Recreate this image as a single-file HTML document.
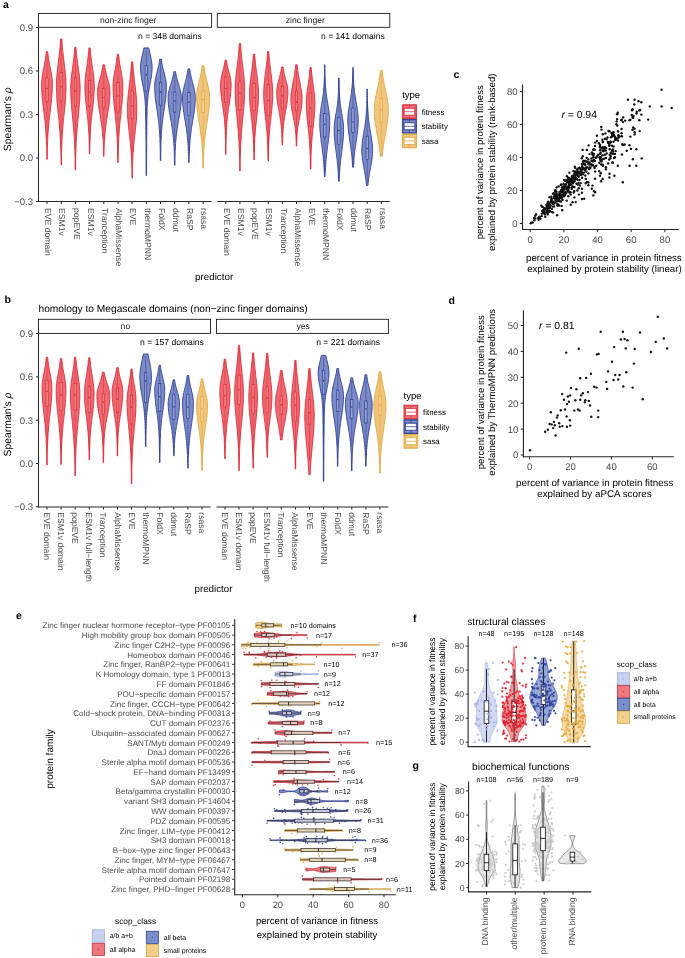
<!DOCTYPE html>
<html><head><meta charset="utf-8"><title>figure</title>
<style>html,body{margin:0;padding:0;background:#fff;}svg{display:block;}text{font-family:'Liberation Sans', Arial, sans-serif;text-rendering:geometricPrecision;}</style>
</head><body>
<svg width="685" height="958" viewBox="0 0 685 958">
<rect x="0" y="0" width="685" height="958" fill="#ffffff"/>
<text x="3" y="7.9" font-size="10.5" fill="#000" font-weight="bold">a</text>
<rect x="38.5" y="13.4" width="173.1" height="13.9" fill="#ffffff" stroke="#1a1a1a" stroke-width="0.9"/>
<text x="128.2" y="22.8" font-size="8.6" fill="#1a1a1a" text-anchor="middle">non-zinc finger</text>
<text x="201.8" y="38.7" font-size="8.6" fill="#000" text-anchor="end">n = 348 domains</text>
<path d="M47.7,51.6 L47.9,53.4 L48.1,55.2 L48.3,57 L48.6,58.8 L48.9,60.6 L49.2,62.4 L49.5,64.2 L49.9,66 L50.2,67.8 L50.6,69.6 L50.9,71.3 L51.3,73.1 L51.6,74.9 L51.8,76.7 L52.1,78.5 L52.2,80.3 L52.4,82.1 L52.4,83.9 L52.4,85.7 L52.4,87.5 L52.3,89.3 L52.2,91.1 L52.1,92.9 L52,94.7 L51.9,96.5 L51.7,98.3 L51.5,100.1 L51.4,101.9 L51.1,103.7 L50.9,105.5 L50.7,107.2 L50.5,109 L50.3,110.8 L50.1,112.6 L49.9,114.4 L49.6,116.2 L49.4,118 L49.2,119.8 L49,121.6 L48.9,123.4 L48.7,125.2 L48.5,127 L48.4,128.8 L48.3,130.6 L48.1,132.4 L48,134.2 L47.9,136 L47.8,137.8 L47.7,139.6 L47.6,141.4 L47.6,143.1 L47.5,144.9 L47.4,146.7 L47.4,148.5 L47.4,150.3 L47.3,152.1 L47.3,153.9 L47.3,155.7 L47.3,157.5 L47.3,159.3 L46.8,159.3 L46.8,157.5 L46.8,155.7 L46.7,153.9 L46.7,152.1 L46.7,150.3 L46.6,148.5 L46.6,146.7 L46.5,144.9 L46.5,143.1 L46.4,141.4 L46.3,139.6 L46.2,137.8 L46.1,136 L46,134.2 L45.9,132.4 L45.8,130.6 L45.6,128.8 L45.5,127 L45.3,125.2 L45.2,123.4 L45,121.6 L44.8,119.8 L44.6,118 L44.4,116.2 L44.2,114.4 L44,112.6 L43.7,110.8 L43.5,109 L43.3,107.2 L43.1,105.5 L42.9,103.7 L42.7,101.9 L42.5,100.1 L42.3,98.3 L42.1,96.5 L42,94.7 L41.9,92.9 L41.8,91.1 L41.7,89.3 L41.6,87.5 L41.6,85.7 L41.6,83.9 L41.7,82.1 L41.8,80.3 L42,78.5 L42.2,76.7 L42.5,74.9 L42.8,73.1 L43.1,71.3 L43.4,69.6 L43.8,67.8 L44.2,66 L44.5,64.2 L44.8,62.4 L45.1,60.6 L45.4,58.8 L45.7,57 L45.9,55.2 L46.1,53.4 L46.3,51.6Z" fill="#ee6a72" stroke="#dc2430" stroke-width="0.85" stroke-linejoin="round"/>
<line x1="47" y1="53.6" x2="47" y2="77.9" stroke="#dc2430" stroke-width="0.5"/>
<line x1="47" y1="101.4" x2="47" y2="136.7" stroke="#dc2430" stroke-width="0.5"/>
<rect x="45.8" y="77.9" width="2.4" height="23.5" fill="#f07f86" stroke="#dc2430" stroke-width="0.6"/>
<circle cx="47" cy="88.6" r="0.75" fill="#dc2430"/>
<line x1="47" y1="201.5" x2="47" y2="204" stroke="#262626" stroke-width="1"/>
<text x="45.2" y="208.1" font-size="8.6" fill="#4d4d4d" transform="rotate(90 45.2 208.1)">EVE domain</text>
<path d="M61.9,39 L62,41.1 L62.1,43.2 L62.3,45.3 L62.4,47.4 L62.6,49.5 L62.8,51.6 L63.1,53.7 L63.3,55.8 L63.5,57.9 L63.8,60 L64,62.1 L64.3,64.2 L64.5,66.3 L64.8,68.4 L65,70.5 L65.3,72.6 L65.4,74.7 L65.6,76.8 L65.8,78.9 L65.9,81 L66,83.1 L66,85.2 L66,87.3 L66,89.4 L65.9,91.5 L65.8,93.6 L65.7,95.7 L65.6,97.8 L65.5,99.9 L65.3,102 L65.1,104 L64.9,106.1 L64.7,108.2 L64.5,110.3 L64.3,112.4 L64.1,114.5 L63.8,116.6 L63.6,118.7 L63.4,120.8 L63.2,122.9 L63,125 L62.9,127.1 L62.7,129.2 L62.5,131.3 L62.4,133.4 L62.3,135.5 L62.1,137.6 L62,139.7 L61.9,141.8 L61.8,143.9 L61.8,146 L61.7,148.1 L61.6,150.2 L61.6,152.3 L61.5,154.4 L61.5,156.5 L61.5,158.6 L61.5,160.7 L61.5,162.8 L61.5,164.9 L61,164.9 L61,162.8 L61,160.7 L61,158.6 L60.9,156.5 L60.9,154.4 L60.8,152.3 L60.8,150.2 L60.7,148.1 L60.6,146 L60.6,143.9 L60.5,141.8 L60.4,139.7 L60.3,137.6 L60.1,135.5 L60,133.4 L59.9,131.3 L59.7,129.2 L59.5,127.1 L59.4,125 L59.2,122.9 L59,120.8 L58.8,118.7 L58.6,116.6 L58.3,114.5 L58.1,112.4 L57.9,110.3 L57.7,108.2 L57.5,106.1 L57.3,104 L57.1,102 L56.9,99.9 L56.8,97.8 L56.7,95.7 L56.6,93.6 L56.5,91.5 L56.4,89.4 L56.4,87.3 L56.4,85.2 L56.4,83.1 L56.5,81 L56.6,78.9 L56.8,76.8 L57,74.7 L57.2,72.6 L57.4,70.5 L57.6,68.4 L57.9,66.3 L58.1,64.2 L58.4,62.1 L58.6,60 L58.9,57.9 L59.1,55.8 L59.3,53.7 L59.6,51.6 L59.8,49.5 L60,47.4 L60.1,45.3 L60.3,43.2 L60.4,41.1 L60.6,39Z" fill="#ee6a72" stroke="#dc2430" stroke-width="0.85" stroke-linejoin="round"/>
<line x1="61.2" y1="41" x2="61.2" y2="72.3" stroke="#dc2430" stroke-width="0.5"/>
<line x1="61.2" y1="101" x2="61.2" y2="144.1" stroke="#dc2430" stroke-width="0.5"/>
<rect x="60" y="72.3" width="2.4" height="28.7" fill="#f07f86" stroke="#dc2430" stroke-width="0.6"/>
<circle cx="61.2" cy="86.7" r="0.75" fill="#dc2430"/>
<line x1="61.2" y1="201.5" x2="61.2" y2="204" stroke="#262626" stroke-width="1"/>
<text x="59.4" y="208.1" font-size="8.6" fill="#4d4d4d" transform="rotate(90 59.4 208.1)">ESM1v</text>
<path d="M76,47.3 L76.2,49.3 L76.3,51.4 L76.5,53.4 L76.7,55.5 L76.9,57.5 L77.2,59.6 L77.4,61.6 L77.7,63.7 L78,65.7 L78.2,67.8 L78.5,69.8 L78.8,71.8 L79.1,73.9 L79.3,75.9 L79.5,78 L79.7,80 L79.9,82.1 L80,84.1 L80.1,86.2 L80.1,88.2 L80.1,90.2 L80,92.3 L80,94.3 L79.9,96.4 L79.8,98.4 L79.7,100.5 L79.5,102.5 L79.4,104.6 L79.2,106.6 L79,108.7 L78.8,110.7 L78.7,112.7 L78.5,114.8 L78.3,116.8 L78.1,118.9 L77.9,120.9 L77.7,123 L77.5,125 L77.3,127.1 L77.1,129.1 L77,131.1 L76.8,133.2 L76.7,135.2 L76.5,137.3 L76.4,139.3 L76.3,141.4 L76.2,143.4 L76.1,145.5 L76,147.5 L76,149.6 L75.9,151.6 L75.8,153.6 L75.8,155.7 L75.7,157.7 L75.7,159.8 L75.7,161.8 L75.6,163.9 L75.6,165.9 L75.6,168 L75.6,170 L75.1,170 L75.1,168 L75.1,165.9 L75.1,163.9 L75.1,161.8 L75.1,159.8 L75,157.7 L75,155.7 L74.9,153.6 L74.9,151.6 L74.8,149.6 L74.7,147.5 L74.7,145.5 L74.6,143.4 L74.5,141.4 L74.4,139.3 L74.2,137.3 L74.1,135.2 L74,133.2 L73.8,131.1 L73.6,129.1 L73.5,127.1 L73.3,125 L73.1,123 L72.9,120.9 L72.7,118.9 L72.5,116.8 L72.3,114.8 L72.1,112.7 L71.9,110.7 L71.7,108.7 L71.6,106.6 L71.4,104.6 L71.2,102.5 L71.1,100.5 L71,98.4 L70.9,96.4 L70.8,94.3 L70.7,92.3 L70.7,90.2 L70.7,88.2 L70.7,86.2 L70.8,84.1 L70.9,82.1 L71.1,80 L71.2,78 L71.5,75.9 L71.7,73.9 L72,71.8 L72.3,69.8 L72.5,67.8 L72.8,65.7 L73.1,63.7 L73.4,61.6 L73.6,59.6 L73.9,57.5 L74.1,55.5 L74.3,53.4 L74.5,51.4 L74.6,49.3 L74.8,47.3Z" fill="#ee6a72" stroke="#dc2430" stroke-width="0.85" stroke-linejoin="round"/>
<line x1="75.4" y1="49.3" x2="75.4" y2="77.9" stroke="#dc2430" stroke-width="0.5"/>
<line x1="75.4" y1="106.1" x2="75.4" y2="148.4" stroke="#dc2430" stroke-width="0.5"/>
<rect x="74.2" y="77.9" width="2.4" height="28.2" fill="#f07f86" stroke="#dc2430" stroke-width="0.6"/>
<circle cx="75.4" cy="91" r="0.75" fill="#dc2430"/>
<line x1="75.4" y1="201.5" x2="75.4" y2="204" stroke="#262626" stroke-width="1"/>
<text x="73.6" y="208.1" font-size="8.6" fill="#4d4d4d" transform="rotate(90 73.6 208.1)">popEVE</text>
<path d="M90.2,47.9 L90.3,49.7 L90.5,51.4 L90.6,53.2 L90.8,55 L91,56.7 L91.2,58.5 L91.5,60.3 L91.7,62 L91.9,63.8 L92.2,65.6 L92.5,67.4 L92.7,69.1 L93,70.9 L93.2,72.7 L93.5,74.4 L93.7,76.2 L93.8,78 L94,79.7 L94.1,81.5 L94.2,83.3 L94.3,85 L94.3,86.8 L94.3,88.6 L94.2,90.3 L94.1,92.1 L94,93.9 L93.9,95.6 L93.8,97.4 L93.6,99.2 L93.5,100.9 L93.3,102.7 L93.1,104.5 L92.9,106.3 L92.7,108 L92.5,109.8 L92.3,111.6 L92.1,113.3 L91.9,115.1 L91.7,116.9 L91.5,118.6 L91.3,120.4 L91.1,122.2 L91,123.9 L90.8,125.7 L90.7,127.5 L90.6,129.2 L90.5,131 L90.4,132.8 L90.3,134.5 L90.2,136.3 L90.1,138.1 L90,139.9 L90,141.6 L89.9,143.4 L89.9,145.2 L89.9,146.9 L89.8,148.7 L89.8,150.5 L89.8,152.2 L89.8,154 L89.3,154 L89.3,152.2 L89.3,150.5 L89.3,148.7 L89.3,146.9 L89.3,145.2 L89.2,143.4 L89.2,141.6 L89.1,139.9 L89,138.1 L89,136.3 L88.9,134.5 L88.8,132.8 L88.7,131 L88.6,129.2 L88.5,127.5 L88.3,125.7 L88.2,123.9 L88,122.2 L87.9,120.4 L87.7,118.6 L87.5,116.9 L87.3,115.1 L87.1,113.3 L86.9,111.6 L86.7,109.8 L86.5,108 L86.3,106.3 L86.1,104.5 L85.9,102.7 L85.7,100.9 L85.5,99.2 L85.4,97.4 L85.2,95.6 L85.1,93.9 L85,92.1 L84.9,90.3 L84.9,88.6 L84.9,86.8 L84.9,85 L84.9,83.3 L85,81.5 L85.2,79.7 L85.3,78 L85.5,76.2 L85.7,74.4 L85.9,72.7 L86.2,70.9 L86.4,69.1 L86.7,67.4 L87,65.6 L87.2,63.8 L87.5,62 L87.7,60.3 L87.9,58.5 L88.1,56.7 L88.3,55 L88.5,53.2 L88.7,51.4 L88.8,49.7 L88.9,47.9Z" fill="#ee6a72" stroke="#dc2430" stroke-width="0.85" stroke-linejoin="round"/>
<line x1="89.6" y1="49.9" x2="89.6" y2="80.4" stroke="#dc2430" stroke-width="0.5"/>
<line x1="89.6" y1="106.1" x2="89.6" y2="144.6" stroke="#dc2430" stroke-width="0.5"/>
<rect x="88.4" y="80.4" width="2.4" height="25.7" fill="#f07f86" stroke="#dc2430" stroke-width="0.6"/>
<circle cx="89.6" cy="92" r="0.75" fill="#dc2430"/>
<line x1="89.6" y1="201.5" x2="89.6" y2="204" stroke="#262626" stroke-width="1"/>
<text x="87.8" y="208.1" font-size="8.6" fill="#4d4d4d" transform="rotate(90 87.8 208.1)">ESM1v</text>
<path d="M104.6,64.8 L104.8,66.3 L105,67.8 L105.3,69.4 L105.6,70.9 L106,72.4 L106.3,74 L106.7,75.5 L107.1,77 L107.6,78.5 L108,80 L108.4,81.6 L108.8,83.1 L109.1,84.6 L109.4,86.2 L109.7,87.7 L109.8,89.2 L109.9,90.7 L110,92.2 L109.9,93.8 L109.9,95.3 L109.8,96.8 L109.7,98.3 L109.6,99.9 L109.4,101.4 L109.3,102.9 L109.1,104.5 L108.9,106 L108.7,107.5 L108.4,109 L108.2,110.6 L107.9,112.1 L107.7,113.6 L107.4,115.1 L107.2,116.7 L107,118.2 L106.7,119.7 L106.5,121.2 L106.3,122.8 L106.1,124.3 L105.9,125.8 L105.7,127.3 L105.5,128.9 L105.3,130.4 L105.2,131.9 L105,133.4 L104.9,135 L104.8,136.5 L104.7,138 L104.6,139.5 L104.5,141.1 L104.4,142.6 L104.3,144.1 L104.3,145.6 L104.2,147.2 L104.2,148.7 L104.1,150.2 L104.1,151.7 L104,153.2 L104,154.8 L104,156.3 L103.5,156.3 L103.5,154.8 L103.5,153.2 L103.5,151.7 L103.4,150.2 L103.4,148.7 L103.3,147.2 L103.3,145.6 L103.2,144.1 L103.1,142.6 L103.1,141.1 L103,139.5 L102.9,138 L102.8,136.5 L102.6,135 L102.5,133.4 L102.4,131.9 L102.2,130.4 L102.1,128.9 L101.9,127.3 L101.7,125.8 L101.5,124.3 L101.3,122.8 L101,121.2 L100.8,119.7 L100.6,118.2 L100.3,116.7 L100.1,115.1 L99.8,113.6 L99.6,112.1 L99.3,110.6 L99.1,109 L98.9,107.5 L98.7,106 L98.4,104.5 L98.3,102.9 L98.1,101.4 L97.9,99.9 L97.8,98.3 L97.7,96.8 L97.6,95.3 L97.6,93.8 L97.6,92.2 L97.6,90.7 L97.7,89.2 L97.9,87.7 L98.1,86.2 L98.4,84.6 L98.8,83.1 L99.1,81.6 L99.6,80 L100,78.5 L100.4,77 L100.8,75.5 L101.2,74 L101.6,72.4 L101.9,70.9 L102.2,69.4 L102.5,67.8 L102.7,66.3 L102.9,64.8Z" fill="#ee6a72" stroke="#dc2430" stroke-width="0.85" stroke-linejoin="round"/>
<line x1="103.8" y1="66.8" x2="103.8" y2="88.2" stroke="#dc2430" stroke-width="0.5"/>
<line x1="103.8" y1="108" x2="103.8" y2="137.7" stroke="#dc2430" stroke-width="0.5"/>
<rect x="102.6" y="88.2" width="2.4" height="19.8" fill="#f07f86" stroke="#dc2430" stroke-width="0.6"/>
<circle cx="103.8" cy="97.6" r="0.75" fill="#dc2430"/>
<line x1="103.8" y1="201.5" x2="103.8" y2="204" stroke="#262626" stroke-width="1"/>
<text x="102" y="208.1" font-size="8.6" fill="#4d4d4d" transform="rotate(90 102 208.1)">Tranception</text>
<path d="M118.6,54.4 L118.8,56.2 L119,58 L119.2,59.8 L119.4,61.6 L119.7,63.4 L120,65.2 L120.3,67 L120.6,68.8 L121,70.6 L121.3,72.4 L121.6,74.2 L121.9,76 L122.2,77.8 L122.4,79.6 L122.6,81.4 L122.8,83.2 L122.8,85 L122.9,86.8 L122.8,88.6 L122.8,90.4 L122.7,92.2 L122.7,94 L122.6,95.8 L122.4,97.6 L122.3,99.4 L122.2,101.2 L122,103 L121.8,104.8 L121.6,106.6 L121.4,108.4 L121.2,110.3 L121.1,112.1 L120.9,113.9 L120.7,115.7 L120.5,117.5 L120.3,119.3 L120.1,121.1 L119.9,122.9 L119.8,124.7 L119.6,126.5 L119.4,128.3 L119.3,130.1 L119.2,131.9 L119.1,133.7 L118.9,135.5 L118.8,137.3 L118.7,139.1 L118.7,140.9 L118.6,142.7 L118.5,144.5 L118.5,146.3 L118.4,148.1 L118.3,149.9 L118.3,151.7 L118.3,153.5 L118.2,155.3 L118.2,157.1 L118.2,158.9 L118.2,160.7 L118.2,162.5 L117.7,162.5 L117.7,160.7 L117.7,158.9 L117.7,157.1 L117.7,155.3 L117.6,153.5 L117.6,151.7 L117.6,149.9 L117.5,148.1 L117.5,146.3 L117.4,144.5 L117.3,142.7 L117.2,140.9 L117.2,139.1 L117.1,137.3 L117,135.5 L116.9,133.7 L116.7,131.9 L116.6,130.1 L116.5,128.3 L116.3,126.5 L116.2,124.7 L116,122.9 L115.8,121.1 L115.6,119.3 L115.4,117.5 L115.3,115.7 L115.1,113.9 L114.9,112.1 L114.7,110.3 L114.5,108.4 L114.3,106.6 L114.1,104.8 L113.9,103 L113.8,101.2 L113.6,99.4 L113.5,97.6 L113.4,95.8 L113.3,94 L113.2,92.2 L113.1,90.4 L113.1,88.6 L113.1,86.8 L113.1,85 L113.2,83.2 L113.3,81.4 L113.5,79.6 L113.7,77.8 L114,76 L114.3,74.2 L114.6,72.4 L114.9,70.6 L115.3,68.8 L115.6,67 L115.9,65.2 L116.2,63.4 L116.5,61.6 L116.7,59.8 L116.9,58 L117.1,56.2 L117.3,54.4Z" fill="#ee6a72" stroke="#dc2430" stroke-width="0.85" stroke-linejoin="round"/>
<line x1="118" y1="56.4" x2="118" y2="82.6" stroke="#dc2430" stroke-width="0.5"/>
<line x1="118" y1="112" x2="118" y2="156.1" stroke="#dc2430" stroke-width="0.5"/>
<rect x="116.8" y="82.6" width="2.4" height="29.4" fill="#f07f86" stroke="#dc2430" stroke-width="0.6"/>
<circle cx="118" cy="96.1" r="0.75" fill="#dc2430"/>
<line x1="118" y1="201.5" x2="118" y2="204" stroke="#262626" stroke-width="1"/>
<text x="116.2" y="208.1" font-size="8.6" fill="#4d4d4d" transform="rotate(90 116.2 208.1)">AlphaMissense</text>
<path d="M132.8,61.9 L132.9,63.8 L133,65.8 L133.2,67.7 L133.3,69.6 L133.5,71.6 L133.7,73.5 L133.9,75.5 L134.1,77.4 L134.3,79.3 L134.5,81.3 L134.7,83.2 L135,85.1 L135.2,87.1 L135.4,89 L135.7,90.9 L135.9,92.9 L136.1,94.8 L136.3,96.8 L136.4,98.7 L136.6,100.6 L136.7,102.6 L136.8,104.5 L136.8,106.4 L136.8,108.4 L136.8,110.3 L136.8,112.3 L136.7,114.2 L136.6,116.1 L136.5,118.1 L136.4,120 L136.2,121.9 L136,123.9 L135.8,125.8 L135.6,127.7 L135.4,129.7 L135.2,131.6 L135,133.6 L134.7,135.5 L134.5,137.4 L134.3,139.4 L134.1,141.3 L133.9,143.2 L133.7,145.2 L133.6,147.1 L133.4,149 L133.3,151 L133.1,152.9 L133,154.9 L132.9,156.8 L132.8,158.7 L132.7,160.7 L132.6,162.6 L132.6,164.5 L132.5,166.5 L132.5,168.4 L132.4,170.4 L132.4,172.3 L132.4,174.2 L132.4,176.2 L132.4,178.1 L131.9,178.1 L131.9,176.2 L131.9,174.2 L131.9,172.3 L131.9,170.4 L131.8,168.4 L131.8,166.5 L131.7,164.5 L131.6,162.6 L131.6,160.7 L131.5,158.7 L131.4,156.8 L131.3,154.9 L131.2,152.9 L131,151 L130.9,149 L130.7,147.1 L130.6,145.2 L130.4,143.2 L130.2,141.3 L130,139.4 L129.8,137.4 L129.5,135.5 L129.3,133.6 L129.1,131.6 L128.9,129.7 L128.7,127.7 L128.5,125.8 L128.3,123.9 L128.1,121.9 L127.9,120 L127.8,118.1 L127.6,116.1 L127.6,114.2 L127.5,112.3 L127.5,110.3 L127.4,108.4 L127.5,106.4 L127.5,104.5 L127.6,102.6 L127.7,100.6 L127.9,98.7 L128,96.8 L128.2,94.8 L128.4,92.9 L128.6,90.9 L128.9,89 L129.1,87.1 L129.3,85.1 L129.6,83.2 L129.8,81.3 L130,79.3 L130.2,77.4 L130.4,75.5 L130.6,73.5 L130.8,71.6 L131,69.6 L131.1,67.7 L131.3,65.8 L131.4,63.8 L131.5,61.9Z" fill="#ee6a72" stroke="#dc2430" stroke-width="0.85" stroke-linejoin="round"/>
<line x1="132.1" y1="63.9" x2="132.1" y2="91" stroke="#dc2430" stroke-width="0.5"/>
<line x1="132.1" y1="118.3" x2="132.1" y2="159.2" stroke="#dc2430" stroke-width="0.5"/>
<rect x="130.9" y="91" width="2.4" height="27.3" fill="#f07f86" stroke="#dc2430" stroke-width="0.6"/>
<circle cx="132.1" cy="105.7" r="0.75" fill="#dc2430"/>
<line x1="132.1" y1="201.5" x2="132.1" y2="204" stroke="#262626" stroke-width="1"/>
<text x="130.3" y="208.1" font-size="8.6" fill="#4d4d4d" transform="rotate(90 130.3 208.1)">EVE</text>
<path d="M148.7,47.9 L149.2,50 L149.7,52.2 L150.2,54.3 L150.7,56.4 L151.1,58.5 L151.5,60.7 L151.8,62.8 L152,64.9 L152.1,67.1 L152.1,69.2 L152,71.3 L151.8,73.4 L151.5,75.6 L151.2,77.7 L150.8,79.8 L150.4,82 L150,84.1 L149.6,86.2 L149.2,88.3 L148.9,90.5 L148.5,92.6 L148.2,94.7 L148,96.9 L147.8,99 L147.6,101.1 L147.4,103.2 L147.3,105.4 L147.2,107.5 L147.1,109.6 L147.1,111.8 L147,113.9 L147,116 L146.9,118.1 L146.9,120.3 L146.9,122.4 L146.9,124.5 L146.8,126.6 L146.8,128.8 L146.8,130.9 L146.8,133 L146.8,135.2 L146.7,137.3 L146.7,139.4 L146.7,141.5 L146.7,143.7 L146.7,145.8 L146.7,147.9 L146.6,150.1 L146.6,152.2 L146.6,154.3 L146.6,156.4 L146.6,158.6 L146.6,160.7 L146.6,162.8 L146.6,165 L146.6,167.1 L146.6,169.2 L146.6,171.3 L146.6,173.5 L146.6,175.6 L146.1,175.6 L146.1,173.5 L146.1,171.3 L146.1,169.2 L146.1,167.1 L146.1,165 L146.1,162.8 L146.1,160.7 L146.1,158.6 L146.1,156.4 L146.1,154.3 L146,152.2 L146,150.1 L146,147.9 L146,145.8 L146,143.7 L146,141.5 L145.9,139.4 L145.9,137.3 L145.9,135.2 L145.9,133 L145.9,130.9 L145.8,128.8 L145.8,126.6 L145.8,124.5 L145.8,122.4 L145.7,120.3 L145.7,118.1 L145.7,116 L145.6,113.9 L145.6,111.8 L145.5,109.6 L145.5,107.5 L145.4,105.4 L145.2,103.2 L145.1,101.1 L144.9,99 L144.7,96.9 L144.4,94.7 L144.1,92.6 L143.8,90.5 L143.4,88.3 L143.1,86.2 L142.6,84.1 L142.2,82 L141.8,79.8 L141.5,77.7 L141.1,75.6 L140.9,73.4 L140.7,71.3 L140.6,69.2 L140.5,67.1 L140.6,64.9 L140.8,62.8 L141.1,60.7 L141.5,58.5 L142,56.4 L142.5,54.3 L143,52.2 L143.5,50 L143.9,47.9Z" fill="#7b8bc8" stroke="#28378c" stroke-width="0.85" stroke-linejoin="round"/>
<line x1="146.3" y1="49.9" x2="146.3" y2="65.7" stroke="#28378c" stroke-width="0.5"/>
<line x1="146.3" y1="91" x2="146.3" y2="128.9" stroke="#28378c" stroke-width="0.5"/>
<rect x="145.1" y="65.7" width="2.4" height="25.3" fill="#93a1d3" stroke="#28378c" stroke-width="0.6"/>
<circle cx="146.3" cy="74.7" r="0.75" fill="#28378c"/>
<line x1="146.3" y1="201.5" x2="146.3" y2="204" stroke="#262626" stroke-width="1"/>
<text x="144.5" y="208.1" font-size="8.6" fill="#4d4d4d" transform="rotate(90 144.5 208.1)">thermoMPNN</text>
<path d="M161.3,59.1 L161.5,60.8 L161.8,62.5 L162.1,64.2 L162.4,65.9 L162.8,67.6 L163.2,69.2 L163.6,70.9 L164.1,72.6 L164.5,74.3 L164.9,76 L165.3,77.7 L165.7,79.4 L166,81.1 L166.2,82.8 L166.4,84.5 L166.4,86.2 L166.4,87.9 L166.4,89.5 L166.3,91.2 L166.2,92.9 L166.1,94.6 L165.9,96.3 L165.7,98 L165.5,99.7 L165.3,101.4 L165.1,103.1 L164.8,104.8 L164.6,106.5 L164.3,108.2 L164.1,109.8 L163.8,111.5 L163.6,113.2 L163.3,114.9 L163.1,116.6 L162.9,118.3 L162.7,120 L162.5,121.7 L162.3,123.4 L162.1,125.1 L161.9,126.8 L161.8,128.5 L161.7,130.2 L161.5,131.8 L161.4,133.5 L161.3,135.2 L161.3,136.9 L161.2,138.6 L161.1,140.3 L161,142 L161,143.7 L160.9,145.4 L160.9,147.1 L160.9,148.8 L160.8,150.4 L160.8,152.1 L160.8,153.8 L160.8,155.5 L160.8,157.2 L160.8,158.9 L160.8,160.6 L160.3,160.6 L160.3,158.9 L160.3,157.2 L160.3,155.5 L160.3,153.8 L160.3,152.1 L160.2,150.4 L160.2,148.8 L160.2,147.1 L160.1,145.4 L160.1,143.7 L160,142 L159.9,140.3 L159.9,138.6 L159.8,136.9 L159.7,135.2 L159.6,133.5 L159.5,131.8 L159.4,130.2 L159.2,128.5 L159.1,126.8 L158.9,125.1 L158.8,123.4 L158.6,121.7 L158.4,120 L158.2,118.3 L157.9,116.6 L157.7,114.9 L157.5,113.2 L157.2,111.5 L157,109.8 L156.7,108.2 L156.5,106.5 L156.2,104.8 L156,103.1 L155.7,101.4 L155.5,99.7 L155.3,98 L155.1,96.3 L155,94.6 L154.9,92.9 L154.7,91.2 L154.7,89.5 L154.6,87.9 L154.6,86.2 L154.7,84.5 L154.8,82.8 L155.1,81.1 L155.3,79.4 L155.7,77.7 L156.1,76 L156.5,74.3 L157,72.6 L157.4,70.9 L157.8,69.2 L158.2,67.6 L158.6,65.9 L159,64.2 L159.3,62.5 L159.5,60.8 L159.7,59.1Z" fill="#7b8bc8" stroke="#28378c" stroke-width="0.85" stroke-linejoin="round"/>
<line x1="160.5" y1="61.1" x2="160.5" y2="82.2" stroke="#28378c" stroke-width="0.5"/>
<line x1="160.5" y1="105.2" x2="160.5" y2="139.7" stroke="#28378c" stroke-width="0.5"/>
<rect x="159.3" y="82.2" width="2.4" height="23" fill="#93a1d3" stroke="#28378c" stroke-width="0.6"/>
<circle cx="160.5" cy="92" r="0.75" fill="#28378c"/>
<line x1="160.5" y1="201.5" x2="160.5" y2="204" stroke="#262626" stroke-width="1"/>
<text x="158.7" y="208.1" font-size="8.6" fill="#4d4d4d" transform="rotate(90 158.7 208.1)">FoldX</text>
<path d="M175.6,71.7 L175.8,73.3 L176.1,74.8 L176.4,76.4 L176.8,77.9 L177.2,79.5 L177.6,81.1 L178.1,82.6 L178.6,84.2 L179,85.7 L179.5,87.3 L180,88.9 L180.4,90.4 L180.7,92 L181,93.5 L181.2,95.1 L181.3,96.7 L181.3,98.2 L181.3,99.8 L181.2,101.3 L181.1,102.9 L181,104.5 L180.8,106 L180.7,107.6 L180.5,109.1 L180.2,110.7 L180,112.3 L179.7,113.8 L179.5,115.4 L179.2,116.9 L178.9,118.5 L178.6,120.1 L178.4,121.6 L178.1,123.2 L177.8,124.7 L177.6,126.3 L177.3,127.9 L177.1,129.4 L176.9,131 L176.7,132.5 L176.5,134.1 L176.3,135.7 L176.1,137.2 L176,138.8 L175.9,140.3 L175.7,141.9 L175.6,143.5 L175.5,145 L175.4,146.6 L175.4,148.1 L175.3,149.7 L175.2,151.3 L175.2,152.8 L175.1,154.4 L175.1,155.9 L175,157.5 L175,159.1 L175,160.6 L175,162.2 L175,163.7 L175,165.3 L174.5,165.3 L174.5,163.7 L174.5,162.2 L174.4,160.6 L174.4,159.1 L174.4,157.5 L174.3,155.9 L174.3,154.4 L174.3,152.8 L174.2,151.3 L174.1,149.7 L174.1,148.1 L174,146.6 L173.9,145 L173.8,143.5 L173.7,141.9 L173.6,140.3 L173.4,138.8 L173.3,137.2 L173.1,135.7 L172.9,134.1 L172.7,132.5 L172.5,131 L172.3,129.4 L172.1,127.9 L171.8,126.3 L171.6,124.7 L171.3,123.2 L171.1,121.6 L170.8,120.1 L170.5,118.5 L170.2,116.9 L170,115.4 L169.7,113.8 L169.4,112.3 L169.2,110.7 L169,109.1 L168.8,107.6 L168.6,106 L168.4,104.5 L168.3,102.9 L168.2,101.3 L168.1,99.8 L168.1,98.2 L168.1,96.7 L168.2,95.1 L168.4,93.5 L168.7,92 L169.1,90.4 L169.5,88.9 L169.9,87.3 L170.4,85.7 L170.9,84.2 L171.3,82.6 L171.8,81.1 L172.2,79.5 L172.6,77.9 L173,76.4 L173.3,74.8 L173.6,73.3 L173.8,71.7Z" fill="#7b8bc8" stroke="#28378c" stroke-width="0.85" stroke-linejoin="round"/>
<line x1="174.7" y1="73.7" x2="174.7" y2="92" stroke="#28378c" stroke-width="0.5"/>
<line x1="174.7" y1="112.1" x2="174.7" y2="142.2" stroke="#28378c" stroke-width="0.5"/>
<rect x="173.5" y="92" width="2.4" height="20.1" fill="#93a1d3" stroke="#28378c" stroke-width="0.6"/>
<circle cx="174.7" cy="101" r="0.75" fill="#28378c"/>
<line x1="174.7" y1="201.5" x2="174.7" y2="204" stroke="#262626" stroke-width="1"/>
<text x="172.9" y="208.1" font-size="8.6" fill="#4d4d4d" transform="rotate(90 172.9 208.1)">ddmut</text>
<path d="M189.8,68.9 L190,70.5 L190.2,72 L190.5,73.6 L190.8,75.1 L191.1,76.7 L191.5,78.3 L191.9,79.8 L192.3,81.4 L192.7,82.9 L193.1,84.5 L193.5,86.1 L193.9,87.6 L194.3,89.2 L194.6,90.7 L194.9,92.3 L195.1,93.9 L195.2,95.4 L195.3,97 L195.3,98.5 L195.3,100.1 L195.2,101.7 L195.1,103.2 L195,104.8 L194.8,106.3 L194.7,107.9 L194.5,109.5 L194.3,111 L194.1,112.6 L193.8,114.1 L193.6,115.7 L193.3,117.3 L193.1,118.8 L192.8,120.4 L192.5,121.9 L192.3,123.5 L192,125.1 L191.8,126.6 L191.5,128.2 L191.3,129.7 L191.1,131.3 L190.9,132.9 L190.7,134.4 L190.5,136 L190.4,137.5 L190.2,139.1 L190.1,140.7 L190,142.2 L189.8,143.8 L189.7,145.3 L189.6,146.9 L189.6,148.5 L189.5,150 L189.4,151.6 L189.4,153.1 L189.3,154.7 L189.3,156.3 L189.2,157.8 L189.2,159.4 L189.1,160.9 L189.1,162.5 L188.6,162.5 L188.6,160.9 L188.6,159.4 L188.6,157.8 L188.5,156.3 L188.5,154.7 L188.4,153.1 L188.4,151.6 L188.3,150 L188.2,148.5 L188.2,146.9 L188.1,145.3 L188,143.8 L187.8,142.2 L187.7,140.7 L187.6,139.1 L187.4,137.5 L187.3,136 L187.1,134.4 L186.9,132.9 L186.7,131.3 L186.5,129.7 L186.3,128.2 L186,126.6 L185.8,125.1 L185.5,123.5 L185.3,121.9 L185,120.4 L184.7,118.8 L184.5,117.3 L184.2,115.7 L184,114.1 L183.7,112.6 L183.5,111 L183.3,109.5 L183.1,107.9 L183,106.3 L182.8,104.8 L182.7,103.2 L182.6,101.7 L182.5,100.1 L182.5,98.5 L182.5,97 L182.6,95.4 L182.7,93.9 L182.9,92.3 L183.2,90.7 L183.5,89.2 L183.9,87.6 L184.3,86.1 L184.7,84.5 L185.1,82.9 L185.5,81.4 L185.9,79.8 L186.3,78.3 L186.7,76.7 L187,75.1 L187.3,73.6 L187.6,72 L187.8,70.5 L188,68.9Z" fill="#7b8bc8" stroke="#28378c" stroke-width="0.85" stroke-linejoin="round"/>
<line x1="188.9" y1="70.9" x2="188.9" y2="92.6" stroke="#28378c" stroke-width="0.5"/>
<line x1="188.9" y1="115.5" x2="188.9" y2="149.9" stroke="#28378c" stroke-width="0.5"/>
<rect x="187.7" y="92.6" width="2.4" height="22.9" fill="#93a1d3" stroke="#28378c" stroke-width="0.6"/>
<circle cx="188.9" cy="102.3" r="0.75" fill="#28378c"/>
<line x1="188.9" y1="201.5" x2="188.9" y2="204" stroke="#262626" stroke-width="1"/>
<text x="187.1" y="208.1" font-size="8.6" fill="#4d4d4d" transform="rotate(90 187.1 208.1)">RaSP</text>
<path d="M204,65.7 L204.2,67.4 L204.4,69.1 L204.7,70.8 L205,72.5 L205.3,74.2 L205.7,75.9 L206.1,77.6 L206.5,79.4 L206.9,81.1 L207.3,82.8 L207.7,84.5 L208.1,86.2 L208.5,87.9 L208.8,89.6 L209.1,91.3 L209.3,93 L209.5,94.7 L209.6,96.4 L209.6,98.1 L209.6,99.8 L209.5,101.5 L209.4,103.2 L209.3,105 L209.2,106.7 L209,108.4 L208.8,110.1 L208.6,111.8 L208.4,113.5 L208.1,115.2 L207.9,116.9 L207.6,118.6 L207.4,120.3 L207.1,122 L206.8,123.7 L206.6,125.4 L206.3,127.1 L206.1,128.8 L205.8,130.6 L205.6,132.3 L205.4,134 L205.1,135.7 L205,137.4 L204.8,139.1 L204.6,140.8 L204.4,142.5 L204.3,144.2 L204.2,145.9 L204.1,147.6 L203.9,149.3 L203.8,151 L203.8,152.7 L203.7,154.4 L203.6,156.2 L203.6,157.9 L203.5,159.6 L203.5,161.3 L203.4,163 L203.4,164.7 L203.3,166.4 L203.3,168.1 L202.8,168.1 L202.8,166.4 L202.8,164.7 L202.8,163 L202.7,161.3 L202.7,159.6 L202.6,157.9 L202.6,156.2 L202.5,154.4 L202.4,152.7 L202.3,151 L202.2,149.3 L202.1,147.6 L202,145.9 L201.9,144.2 L201.7,142.5 L201.6,140.8 L201.4,139.1 L201.2,137.4 L201,135.7 L200.8,134 L200.6,132.3 L200.4,130.6 L200.1,128.8 L199.9,127.1 L199.6,125.4 L199.3,123.7 L199.1,122 L198.8,120.3 L198.6,118.6 L198.3,116.9 L198,115.2 L197.8,113.5 L197.6,111.8 L197.4,110.1 L197.2,108.4 L197,106.7 L196.9,105 L196.8,103.2 L196.7,101.5 L196.6,99.8 L196.6,98.1 L196.6,96.4 L196.7,94.7 L196.9,93 L197.1,91.3 L197.4,89.6 L197.7,87.9 L198.1,86.2 L198.5,84.5 L198.9,82.8 L199.3,81.1 L199.7,79.4 L200.1,77.6 L200.5,75.9 L200.9,74.2 L201.2,72.5 L201.5,70.8 L201.8,69.1 L202,67.4 L202.2,65.7Z" fill="#f1c57c" stroke="#dea43c" stroke-width="0.85" stroke-linejoin="round"/>
<line x1="203.1" y1="67.7" x2="203.1" y2="91" stroke="#dea43c" stroke-width="0.5"/>
<line x1="203.1" y1="112.7" x2="203.1" y2="145.2" stroke="#dea43c" stroke-width="0.5"/>
<rect x="201.9" y="91" width="2.4" height="21.7" fill="#f4d394" stroke="#dea43c" stroke-width="0.6"/>
<circle cx="203.1" cy="99.5" r="0.75" fill="#dea43c"/>
<line x1="203.1" y1="201.5" x2="203.1" y2="204" stroke="#262626" stroke-width="1"/>
<text x="201.3" y="208.1" font-size="8.6" fill="#4d4d4d" transform="rotate(90 201.3 208.1)">rsasa</text>
<line x1="38.5" y1="201.5" x2="211.6" y2="201.5" stroke="#262626" stroke-width="1"/>
<rect x="217.3" y="13.4" width="172.5" height="13.9" fill="#ffffff" stroke="#1a1a1a" stroke-width="0.9"/>
<text x="305.3" y="22.8" font-size="8.6" fill="#1a1a1a" text-anchor="middle">zinc finger</text>
<text x="384.8" y="38.7" font-size="8.6" fill="#000" text-anchor="end">n = 141 domains</text>
<path d="M226.5,60.1 L226.7,61.7 L226.9,63.2 L227.2,64.8 L227.5,66.4 L227.9,68 L228.3,69.5 L228.7,71.1 L229.1,72.7 L229.5,74.2 L229.9,75.8 L230.3,77.4 L230.6,79 L230.8,80.5 L231,82.1 L231.1,83.7 L231.1,85.2 L231.1,86.8 L231,88.4 L230.9,90 L230.8,91.5 L230.6,93.1 L230.5,94.7 L230.3,96.2 L230.1,97.8 L229.9,99.4 L229.7,101 L229.4,102.5 L229.2,104.1 L229,105.7 L228.7,107.2 L228.5,108.8 L228.3,110.4 L228.1,112 L227.9,113.5 L227.7,115.1 L227.5,116.7 L227.3,118.3 L227.2,119.8 L227,121.4 L226.9,123 L226.8,124.5 L226.7,126.1 L226.6,127.7 L226.5,129.3 L226.4,130.8 L226.3,132.4 L226.3,134 L226.2,135.5 L226.2,137.1 L226.1,138.7 L226.1,140.3 L226.1,141.8 L226.1,143.4 L226,145 L226,146.5 L226,148.1 L226,149.7 L226,151.3 L226,152.8 L226,154.4 L225.5,154.4 L225.5,152.8 L225.5,151.3 L225.5,149.7 L225.5,148.1 L225.5,146.5 L225.5,145 L225.5,143.4 L225.5,141.8 L225.5,140.3 L225.4,138.7 L225.4,137.1 L225.3,135.5 L225.3,134 L225.2,132.4 L225.2,130.8 L225.1,129.3 L225,127.7 L224.9,126.1 L224.8,124.5 L224.7,123 L224.5,121.4 L224.4,119.8 L224.3,118.3 L224.1,116.7 L223.9,115.1 L223.7,113.5 L223.5,112 L223.3,110.4 L223.1,108.8 L222.8,107.2 L222.6,105.7 L222.4,104.1 L222.1,102.5 L221.9,101 L221.7,99.4 L221.5,97.8 L221.3,96.2 L221.1,94.7 L220.9,93.1 L220.8,91.5 L220.7,90 L220.6,88.4 L220.5,86.8 L220.5,85.2 L220.5,83.7 L220.6,82.1 L220.8,80.5 L221,79 L221.3,77.4 L221.7,75.8 L222.1,74.2 L222.5,72.7 L222.9,71.1 L223.3,69.5 L223.7,68 L224,66.4 L224.3,64.8 L224.6,63.2 L224.9,61.7 L225.1,60.1Z" fill="#ee6a72" stroke="#dc2430" stroke-width="0.85" stroke-linejoin="round"/>
<line x1="225.8" y1="62.1" x2="225.8" y2="77" stroke="#dc2430" stroke-width="0.5"/>
<line x1="225.8" y1="102.3" x2="225.8" y2="140.2" stroke="#dc2430" stroke-width="0.5"/>
<rect x="224.6" y="77" width="2.4" height="25.3" fill="#f07f86" stroke="#dc2430" stroke-width="0.6"/>
<circle cx="225.8" cy="88.6" r="0.75" fill="#dc2430"/>
<line x1="225.8" y1="201.5" x2="225.8" y2="204" stroke="#262626" stroke-width="1"/>
<text x="224" y="208.1" font-size="8.6" fill="#4d4d4d" transform="rotate(90 224 208.1)">EVE domain</text>
<path d="M240.6,43.5 L240.7,45.6 L240.8,47.8 L241,49.9 L241.2,52 L241.3,54.1 L241.6,56.2 L241.8,58.4 L242,60.5 L242.3,62.6 L242.5,64.8 L242.8,66.9 L243,69 L243.3,71.1 L243.5,73.2 L243.8,75.4 L244,77.5 L244.2,79.6 L244.3,81.8 L244.5,83.9 L244.6,86 L244.6,88.1 L244.6,90.2 L244.6,92.4 L244.6,94.5 L244.5,96.6 L244.4,98.8 L244.3,100.9 L244.2,103 L244,105.1 L243.8,107.2 L243.7,109.4 L243.5,111.5 L243.3,113.6 L243.1,115.8 L242.8,117.9 L242.6,120 L242.4,122.1 L242.2,124.2 L242,126.4 L241.8,128.5 L241.7,130.6 L241.5,132.8 L241.3,134.9 L241.2,137 L241.1,139.1 L240.9,141.2 L240.8,143.4 L240.7,145.5 L240.6,147.6 L240.5,149.8 L240.5,151.9 L240.4,154 L240.3,156.1 L240.3,158.2 L240.2,160.4 L240.2,162.5 L240.2,164.6 L240.2,166.8 L240.2,168.9 L240.2,171 L239.7,171 L239.7,168.9 L239.7,166.8 L239.7,164.6 L239.6,162.5 L239.6,160.4 L239.6,158.2 L239.5,156.1 L239.5,154 L239.4,151.9 L239.3,149.8 L239.2,147.6 L239.1,145.5 L239,143.4 L238.9,141.2 L238.8,139.1 L238.7,137 L238.5,134.9 L238.4,132.8 L238.2,130.6 L238,128.5 L237.8,126.4 L237.6,124.2 L237.4,122.1 L237.2,120 L237,117.9 L236.8,115.8 L236.6,113.6 L236.4,111.5 L236.2,109.4 L236,107.2 L235.8,105.1 L235.7,103 L235.6,100.9 L235.4,98.8 L235.3,96.6 L235.3,94.5 L235.2,92.4 L235.2,90.2 L235.2,88.1 L235.3,86 L235.4,83.9 L235.5,81.8 L235.7,79.6 L235.9,77.5 L236.1,75.4 L236.3,73.2 L236.5,71.1 L236.8,69 L237.1,66.9 L237.3,64.8 L237.6,62.6 L237.8,60.5 L238.1,58.4 L238.3,56.2 L238.5,54.1 L238.7,52 L238.9,49.9 L239,47.8 L239.2,45.6 L239.3,43.5Z" fill="#ee6a72" stroke="#dc2430" stroke-width="0.85" stroke-linejoin="round"/>
<line x1="239.9" y1="45.5" x2="239.9" y2="81.7" stroke="#dc2430" stroke-width="0.5"/>
<line x1="239.9" y1="109.9" x2="239.9" y2="152.2" stroke="#dc2430" stroke-width="0.5"/>
<rect x="238.7" y="81.7" width="2.4" height="28.2" fill="#f07f86" stroke="#dc2430" stroke-width="0.6"/>
<circle cx="239.9" cy="93.3" r="0.75" fill="#dc2430"/>
<line x1="239.9" y1="201.5" x2="239.9" y2="204" stroke="#262626" stroke-width="1"/>
<text x="238.1" y="208.1" font-size="8.6" fill="#4d4d4d" transform="rotate(90 238.1 208.1)">ESM1v</text>
<path d="M254.7,54 L254.8,55.8 L254.9,57.5 L255.1,59.3 L255.2,61 L255.4,62.8 L255.6,64.6 L255.8,66.3 L256,68.1 L256.2,69.8 L256.5,71.6 L256.7,73.4 L257,75.1 L257.2,76.9 L257.4,78.6 L257.6,80.4 L257.8,82.2 L258,83.9 L258.2,85.7 L258.3,87.4 L258.4,89.2 L258.5,91 L258.6,92.7 L258.6,94.5 L258.5,96.2 L258.5,98 L258.4,99.8 L258.3,101.5 L258.2,103.3 L258.1,105 L257.9,106.8 L257.7,108.6 L257.6,110.3 L257.4,112.1 L257.2,113.8 L257,115.6 L256.8,117.4 L256.6,119.1 L256.4,120.9 L256.2,122.6 L256,124.4 L255.8,126.2 L255.6,127.9 L255.5,129.7 L255.3,131.4 L255.2,133.2 L255.1,135 L254.9,136.7 L254.8,138.5 L254.7,140.2 L254.7,142 L254.6,143.8 L254.5,145.5 L254.5,147.3 L254.4,149 L254.4,150.8 L254.3,152.6 L254.3,154.3 L254.3,156.1 L254.3,157.8 L254.3,159.6 L253.8,159.6 L253.8,157.8 L253.8,156.1 L253.8,154.3 L253.8,152.6 L253.8,150.8 L253.7,149 L253.7,147.3 L253.6,145.5 L253.5,143.8 L253.5,142 L253.4,140.2 L253.3,138.5 L253.2,136.7 L253.1,135 L252.9,133.2 L252.8,131.4 L252.7,129.7 L252.5,127.9 L252.3,126.2 L252.2,124.4 L252,122.6 L251.8,120.9 L251.6,119.1 L251.4,117.4 L251.2,115.6 L251,113.8 L250.8,112.1 L250.6,110.3 L250.4,108.6 L250.2,106.8 L250.1,105 L249.9,103.3 L249.8,101.5 L249.7,99.8 L249.6,98 L249.6,96.2 L249.6,94.5 L249.6,92.7 L249.6,91 L249.7,89.2 L249.8,87.4 L249.9,85.7 L250.1,83.9 L250.3,82.2 L250.5,80.4 L250.7,78.6 L250.9,76.9 L251.2,75.1 L251.4,73.4 L251.7,71.6 L251.9,69.8 L252.1,68.1 L252.3,66.3 L252.5,64.6 L252.7,62.8 L252.9,61 L253.1,59.3 L253.2,57.5 L253.3,55.8 L253.5,54Z" fill="#ee6a72" stroke="#dc2430" stroke-width="0.85" stroke-linejoin="round"/>
<line x1="254.1" y1="56" x2="254.1" y2="83.6" stroke="#dc2430" stroke-width="0.5"/>
<line x1="254.1" y1="110.8" x2="254.1" y2="151.6" stroke="#dc2430" stroke-width="0.5"/>
<rect x="252.9" y="83.6" width="2.4" height="27.2" fill="#f07f86" stroke="#dc2430" stroke-width="0.6"/>
<circle cx="254.1" cy="97.6" r="0.75" fill="#dc2430"/>
<line x1="254.1" y1="201.5" x2="254.1" y2="204" stroke="#262626" stroke-width="1"/>
<text x="252.3" y="208.1" font-size="8.6" fill="#4d4d4d" transform="rotate(90 252.3 208.1)">popEVE</text>
<path d="M268.8,51.6 L268.9,53.4 L269,55.2 L269.2,57.1 L269.3,58.9 L269.5,60.7 L269.7,62.5 L269.9,64.4 L270.1,66.2 L270.3,68 L270.6,69.8 L270.8,71.7 L271,73.5 L271.3,75.3 L271.5,77.1 L271.7,79 L271.9,80.8 L272.1,82.6 L272.3,84.4 L272.4,86.2 L272.5,88.1 L272.6,89.9 L272.7,91.7 L272.7,93.5 L272.7,95.4 L272.7,97.2 L272.6,99 L272.5,100.8 L272.4,102.7 L272.3,104.5 L272.1,106.3 L271.9,108.1 L271.8,109.9 L271.6,111.8 L271.4,113.6 L271.2,115.4 L271,117.2 L270.8,119.1 L270.6,120.9 L270.4,122.7 L270.2,124.5 L270,126.4 L269.8,128.2 L269.6,130 L269.5,131.8 L269.3,133.7 L269.2,135.5 L269.1,137.3 L269,139.1 L268.9,140.9 L268.8,142.8 L268.7,144.6 L268.7,146.4 L268.6,148.2 L268.6,150.1 L268.5,151.9 L268.5,153.7 L268.5,155.5 L268.5,157.4 L268.5,159.2 L268.5,161 L268,161 L268,159.2 L268,157.4 L268,155.5 L267.9,153.7 L267.9,151.9 L267.8,150.1 L267.8,148.2 L267.7,146.4 L267.7,144.6 L267.6,142.8 L267.5,140.9 L267.4,139.1 L267.3,137.3 L267.2,135.5 L267.1,133.7 L266.9,131.8 L266.8,130 L266.6,128.2 L266.4,126.4 L266.2,124.5 L266,122.7 L265.9,120.9 L265.6,119.1 L265.4,117.2 L265.2,115.4 L265,113.6 L264.8,111.8 L264.6,109.9 L264.5,108.1 L264.3,106.3 L264.1,104.5 L264,102.7 L263.9,100.8 L263.8,99 L263.7,97.2 L263.7,95.4 L263.7,93.5 L263.7,91.7 L263.8,89.9 L263.9,88.1 L264,86.2 L264.1,84.4 L264.3,82.6 L264.5,80.8 L264.7,79 L264.9,77.1 L265.1,75.3 L265.4,73.5 L265.6,71.7 L265.8,69.8 L266.1,68 L266.3,66.2 L266.5,64.4 L266.7,62.5 L266.9,60.7 L267.1,58.9 L267.2,57.1 L267.4,55.2 L267.5,53.4 L267.6,51.6Z" fill="#ee6a72" stroke="#dc2430" stroke-width="0.85" stroke-linejoin="round"/>
<line x1="268.2" y1="53.6" x2="268.2" y2="84.5" stroke="#dc2430" stroke-width="0.5"/>
<line x1="268.2" y1="115.5" x2="268.2" y2="159" stroke="#dc2430" stroke-width="0.5"/>
<rect x="267" y="84.5" width="2.4" height="31" fill="#f07f86" stroke="#dc2430" stroke-width="0.6"/>
<circle cx="268.2" cy="100.5" r="0.75" fill="#dc2430"/>
<line x1="268.2" y1="201.5" x2="268.2" y2="204" stroke="#262626" stroke-width="1"/>
<text x="266.4" y="208.1" font-size="8.6" fill="#4d4d4d" transform="rotate(90 266.4 208.1)">ESM1v</text>
<path d="M283.1,67 L283.3,68.3 L283.5,69.6 L283.7,70.9 L283.9,72.2 L284.2,73.5 L284.5,74.8 L284.8,76.1 L285.2,77.4 L285.5,78.7 L285.9,80 L286.2,81.3 L286.6,82.6 L286.9,83.9 L287.2,85.2 L287.4,86.5 L287.6,87.8 L287.8,89.1 L287.9,90.4 L287.9,91.7 L287.9,93 L287.9,94.3 L287.8,95.6 L287.7,96.9 L287.6,98.2 L287.5,99.5 L287.3,100.8 L287.2,102.1 L287,103.4 L286.8,104.7 L286.6,106 L286.3,107.3 L286.1,108.6 L285.9,109.9 L285.6,111.2 L285.4,112.5 L285.2,113.8 L285,115.1 L284.7,116.4 L284.5,117.7 L284.3,119 L284.2,120.3 L284,121.6 L283.8,122.9 L283.7,124.2 L283.5,125.5 L283.4,126.8 L283.3,128.1 L283.2,129.4 L283.1,130.7 L283,132 L282.9,133.3 L282.9,134.6 L282.8,135.9 L282.7,137.2 L282.7,138.5 L282.7,139.8 L282.6,141.1 L282.6,142.4 L282.6,143.7 L282.6,145 L282.1,145 L282.1,143.7 L282.1,142.4 L282.1,141.1 L282,139.8 L282,138.5 L281.9,137.2 L281.9,135.9 L281.8,134.6 L281.8,133.3 L281.7,132 L281.6,130.7 L281.5,129.4 L281.4,128.1 L281.3,126.8 L281.1,125.5 L281,124.2 L280.9,122.9 L280.7,121.6 L280.5,120.3 L280.3,119 L280.1,117.7 L279.9,116.4 L279.7,115.1 L279.5,113.8 L279.3,112.5 L279,111.2 L278.8,109.9 L278.6,108.6 L278.3,107.3 L278.1,106 L277.9,104.7 L277.7,103.4 L277.5,102.1 L277.3,100.8 L277.2,99.5 L277,98.2 L276.9,96.9 L276.8,95.6 L276.8,94.3 L276.7,93 L276.7,91.7 L276.8,90.4 L276.9,89.1 L277,87.8 L277.3,86.5 L277.5,85.2 L277.8,83.9 L278.1,82.6 L278.5,81.3 L278.8,80 L279.2,78.7 L279.5,77.4 L279.8,76.1 L280.2,74.8 L280.5,73.5 L280.7,72.2 L281,70.9 L281.2,69.6 L281.4,68.3 L281.6,67Z" fill="#ee6a72" stroke="#dc2430" stroke-width="0.85" stroke-linejoin="round"/>
<line x1="282.3" y1="69" x2="282.3" y2="86.4" stroke="#dc2430" stroke-width="0.5"/>
<line x1="282.3" y1="108.9" x2="282.3" y2="142.7" stroke="#dc2430" stroke-width="0.5"/>
<rect x="281.1" y="86.4" width="2.4" height="22.5" fill="#f07f86" stroke="#dc2430" stroke-width="0.6"/>
<circle cx="282.3" cy="96.1" r="0.75" fill="#dc2430"/>
<line x1="282.3" y1="201.5" x2="282.3" y2="204" stroke="#262626" stroke-width="1"/>
<text x="280.5" y="208.1" font-size="8.6" fill="#4d4d4d" transform="rotate(90 280.5 208.1)">Tranception</text>
<path d="M297.2,64.8 L297.4,66.2 L297.5,67.5 L297.7,68.9 L297.8,70.2 L298,71.6 L298.2,72.9 L298.4,74.3 L298.7,75.6 L298.9,77 L299.1,78.3 L299.4,79.7 L299.7,81.1 L299.9,82.4 L300.2,83.8 L300.5,85.1 L300.7,86.5 L300.9,87.8 L301.2,89.2 L301.4,90.5 L301.6,91.9 L301.7,93.3 L301.9,94.6 L302,96 L302,97.3 L302.1,98.7 L302.1,100 L302,101.4 L302,102.7 L301.9,104.1 L301.7,105.4 L301.5,106.8 L301.3,108.2 L301.1,109.5 L300.9,110.9 L300.6,112.2 L300.3,113.6 L300.1,114.9 L299.8,116.3 L299.5,117.6 L299.3,119 L299,120.4 L298.8,121.7 L298.5,123.1 L298.3,124.4 L298.1,125.8 L297.9,127.1 L297.7,128.5 L297.6,129.8 L297.4,131.2 L297.3,132.6 L297.2,133.9 L297.1,135.3 L297,136.6 L296.9,138 L296.9,139.3 L296.8,140.7 L296.8,142 L296.7,143.4 L296.7,144.7 L296.7,146.1 L296.2,146.1 L296.2,144.7 L296.2,143.4 L296.2,142 L296.1,140.7 L296.1,139.3 L296,138 L295.9,136.6 L295.9,135.3 L295.8,133.9 L295.6,132.6 L295.5,131.2 L295.4,129.8 L295.2,128.5 L295.1,127.1 L294.9,125.8 L294.7,124.4 L294.4,123.1 L294.2,121.7 L294,120.4 L293.7,119 L293.4,117.6 L293.2,116.3 L292.9,114.9 L292.6,113.6 L292.3,112.2 L292.1,110.9 L291.8,109.5 L291.6,108.2 L291.4,106.8 L291.2,105.4 L291.1,104.1 L291,102.7 L290.9,101.4 L290.9,100 L290.9,98.7 L290.9,97.3 L291,96 L291.1,94.6 L291.2,93.3 L291.4,91.9 L291.6,90.5 L291.8,89.2 L292,87.8 L292.3,86.5 L292.5,85.1 L292.8,83.8 L293,82.4 L293.3,81.1 L293.6,79.7 L293.8,78.3 L294.1,77 L294.3,75.6 L294.5,74.3 L294.7,72.9 L294.9,71.6 L295.1,70.2 L295.3,68.9 L295.5,67.5 L295.6,66.2 L295.7,64.8Z" fill="#ee6a72" stroke="#dc2430" stroke-width="0.85" stroke-linejoin="round"/>
<line x1="296.5" y1="66.8" x2="296.5" y2="91" stroke="#dc2430" stroke-width="0.5"/>
<line x1="296.5" y1="110.8" x2="296.5" y2="140.5" stroke="#dc2430" stroke-width="0.5"/>
<rect x="295.3" y="91" width="2.4" height="19.8" fill="#f07f86" stroke="#dc2430" stroke-width="0.6"/>
<circle cx="296.5" cy="102.3" r="0.75" fill="#dc2430"/>
<line x1="296.5" y1="201.5" x2="296.5" y2="204" stroke="#262626" stroke-width="1"/>
<text x="294.7" y="208.1" font-size="8.6" fill="#4d4d4d" transform="rotate(90 294.7 208.1)">AlphaMissense</text>
<path d="M311.2,67.6 L311.3,69.3 L311.5,71 L311.6,72.7 L311.8,74.4 L312,76 L312.2,77.7 L312.4,79.4 L312.6,81.1 L312.8,82.8 L313.1,84.5 L313.3,86.2 L313.6,87.9 L313.8,89.6 L314,91.3 L314.3,92.9 L314.4,94.6 L314.6,96.3 L314.7,98 L314.8,99.7 L314.9,101.4 L314.9,103.1 L314.9,104.8 L314.9,106.5 L314.8,108.2 L314.7,109.8 L314.7,111.5 L314.5,113.2 L314.4,114.9 L314.3,116.6 L314.1,118.3 L313.9,120 L313.7,121.7 L313.6,123.4 L313.4,125.1 L313.2,126.8 L313,128.4 L312.8,130.1 L312.6,131.8 L312.5,133.5 L312.3,135.2 L312.1,136.9 L312,138.6 L311.9,140.3 L311.7,142 L311.6,143.6 L311.5,145.3 L311.4,147 L311.3,148.7 L311.2,150.4 L311.2,152.1 L311.1,153.8 L311,155.5 L311,157.2 L310.9,158.9 L310.9,160.6 L310.9,162.2 L310.9,163.9 L310.9,165.6 L310.9,167.3 L310.9,169 L310.4,169 L310.4,167.3 L310.4,165.6 L310.4,163.9 L310.4,162.2 L310.3,160.6 L310.3,158.9 L310.3,157.2 L310.2,155.5 L310.1,153.8 L310.1,152.1 L310,150.4 L309.9,148.7 L309.8,147 L309.7,145.3 L309.6,143.6 L309.5,142 L309.4,140.3 L309.2,138.6 L309.1,136.9 L308.9,135.2 L308.8,133.5 L308.6,131.8 L308.4,130.1 L308.2,128.4 L308,126.8 L307.9,125.1 L307.7,123.4 L307.5,121.7 L307.3,120 L307.1,118.3 L307,116.6 L306.8,114.9 L306.7,113.2 L306.6,111.5 L306.5,109.8 L306.4,108.2 L306.4,106.5 L306.3,104.8 L306.3,103.1 L306.3,101.4 L306.4,99.7 L306.5,98 L306.6,96.3 L306.8,94.6 L307,92.9 L307.2,91.3 L307.4,89.6 L307.7,87.9 L307.9,86.2 L308.2,84.5 L308.4,82.8 L308.6,81.1 L308.9,79.4 L309.1,77.7 L309.3,76 L309.5,74.4 L309.6,72.7 L309.8,71 L309.9,69.3 L310,67.6Z" fill="#ee6a72" stroke="#dc2430" stroke-width="0.85" stroke-linejoin="round"/>
<line x1="310.6" y1="69.6" x2="310.6" y2="93" stroke="#dc2430" stroke-width="0.5"/>
<line x1="310.6" y1="126.2" x2="310.6" y2="167" stroke="#dc2430" stroke-width="0.5"/>
<rect x="309.4" y="93" width="2.4" height="33.2" fill="#f07f86" stroke="#dc2430" stroke-width="0.6"/>
<circle cx="310.6" cy="108" r="0.75" fill="#dc2430"/>
<line x1="310.6" y1="201.5" x2="310.6" y2="204" stroke="#262626" stroke-width="1"/>
<text x="308.8" y="208.1" font-size="8.6" fill="#4d4d4d" transform="rotate(90 308.8 208.1)">EVE</text>
<path d="M325,64.8 L325,66.7 L325,68.5 L325,70.4 L325,72.3 L325,74.1 L325.1,76 L325.1,77.8 L325.2,79.7 L325.3,81.6 L325.4,83.4 L325.5,85.3 L325.6,87.2 L325.8,89 L326,90.9 L326.2,92.8 L326.4,94.6 L326.6,96.5 L326.9,98.3 L327.2,100.2 L327.5,102.1 L327.8,103.9 L328.1,105.8 L328.4,107.7 L328.7,109.5 L329,111.4 L329.2,113.2 L329.4,115.1 L329.6,117 L329.7,118.8 L329.7,120.7 L329.8,122.6 L329.7,124.4 L329.7,126.3 L329.6,128.2 L329.5,130 L329.3,131.9 L329.2,133.7 L329,135.6 L328.8,137.5 L328.5,139.3 L328.3,141.2 L328.1,143.1 L327.8,144.9 L327.6,146.8 L327.3,148.6 L327.1,150.5 L326.9,152.4 L326.7,154.2 L326.5,156.1 L326.3,158 L326.1,159.8 L325.9,161.7 L325.8,163.6 L325.6,165.4 L325.5,167.3 L325.4,169.1 L325.3,171 L325.2,172.9 L325.1,174.7 L325.1,176.6 L324.4,176.6 L324.4,174.7 L324.3,172.9 L324.2,171 L324.1,169.1 L324,167.3 L323.9,165.4 L323.8,163.6 L323.6,161.7 L323.4,159.8 L323.3,158 L323.1,156.1 L322.9,154.2 L322.6,152.4 L322.4,150.5 L322.2,148.6 L321.9,146.8 L321.7,144.9 L321.4,143.1 L321.2,141.2 L321,139.3 L320.8,137.5 L320.5,135.6 L320.4,133.7 L320.2,131.9 L320,130 L319.9,128.2 L319.8,126.3 L319.8,124.4 L319.8,122.6 L319.8,120.7 L319.8,118.8 L320,117 L320.1,115.1 L320.3,113.2 L320.6,111.4 L320.8,109.5 L321.1,107.7 L321.4,105.8 L321.7,103.9 L322,102.1 L322.3,100.2 L322.6,98.3 L322.9,96.5 L323.1,94.6 L323.4,92.8 L323.6,90.9 L323.7,89 L323.9,87.2 L324,85.3 L324.1,83.4 L324.2,81.6 L324.3,79.7 L324.4,77.8 L324.5,76 L324.5,74.1 L324.5,72.3 L324.5,70.4 L324.5,68.5 L324.5,66.7 L324.5,64.8Z" fill="#7b8bc8" stroke="#28378c" stroke-width="0.85" stroke-linejoin="round"/>
<line x1="324.8" y1="78.3" x2="324.8" y2="113.6" stroke="#28378c" stroke-width="0.5"/>
<line x1="324.8" y1="137.1" x2="324.8" y2="172.3" stroke="#28378c" stroke-width="0.5"/>
<rect x="323.6" y="113.6" width="2.4" height="23.5" fill="#93a1d3" stroke="#28378c" stroke-width="0.6"/>
<circle cx="324.8" cy="124.3" r="0.75" fill="#28378c"/>
<line x1="324.8" y1="201.5" x2="324.8" y2="204" stroke="#262626" stroke-width="1"/>
<text x="323" y="208.1" font-size="8.6" fill="#4d4d4d" transform="rotate(90 323 208.1)">thermoMPNN</text>
<path d="M339.1,77.9 L339.1,79.6 L339.1,81.3 L339.1,83.1 L339.1,84.8 L339.1,86.5 L339.2,88.2 L339.3,90 L339.3,91.7 L339.4,93.4 L339.5,95.1 L339.6,96.9 L339.8,98.6 L339.9,100.3 L340.1,102 L340.3,103.8 L340.5,105.5 L340.8,107.2 L341,108.9 L341.3,110.6 L341.6,112.4 L341.9,114.1 L342.2,115.8 L342.5,117.5 L342.7,119.3 L343,121 L343.2,122.7 L343.4,124.4 L343.5,126.2 L343.6,127.9 L343.6,129.6 L343.6,131.3 L343.5,133 L343.5,134.8 L343.4,136.5 L343.3,138.2 L343.1,139.9 L342.9,141.7 L342.8,143.4 L342.6,145.1 L342.4,146.8 L342.1,148.6 L341.9,150.3 L341.7,152 L341.5,153.7 L341.3,155.4 L341,157.2 L340.8,158.9 L340.6,160.6 L340.4,162.3 L340.3,164.1 L340.1,165.8 L340,167.5 L339.8,169.2 L339.7,171 L339.6,172.7 L339.5,174.4 L339.4,176.1 L339.3,177.9 L339.3,179.6 L339.2,181.3 L338.6,181.3 L338.5,179.6 L338.5,177.9 L338.4,176.1 L338.3,174.4 L338.2,172.7 L338.1,171 L338,169.2 L337.8,167.5 L337.7,165.8 L337.5,164.1 L337.3,162.3 L337.2,160.6 L337,158.9 L336.8,157.2 L336.5,155.4 L336.3,153.7 L336.1,152 L335.9,150.3 L335.7,148.6 L335.4,146.8 L335.2,145.1 L335,143.4 L334.9,141.7 L334.7,139.9 L334.5,138.2 L334.4,136.5 L334.3,134.8 L334.3,133 L334.2,131.3 L334.2,129.6 L334.2,127.9 L334.3,126.2 L334.4,124.4 L334.6,122.7 L334.8,121 L335.1,119.3 L335.3,117.5 L335.6,115.8 L335.9,114.1 L336.2,112.4 L336.5,110.6 L336.8,108.9 L337,107.2 L337.3,105.5 L337.5,103.8 L337.7,102 L337.9,100.3 L338,98.6 L338.2,96.9 L338.3,95.1 L338.4,93.4 L338.5,91.7 L338.5,90 L338.6,88.2 L338.6,86.5 L338.6,84.8 L338.6,83.1 L338.6,81.3 L338.6,79.6 L338.6,77.9Z" fill="#7b8bc8" stroke="#28378c" stroke-width="0.85" stroke-linejoin="round"/>
<line x1="338.9" y1="79.9" x2="338.9" y2="117.4" stroke="#28378c" stroke-width="0.5"/>
<line x1="338.9" y1="144.6" x2="338.9" y2="179.3" stroke="#28378c" stroke-width="0.5"/>
<rect x="337.7" y="117.4" width="2.4" height="27.2" fill="#93a1d3" stroke="#28378c" stroke-width="0.6"/>
<circle cx="338.9" cy="130.5" r="0.75" fill="#28378c"/>
<line x1="338.9" y1="201.5" x2="338.9" y2="204" stroke="#262626" stroke-width="1"/>
<text x="337.1" y="208.1" font-size="8.6" fill="#4d4d4d" transform="rotate(90 337.1 208.1)">FoldX</text>
<path d="M353.3,67.6 L353.3,69.3 L353.3,70.9 L353.3,72.6 L353.3,74.2 L353.4,75.9 L353.4,77.6 L353.5,79.2 L353.6,80.9 L353.7,82.5 L353.8,84.2 L353.9,85.9 L354.1,87.5 L354.3,89.2 L354.4,90.8 L354.6,92.5 L354.9,94.2 L355.1,95.8 L355.4,97.5 L355.6,99.1 L355.9,100.8 L356.2,102.5 L356.5,104.1 L356.8,105.8 L357.1,107.4 L357.3,109.1 L357.6,110.8 L357.8,112.4 L357.9,114.1 L358.1,115.7 L358.2,117.4 L358.2,119.1 L358.2,120.7 L358.2,122.4 L358.2,124 L358.1,125.7 L357.9,127.4 L357.8,129 L357.6,130.7 L357.4,132.3 L357.2,134 L357,135.7 L356.8,137.3 L356.5,139 L356.3,140.6 L356.1,142.3 L355.8,144 L355.6,145.6 L355.3,147.3 L355.1,148.9 L354.9,150.6 L354.7,152.3 L354.5,153.9 L354.3,155.6 L354.2,157.2 L354,158.9 L353.9,160.6 L353.8,162.2 L353.7,163.9 L353.6,165.5 L353.5,167.2 L352.6,167.2 L352.5,165.5 L352.4,163.9 L352.3,162.2 L352.2,160.6 L352.1,158.9 L351.9,157.2 L351.8,155.6 L351.6,153.9 L351.4,152.3 L351.2,150.6 L351,148.9 L350.7,147.3 L350.5,145.6 L350.3,144 L350,142.3 L349.8,140.6 L349.5,139 L349.3,137.3 L349.1,135.7 L348.8,134 L348.6,132.3 L348.4,130.7 L348.3,129 L348.1,127.4 L348,125.7 L347.9,124 L347.9,122.4 L347.8,120.7 L347.8,119.1 L347.9,117.4 L348,115.7 L348.1,114.1 L348.3,112.4 L348.5,110.8 L348.8,109.1 L349,107.4 L349.3,105.8 L349.6,104.1 L349.9,102.5 L350.1,100.8 L350.4,99.1 L350.7,97.5 L351,95.8 L351.2,94.2 L351.4,92.5 L351.6,90.8 L351.8,89.2 L352,87.5 L352.1,85.9 L352.3,84.2 L352.4,82.5 L352.5,80.9 L352.6,79.2 L352.6,77.6 L352.7,75.9 L352.8,74.2 L352.8,72.6 L352.8,70.9 L352.8,69.3 L352.8,67.6Z" fill="#7b8bc8" stroke="#28378c" stroke-width="0.85" stroke-linejoin="round"/>
<line x1="353" y1="71.4" x2="353" y2="108" stroke="#28378c" stroke-width="0.5"/>
<line x1="353" y1="132.4" x2="353" y2="165.2" stroke="#28378c" stroke-width="0.5"/>
<rect x="351.8" y="108" width="2.4" height="24.4" fill="#93a1d3" stroke="#28378c" stroke-width="0.6"/>
<circle cx="353" cy="122.1" r="0.75" fill="#28378c"/>
<line x1="353" y1="201.5" x2="353" y2="204" stroke="#262626" stroke-width="1"/>
<text x="351.2" y="208.1" font-size="8.6" fill="#4d4d4d" transform="rotate(90 351.2 208.1)">ddmut</text>
<path d="M367.4,89.2 L367.4,90.8 L367.4,92.4 L367.4,94 L367.4,95.6 L367.4,97.2 L367.5,98.8 L367.5,100.4 L367.5,102.1 L367.6,103.7 L367.6,105.3 L367.7,106.9 L367.8,108.5 L367.9,110.1 L368,111.7 L368.1,113.3 L368.2,114.9 L368.3,116.5 L368.5,118.1 L368.7,119.7 L368.8,121.3 L369.1,122.9 L369.3,124.5 L369.5,126.2 L369.8,127.8 L370,129.4 L370.3,131 L370.6,132.6 L370.9,134.2 L371.1,135.8 L371.4,137.4 L371.6,139 L371.9,140.6 L372.1,142.2 L372.3,143.8 L372.4,145.4 L372.5,147 L372.6,148.6 L372.6,150.3 L372.6,151.9 L372.5,153.5 L372.4,155.1 L372.2,156.7 L372.1,158.3 L371.8,159.9 L371.6,161.5 L371.3,163.1 L371,164.7 L370.8,166.3 L370.5,167.9 L370.2,169.5 L369.9,171.1 L369.6,172.7 L369.3,174.4 L369.1,176 L368.8,177.6 L368.6,179.2 L368.4,180.8 L368.2,182.4 L368.1,184 L367.9,185.6 L366.4,185.6 L366.3,184 L366.1,182.4 L366,180.8 L365.8,179.2 L365.5,177.6 L365.3,176 L365,174.4 L364.8,172.7 L364.5,171.1 L364.2,169.5 L363.9,167.9 L363.6,166.3 L363.3,164.7 L363,163.1 L362.8,161.5 L362.5,159.9 L362.3,158.3 L362.1,156.7 L362,155.1 L361.9,153.5 L361.8,151.9 L361.8,150.3 L361.8,148.6 L361.9,147 L362,145.4 L362.1,143.8 L362.3,142.2 L362.5,140.6 L362.7,139 L363,137.4 L363.2,135.8 L363.5,134.2 L363.8,132.6 L364,131 L364.3,129.4 L364.6,127.8 L364.8,126.2 L365.1,124.5 L365.3,122.9 L365.5,121.3 L365.7,119.7 L365.9,118.1 L366,116.5 L366.2,114.9 L366.3,113.3 L366.4,111.7 L366.5,110.1 L366.6,108.5 L366.7,106.9 L366.7,105.3 L366.8,103.7 L366.8,102.1 L366.9,100.4 L366.9,98.8 L366.9,97.2 L366.9,95.6 L366.9,94 L366.9,92.4 L366.9,90.8 L366.9,89.2Z" fill="#7b8bc8" stroke="#28378c" stroke-width="0.85" stroke-linejoin="round"/>
<line x1="367.2" y1="101.1" x2="367.2" y2="136.2" stroke="#28378c" stroke-width="0.5"/>
<line x1="367.2" y1="159.6" x2="367.2" y2="183.6" stroke="#28378c" stroke-width="0.5"/>
<rect x="366" y="136.2" width="2.4" height="23.4" fill="#93a1d3" stroke="#28378c" stroke-width="0.6"/>
<circle cx="367.2" cy="148.4" r="0.75" fill="#28378c"/>
<line x1="367.2" y1="201.5" x2="367.2" y2="204" stroke="#262626" stroke-width="1"/>
<text x="365.4" y="208.1" font-size="8.6" fill="#4d4d4d" transform="rotate(90 365.4 208.1)">RaSP</text>
<path d="M382.3,70.4 L382.4,71.8 L382.6,73.3 L382.7,74.7 L382.9,76.1 L383.1,77.6 L383.3,79 L383.6,80.4 L383.8,81.9 L384.1,83.3 L384.4,84.7 L384.6,86.1 L384.9,87.6 L385.2,89 L385.5,90.4 L385.8,91.9 L386.1,93.3 L386.4,94.7 L386.7,96.2 L387,97.6 L387.2,99 L387.5,100.5 L387.7,101.9 L387.9,103.3 L388,104.8 L388.1,106.2 L388.2,107.6 L388.3,109.1 L388.3,110.5 L388.3,111.9 L388.3,113.4 L388.2,114.8 L388.1,116.2 L388,117.6 L387.9,119.1 L387.7,120.5 L387.5,121.9 L387.3,123.4 L387.1,124.8 L386.9,126.2 L386.6,127.7 L386.4,129.1 L386.1,130.5 L385.9,132 L385.6,133.4 L385.3,134.8 L385.1,136.3 L384.8,137.7 L384.5,139.1 L384.3,140.6 L384.1,142 L383.8,143.4 L383.6,144.8 L383.4,146.3 L383.2,147.7 L383,149.1 L382.8,150.6 L382.7,152 L382.5,153.4 L382.4,154.9 L382.3,156.3 L380.4,156.3 L380.2,154.9 L380.1,153.4 L380,152 L379.8,150.6 L379.6,149.1 L379.4,147.7 L379.2,146.3 L379,144.8 L378.8,143.4 L378.6,142 L378.3,140.6 L378.1,139.1 L377.8,137.7 L377.6,136.3 L377.3,134.8 L377,133.4 L376.8,132 L376.5,130.5 L376.3,129.1 L376,127.7 L375.8,126.2 L375.5,124.8 L375.3,123.4 L375.1,121.9 L374.9,120.5 L374.8,119.1 L374.6,117.6 L374.5,116.2 L374.4,114.8 L374.4,113.4 L374.3,111.9 L374.3,110.5 L374.3,109.1 L374.4,107.6 L374.5,106.2 L374.6,104.8 L374.8,103.3 L375,101.9 L375.2,100.5 L375.4,99 L375.7,97.6 L375.9,96.2 L376.2,94.7 L376.5,93.3 L376.8,91.9 L377.1,90.4 L377.4,89 L377.7,87.6 L378,86.1 L378.3,84.7 L378.5,83.3 L378.8,81.9 L379.1,80.4 L379.3,79 L379.5,77.6 L379.7,76.1 L379.9,74.7 L380.1,73.3 L380.2,71.8 L380.4,70.4Z" fill="#f1c57c" stroke="#dea43c" stroke-width="0.85" stroke-linejoin="round"/>
<line x1="381.3" y1="72.4" x2="381.3" y2="98.6" stroke="#dea43c" stroke-width="0.5"/>
<line x1="381.3" y1="122.1" x2="381.3" y2="154.3" stroke="#dea43c" stroke-width="0.5"/>
<rect x="380.1" y="98.6" width="2.4" height="23.5" fill="#f4d394" stroke="#dea43c" stroke-width="0.6"/>
<circle cx="381.3" cy="109.9" r="0.75" fill="#dea43c"/>
<line x1="381.3" y1="201.5" x2="381.3" y2="204" stroke="#262626" stroke-width="1"/>
<text x="379.5" y="208.1" font-size="8.6" fill="#4d4d4d" transform="rotate(90 379.5 208.1)">rsasa</text>
<line x1="217.3" y1="201.5" x2="389.8" y2="201.5" stroke="#262626" stroke-width="1"/>
<line x1="38.5" y1="27.3" x2="38.5" y2="202" stroke="#262626" stroke-width="1"/>
<line x1="35.9" y1="201.5" x2="38.5" y2="201.5" stroke="#262626" stroke-width="1"/>
<text x="33.1" y="204.9" font-size="9.6" fill="#4d4d4d" text-anchor="end">−0.3</text>
<line x1="35.9" y1="158" x2="38.5" y2="158" stroke="#262626" stroke-width="1"/>
<text x="33.1" y="161.4" font-size="9.6" fill="#4d4d4d" text-anchor="end">0.0</text>
<line x1="35.9" y1="114.5" x2="38.5" y2="114.5" stroke="#262626" stroke-width="1"/>
<text x="33.1" y="117.9" font-size="9.6" fill="#4d4d4d" text-anchor="end">0.3</text>
<line x1="35.9" y1="71" x2="38.5" y2="71" stroke="#262626" stroke-width="1"/>
<text x="33.1" y="74.4" font-size="9.6" fill="#4d4d4d" text-anchor="end">0.6</text>
<line x1="35.9" y1="27.5" x2="38.5" y2="27.5" stroke="#262626" stroke-width="1"/>
<text x="33.1" y="30.9" font-size="9.6" fill="#4d4d4d" text-anchor="end">0.9</text>
<text x="214.1" y="279.5" font-size="9.8" fill="#000" text-anchor="middle">predictor</text>
<text x="10.6" y="119.2" font-size="10.4" fill="#000" text-anchor="middle" transform="rotate(-90 10.6 119.2)">Spearman's <tspan font-style='italic'>ρ</tspan></text>
<text x="402.2" y="97.6" font-size="9.5" fill="#000">type</text>
<rect x="402.6" y="104.8" width="13.8" height="13.8" fill="#e6525a" stroke="#dc2430" stroke-width="0.9"/>
<line x1="403.8" y1="106.7" x2="415.2" y2="106.7" stroke="rgba(255,255,255,0.45)" stroke-width="0.7"/>
<line x1="403.8" y1="116.7" x2="415.2" y2="116.7" stroke="rgba(255,255,255,0.45)" stroke-width="0.7"/>
<line x1="409.5" y1="105.2" x2="409.5" y2="108.2" stroke="#dc2430" stroke-width="0.6"/>
<line x1="409.5" y1="115" x2="409.5" y2="118.2" stroke="#dc2430" stroke-width="0.6"/>
<rect x="404.2" y="108.3" width="10.6" height="6.8" fill="#ffffff" stroke="#dc2430" stroke-width="0.6"/>
<line x1="404.2" y1="111.7" x2="414.8" y2="111.7" stroke="#dc2430" stroke-width="0.7"/>
<text x="421.7" y="114.6" font-size="7.9" fill="#000">fitness</text>
<rect x="402.6" y="119.4" width="13.8" height="13.8" fill="#5a6bb5" stroke="#28378c" stroke-width="0.9"/>
<line x1="403.8" y1="121.3" x2="415.2" y2="121.3" stroke="rgba(255,255,255,0.45)" stroke-width="0.7"/>
<line x1="403.8" y1="131.3" x2="415.2" y2="131.3" stroke="rgba(255,255,255,0.45)" stroke-width="0.7"/>
<line x1="409.5" y1="119.8" x2="409.5" y2="122.8" stroke="#28378c" stroke-width="0.6"/>
<line x1="409.5" y1="129.6" x2="409.5" y2="132.8" stroke="#28378c" stroke-width="0.6"/>
<rect x="404.2" y="122.9" width="10.6" height="6.8" fill="#ffffff" stroke="#28378c" stroke-width="0.6"/>
<line x1="404.2" y1="126.3" x2="414.8" y2="126.3" stroke="#28378c" stroke-width="0.7"/>
<text x="421.7" y="129.2" font-size="7.9" fill="#000">stability</text>
<rect x="402.6" y="134" width="13.8" height="13.8" fill="#ecbe68" stroke="#dea43c" stroke-width="0.9"/>
<line x1="403.8" y1="135.9" x2="415.2" y2="135.9" stroke="rgba(255,255,255,0.45)" stroke-width="0.7"/>
<line x1="403.8" y1="145.9" x2="415.2" y2="145.9" stroke="rgba(255,255,255,0.45)" stroke-width="0.7"/>
<line x1="409.5" y1="134.4" x2="409.5" y2="137.4" stroke="#dea43c" stroke-width="0.6"/>
<line x1="409.5" y1="144.2" x2="409.5" y2="147.4" stroke="#dea43c" stroke-width="0.6"/>
<rect x="404.2" y="137.5" width="10.6" height="6.8" fill="#ffffff" stroke="#dea43c" stroke-width="0.6"/>
<line x1="404.2" y1="140.9" x2="414.8" y2="140.9" stroke="#dea43c" stroke-width="0.7"/>
<text x="421.7" y="143.8" font-size="7.9" fill="#000">sasa</text>
<text x="4.5" y="303" font-size="10.5" fill="#000" font-weight="bold">b</text>
<text x="38.5" y="311.5" font-size="10.2" fill="#000">homology to Megascale domains (non−zinc finger domains)</text>
<rect x="38.5" y="319.3" width="172" height="14.1" fill="#ffffff" stroke="#1a1a1a" stroke-width="0.9"/>
<text x="125.4" y="328.8" font-size="8.6" fill="#1a1a1a" text-anchor="middle">no</text>
<text x="203.9" y="345.3" font-size="8.6" fill="#000" text-anchor="end">n = 157 domains</text>
<path d="M47.6,357.2 L47.8,359 L48,360.8 L48.2,362.6 L48.5,364.4 L48.7,366.2 L49,368 L49.4,369.8 L49.7,371.6 L50.1,373.4 L50.4,375.1 L50.7,376.9 L51,378.7 L51.3,380.5 L51.5,382.3 L51.7,384.1 L51.8,385.9 L51.9,387.7 L51.9,389.5 L51.8,391.3 L51.8,393.1 L51.7,394.9 L51.6,396.7 L51.5,398.5 L51.4,400.3 L51.2,402.1 L51.1,403.9 L50.9,405.7 L50.7,407.5 L50.5,409.3 L50.3,411 L50.1,412.8 L49.9,414.6 L49.7,416.4 L49.5,418.2 L49.3,420 L49.1,421.8 L49,423.6 L48.8,425.4 L48.6,427.2 L48.5,429 L48.3,430.8 L48.2,432.6 L48.1,434.4 L48,436.2 L47.9,438 L47.8,439.8 L47.7,441.6 L47.6,443.4 L47.5,445.2 L47.5,446.9 L47.4,448.7 L47.4,450.5 L47.3,452.3 L47.3,454.1 L47.2,455.9 L47.2,457.7 L47.2,459.5 L47.2,461.3 L47.2,463.1 L47.2,464.9 L46.7,464.9 L46.7,463.1 L46.7,461.3 L46.7,459.5 L46.7,457.7 L46.7,455.9 L46.6,454.1 L46.6,452.3 L46.6,450.5 L46.5,448.7 L46.5,446.9 L46.4,445.2 L46.3,443.4 L46.2,441.6 L46.2,439.8 L46.1,438 L46,436.2 L45.8,434.4 L45.7,432.6 L45.6,430.8 L45.4,429 L45.3,427.2 L45.1,425.4 L45,423.6 L44.8,421.8 L44.6,420 L44.4,418.2 L44.2,416.4 L44,414.6 L43.8,412.8 L43.6,411 L43.4,409.3 L43.2,407.5 L43,405.7 L42.9,403.9 L42.7,402.1 L42.6,400.3 L42.4,398.5 L42.3,396.7 L42.2,394.9 L42.1,393.1 L42.1,391.3 L42.1,389.5 L42.1,387.7 L42.1,385.9 L42.2,384.1 L42.4,382.3 L42.6,380.5 L42.9,378.7 L43.2,376.9 L43.5,375.1 L43.9,373.4 L44.2,371.6 L44.5,369.8 L44.9,368 L45.2,366.2 L45.5,364.4 L45.7,362.6 L45.9,360.8 L46.1,359 L46.3,357.2Z" fill="#ee6a72" stroke="#dc2430" stroke-width="0.85" stroke-linejoin="round"/>
<line x1="47" y1="359.2" x2="47" y2="380.4" stroke="#dc2430" stroke-width="0.5"/>
<line x1="47" y1="406.7" x2="47" y2="446.1" stroke="#dc2430" stroke-width="0.5"/>
<rect x="45.8" y="380.4" width="2.4" height="26.3" fill="#f07f86" stroke="#dc2430" stroke-width="0.6"/>
<circle cx="47" cy="391.6" r="0.75" fill="#dc2430"/>
<line x1="47" y1="507" x2="47" y2="509.5" stroke="#262626" stroke-width="1"/>
<text x="44" y="512.3" font-size="8.6" fill="#4d4d4d" transform="rotate(90 44 512.3)">EVE domain</text>
<path d="M61.7,358.6 L61.9,360.4 L62.1,362.1 L62.3,363.9 L62.5,365.7 L62.8,367.4 L63.1,369.2 L63.4,371 L63.7,372.7 L64.1,374.5 L64.4,376.2 L64.7,378 L65,379.8 L65.3,381.5 L65.5,383.3 L65.7,385.1 L65.9,386.8 L65.9,388.6 L66,390.4 L65.9,392.1 L65.9,393.9 L65.8,395.7 L65.8,397.4 L65.7,399.2 L65.5,401 L65.4,402.7 L65.3,404.5 L65.1,406.3 L64.9,408 L64.7,409.8 L64.6,411.6 L64.4,413.3 L64.2,415.1 L64,416.8 L63.8,418.6 L63.6,420.4 L63.4,422.1 L63.2,423.9 L63,425.7 L62.9,427.4 L62.7,429.2 L62.6,431 L62.4,432.7 L62.3,434.5 L62.2,436.3 L62,438 L61.9,439.8 L61.9,441.6 L61.8,443.3 L61.7,445.1 L61.6,446.9 L61.6,448.6 L61.5,450.4 L61.4,452.1 L61.4,453.9 L61.4,455.7 L61.3,457.4 L61.3,459.2 L61.3,461 L61.3,462.7 L61.3,464.5 L60.8,464.5 L60.8,462.7 L60.8,461 L60.8,459.2 L60.8,457.4 L60.8,455.7 L60.7,453.9 L60.7,452.1 L60.6,450.4 L60.6,448.6 L60.5,446.9 L60.4,445.1 L60.3,443.3 L60.3,441.6 L60.2,439.8 L60.1,438 L60,436.3 L59.8,434.5 L59.7,432.7 L59.6,431 L59.4,429.2 L59.2,427.4 L59.1,425.7 L58.9,423.9 L58.7,422.1 L58.5,420.4 L58.3,418.6 L58.1,416.8 L57.9,415.1 L57.8,413.3 L57.6,411.6 L57.4,409.8 L57.2,408 L57,406.3 L56.9,404.5 L56.7,402.7 L56.6,401 L56.4,399.2 L56.3,397.4 L56.3,395.7 L56.2,393.9 L56.2,392.1 L56.2,390.4 L56.2,388.6 L56.3,386.8 L56.4,385.1 L56.6,383.3 L56.8,381.5 L57.1,379.8 L57.4,378 L57.7,376.2 L58.1,374.5 L58.4,372.7 L58.7,371 L59,369.2 L59.3,367.4 L59.6,365.7 L59.8,363.9 L60,362.1 L60.2,360.4 L60.4,358.6Z" fill="#ee6a72" stroke="#dc2430" stroke-width="0.85" stroke-linejoin="round"/>
<line x1="61.1" y1="360.6" x2="61.1" y2="382.6" stroke="#dc2430" stroke-width="0.5"/>
<line x1="61.1" y1="410.8" x2="61.1" y2="453.1" stroke="#dc2430" stroke-width="0.5"/>
<rect x="59.9" y="382.6" width="2.4" height="28.2" fill="#f07f86" stroke="#dc2430" stroke-width="0.6"/>
<circle cx="61.1" cy="394.8" r="0.75" fill="#dc2430"/>
<line x1="61.1" y1="507" x2="61.1" y2="509.5" stroke="#262626" stroke-width="1"/>
<text x="58.1" y="512.3" font-size="8.6" fill="#4d4d4d" transform="rotate(90 58.1 512.3)">ESM1v domain</text>
<path d="M75.8,357.2 L75.9,359.2 L76.1,361.1 L76.3,363.1 L76.5,365.1 L76.8,367.1 L77,369 L77.3,371 L77.6,373 L77.9,375 L78.2,376.9 L78.5,378.9 L78.8,380.9 L79.1,382.9 L79.3,384.8 L79.5,386.8 L79.7,388.8 L79.8,390.7 L79.8,392.7 L79.9,394.7 L79.8,396.7 L79.8,398.6 L79.7,400.6 L79.6,402.6 L79.5,404.6 L79.4,406.5 L79.3,408.5 L79.1,410.5 L79,412.5 L78.8,414.4 L78.6,416.4 L78.4,418.4 L78.2,420.3 L78,422.3 L77.8,424.3 L77.7,426.3 L77.5,428.2 L77.3,430.2 L77.1,432.2 L77,434.2 L76.8,436.1 L76.6,438.1 L76.5,440.1 L76.4,442.1 L76.2,444 L76.1,446 L76,448 L75.9,449.9 L75.9,451.9 L75.8,453.9 L75.7,455.9 L75.6,457.8 L75.6,459.8 L75.5,461.8 L75.5,463.8 L75.5,465.7 L75.4,467.7 L75.4,469.7 L75.4,471.7 L75.4,473.6 L75.4,475.6 L74.9,475.6 L74.9,473.6 L74.9,471.7 L74.9,469.7 L74.9,467.7 L74.9,465.7 L74.8,463.8 L74.8,461.8 L74.7,459.8 L74.7,457.8 L74.6,455.9 L74.5,453.9 L74.5,451.9 L74.4,449.9 L74.3,448 L74.2,446 L74.1,444 L73.9,442.1 L73.8,440.1 L73.7,438.1 L73.5,436.1 L73.4,434.2 L73.2,432.2 L73,430.2 L72.8,428.2 L72.7,426.3 L72.5,424.3 L72.3,422.3 L72.1,420.3 L71.9,418.4 L71.7,416.4 L71.5,414.4 L71.3,412.5 L71.2,410.5 L71,408.5 L70.9,406.5 L70.8,404.6 L70.7,402.6 L70.6,400.6 L70.5,398.6 L70.5,396.7 L70.5,394.7 L70.5,392.7 L70.5,390.7 L70.6,388.8 L70.8,386.8 L71,384.8 L71.2,382.9 L71.5,380.9 L71.8,378.9 L72.1,376.9 L72.4,375 L72.7,373 L73,371 L73.3,369 L73.5,367.1 L73.8,365.1 L74,363.1 L74.2,361.1 L74.4,359.2 L74.5,357.2Z" fill="#ee6a72" stroke="#dc2430" stroke-width="0.85" stroke-linejoin="round"/>
<line x1="75.2" y1="359.2" x2="75.2" y2="383.6" stroke="#dc2430" stroke-width="0.5"/>
<line x1="75.2" y1="409.9" x2="75.2" y2="449.3" stroke="#dc2430" stroke-width="0.5"/>
<rect x="74" y="383.6" width="2.4" height="26.3" fill="#f07f86" stroke="#dc2430" stroke-width="0.6"/>
<circle cx="75.2" cy="394.8" r="0.75" fill="#dc2430"/>
<line x1="75.2" y1="507" x2="75.2" y2="509.5" stroke="#262626" stroke-width="1"/>
<text x="72.2" y="512.3" font-size="8.6" fill="#4d4d4d" transform="rotate(90 72.2 512.3)">popEVE</text>
<path d="M89.9,357.8 L90,359.5 L90.2,361.2 L90.4,362.9 L90.5,364.6 L90.7,366.3 L91,368 L91.2,369.7 L91.5,371.4 L91.7,373.1 L92,374.8 L92.3,376.5 L92.5,378.2 L92.8,379.9 L93.1,381.6 L93.3,383.3 L93.5,385 L93.7,386.7 L93.8,388.4 L93.9,390.1 L94,391.8 L94.1,393.5 L94,395.2 L94,396.9 L94,398.6 L93.9,400.3 L93.8,402 L93.6,403.7 L93.5,405.4 L93.3,407.1 L93.2,408.8 L93,410.4 L92.8,412.1 L92.6,413.8 L92.4,415.5 L92.1,417.2 L91.9,418.9 L91.7,420.6 L91.5,422.3 L91.3,424 L91.1,425.7 L91,427.4 L90.8,429.1 L90.7,430.8 L90.5,432.5 L90.4,434.2 L90.2,435.9 L90.1,437.6 L90,439.3 L89.9,441 L89.9,442.7 L89.8,444.4 L89.7,446.1 L89.7,447.8 L89.6,449.5 L89.6,451.2 L89.5,452.9 L89.5,454.6 L89.5,456.3 L89.5,458 L89.5,459.7 L89,459.7 L89,458 L89,456.3 L89,454.6 L89,452.9 L88.9,451.2 L88.9,449.5 L88.8,447.8 L88.8,446.1 L88.7,444.4 L88.6,442.7 L88.6,441 L88.5,439.3 L88.4,437.6 L88.3,435.9 L88.1,434.2 L88,432.5 L87.9,430.8 L87.7,429.1 L87.5,427.4 L87.4,425.7 L87.2,424 L87,422.3 L86.8,420.6 L86.6,418.9 L86.4,417.2 L86.2,415.5 L85.9,413.8 L85.7,412.1 L85.5,410.4 L85.4,408.8 L85.2,407.1 L85,405.4 L84.9,403.7 L84.7,402 L84.6,400.3 L84.6,398.6 L84.5,396.9 L84.5,395.2 L84.5,393.5 L84.5,391.8 L84.6,390.1 L84.7,388.4 L84.8,386.7 L85,385 L85.2,383.3 L85.5,381.6 L85.7,379.9 L86,378.2 L86.2,376.5 L86.5,374.8 L86.8,373.1 L87,371.4 L87.3,369.7 L87.5,368 L87.8,366.3 L88,364.6 L88.2,362.9 L88.3,361.2 L88.5,359.5 L88.6,357.8Z" fill="#ee6a72" stroke="#dc2430" stroke-width="0.85" stroke-linejoin="round"/>
<line x1="89.3" y1="359.8" x2="89.3" y2="386.4" stroke="#dc2430" stroke-width="0.5"/>
<line x1="89.3" y1="412.3" x2="89.3" y2="451.2" stroke="#dc2430" stroke-width="0.5"/>
<rect x="88.1" y="386.4" width="2.4" height="25.9" fill="#f07f86" stroke="#dc2430" stroke-width="0.6"/>
<circle cx="89.3" cy="397.6" r="0.75" fill="#dc2430"/>
<line x1="89.3" y1="507" x2="89.3" y2="509.5" stroke="#262626" stroke-width="1"/>
<text x="86.3" y="512.3" font-size="8.6" fill="#4d4d4d" transform="rotate(90 86.3 512.3)">ESM1v full−length</text>
<path d="M104.2,372.3 L104.5,373.8 L104.8,375.3 L105.1,376.8 L105.5,378.3 L105.9,379.8 L106.4,381.3 L106.9,382.8 L107.4,384.3 L107.9,385.8 L108.4,387.3 L108.8,388.8 L109.2,390.3 L109.5,391.8 L109.7,393.3 L109.8,394.9 L109.8,396.4 L109.8,397.9 L109.7,399.4 L109.6,400.9 L109.5,402.4 L109.3,403.9 L109.1,405.4 L108.9,406.9 L108.7,408.4 L108.4,409.9 L108.2,411.4 L107.9,412.9 L107.6,414.4 L107.3,415.9 L107,417.4 L106.7,418.9 L106.5,420.4 L106.2,421.9 L105.9,423.4 L105.7,424.9 L105.5,426.4 L105.3,427.9 L105.1,429.4 L104.9,430.9 L104.7,432.4 L104.6,433.9 L104.5,435.4 L104.3,436.9 L104.2,438.4 L104.1,439.9 L104.1,441.5 L104,443 L103.9,444.5 L103.9,446 L103.8,447.5 L103.8,449 L103.7,450.5 L103.7,452 L103.7,453.5 L103.6,455 L103.6,456.5 L103.6,458 L103.6,459.5 L103.6,461 L103.6,462.5 L103.1,462.5 L103.1,461 L103.1,459.5 L103.1,458 L103.1,456.5 L103.1,455 L103,453.5 L103,452 L103,450.5 L102.9,449 L102.9,447.5 L102.8,446 L102.8,444.5 L102.7,443 L102.6,441.5 L102.6,439.9 L102.5,438.4 L102.4,436.9 L102.2,435.4 L102.1,433.9 L102,432.4 L101.8,430.9 L101.6,429.4 L101.4,427.9 L101.2,426.4 L101,424.9 L100.8,423.4 L100.5,421.9 L100.2,420.4 L100,418.9 L99.7,417.4 L99.4,415.9 L99.1,414.4 L98.8,412.9 L98.6,411.4 L98.3,409.9 L98,408.4 L97.8,406.9 L97.6,405.4 L97.4,403.9 L97.2,402.4 L97.1,400.9 L97,399.4 L96.9,397.9 L96.9,396.4 L96.9,394.9 L97,393.3 L97.2,391.8 L97.5,390.3 L97.9,388.8 L98.3,387.3 L98.8,385.8 L99.3,384.3 L99.8,382.8 L100.3,381.3 L100.8,379.8 L101.2,378.3 L101.6,376.8 L101.9,375.3 L102.2,373.8 L102.5,372.3Z" fill="#ee6a72" stroke="#dc2430" stroke-width="0.85" stroke-linejoin="round"/>
<line x1="103.4" y1="374.3" x2="103.4" y2="393.5" stroke="#dc2430" stroke-width="0.5"/>
<line x1="103.4" y1="414.6" x2="103.4" y2="446.3" stroke="#dc2430" stroke-width="0.5"/>
<rect x="102.2" y="393.5" width="2.4" height="21.1" fill="#f07f86" stroke="#dc2430" stroke-width="0.6"/>
<circle cx="103.4" cy="402" r="0.75" fill="#dc2430"/>
<line x1="103.4" y1="507" x2="103.4" y2="509.5" stroke="#262626" stroke-width="1"/>
<text x="100.4" y="512.3" font-size="8.6" fill="#4d4d4d" transform="rotate(90 100.4 512.3)">Tranception</text>
<path d="M118.2,367.6 L118.4,369.1 L118.6,370.5 L118.9,372 L119.2,373.5 L119.5,375 L119.8,376.4 L120.2,377.9 L120.6,379.4 L121,380.8 L121.4,382.3 L121.8,383.8 L122.1,385.3 L122.4,386.7 L122.6,388.2 L122.8,389.7 L122.8,391.1 L122.8,392.6 L122.8,394.1 L122.8,395.6 L122.7,397 L122.6,398.5 L122.5,400 L122.3,401.4 L122.1,402.9 L122,404.4 L121.8,405.9 L121.6,407.3 L121.3,408.8 L121.1,410.3 L120.9,411.8 L120.7,413.2 L120.4,414.7 L120.2,416.2 L120,417.6 L119.8,419.1 L119.6,420.6 L119.4,422.1 L119.2,423.5 L119.1,425 L118.9,426.5 L118.8,427.9 L118.6,429.4 L118.5,430.9 L118.4,432.4 L118.3,433.8 L118.2,435.3 L118.1,436.8 L118,438.2 L118,439.7 L117.9,441.2 L117.9,442.7 L117.8,444.1 L117.8,445.6 L117.7,447.1 L117.7,448.5 L117.7,450 L117.7,451.5 L117.7,453 L117.7,454.4 L117.7,455.9 L117.2,455.9 L117.2,454.4 L117.2,453 L117.2,451.5 L117.2,450 L117.2,448.5 L117.2,447.1 L117.1,445.6 L117.1,444.1 L117,442.7 L117,441.2 L116.9,439.7 L116.9,438.2 L116.8,436.8 L116.7,435.3 L116.6,433.8 L116.5,432.4 L116.4,430.9 L116.3,429.4 L116.2,427.9 L116,426.5 L115.9,425 L115.7,423.5 L115.5,422.1 L115.3,420.6 L115.1,419.1 L114.9,417.6 L114.7,416.2 L114.5,414.7 L114.2,413.2 L114,411.8 L113.8,410.3 L113.6,408.8 L113.3,407.3 L113.1,405.9 L112.9,404.4 L112.8,402.9 L112.6,401.4 L112.4,400 L112.3,398.5 L112.2,397 L112.1,395.6 L112.1,394.1 L112.1,392.6 L112.1,391.1 L112.1,389.7 L112.3,388.2 L112.5,386.7 L112.8,385.3 L113.1,383.8 L113.5,382.3 L113.9,380.8 L114.3,379.4 L114.7,377.9 L115.1,376.4 L115.4,375 L115.7,373.5 L116,372 L116.3,370.5 L116.5,369.1 L116.7,367.6Z" fill="#ee6a72" stroke="#dc2430" stroke-width="0.85" stroke-linejoin="round"/>
<line x1="117.5" y1="369.6" x2="117.5" y2="388.2" stroke="#dc2430" stroke-width="0.5"/>
<line x1="117.5" y1="412.7" x2="117.5" y2="449.4" stroke="#dc2430" stroke-width="0.5"/>
<rect x="116.3" y="388.2" width="2.4" height="24.5" fill="#f07f86" stroke="#dc2430" stroke-width="0.6"/>
<circle cx="117.5" cy="399.1" r="0.75" fill="#dc2430"/>
<line x1="117.5" y1="507" x2="117.5" y2="509.5" stroke="#262626" stroke-width="1"/>
<text x="114.5" y="512.3" font-size="8.6" fill="#4d4d4d" transform="rotate(90 114.5 512.3)">AlphaMissense</text>
<path d="M132.2,369.1 L132.3,371 L132.5,372.9 L132.7,374.8 L133,376.7 L133.2,378.7 L133.5,380.6 L133.8,382.5 L134.1,384.4 L134.5,386.3 L134.8,388.2 L135.1,390.1 L135.4,392 L135.6,393.9 L135.8,395.8 L135.9,397.8 L136,399.7 L136,401.6 L136,403.5 L136,405.4 L135.9,407.3 L135.9,409.2 L135.8,411.1 L135.7,413 L135.5,414.9 L135.4,416.9 L135.2,418.8 L135.1,420.7 L134.9,422.6 L134.7,424.5 L134.5,426.4 L134.3,428.3 L134.1,430.2 L134,432.1 L133.8,434 L133.6,435.9 L133.4,437.9 L133.3,439.8 L133.1,441.7 L133,443.6 L132.8,445.5 L132.7,447.4 L132.6,449.3 L132.5,451.2 L132.4,453.1 L132.3,455.1 L132.2,457 L132.2,458.9 L132.1,460.8 L132,462.7 L132,464.6 L131.9,466.5 L131.9,468.4 L131.8,470.3 L131.8,472.2 L131.8,474.1 L131.8,476.1 L131.8,478 L131.8,479.9 L131.8,481.8 L131.8,483.7 L131.3,483.7 L131.3,481.8 L131.3,479.9 L131.3,478 L131.3,476.1 L131.3,474.1 L131.3,472.2 L131.2,470.3 L131.2,468.4 L131.2,466.5 L131.1,464.6 L131.1,462.7 L131,460.8 L130.9,458.9 L130.9,457 L130.8,455.1 L130.7,453.1 L130.6,451.2 L130.5,449.3 L130.4,447.4 L130.3,445.5 L130.1,443.6 L130,441.7 L129.8,439.8 L129.7,437.9 L129.5,435.9 L129.3,434 L129.1,432.1 L129,430.2 L128.8,428.3 L128.6,426.4 L128.4,424.5 L128.2,422.6 L128,420.7 L127.9,418.8 L127.7,416.9 L127.6,414.9 L127.4,413 L127.3,411.1 L127.2,409.2 L127.2,407.3 L127.1,405.4 L127.1,403.5 L127,401.6 L127.1,399.7 L127.2,397.8 L127.3,395.8 L127.5,393.9 L127.7,392 L128,390.1 L128.3,388.2 L128.6,386.3 L129,384.4 L129.3,382.5 L129.6,380.6 L129.9,378.7 L130.1,376.7 L130.4,374.8 L130.6,372.9 L130.8,371 L130.9,369.1Z" fill="#ee6a72" stroke="#dc2430" stroke-width="0.85" stroke-linejoin="round"/>
<line x1="131.5" y1="371.1" x2="131.5" y2="395.4" stroke="#dc2430" stroke-width="0.5"/>
<line x1="131.5" y1="424" x2="131.5" y2="466.9" stroke="#dc2430" stroke-width="0.5"/>
<rect x="130.3" y="395.4" width="2.4" height="28.6" fill="#f07f86" stroke="#dc2430" stroke-width="0.6"/>
<circle cx="131.5" cy="407" r="0.75" fill="#dc2430"/>
<line x1="131.5" y1="507" x2="131.5" y2="509.5" stroke="#262626" stroke-width="1"/>
<text x="128.5" y="512.3" font-size="8.6" fill="#4d4d4d" transform="rotate(90 128.5 512.3)">EVE</text>
<path d="M148,354 L148.3,355.5 L148.6,357.1 L148.9,358.6 L149.3,360.2 L149.6,361.7 L149.9,363.2 L150.2,364.8 L150.4,366.3 L150.7,367.9 L150.9,369.4 L151.1,371 L151.3,372.5 L151.4,374 L151.4,375.6 L151.4,377.1 L151.4,378.7 L151.4,380.2 L151.3,381.8 L151.2,383.3 L151,384.8 L150.8,386.4 L150.6,387.9 L150.4,389.5 L150.1,391 L149.9,392.5 L149.6,394.1 L149.4,395.6 L149.1,397.2 L148.8,398.7 L148.6,400.2 L148.3,401.8 L148.1,403.3 L147.9,404.9 L147.7,406.4 L147.5,408 L147.3,409.5 L147.1,411 L146.9,412.6 L146.8,414.1 L146.7,415.7 L146.6,417.2 L146.5,418.8 L146.4,420.3 L146.3,421.8 L146.2,423.4 L146.2,424.9 L146.1,426.5 L146.1,428 L146,429.5 L146,431.1 L146,432.6 L145.9,434.2 L145.9,435.7 L145.9,437.2 L145.9,438.8 L145.9,440.3 L145.9,441.9 L145.9,443.4 L145.9,445 L145.9,446.5 L145.4,446.5 L145.4,445 L145.4,443.4 L145.4,441.9 L145.4,440.3 L145.4,438.8 L145.4,437.2 L145.4,435.7 L145.4,434.2 L145.3,432.6 L145.3,431.1 L145.3,429.5 L145.2,428 L145.2,426.5 L145.1,424.9 L145.1,423.4 L145,421.8 L144.9,420.3 L144.8,418.8 L144.7,417.2 L144.6,415.7 L144.5,414.1 L144.3,412.6 L144.2,411 L144,409.5 L143.8,408 L143.6,406.4 L143.4,404.9 L143.2,403.3 L143,401.8 L142.7,400.2 L142.5,398.7 L142.2,397.2 L141.9,395.6 L141.7,394.1 L141.4,392.5 L141.1,391 L140.9,389.5 L140.7,387.9 L140.5,386.4 L140.3,384.8 L140.1,383.3 L140,381.8 L139.9,380.2 L139.9,378.7 L139.8,377.1 L139.9,375.6 L139.9,374 L140,372.5 L140.2,371 L140.4,369.4 L140.6,367.9 L140.9,366.3 L141.1,364.8 L141.4,363.2 L141.7,361.7 L142,360.2 L142.4,358.6 L142.7,357.1 L143,355.5 L143.3,354Z" fill="#7b8bc8" stroke="#28378c" stroke-width="0.85" stroke-linejoin="round"/>
<line x1="145.6" y1="356" x2="145.6" y2="372.3" stroke="#28378c" stroke-width="0.5"/>
<line x1="145.6" y1="402.3" x2="145.6" y2="444.5" stroke="#28378c" stroke-width="0.5"/>
<rect x="144.4" y="372.3" width="2.4" height="30" fill="#93a1d3" stroke="#28378c" stroke-width="0.6"/>
<circle cx="145.6" cy="381.1" r="0.75" fill="#28378c"/>
<line x1="145.6" y1="507" x2="145.6" y2="509.5" stroke="#262626" stroke-width="1"/>
<text x="142.6" y="512.3" font-size="8.6" fill="#4d4d4d" transform="rotate(90 142.6 512.3)">thermoMPNN</text>
<path d="M160.4,365.3 L160.6,366.9 L160.8,368.5 L161.1,370.2 L161.4,371.8 L161.8,373.4 L162.1,375 L162.5,376.6 L162.9,378.3 L163.3,379.9 L163.7,381.5 L164,383.1 L164.3,384.7 L164.5,386.4 L164.7,388 L164.7,389.6 L164.7,391.2 L164.7,392.8 L164.6,394.5 L164.5,396.1 L164.4,397.7 L164.3,399.3 L164.1,400.9 L163.9,402.6 L163.8,404.2 L163.5,405.8 L163.3,407.4 L163.1,409 L162.9,410.7 L162.7,412.3 L162.4,413.9 L162.2,415.5 L162,417.1 L161.8,418.8 L161.6,420.4 L161.4,422 L161.3,423.6 L161.1,425.2 L161,426.9 L160.9,428.5 L160.7,430.1 L160.6,431.7 L160.5,433.3 L160.5,435 L160.4,436.6 L160.3,438.2 L160.2,439.8 L160.2,441.4 L160.2,443.1 L160.1,444.7 L160.1,446.3 L160,447.9 L160,449.5 L160,451.2 L160,452.8 L160,454.4 L160,456 L160,457.6 L160,459.3 L160,460.9 L160,462.5 L159.5,462.5 L159.5,460.9 L159.5,459.3 L159.5,457.6 L159.5,456 L159.5,454.4 L159.5,452.8 L159.5,451.2 L159.5,449.5 L159.4,447.9 L159.4,446.3 L159.4,444.7 L159.3,443.1 L159.3,441.4 L159.2,439.8 L159.2,438.2 L159.1,436.6 L159,435 L159,433.3 L158.9,431.7 L158.8,430.1 L158.6,428.5 L158.5,426.9 L158.4,425.2 L158.2,423.6 L158.1,422 L157.9,420.4 L157.7,418.8 L157.5,417.1 L157.3,415.5 L157.1,413.9 L156.8,412.3 L156.6,410.7 L156.4,409 L156.2,407.4 L155.9,405.8 L155.7,404.2 L155.5,402.6 L155.4,400.9 L155.2,399.3 L155.1,397.7 L154.9,396.1 L154.9,394.5 L154.8,392.8 L154.8,391.2 L154.7,389.6 L154.8,388 L155,386.4 L155.2,384.7 L155.5,383.1 L155.8,381.5 L156.2,379.9 L156.6,378.3 L157,376.6 L157.4,375 L157.7,373.4 L158.1,371.8 L158.4,370.2 L158.6,368.5 L158.9,366.9 L159.1,365.3Z" fill="#7b8bc8" stroke="#28378c" stroke-width="0.85" stroke-linejoin="round"/>
<line x1="159.7" y1="367.3" x2="159.7" y2="383.6" stroke="#28378c" stroke-width="0.5"/>
<line x1="159.7" y1="411.7" x2="159.7" y2="453.8" stroke="#28378c" stroke-width="0.5"/>
<rect x="158.5" y="383.6" width="2.4" height="28.1" fill="#93a1d3" stroke="#28378c" stroke-width="0.6"/>
<circle cx="159.7" cy="396.7" r="0.75" fill="#28378c"/>
<line x1="159.7" y1="507" x2="159.7" y2="509.5" stroke="#262626" stroke-width="1"/>
<text x="156.7" y="512.3" font-size="8.6" fill="#4d4d4d" transform="rotate(90 156.7 512.3)">FoldX</text>
<path d="M174.6,379.8 L174.8,381.1 L175,382.3 L175.2,383.6 L175.5,384.9 L175.8,386.1 L176.1,387.4 L176.5,388.7 L176.8,389.9 L177.2,391.2 L177.6,392.5 L177.9,393.8 L178.3,395 L178.6,396.3 L178.9,397.6 L179.1,398.8 L179.3,400.1 L179.5,401.4 L179.5,402.6 L179.5,403.9 L179.5,405.2 L179.5,406.4 L179.4,407.7 L179.3,409 L179.2,410.2 L179,411.5 L178.8,412.8 L178.7,414 L178.5,415.3 L178.2,416.6 L178,417.9 L177.8,419.1 L177.6,420.4 L177.3,421.7 L177.1,422.9 L176.9,424.2 L176.6,425.5 L176.4,426.7 L176.2,428 L176,429.3 L175.8,430.5 L175.6,431.8 L175.5,433.1 L175.3,434.3 L175.2,435.6 L175,436.9 L174.9,438.1 L174.8,439.4 L174.7,440.7 L174.6,441.9 L174.5,443.2 L174.4,444.5 L174.4,445.8 L174.3,447 L174.3,448.3 L174.2,449.6 L174.2,450.8 L174.1,452.1 L174.1,453.4 L174.1,454.6 L174.1,455.9 L173.6,455.9 L173.6,454.6 L173.6,453.4 L173.6,452.1 L173.5,450.8 L173.5,449.6 L173.4,448.3 L173.4,447 L173.3,445.8 L173.3,444.5 L173.2,443.2 L173.1,441.9 L173,440.7 L172.9,439.4 L172.8,438.1 L172.7,436.9 L172.5,435.6 L172.4,434.3 L172.2,433.1 L172,431.8 L171.9,430.5 L171.7,429.3 L171.5,428 L171.3,426.7 L171,425.5 L170.8,424.2 L170.6,422.9 L170.4,421.7 L170.1,420.4 L169.9,419.1 L169.7,417.9 L169.4,416.6 L169.2,415.3 L169,414 L168.9,412.8 L168.7,411.5 L168.5,410.2 L168.4,409 L168.3,407.7 L168.2,406.4 L168.2,405.2 L168.1,403.9 L168.2,402.6 L168.2,401.4 L168.4,400.1 L168.5,398.8 L168.8,397.6 L169.1,396.3 L169.4,395 L169.7,393.8 L170.1,392.5 L170.5,391.2 L170.9,389.9 L171.2,388.7 L171.6,387.4 L171.9,386.1 L172.2,384.9 L172.4,383.6 L172.7,382.3 L172.9,381.1 L173.1,379.8Z" fill="#7b8bc8" stroke="#28378c" stroke-width="0.85" stroke-linejoin="round"/>
<line x1="173.8" y1="381.8" x2="173.8" y2="394.8" stroke="#28378c" stroke-width="0.5"/>
<line x1="173.8" y1="419.3" x2="173.8" y2="453.9" stroke="#28378c" stroke-width="0.5"/>
<rect x="172.6" y="394.8" width="2.4" height="24.5" fill="#93a1d3" stroke="#28378c" stroke-width="0.6"/>
<circle cx="173.8" cy="406.7" r="0.75" fill="#28378c"/>
<line x1="173.8" y1="507" x2="173.8" y2="509.5" stroke="#262626" stroke-width="1"/>
<text x="170.8" y="512.3" font-size="8.6" fill="#4d4d4d" transform="rotate(90 170.8 512.3)">ddmut</text>
<path d="M188.7,375.5 L188.9,377 L189.1,378.6 L189.3,380.1 L189.6,381.7 L189.9,383.2 L190.2,384.8 L190.5,386.3 L190.9,387.8 L191.3,389.4 L191.6,390.9 L192,392.5 L192.3,394 L192.7,395.6 L192.9,397.1 L193.1,398.7 L193.3,400.2 L193.4,401.7 L193.4,403.3 L193.4,404.8 L193.4,406.4 L193.3,407.9 L193.2,409.5 L193.1,411 L193,412.5 L192.9,414.1 L192.7,415.6 L192.5,417.2 L192.3,418.7 L192.1,420.3 L191.9,421.8 L191.7,423.3 L191.5,424.9 L191.2,426.4 L191,428 L190.8,429.5 L190.6,431.1 L190.4,432.6 L190.2,434.1 L190,435.7 L189.8,437.2 L189.6,438.8 L189.5,440.3 L189.3,441.9 L189.2,443.4 L189.1,445 L188.9,446.5 L188.8,448 L188.7,449.6 L188.7,451.1 L188.6,452.7 L188.5,454.2 L188.4,455.8 L188.4,457.3 L188.3,458.8 L188.3,460.4 L188.2,461.9 L188.2,463.5 L188.2,465 L188.2,466.6 L188.2,468.1 L187.7,468.1 L187.7,466.6 L187.7,465 L187.7,463.5 L187.6,461.9 L187.6,460.4 L187.6,458.8 L187.5,457.3 L187.4,455.8 L187.4,454.2 L187.3,452.7 L187.2,451.1 L187.1,449.6 L187,448 L186.9,446.5 L186.8,445 L186.7,443.4 L186.6,441.9 L186.4,440.3 L186.2,438.8 L186.1,437.2 L185.9,435.7 L185.7,434.1 L185.5,432.6 L185.3,431.1 L185.1,429.5 L184.9,428 L184.7,426.4 L184.4,424.9 L184.2,423.3 L184,421.8 L183.8,420.3 L183.6,418.7 L183.4,417.2 L183.2,415.6 L183,414.1 L182.9,412.5 L182.8,411 L182.6,409.5 L182.6,407.9 L182.5,406.4 L182.5,404.8 L182.4,403.3 L182.5,401.7 L182.6,400.2 L182.7,398.7 L183,397.1 L183.2,395.6 L183.5,394 L183.9,392.5 L184.2,390.9 L184.6,389.4 L185,387.8 L185.3,386.3 L185.7,384.8 L186,383.2 L186.3,381.7 L186.6,380.1 L186.8,378.6 L187,377 L187.2,375.5Z" fill="#7b8bc8" stroke="#28378c" stroke-width="0.85" stroke-linejoin="round"/>
<line x1="187.9" y1="377.5" x2="187.9" y2="394.4" stroke="#28378c" stroke-width="0.5"/>
<line x1="187.9" y1="418.3" x2="187.9" y2="454.2" stroke="#28378c" stroke-width="0.5"/>
<rect x="186.7" y="394.4" width="2.4" height="23.9" fill="#93a1d3" stroke="#28378c" stroke-width="0.6"/>
<circle cx="187.9" cy="407" r="0.75" fill="#28378c"/>
<line x1="187.9" y1="507" x2="187.9" y2="509.5" stroke="#262626" stroke-width="1"/>
<text x="184.9" y="512.3" font-size="8.6" fill="#4d4d4d" transform="rotate(90 184.9 512.3)">RaSP</text>
<path d="M202.8,378.9 L203,380.4 L203.2,382 L203.4,383.5 L203.7,385 L204,386.5 L204.4,388.1 L204.8,389.6 L205.1,391.1 L205.5,392.6 L205.9,394.2 L206.3,395.7 L206.6,397.2 L206.9,398.7 L207.2,400.3 L207.4,401.8 L207.5,403.3 L207.5,404.9 L207.5,406.4 L207.5,407.9 L207.4,409.4 L207.4,411 L207.3,412.5 L207.1,414 L207,415.5 L206.8,417.1 L206.6,418.6 L206.4,420.1 L206.2,421.6 L206,423.2 L205.8,424.7 L205.6,426.2 L205.3,427.8 L205.1,429.3 L204.9,430.8 L204.7,432.3 L204.5,433.9 L204.3,435.4 L204.1,436.9 L203.9,438.4 L203.7,440 L203.6,441.5 L203.4,443 L203.3,444.5 L203.2,446.1 L203,447.6 L202.9,449.1 L202.8,450.7 L202.8,452.2 L202.7,453.7 L202.6,455.2 L202.5,456.8 L202.5,458.3 L202.4,459.8 L202.4,461.3 L202.4,462.9 L202.3,464.4 L202.3,465.9 L202.3,467.4 L202.3,469 L202.3,470.5 L201.8,470.5 L201.8,469 L201.8,467.4 L201.8,465.9 L201.8,464.4 L201.7,462.9 L201.7,461.3 L201.6,459.8 L201.6,458.3 L201.5,456.8 L201.5,455.2 L201.4,453.7 L201.3,452.2 L201.2,450.7 L201.1,449.1 L201,447.6 L200.9,446.1 L200.8,444.5 L200.7,443 L200.5,441.5 L200.4,440 L200.2,438.4 L200,436.9 L199.8,435.4 L199.6,433.9 L199.4,432.3 L199.2,430.8 L199,429.3 L198.7,427.8 L198.5,426.2 L198.3,424.7 L198.1,423.2 L197.9,421.6 L197.7,420.1 L197.5,418.6 L197.3,417.1 L197.1,415.5 L197,414 L196.8,412.5 L196.7,411 L196.6,409.4 L196.6,407.9 L196.5,406.4 L196.5,404.9 L196.6,403.3 L196.7,401.8 L196.9,400.3 L197.2,398.7 L197.5,397.2 L197.8,395.7 L198.2,394.2 L198.6,392.6 L198.9,391.1 L199.3,389.6 L199.7,388.1 L200,386.5 L200.3,385 L200.6,383.5 L200.9,382 L201.1,380.4 L201.3,378.9Z" fill="#f1c57c" stroke="#dea43c" stroke-width="0.85" stroke-linejoin="round"/>
<line x1="202" y1="380.9" x2="202" y2="396.7" stroke="#dea43c" stroke-width="0.5"/>
<line x1="202" y1="422" x2="202" y2="460" stroke="#dea43c" stroke-width="0.5"/>
<rect x="200.8" y="396.7" width="2.4" height="25.3" fill="#f4d394" stroke="#dea43c" stroke-width="0.6"/>
<circle cx="202" cy="408.9" r="0.75" fill="#dea43c"/>
<line x1="202" y1="507" x2="202" y2="509.5" stroke="#262626" stroke-width="1"/>
<text x="199" y="512.3" font-size="8.6" fill="#4d4d4d" transform="rotate(90 199 512.3)">rsasa</text>
<line x1="38.5" y1="507" x2="210.5" y2="507" stroke="#262626" stroke-width="1"/>
<rect x="216.5" y="319.3" width="171.9" height="14.1" fill="#ffffff" stroke="#1a1a1a" stroke-width="0.9"/>
<text x="303.2" y="328.8" font-size="8.6" fill="#1a1a1a" text-anchor="middle">yes</text>
<text x="380" y="345.3" font-size="8.6" fill="#000" text-anchor="end">n = 221 domains</text>
<path d="M225.6,359.1 L225.8,360.8 L226,362.4 L226.2,364.1 L226.4,365.7 L226.6,367.4 L226.9,369.1 L227.2,370.7 L227.5,372.4 L227.8,374 L228.1,375.7 L228.4,377.4 L228.7,379 L229,380.7 L229.2,382.3 L229.5,384 L229.7,385.7 L229.9,387.3 L230,389 L230,390.6 L230.1,392.3 L230,394 L230,395.6 L229.9,397.3 L229.8,398.9 L229.7,400.6 L229.6,402.3 L229.4,403.9 L229.3,405.6 L229.1,407.2 L228.9,408.9 L228.7,410.6 L228.5,412.2 L228.3,413.9 L228,415.5 L227.8,417.2 L227.6,418.9 L227.4,420.5 L227.2,422.2 L227,423.8 L226.8,425.5 L226.7,427.2 L226.5,428.8 L226.3,430.5 L226.2,432.1 L226.1,433.8 L226,435.5 L225.8,437.1 L225.7,438.8 L225.7,440.4 L225.6,442.1 L225.5,443.8 L225.4,445.4 L225.4,447.1 L225.3,448.7 L225.3,450.4 L225.2,452.1 L225.2,453.7 L225.2,455.4 L225.2,457 L225.2,458.7 L224.7,458.7 L224.7,457 L224.7,455.4 L224.7,453.7 L224.7,452.1 L224.6,450.4 L224.6,448.7 L224.5,447.1 L224.5,445.4 L224.4,443.8 L224.3,442.1 L224.3,440.4 L224.2,438.8 L224.1,437.1 L224,435.5 L223.8,433.8 L223.7,432.1 L223.6,430.5 L223.4,428.8 L223.2,427.2 L223.1,425.5 L222.9,423.8 L222.7,422.2 L222.5,420.5 L222.3,418.9 L222.1,417.2 L221.9,415.5 L221.7,413.9 L221.4,412.2 L221.2,410.6 L221,408.9 L220.8,407.2 L220.6,405.6 L220.5,403.9 L220.3,402.3 L220.2,400.6 L220.1,398.9 L220,397.3 L219.9,395.6 L219.9,394 L219.9,392.3 L219.9,390.6 L219.9,389 L220.1,387.3 L220.2,385.7 L220.4,384 L220.7,382.3 L220.9,380.7 L221.2,379 L221.5,377.4 L221.8,375.7 L222.1,374 L222.4,372.4 L222.7,370.7 L223,369.1 L223.3,367.4 L223.5,365.7 L223.7,364.1 L223.9,362.4 L224.1,360.8 L224.3,359.1Z" fill="#ee6a72" stroke="#dc2430" stroke-width="0.85" stroke-linejoin="round"/>
<line x1="225" y1="361.1" x2="225" y2="384.5" stroke="#dc2430" stroke-width="0.5"/>
<line x1="225" y1="407" x2="225" y2="440.8" stroke="#dc2430" stroke-width="0.5"/>
<rect x="223.8" y="384.5" width="2.4" height="22.5" fill="#f07f86" stroke="#dc2430" stroke-width="0.6"/>
<circle cx="225" cy="395.8" r="0.75" fill="#dc2430"/>
<line x1="225" y1="507" x2="225" y2="509.5" stroke="#262626" stroke-width="1"/>
<text x="222" y="512.3" font-size="8.6" fill="#4d4d4d" transform="rotate(90 222 512.3)">EVE domain</text>
<path d="M239.6,345.4 L239.7,347.5 L239.9,349.6 L240,351.7 L240.2,353.7 L240.3,355.8 L240.5,357.9 L240.7,360 L240.9,362.1 L241.1,364.2 L241.3,366.2 L241.6,368.3 L241.8,370.4 L242,372.5 L242.2,374.6 L242.5,376.7 L242.7,378.8 L242.9,380.8 L243,382.9 L243.2,385 L243.3,387.1 L243.4,389.2 L243.4,391.3 L243.4,393.4 L243.4,395.4 L243.4,397.5 L243.3,399.6 L243.3,401.7 L243.2,403.8 L243,405.9 L242.9,407.9 L242.7,410 L242.5,412.1 L242.4,414.2 L242.2,416.3 L242,418.4 L241.8,420.5 L241.6,422.5 L241.4,424.6 L241.2,426.7 L241,428.8 L240.8,430.9 L240.6,433 L240.5,435.1 L240.3,437.1 L240.2,439.2 L240,441.3 L239.9,443.4 L239.8,445.5 L239.7,447.6 L239.6,449.6 L239.6,451.7 L239.5,453.8 L239.4,455.9 L239.4,458 L239.3,460.1 L239.3,462.2 L239.3,464.2 L239.3,466.3 L239.3,468.4 L239.3,470.5 L238.8,470.5 L238.8,468.4 L238.8,466.3 L238.8,464.2 L238.8,462.2 L238.7,460.1 L238.7,458 L238.6,455.9 L238.6,453.8 L238.5,451.7 L238.4,449.6 L238.4,447.6 L238.3,445.5 L238.2,443.4 L238,441.3 L237.9,439.2 L237.8,437.1 L237.6,435.1 L237.5,433 L237.3,430.9 L237.1,428.8 L236.9,426.7 L236.7,424.6 L236.5,422.5 L236.3,420.5 L236.1,418.4 L235.9,416.3 L235.7,414.2 L235.5,412.1 L235.4,410 L235.2,407.9 L235.1,405.9 L234.9,403.8 L234.8,401.7 L234.7,399.6 L234.7,397.5 L234.7,395.4 L234.6,393.4 L234.7,391.3 L234.7,389.2 L234.8,387.1 L234.9,385 L235.1,382.9 L235.2,380.8 L235.4,378.8 L235.6,376.7 L235.8,374.6 L236.1,372.5 L236.3,370.4 L236.5,368.3 L236.7,366.2 L237,364.2 L237.2,362.1 L237.4,360 L237.6,357.9 L237.8,355.8 L237.9,353.7 L238.1,351.7 L238.2,349.6 L238.3,347.5 L238.4,345.4Z" fill="#ee6a72" stroke="#dc2430" stroke-width="0.85" stroke-linejoin="round"/>
<line x1="239" y1="347.4" x2="239" y2="375.1" stroke="#dc2430" stroke-width="0.5"/>
<line x1="239" y1="404.2" x2="239" y2="447.8" stroke="#dc2430" stroke-width="0.5"/>
<rect x="237.8" y="375.1" width="2.4" height="29.1" fill="#f07f86" stroke="#dc2430" stroke-width="0.6"/>
<circle cx="239" cy="390.1" r="0.75" fill="#dc2430"/>
<line x1="239" y1="507" x2="239" y2="509.5" stroke="#262626" stroke-width="1"/>
<text x="236" y="512.3" font-size="8.6" fill="#4d4d4d" transform="rotate(90 236 512.3)">ESM1v domain</text>
<path d="M253.7,352.9 L253.8,354.8 L253.9,356.7 L254.1,358.7 L254.2,360.6 L254.4,362.5 L254.6,364.4 L254.8,366.3 L255,368.3 L255.2,370.2 L255.4,372.1 L255.6,374 L255.8,375.9 L256,377.9 L256.3,379.8 L256.5,381.7 L256.7,383.6 L256.9,385.5 L257,387.5 L257.2,389.4 L257.3,391.3 L257.4,393.2 L257.4,395.1 L257.4,397.1 L257.4,399 L257.4,400.9 L257.3,402.8 L257.3,404.7 L257.2,406.7 L257,408.6 L256.9,410.5 L256.7,412.4 L256.6,414.3 L256.4,416.3 L256.2,418.2 L256,420.1 L255.8,422 L255.6,423.9 L255.4,425.9 L255.2,427.8 L255,429.7 L254.8,431.6 L254.7,433.5 L254.5,435.5 L254.4,437.4 L254.2,439.3 L254.1,441.2 L254,443.1 L253.9,445.1 L253.8,447 L253.7,448.9 L253.6,450.8 L253.6,452.7 L253.5,454.7 L253.5,456.6 L253.4,458.5 L253.4,460.4 L253.4,462.3 L253.4,464.3 L253.4,466.2 L253.4,468.1 L252.9,468.1 L252.9,466.2 L252.9,464.3 L252.9,462.3 L252.9,460.4 L252.8,458.5 L252.8,456.6 L252.7,454.7 L252.7,452.7 L252.6,450.8 L252.5,448.9 L252.5,447 L252.4,445.1 L252.3,443.1 L252.2,441.2 L252,439.3 L251.9,437.4 L251.8,435.5 L251.6,433.5 L251.4,431.6 L251.3,429.7 L251.1,427.8 L250.9,425.9 L250.7,423.9 L250.5,422 L250.3,420.1 L250.1,418.2 L249.9,416.3 L249.7,414.3 L249.5,412.4 L249.4,410.5 L249.2,408.6 L249.1,406.7 L249,404.7 L248.9,402.8 L248.9,400.9 L248.8,399 L248.8,397.1 L248.9,395.1 L248.9,393.2 L249,391.3 L249.1,389.4 L249.3,387.5 L249.4,385.5 L249.6,383.6 L249.8,381.7 L250,379.8 L250.2,377.9 L250.4,375.9 L250.7,374 L250.9,372.1 L251.1,370.2 L251.3,368.3 L251.5,366.3 L251.7,364.4 L251.9,362.5 L252,360.6 L252.2,358.7 L252.3,356.7 L252.4,354.8 L252.6,352.9Z" fill="#ee6a72" stroke="#dc2430" stroke-width="0.85" stroke-linejoin="round"/>
<line x1="253.1" y1="354.9" x2="253.1" y2="384.5" stroke="#dc2430" stroke-width="0.5"/>
<line x1="253.1" y1="413.6" x2="253.1" y2="457.3" stroke="#dc2430" stroke-width="0.5"/>
<rect x="251.9" y="384.5" width="2.4" height="29.1" fill="#f07f86" stroke="#dc2430" stroke-width="0.6"/>
<circle cx="253.1" cy="397.6" r="0.75" fill="#dc2430"/>
<line x1="253.1" y1="507" x2="253.1" y2="509.5" stroke="#262626" stroke-width="1"/>
<text x="250.1" y="512.3" font-size="8.6" fill="#4d4d4d" transform="rotate(90 250.1 512.3)">popEVE</text>
<path d="M267.9,353.5 L268,355.2 L268.1,357 L268.2,358.7 L268.4,360.4 L268.5,362.2 L268.7,363.9 L268.9,365.6 L269.1,367.4 L269.3,369.1 L269.5,370.8 L269.7,372.5 L269.9,374.3 L270.1,376 L270.4,377.7 L270.6,379.5 L270.8,381.2 L271,382.9 L271.2,384.7 L271.4,386.4 L271.5,388.1 L271.6,389.9 L271.8,391.6 L271.8,393.3 L271.9,395.1 L271.9,396.8 L271.9,398.5 L271.9,400.3 L271.8,402 L271.7,403.7 L271.6,405.4 L271.5,407.2 L271.3,408.9 L271.1,410.6 L270.9,412.4 L270.7,414.1 L270.4,415.8 L270.2,417.6 L270,419.3 L269.8,421 L269.5,422.8 L269.3,424.5 L269.1,426.2 L268.9,428 L268.7,429.7 L268.6,431.4 L268.4,433.2 L268.3,434.9 L268.1,436.6 L268,438.4 L267.9,440.1 L267.8,441.8 L267.7,443.5 L267.7,445.3 L267.6,447 L267.6,448.7 L267.5,450.5 L267.5,452.2 L267.5,453.9 L267.5,455.7 L267.5,457.4 L267,457.4 L267,455.7 L267,453.9 L267,452.2 L266.9,450.5 L266.9,448.7 L266.8,447 L266.8,445.3 L266.7,443.5 L266.6,441.8 L266.5,440.1 L266.4,438.4 L266.3,436.6 L266.2,434.9 L266,433.2 L265.9,431.4 L265.7,429.7 L265.5,428 L265.3,426.2 L265.1,424.5 L264.9,422.8 L264.7,421 L264.5,419.3 L264.2,417.6 L264,415.8 L263.8,414.1 L263.6,412.4 L263.4,410.6 L263.2,408.9 L263,407.2 L262.8,405.4 L262.7,403.7 L262.6,402 L262.6,400.3 L262.5,398.5 L262.5,396.8 L262.6,395.1 L262.6,393.3 L262.7,391.6 L262.8,389.9 L262.9,388.1 L263.1,386.4 L263.3,384.7 L263.5,382.9 L263.7,381.2 L263.9,379.5 L264.1,377.7 L264.3,376 L264.5,374.3 L264.8,372.5 L265,370.8 L265.2,369.1 L265.4,367.4 L265.6,365.6 L265.8,363.9 L265.9,362.2 L266.1,360.4 L266.2,358.7 L266.4,357 L266.5,355.2 L266.6,353.5Z" fill="#ee6a72" stroke="#dc2430" stroke-width="0.85" stroke-linejoin="round"/>
<line x1="267.2" y1="355.5" x2="267.2" y2="386.4" stroke="#dc2430" stroke-width="0.5"/>
<line x1="267.2" y1="412.7" x2="267.2" y2="452.1" stroke="#dc2430" stroke-width="0.5"/>
<rect x="266" y="386.4" width="2.4" height="26.3" fill="#f07f86" stroke="#dc2430" stroke-width="0.6"/>
<circle cx="267.2" cy="398" r="0.75" fill="#dc2430"/>
<line x1="267.2" y1="507" x2="267.2" y2="509.5" stroke="#262626" stroke-width="1"/>
<text x="264.2" y="512.3" font-size="8.6" fill="#4d4d4d" transform="rotate(90 264.2 512.3)">ESM1v full−length</text>
<path d="M282.1,370.4 L282.2,371.6 L282.4,372.7 L282.5,373.9 L282.7,375 L282.8,376.2 L283,377.3 L283.2,378.5 L283.4,379.7 L283.6,380.8 L283.9,382 L284.1,383.1 L284.3,384.3 L284.6,385.5 L284.8,386.6 L285.1,387.8 L285.3,388.9 L285.6,390.1 L285.8,391.2 L286.1,392.4 L286.3,393.6 L286.5,394.7 L286.6,395.9 L286.8,397 L286.9,398.2 L287,399.4 L287.1,400.5 L287.2,401.7 L287.2,402.8 L287.2,404 L287.2,405.1 L287.1,406.3 L287.1,407.5 L287,408.6 L286.9,409.8 L286.7,410.9 L286.6,412.1 L286.4,413.3 L286.2,414.4 L286,415.6 L285.8,416.7 L285.6,417.9 L285.4,419 L285.2,420.2 L284.9,421.4 L284.7,422.5 L284.5,423.7 L284.3,424.8 L284,426 L283.8,427.2 L283.6,428.3 L283.4,429.5 L283.2,430.6 L283.1,431.8 L282.9,432.9 L282.7,434.1 L282.6,435.3 L282.5,436.4 L282.3,437.6 L282.2,438.7 L282.1,439.9 L280.5,439.9 L280.4,438.7 L280.3,437.6 L280.2,436.4 L280,435.3 L279.9,434.1 L279.7,432.9 L279.6,431.8 L279.4,430.6 L279.2,429.5 L279,428.3 L278.8,427.2 L278.6,426 L278.4,424.8 L278.1,423.7 L277.9,422.5 L277.7,421.4 L277.5,420.2 L277.2,419 L277,417.9 L276.8,416.7 L276.6,415.6 L276.4,414.4 L276.2,413.3 L276.1,412.1 L275.9,410.9 L275.8,409.8 L275.7,408.6 L275.6,407.5 L275.5,406.3 L275.4,405.1 L275.4,404 L275.4,402.8 L275.4,401.7 L275.5,400.5 L275.6,399.4 L275.7,398.2 L275.8,397 L276,395.9 L276.2,394.7 L276.4,393.6 L276.6,392.4 L276.8,391.2 L277,390.1 L277.3,388.9 L277.5,387.8 L277.8,386.6 L278,385.5 L278.3,384.3 L278.5,383.1 L278.8,382 L279,380.8 L279.2,379.7 L279.4,378.5 L279.6,377.3 L279.8,376.2 L280,375 L280.1,373.9 L280.3,372.7 L280.4,371.6 L280.5,370.4Z" fill="#ee6a72" stroke="#dc2430" stroke-width="0.85" stroke-linejoin="round"/>
<line x1="281.3" y1="372.4" x2="281.3" y2="395.8" stroke="#dc2430" stroke-width="0.5"/>
<line x1="281.3" y1="414.6" x2="281.3" y2="437.9" stroke="#dc2430" stroke-width="0.5"/>
<rect x="280.1" y="395.8" width="2.4" height="18.8" fill="#f07f86" stroke="#dc2430" stroke-width="0.6"/>
<circle cx="281.3" cy="404.8" r="0.75" fill="#dc2430"/>
<line x1="281.3" y1="507" x2="281.3" y2="509.5" stroke="#262626" stroke-width="1"/>
<text x="278.3" y="512.3" font-size="8.6" fill="#4d4d4d" transform="rotate(90 278.3 512.3)">Tranception</text>
<path d="M296,360.4 L296.1,362.2 L296.2,364 L296.3,365.8 L296.4,367.6 L296.6,369.4 L296.7,371.3 L296.9,373.1 L297.1,374.9 L297.3,376.7 L297.5,378.5 L297.7,380.3 L297.9,382.1 L298.1,383.9 L298.3,385.7 L298.5,387.6 L298.7,389.4 L298.9,391.2 L299,393 L299.2,394.8 L299.3,396.6 L299.4,398.4 L299.5,400.2 L299.6,402 L299.6,403.8 L299.6,405.6 L299.6,407.5 L299.5,409.3 L299.5,411.1 L299.4,412.9 L299.2,414.7 L299.1,416.5 L298.9,418.3 L298.8,420.1 L298.6,421.9 L298.4,423.8 L298.2,425.6 L298,427.4 L297.8,429.2 L297.6,431 L297.4,432.8 L297.2,434.6 L297,436.4 L296.9,438.2 L296.7,440 L296.6,441.9 L296.4,443.7 L296.3,445.5 L296.2,447.3 L296.1,449.1 L296,450.9 L295.9,452.7 L295.9,454.5 L295.8,456.3 L295.7,458.1 L295.7,459.9 L295.7,461.8 L295.7,463.6 L295.7,465.4 L295.7,467.2 L295.7,469 L295.2,469 L295.2,467.2 L295.2,465.4 L295.2,463.6 L295.1,461.8 L295.1,459.9 L295.1,458.1 L295,456.3 L294.9,454.5 L294.9,452.7 L294.8,450.9 L294.7,449.1 L294.6,447.3 L294.5,445.5 L294.4,443.7 L294.2,441.9 L294.1,440 L293.9,438.2 L293.8,436.4 L293.6,434.6 L293.4,432.8 L293.2,431 L293,429.2 L292.8,427.4 L292.6,425.6 L292.4,423.8 L292.2,421.9 L292,420.1 L291.9,418.3 L291.7,416.5 L291.6,414.7 L291.4,412.9 L291.3,411.1 L291.3,409.3 L291.2,407.5 L291.2,405.6 L291.2,403.8 L291.2,402 L291.3,400.2 L291.4,398.4 L291.5,396.6 L291.6,394.8 L291.8,393 L292,391.2 L292.1,389.4 L292.3,387.6 L292.5,385.7 L292.7,383.9 L292.9,382.1 L293.1,380.3 L293.3,378.5 L293.5,376.7 L293.7,374.9 L293.9,373.1 L294.1,371.3 L294.2,369.4 L294.4,367.6 L294.5,365.8 L294.6,364 L294.7,362.2 L294.8,360.4Z" fill="#ee6a72" stroke="#dc2430" stroke-width="0.85" stroke-linejoin="round"/>
<line x1="295.4" y1="362.4" x2="295.4" y2="392" stroke="#dc2430" stroke-width="0.5"/>
<line x1="295.4" y1="421.1" x2="295.4" y2="464.8" stroke="#dc2430" stroke-width="0.5"/>
<rect x="294.2" y="392" width="2.4" height="29.1" fill="#f07f86" stroke="#dc2430" stroke-width="0.6"/>
<circle cx="295.4" cy="405.2" r="0.75" fill="#dc2430"/>
<line x1="295.4" y1="507" x2="295.4" y2="509.5" stroke="#262626" stroke-width="1"/>
<text x="292.4" y="512.3" font-size="8.6" fill="#4d4d4d" transform="rotate(90 292.4 512.3)">AlphaMissense</text>
<path d="M310.1,368.5 L310.2,370.3 L310.3,372 L310.5,373.8 L310.6,375.6 L310.8,377.4 L310.9,379.1 L311.1,380.9 L311.3,382.7 L311.5,384.4 L311.7,386.2 L311.9,388 L312.1,389.7 L312.3,391.5 L312.5,393.3 L312.7,395.1 L312.9,396.8 L313.1,398.6 L313.3,400.4 L313.5,402.1 L313.7,403.9 L313.8,405.7 L313.9,407.4 L314,409.2 L314.1,411 L314.2,412.8 L314.2,414.5 L314.2,416.3 L314.2,418.1 L314.1,419.8 L314.1,421.6 L314,423.4 L314,425.1 L313.9,426.9 L313.8,428.7 L313.6,430.4 L313.5,432.2 L313.4,434 L313.2,435.8 L313.1,437.5 L312.9,439.3 L312.7,441.1 L312.6,442.8 L312.4,444.6 L312.2,446.4 L312.1,448.1 L311.9,449.9 L311.7,451.7 L311.6,453.5 L311.4,455.2 L311.3,457 L311.1,458.8 L311,460.5 L310.8,462.3 L310.7,464.1 L310.6,465.8 L310.5,467.6 L310.4,469.4 L310.3,471.2 L310.2,472.9 L310.1,474.7 L308.9,474.7 L308.8,472.9 L308.7,471.2 L308.6,469.4 L308.5,467.6 L308.4,465.8 L308.3,464.1 L308.1,462.3 L308,460.5 L307.9,458.8 L307.7,457 L307.6,455.2 L307.4,453.5 L307.3,451.7 L307.1,449.9 L306.9,448.1 L306.8,446.4 L306.6,444.6 L306.4,442.8 L306.3,441.1 L306.1,439.3 L305.9,437.5 L305.8,435.8 L305.6,434 L305.5,432.2 L305.4,430.4 L305.2,428.7 L305.1,426.9 L305,425.1 L305,423.4 L304.9,421.6 L304.8,419.8 L304.8,418.1 L304.8,416.3 L304.8,414.5 L304.8,412.8 L304.9,411 L305,409.2 L305.1,407.4 L305.2,405.7 L305.3,403.9 L305.5,402.1 L305.7,400.4 L305.9,398.6 L306.1,396.8 L306.3,395.1 L306.5,393.3 L306.7,391.5 L306.9,389.7 L307.1,388 L307.3,386.2 L307.5,384.4 L307.7,382.7 L307.9,380.9 L308.1,379.1 L308.2,377.4 L308.4,375.6 L308.5,373.8 L308.6,372 L308.8,370.3 L308.9,368.5Z" fill="#ee6a72" stroke="#dc2430" stroke-width="0.85" stroke-linejoin="round"/>
<line x1="309.5" y1="370.5" x2="309.5" y2="399.5" stroke="#dc2430" stroke-width="0.5"/>
<line x1="309.5" y1="424" x2="309.5" y2="460.8" stroke="#dc2430" stroke-width="0.5"/>
<rect x="308.3" y="399.5" width="2.4" height="24.5" fill="#f07f86" stroke="#dc2430" stroke-width="0.6"/>
<circle cx="309.5" cy="412.7" r="0.75" fill="#dc2430"/>
<line x1="309.5" y1="507" x2="309.5" y2="509.5" stroke="#262626" stroke-width="1"/>
<text x="306.5" y="512.3" font-size="8.6" fill="#4d4d4d" transform="rotate(90 306.5 512.3)">EVE</text>
<path d="M325.8,355.4 L326.3,357.5 L326.8,359.6 L327.3,361.7 L327.8,363.8 L328.2,365.9 L328.6,368 L328.8,370.1 L329,372.2 L329,374.3 L328.9,376.4 L328.7,378.5 L328.4,380.6 L328.1,382.7 L327.7,384.8 L327.3,386.9 L326.9,389 L326.4,391.1 L326.1,393.2 L325.7,395.3 L325.4,397.4 L325.2,399.5 L324.9,401.6 L324.8,403.7 L324.6,405.8 L324.5,407.9 L324.4,410 L324.3,412.1 L324.3,414.2 L324.2,416.3 L324.2,418.4 L324.2,420.4 L324.2,422.5 L324.1,424.6 L324.1,426.7 L324.1,428.8 L324.1,430.9 L324.1,433 L324,435.1 L324,437.2 L324,439.3 L324,441.4 L324,443.5 L323.9,445.6 L323.9,447.7 L323.9,449.8 L323.9,451.9 L323.9,454 L323.9,456.1 L323.9,458.2 L323.8,460.3 L323.8,462.4 L323.8,464.5 L323.8,466.6 L323.8,468.7 L323.8,470.8 L323.8,472.9 L323.8,475 L323.8,477.1 L323.8,479.2 L323.8,481.3 L323.3,481.3 L323.3,479.2 L323.3,477.1 L323.3,475 L323.3,472.9 L323.3,470.8 L323.3,468.7 L323.3,466.6 L323.3,464.5 L323.3,462.4 L323.3,460.3 L323.3,458.2 L323.3,456.1 L323.3,454 L323.3,451.9 L323.3,449.8 L323.2,447.7 L323.2,445.6 L323.2,443.5 L323.2,441.4 L323.2,439.3 L323.2,437.2 L323.1,435.1 L323.1,433 L323.1,430.9 L323.1,428.8 L323.1,426.7 L323,424.6 L323,422.5 L323,420.4 L323,418.4 L322.9,416.3 L322.9,414.2 L322.8,412.1 L322.8,410 L322.7,407.9 L322.6,405.8 L322.4,403.7 L322.2,401.6 L322,399.5 L321.8,397.4 L321.5,395.3 L321.1,393.2 L320.7,391.1 L320.3,389 L319.9,386.9 L319.5,384.8 L319.1,382.7 L318.8,380.6 L318.5,378.5 L318.3,376.4 L318.2,374.3 L318.2,372.2 L318.3,370.1 L318.6,368 L318.9,365.9 L319.4,363.8 L319.9,361.7 L320.4,359.6 L320.9,357.5 L321.4,355.4Z" fill="#7b8bc8" stroke="#28378c" stroke-width="0.85" stroke-linejoin="round"/>
<line x1="323.6" y1="357.4" x2="323.6" y2="370.4" stroke="#28378c" stroke-width="0.5"/>
<line x1="323.6" y1="394.8" x2="323.6" y2="431.4" stroke="#28378c" stroke-width="0.5"/>
<rect x="322.4" y="370.4" width="2.4" height="24.4" fill="#93a1d3" stroke="#28378c" stroke-width="0.6"/>
<circle cx="323.6" cy="380.7" r="0.75" fill="#28378c"/>
<line x1="323.6" y1="507" x2="323.6" y2="509.5" stroke="#262626" stroke-width="1"/>
<text x="320.6" y="512.3" font-size="8.6" fill="#4d4d4d" transform="rotate(90 320.6 512.3)">thermoMPNN</text>
<path d="M338.5,368.5 L338.7,370.1 L338.9,371.8 L339.2,373.4 L339.5,375 L339.8,376.6 L340.2,378.3 L340.6,379.9 L341,381.5 L341.5,383.2 L341.9,384.8 L342.3,386.4 L342.6,388 L342.9,389.7 L343.2,391.3 L343.3,392.9 L343.5,394.6 L343.5,396.2 L343.5,397.8 L343.4,399.4 L343.3,401.1 L343.2,402.7 L343.1,404.3 L342.9,406 L342.8,407.6 L342.6,409.2 L342.4,410.8 L342.1,412.5 L341.9,414.1 L341.7,415.7 L341.4,417.4 L341.2,419 L341,420.6 L340.7,422.2 L340.5,423.9 L340.3,425.5 L340,427.1 L339.8,428.7 L339.6,430.4 L339.5,432 L339.3,433.6 L339.1,435.3 L339,436.9 L338.9,438.5 L338.7,440.1 L338.6,441.8 L338.5,443.4 L338.4,445 L338.3,446.7 L338.3,448.3 L338.2,449.9 L338.1,451.5 L338.1,453.2 L338,454.8 L338,456.4 L338,458.1 L337.9,459.7 L337.9,461.3 L337.9,462.9 L337.9,464.6 L337.9,466.2 L337.4,466.2 L337.4,464.6 L337.4,462.9 L337.4,461.3 L337.4,459.7 L337.4,458.1 L337.3,456.4 L337.3,454.8 L337.3,453.2 L337.2,451.5 L337.1,449.9 L337.1,448.3 L337,446.7 L336.9,445 L336.8,443.4 L336.7,441.8 L336.6,440.1 L336.5,438.5 L336.4,436.9 L336.2,435.3 L336.1,433.6 L335.9,432 L335.7,430.4 L335.5,428.7 L335.3,427.1 L335.1,425.5 L334.9,423.9 L334.6,422.2 L334.4,420.6 L334.2,419 L333.9,417.4 L333.7,415.7 L333.4,414.1 L333.2,412.5 L333,410.8 L332.8,409.2 L332.6,407.6 L332.4,406 L332.3,404.3 L332.1,402.7 L332,401.1 L331.9,399.4 L331.9,397.8 L331.9,396.2 L331.9,394.6 L332,392.9 L332.2,391.3 L332.4,389.7 L332.7,388 L333.1,386.4 L333.5,384.8 L333.9,383.2 L334.3,381.5 L334.7,379.9 L335.1,378.3 L335.5,376.6 L335.9,375 L336.2,373.4 L336.4,371.8 L336.7,370.1 L336.9,368.5Z" fill="#7b8bc8" stroke="#28378c" stroke-width="0.85" stroke-linejoin="round"/>
<line x1="337.7" y1="370.5" x2="337.7" y2="390.1" stroke="#28378c" stroke-width="0.5"/>
<line x1="337.7" y1="411.7" x2="337.7" y2="444.1" stroke="#28378c" stroke-width="0.5"/>
<rect x="336.5" y="390.1" width="2.4" height="21.6" fill="#93a1d3" stroke="#28378c" stroke-width="0.6"/>
<circle cx="337.7" cy="399.5" r="0.75" fill="#28378c"/>
<line x1="337.7" y1="507" x2="337.7" y2="509.5" stroke="#262626" stroke-width="1"/>
<text x="334.7" y="512.3" font-size="8.6" fill="#4d4d4d" transform="rotate(90 334.7 512.3)">FoldX</text>
<path d="M352.6,377.9 L352.9,379.4 L353.1,381 L353.5,382.5 L353.8,384.1 L354.2,385.6 L354.6,387.2 L355.1,388.8 L355.6,390.3 L356,391.8 L356.5,393.4 L356.9,394.9 L357.3,396.5 L357.6,398 L357.9,399.6 L358.1,401.1 L358.2,402.7 L358.2,404.2 L358.1,405.8 L358.1,407.3 L358,408.9 L357.8,410.4 L357.7,412 L357.5,413.5 L357.3,415.1 L357,416.6 L356.8,418.2 L356.5,419.8 L356.3,421.3 L356,422.8 L355.7,424.4 L355.5,425.9 L355.2,427.5 L354.9,429 L354.7,430.6 L354.4,432.1 L354.2,433.7 L354,435.2 L353.8,436.8 L353.6,438.3 L353.4,439.9 L353.2,441.4 L353.1,443 L352.9,444.5 L352.8,446.1 L352.7,447.6 L352.6,449.2 L352.5,450.8 L352.4,452.3 L352.4,453.8 L352.3,455.4 L352.2,456.9 L352.2,458.5 L352.1,460 L352.1,461.6 L352.1,463.1 L352,464.7 L352,466.2 L352,467.8 L352,469.3 L352,470.9 L351.5,470.9 L351.5,469.3 L351.5,467.8 L351.5,466.2 L351.5,464.7 L351.5,463.1 L351.4,461.6 L351.4,460 L351.3,458.5 L351.3,456.9 L351.2,455.4 L351.2,453.8 L351.1,452.3 L351,450.8 L350.9,449.2 L350.8,447.6 L350.7,446.1 L350.6,444.5 L350.4,443 L350.3,441.4 L350.1,439.9 L349.9,438.3 L349.8,436.8 L349.5,435.2 L349.3,433.7 L349.1,432.1 L348.8,430.6 L348.6,429 L348.3,427.5 L348.1,425.9 L347.8,424.4 L347.5,422.8 L347.2,421.3 L347,419.8 L346.7,418.2 L346.5,416.6 L346.3,415.1 L346.1,413.5 L345.9,412 L345.7,410.4 L345.6,408.9 L345.5,407.3 L345.4,405.8 L345.4,404.2 L345.4,402.7 L345.5,401.1 L345.6,399.6 L345.9,398 L346.2,396.5 L346.6,394.9 L347,393.4 L347.5,391.8 L348,390.3 L348.4,388.8 L348.9,387.2 L349.3,385.6 L349.7,384.1 L350.1,382.5 L350.4,381 L350.7,379.4 L350.9,377.9Z" fill="#7b8bc8" stroke="#28378c" stroke-width="0.85" stroke-linejoin="round"/>
<line x1="351.8" y1="379.9" x2="351.8" y2="399.5" stroke="#28378c" stroke-width="0.5"/>
<line x1="351.8" y1="418.3" x2="351.8" y2="446.5" stroke="#28378c" stroke-width="0.5"/>
<rect x="350.6" y="399.5" width="2.4" height="18.8" fill="#93a1d3" stroke="#28378c" stroke-width="0.6"/>
<circle cx="351.8" cy="407" r="0.75" fill="#28378c"/>
<line x1="351.8" y1="507" x2="351.8" y2="509.5" stroke="#262626" stroke-width="1"/>
<text x="348.8" y="512.3" font-size="8.6" fill="#4d4d4d" transform="rotate(90 348.8 512.3)">ddmut</text>
<path d="M366.7,374.7 L366.9,376.2 L367.1,377.8 L367.3,379.3 L367.6,380.8 L367.9,382.3 L368.2,383.8 L368.6,385.4 L368.9,386.9 L369.3,388.4 L369.7,389.9 L370.1,391.5 L370.4,393 L370.8,394.5 L371.1,396.1 L371.4,397.6 L371.7,399.1 L371.9,400.6 L372,402.1 L372.1,403.7 L372.2,405.2 L372.1,406.7 L372.1,408.2 L372,409.8 L371.9,411.3 L371.8,412.8 L371.6,414.3 L371.4,415.9 L371.2,417.4 L371,418.9 L370.7,420.4 L370.5,422 L370.2,423.5 L370,425 L369.7,426.6 L369.4,428.1 L369.2,429.6 L368.9,431.1 L368.7,432.6 L368.4,434.2 L368.2,435.7 L368,437.2 L367.8,438.8 L367.6,440.3 L367.4,441.8 L367.2,443.3 L367.1,444.9 L367,446.4 L366.8,447.9 L366.7,449.4 L366.6,450.9 L366.5,452.5 L366.5,454 L366.4,455.5 L366.3,457 L366.3,458.6 L366.2,460.1 L366.2,461.6 L366.1,463.1 L366.1,464.7 L366.1,466.2 L365.6,466.2 L365.6,464.7 L365.6,463.1 L365.5,461.6 L365.5,460.1 L365.4,458.6 L365.4,457 L365.3,455.5 L365.3,454 L365.2,452.5 L365.1,450.9 L365,449.4 L364.9,447.9 L364.8,446.4 L364.6,444.9 L364.5,443.3 L364.3,441.8 L364.1,440.3 L363.9,438.8 L363.7,437.2 L363.5,435.7 L363.3,434.2 L363,432.6 L362.8,431.1 L362.5,429.6 L362.3,428.1 L362,426.6 L361.7,425 L361.5,423.5 L361.2,422 L361,420.4 L360.7,418.9 L360.5,417.4 L360.3,415.9 L360.1,414.3 L359.9,412.8 L359.8,411.3 L359.7,409.8 L359.6,408.2 L359.6,406.7 L359.6,405.2 L359.6,403.7 L359.7,402.1 L359.8,400.6 L360,399.1 L360.3,397.6 L360.6,396.1 L360.9,394.5 L361.3,393 L361.7,391.5 L362,389.9 L362.4,388.4 L362.8,386.9 L363.1,385.4 L363.5,383.8 L363.8,382.3 L364.1,380.8 L364.4,379.3 L364.6,377.8 L364.8,376.2 L365,374.7Z" fill="#7b8bc8" stroke="#28378c" stroke-width="0.85" stroke-linejoin="round"/>
<line x1="365.9" y1="376.7" x2="365.9" y2="401" stroke="#28378c" stroke-width="0.5"/>
<line x1="365.9" y1="423" x2="365.9" y2="456" stroke="#28378c" stroke-width="0.5"/>
<rect x="364.7" y="401" width="2.4" height="22" fill="#93a1d3" stroke="#28378c" stroke-width="0.6"/>
<circle cx="365.9" cy="408.9" r="0.75" fill="#28378c"/>
<line x1="365.9" y1="507" x2="365.9" y2="509.5" stroke="#262626" stroke-width="1"/>
<text x="362.9" y="512.3" font-size="8.6" fill="#4d4d4d" transform="rotate(90 362.9 512.3)">RaSP</text>
<path d="M380.8,371.7 L381,373.4 L381.2,375.1 L381.4,376.8 L381.7,378.5 L381.9,380.2 L382.3,381.8 L382.6,383.5 L382.9,385.2 L383.3,386.9 L383.7,388.6 L384.1,390.3 L384.4,392 L384.8,393.7 L385.1,395.4 L385.4,397.1 L385.6,398.8 L385.8,400.5 L385.9,402.1 L386,403.8 L386,405.5 L386,407.2 L386,408.9 L385.9,410.6 L385.8,412.3 L385.6,414 L385.5,415.7 L385.3,417.4 L385.1,419.1 L384.9,420.8 L384.6,422.4 L384.4,424.1 L384.1,425.8 L383.9,427.5 L383.6,429.2 L383.4,430.9 L383.1,432.6 L382.9,434.3 L382.6,436 L382.4,437.7 L382.2,439.4 L382,441.1 L381.8,442.8 L381.6,444.4 L381.4,446.1 L381.3,447.8 L381.1,449.5 L381,451.2 L380.9,452.9 L380.8,454.6 L380.7,456.3 L380.6,458 L380.5,459.7 L380.5,461.4 L380.4,463 L380.3,464.7 L380.3,466.4 L380.3,468.1 L380.2,469.8 L380.2,471.5 L380.2,473.2 L379.7,473.2 L379.7,471.5 L379.7,469.8 L379.6,468.1 L379.6,466.4 L379.6,464.7 L379.5,463 L379.4,461.4 L379.4,459.7 L379.3,458 L379.2,456.3 L379.1,454.6 L379,452.9 L378.9,451.2 L378.8,449.5 L378.6,447.8 L378.5,446.1 L378.3,444.4 L378.1,442.8 L377.9,441.1 L377.7,439.4 L377.5,437.7 L377.3,436 L377,434.3 L376.8,432.6 L376.5,430.9 L376.3,429.2 L376,427.5 L375.7,425.8 L375.5,424.1 L375.2,422.4 L375,420.8 L374.8,419.1 L374.6,417.4 L374.4,415.7 L374.2,414 L374.1,412.3 L374,410.6 L373.9,408.9 L373.9,407.2 L373.8,405.5 L373.9,403.8 L373.9,402.1 L374.1,400.5 L374.3,398.8 L374.5,397.1 L374.8,395.4 L375.1,393.7 L375.5,392 L375.8,390.3 L376.2,388.6 L376.6,386.9 L376.9,385.2 L377.3,383.5 L377.6,381.8 L378,380.2 L378.2,378.5 L378.5,376.8 L378.7,375.1 L378.9,373.4 L379.1,371.7Z" fill="#f1c57c" stroke="#dea43c" stroke-width="0.85" stroke-linejoin="round"/>
<line x1="379.9" y1="373.7" x2="379.9" y2="395.8" stroke="#dea43c" stroke-width="0.5"/>
<line x1="379.9" y1="415.5" x2="379.9" y2="445" stroke="#dea43c" stroke-width="0.5"/>
<rect x="378.7" y="395.8" width="2.4" height="19.7" fill="#f4d394" stroke="#dea43c" stroke-width="0.6"/>
<circle cx="379.9" cy="405.2" r="0.75" fill="#dea43c"/>
<line x1="379.9" y1="507" x2="379.9" y2="509.5" stroke="#262626" stroke-width="1"/>
<text x="376.9" y="512.3" font-size="8.6" fill="#4d4d4d" transform="rotate(90 376.9 512.3)">rsasa</text>
<line x1="216.5" y1="507" x2="388.4" y2="507" stroke="#262626" stroke-width="1"/>
<line x1="38.5" y1="333.4" x2="38.5" y2="507.5" stroke="#262626" stroke-width="1"/>
<line x1="35.9" y1="506.8" x2="38.5" y2="506.8" stroke="#262626" stroke-width="1"/>
<text x="33.1" y="510.2" font-size="9.6" fill="#4d4d4d" text-anchor="end">−0.3</text>
<line x1="35.9" y1="463.5" x2="38.5" y2="463.5" stroke="#262626" stroke-width="1"/>
<text x="33.1" y="466.9" font-size="9.6" fill="#4d4d4d" text-anchor="end">0.0</text>
<line x1="35.9" y1="420.2" x2="38.5" y2="420.2" stroke="#262626" stroke-width="1"/>
<text x="33.1" y="423.6" font-size="9.6" fill="#4d4d4d" text-anchor="end">0.3</text>
<line x1="35.9" y1="376.9" x2="38.5" y2="376.9" stroke="#262626" stroke-width="1"/>
<text x="33.1" y="380.3" font-size="9.6" fill="#4d4d4d" text-anchor="end">0.6</text>
<line x1="35.9" y1="333.5" x2="38.5" y2="333.5" stroke="#262626" stroke-width="1"/>
<text x="33.1" y="336.9" font-size="9.6" fill="#4d4d4d" text-anchor="end">0.9</text>
<text x="213.5" y="592.4" font-size="9.8" fill="#000" text-anchor="middle">predictor</text>
<text x="10.6" y="424.5" font-size="10.4" fill="#000" text-anchor="middle" transform="rotate(-90 10.6 424.5)">Spearman's <tspan font-style='italic'>ρ</tspan></text>
<text x="403.6" y="398.9" font-size="9.5" fill="#000">type</text>
<rect x="404" y="405.2" width="13.8" height="13.8" fill="#e6525a" stroke="#dc2430" stroke-width="0.9"/>
<line x1="405.2" y1="407.1" x2="416.6" y2="407.1" stroke="rgba(255,255,255,0.45)" stroke-width="0.7"/>
<line x1="405.2" y1="417.1" x2="416.6" y2="417.1" stroke="rgba(255,255,255,0.45)" stroke-width="0.7"/>
<line x1="410.9" y1="405.6" x2="410.9" y2="408.6" stroke="#dc2430" stroke-width="0.6"/>
<line x1="410.9" y1="415.4" x2="410.9" y2="418.6" stroke="#dc2430" stroke-width="0.6"/>
<rect x="405.6" y="408.7" width="10.6" height="6.8" fill="#ffffff" stroke="#dc2430" stroke-width="0.6"/>
<line x1="405.6" y1="412.1" x2="416.2" y2="412.1" stroke="#dc2430" stroke-width="0.7"/>
<text x="423.1" y="415" font-size="7.9" fill="#000">fitness</text>
<rect x="404" y="419.8" width="13.8" height="13.8" fill="#5a6bb5" stroke="#28378c" stroke-width="0.9"/>
<line x1="405.2" y1="421.7" x2="416.6" y2="421.7" stroke="rgba(255,255,255,0.45)" stroke-width="0.7"/>
<line x1="405.2" y1="431.7" x2="416.6" y2="431.7" stroke="rgba(255,255,255,0.45)" stroke-width="0.7"/>
<line x1="410.9" y1="420.2" x2="410.9" y2="423.2" stroke="#28378c" stroke-width="0.6"/>
<line x1="410.9" y1="430" x2="410.9" y2="433.2" stroke="#28378c" stroke-width="0.6"/>
<rect x="405.6" y="423.3" width="10.6" height="6.8" fill="#ffffff" stroke="#28378c" stroke-width="0.6"/>
<line x1="405.6" y1="426.7" x2="416.2" y2="426.7" stroke="#28378c" stroke-width="0.7"/>
<text x="423.1" y="429.6" font-size="7.9" fill="#000">stability</text>
<rect x="404" y="434.4" width="13.8" height="13.8" fill="#ecbe68" stroke="#dea43c" stroke-width="0.9"/>
<line x1="405.2" y1="436.3" x2="416.6" y2="436.3" stroke="rgba(255,255,255,0.45)" stroke-width="0.7"/>
<line x1="405.2" y1="446.3" x2="416.6" y2="446.3" stroke="rgba(255,255,255,0.45)" stroke-width="0.7"/>
<line x1="410.9" y1="434.8" x2="410.9" y2="437.8" stroke="#dea43c" stroke-width="0.6"/>
<line x1="410.9" y1="444.6" x2="410.9" y2="447.8" stroke="#dea43c" stroke-width="0.6"/>
<rect x="405.6" y="437.9" width="10.6" height="6.8" fill="#ffffff" stroke="#dea43c" stroke-width="0.6"/>
<line x1="405.6" y1="441.3" x2="416.2" y2="441.3" stroke="#dea43c" stroke-width="0.7"/>
<text x="423.1" y="444.2" font-size="7.9" fill="#000">sasa</text>
<text x="453.6" y="78.3" font-size="10.5" fill="#000" font-weight="bold">c</text>
<circle cx="603.1" cy="165.7" r="1.2" fill="#111"/>
<circle cx="574.4" cy="178.8" r="1.2" fill="#111"/>
<circle cx="555.4" cy="190.1" r="1.2" fill="#111"/>
<circle cx="609.4" cy="144.9" r="1.2" fill="#111"/>
<circle cx="549.4" cy="211.8" r="1.2" fill="#111"/>
<circle cx="634.5" cy="128.8" r="1.2" fill="#111"/>
<circle cx="546.8" cy="210.3" r="1.2" fill="#111"/>
<circle cx="552.9" cy="206.6" r="1.2" fill="#111"/>
<circle cx="600.4" cy="160.1" r="1.2" fill="#111"/>
<circle cx="606.7" cy="153.4" r="1.2" fill="#111"/>
<circle cx="560.4" cy="194.6" r="1.2" fill="#111"/>
<circle cx="545.3" cy="216.7" r="1.2" fill="#111"/>
<circle cx="559.6" cy="192" r="1.2" fill="#111"/>
<circle cx="547.7" cy="204.4" r="1.2" fill="#111"/>
<circle cx="547.4" cy="205.5" r="1.2" fill="#111"/>
<circle cx="569.3" cy="183" r="1.2" fill="#111"/>
<circle cx="547.5" cy="213.1" r="1.2" fill="#111"/>
<circle cx="538.6" cy="219.7" r="1.2" fill="#111"/>
<circle cx="601.3" cy="160.3" r="1.2" fill="#111"/>
<circle cx="577.1" cy="174.7" r="1.2" fill="#111"/>
<circle cx="615" cy="153.9" r="1.2" fill="#111"/>
<circle cx="621.9" cy="136.3" r="1.2" fill="#111"/>
<circle cx="640.1" cy="110" r="1.2" fill="#111"/>
<circle cx="582.8" cy="156.2" r="1.2" fill="#111"/>
<circle cx="563.9" cy="188.3" r="1.2" fill="#111"/>
<circle cx="592.9" cy="165.1" r="1.2" fill="#111"/>
<circle cx="579" cy="194.6" r="1.2" fill="#111"/>
<circle cx="570.4" cy="181.9" r="1.2" fill="#111"/>
<circle cx="591.6" cy="164.5" r="1.2" fill="#111"/>
<circle cx="603.1" cy="159.1" r="1.2" fill="#111"/>
<circle cx="549.2" cy="203.7" r="1.2" fill="#111"/>
<circle cx="548.1" cy="205.2" r="1.2" fill="#111"/>
<circle cx="611.5" cy="132.9" r="1.2" fill="#111"/>
<circle cx="565.2" cy="194.8" r="1.2" fill="#111"/>
<circle cx="610.6" cy="156.2" r="1.2" fill="#111"/>
<circle cx="611.9" cy="145.8" r="1.2" fill="#111"/>
<circle cx="605.8" cy="150.6" r="1.2" fill="#111"/>
<circle cx="564.7" cy="188.7" r="1.2" fill="#111"/>
<circle cx="556.6" cy="198.9" r="1.2" fill="#111"/>
<circle cx="563.7" cy="187.7" r="1.2" fill="#111"/>
<circle cx="567.4" cy="182.4" r="1.2" fill="#111"/>
<circle cx="561.7" cy="190.8" r="1.2" fill="#111"/>
<circle cx="609.8" cy="154.6" r="1.2" fill="#111"/>
<circle cx="586.8" cy="158" r="1.2" fill="#111"/>
<circle cx="554.1" cy="206.4" r="1.2" fill="#111"/>
<circle cx="618.6" cy="137.5" r="1.2" fill="#111"/>
<circle cx="574.4" cy="173.5" r="1.2" fill="#111"/>
<circle cx="570.7" cy="204.7" r="1.2" fill="#111"/>
<circle cx="598.9" cy="143.3" r="1.2" fill="#111"/>
<circle cx="574.8" cy="166.6" r="1.2" fill="#111"/>
<circle cx="581.9" cy="192.8" r="1.2" fill="#111"/>
<circle cx="575.4" cy="175.5" r="1.2" fill="#111"/>
<circle cx="579.4" cy="167.6" r="1.2" fill="#111"/>
<circle cx="549.9" cy="205.9" r="1.2" fill="#111"/>
<circle cx="601.7" cy="148.4" r="1.2" fill="#111"/>
<circle cx="614" cy="135" r="1.2" fill="#111"/>
<circle cx="575.6" cy="177.6" r="1.2" fill="#111"/>
<circle cx="569.1" cy="183.8" r="1.2" fill="#111"/>
<circle cx="619.7" cy="136.5" r="1.2" fill="#111"/>
<circle cx="587" cy="182.1" r="1.2" fill="#111"/>
<circle cx="607.9" cy="142" r="1.2" fill="#111"/>
<circle cx="560.1" cy="192.1" r="1.2" fill="#111"/>
<circle cx="556.6" cy="187.5" r="1.2" fill="#111"/>
<circle cx="584.4" cy="164.1" r="1.2" fill="#111"/>
<circle cx="598.5" cy="154.8" r="1.2" fill="#111"/>
<circle cx="553" cy="212.4" r="1.2" fill="#111"/>
<circle cx="570.1" cy="179.9" r="1.2" fill="#111"/>
<circle cx="595.1" cy="171.6" r="1.2" fill="#111"/>
<circle cx="599.7" cy="157.6" r="1.2" fill="#111"/>
<circle cx="610.4" cy="158.3" r="1.2" fill="#111"/>
<circle cx="562.9" cy="190.2" r="1.2" fill="#111"/>
<circle cx="617.1" cy="119.1" r="1.2" fill="#111"/>
<circle cx="549.8" cy="211.3" r="1.2" fill="#111"/>
<circle cx="549.1" cy="208.3" r="1.2" fill="#111"/>
<circle cx="575.9" cy="172.8" r="1.2" fill="#111"/>
<circle cx="550.6" cy="202.4" r="1.2" fill="#111"/>
<circle cx="618" cy="131.2" r="1.2" fill="#111"/>
<circle cx="548.3" cy="212.6" r="1.2" fill="#111"/>
<circle cx="613.5" cy="146.5" r="1.2" fill="#111"/>
<circle cx="565.3" cy="185.6" r="1.2" fill="#111"/>
<circle cx="580.5" cy="169.1" r="1.2" fill="#111"/>
<circle cx="636.5" cy="113.5" r="1.2" fill="#111"/>
<circle cx="612.4" cy="162.8" r="1.2" fill="#111"/>
<circle cx="593.4" cy="155.8" r="1.2" fill="#111"/>
<circle cx="574.5" cy="187.1" r="1.2" fill="#111"/>
<circle cx="585.3" cy="175.6" r="1.2" fill="#111"/>
<circle cx="561.6" cy="198.2" r="1.2" fill="#111"/>
<circle cx="561.7" cy="184.6" r="1.2" fill="#111"/>
<circle cx="567.3" cy="188.9" r="1.2" fill="#111"/>
<circle cx="546.8" cy="206.7" r="1.2" fill="#111"/>
<circle cx="547.6" cy="214.4" r="1.2" fill="#111"/>
<circle cx="581.9" cy="163.9" r="1.2" fill="#111"/>
<circle cx="553.6" cy="198.1" r="1.2" fill="#111"/>
<circle cx="549.4" cy="210.8" r="1.2" fill="#111"/>
<circle cx="579.8" cy="185.4" r="1.2" fill="#111"/>
<circle cx="552.9" cy="193.7" r="1.2" fill="#111"/>
<circle cx="550.1" cy="207.4" r="1.2" fill="#111"/>
<circle cx="559.1" cy="200.4" r="1.2" fill="#111"/>
<circle cx="588.4" cy="185.2" r="1.2" fill="#111"/>
<circle cx="584.1" cy="161.4" r="1.2" fill="#111"/>
<circle cx="576.2" cy="174.3" r="1.2" fill="#111"/>
<circle cx="593.9" cy="154.1" r="1.2" fill="#111"/>
<circle cx="595.1" cy="178.7" r="1.2" fill="#111"/>
<circle cx="591.2" cy="164.4" r="1.2" fill="#111"/>
<circle cx="602.9" cy="142" r="1.2" fill="#111"/>
<circle cx="558.7" cy="199.1" r="1.2" fill="#111"/>
<circle cx="585.8" cy="183.2" r="1.2" fill="#111"/>
<circle cx="583.3" cy="163.7" r="1.2" fill="#111"/>
<circle cx="564.5" cy="192.7" r="1.2" fill="#111"/>
<circle cx="536.1" cy="214.4" r="1.2" fill="#111"/>
<circle cx="559.8" cy="196.4" r="1.2" fill="#111"/>
<circle cx="639.4" cy="120.2" r="1.2" fill="#111"/>
<circle cx="567.1" cy="188.2" r="1.2" fill="#111"/>
<circle cx="566.7" cy="200.6" r="1.2" fill="#111"/>
<circle cx="568.6" cy="178.3" r="1.2" fill="#111"/>
<circle cx="542.9" cy="212.9" r="1.2" fill="#111"/>
<circle cx="595.1" cy="192.3" r="1.2" fill="#111"/>
<circle cx="554" cy="193.3" r="1.2" fill="#111"/>
<circle cx="556.4" cy="196.9" r="1.2" fill="#111"/>
<circle cx="607.5" cy="137.5" r="1.2" fill="#111"/>
<circle cx="546.9" cy="205.6" r="1.2" fill="#111"/>
<circle cx="613.6" cy="132.2" r="1.2" fill="#111"/>
<circle cx="589.2" cy="162.4" r="1.2" fill="#111"/>
<circle cx="623.2" cy="117.4" r="1.2" fill="#111"/>
<circle cx="594.8" cy="160.9" r="1.2" fill="#111"/>
<circle cx="577.2" cy="173.5" r="1.2" fill="#111"/>
<circle cx="563.9" cy="193.8" r="1.2" fill="#111"/>
<circle cx="566.2" cy="180.9" r="1.2" fill="#111"/>
<circle cx="559.1" cy="205.5" r="1.2" fill="#111"/>
<circle cx="562" cy="190.8" r="1.2" fill="#111"/>
<circle cx="632.5" cy="116.9" r="1.2" fill="#111"/>
<circle cx="593.4" cy="157.5" r="1.2" fill="#111"/>
<circle cx="544.3" cy="209.5" r="1.2" fill="#111"/>
<circle cx="542.5" cy="206.9" r="1.2" fill="#111"/>
<circle cx="541.4" cy="205.7" r="1.2" fill="#111"/>
<circle cx="553.3" cy="203.1" r="1.2" fill="#111"/>
<circle cx="557.8" cy="205.2" r="1.2" fill="#111"/>
<circle cx="564.3" cy="195.5" r="1.2" fill="#111"/>
<circle cx="612.2" cy="150.2" r="1.2" fill="#111"/>
<circle cx="616.9" cy="138.5" r="1.2" fill="#111"/>
<circle cx="574.8" cy="179.4" r="1.2" fill="#111"/>
<circle cx="535.3" cy="215.7" r="1.2" fill="#111"/>
<circle cx="618.1" cy="140.5" r="1.2" fill="#111"/>
<circle cx="581.9" cy="172.2" r="1.2" fill="#111"/>
<circle cx="543.8" cy="209.6" r="1.2" fill="#111"/>
<circle cx="612.1" cy="151" r="1.2" fill="#111"/>
<circle cx="571.1" cy="184.7" r="1.2" fill="#111"/>
<circle cx="601.3" cy="126.9" r="1.2" fill="#111"/>
<circle cx="586" cy="168.5" r="1.2" fill="#111"/>
<circle cx="558.5" cy="200" r="1.2" fill="#111"/>
<circle cx="605.9" cy="169.3" r="1.2" fill="#111"/>
<circle cx="548" cy="201.8" r="1.2" fill="#111"/>
<circle cx="573.4" cy="182.5" r="1.2" fill="#111"/>
<circle cx="555.8" cy="200.9" r="1.2" fill="#111"/>
<circle cx="601.5" cy="129.6" r="1.2" fill="#111"/>
<circle cx="608.5" cy="131" r="1.2" fill="#111"/>
<circle cx="614.9" cy="157.3" r="1.2" fill="#111"/>
<circle cx="577.1" cy="179.1" r="1.2" fill="#111"/>
<circle cx="581.9" cy="199" r="1.2" fill="#111"/>
<circle cx="579.7" cy="168.2" r="1.2" fill="#111"/>
<circle cx="578.5" cy="183" r="1.2" fill="#111"/>
<circle cx="602.8" cy="134.3" r="1.2" fill="#111"/>
<circle cx="566.9" cy="176.3" r="1.2" fill="#111"/>
<circle cx="622.3" cy="144.3" r="1.2" fill="#111"/>
<circle cx="608.2" cy="163.4" r="1.2" fill="#111"/>
<circle cx="569.7" cy="192.6" r="1.2" fill="#111"/>
<circle cx="571.7" cy="178" r="1.2" fill="#111"/>
<circle cx="577.7" cy="168.8" r="1.2" fill="#111"/>
<circle cx="542.3" cy="210.9" r="1.2" fill="#111"/>
<circle cx="605" cy="154.7" r="1.2" fill="#111"/>
<circle cx="601.1" cy="181.2" r="1.2" fill="#111"/>
<circle cx="587.5" cy="162" r="1.2" fill="#111"/>
<circle cx="623" cy="145" r="1.2" fill="#111"/>
<circle cx="629.5" cy="145.2" r="1.2" fill="#111"/>
<circle cx="584.9" cy="169.6" r="1.2" fill="#111"/>
<circle cx="583.4" cy="161.3" r="1.2" fill="#111"/>
<circle cx="604.2" cy="147.9" r="1.2" fill="#111"/>
<circle cx="556.4" cy="196.5" r="1.2" fill="#111"/>
<circle cx="560.7" cy="196.6" r="1.2" fill="#111"/>
<circle cx="554.6" cy="195.1" r="1.2" fill="#111"/>
<circle cx="614.1" cy="158" r="1.2" fill="#111"/>
<circle cx="604.4" cy="150.2" r="1.2" fill="#111"/>
<circle cx="568.5" cy="188.8" r="1.2" fill="#111"/>
<circle cx="570.6" cy="184.2" r="1.2" fill="#111"/>
<circle cx="604.3" cy="158.6" r="1.2" fill="#111"/>
<circle cx="582.2" cy="166.2" r="1.2" fill="#111"/>
<circle cx="615.1" cy="139.8" r="1.2" fill="#111"/>
<circle cx="559.9" cy="196.9" r="1.2" fill="#111"/>
<circle cx="561.2" cy="190" r="1.2" fill="#111"/>
<circle cx="580" cy="174.3" r="1.2" fill="#111"/>
<circle cx="589.5" cy="168.7" r="1.2" fill="#111"/>
<circle cx="542" cy="213.6" r="1.2" fill="#111"/>
<circle cx="623.1" cy="122.1" r="1.2" fill="#111"/>
<circle cx="576.5" cy="183.8" r="1.2" fill="#111"/>
<circle cx="580.6" cy="174.9" r="1.2" fill="#111"/>
<circle cx="563.1" cy="192.2" r="1.2" fill="#111"/>
<circle cx="578.9" cy="172.8" r="1.2" fill="#111"/>
<circle cx="556.8" cy="198" r="1.2" fill="#111"/>
<circle cx="617.8" cy="112.7" r="1.2" fill="#111"/>
<circle cx="574.3" cy="191" r="1.2" fill="#111"/>
<circle cx="582.2" cy="167.5" r="1.2" fill="#111"/>
<circle cx="543.4" cy="210.5" r="1.2" fill="#111"/>
<circle cx="621.8" cy="119.8" r="1.2" fill="#111"/>
<circle cx="551.8" cy="208.9" r="1.2" fill="#111"/>
<circle cx="568.8" cy="177.9" r="1.2" fill="#111"/>
<circle cx="548.3" cy="210.9" r="1.2" fill="#111"/>
<circle cx="570.4" cy="179.3" r="1.2" fill="#111"/>
<circle cx="591.4" cy="158.4" r="1.2" fill="#111"/>
<circle cx="555.3" cy="198.4" r="1.2" fill="#111"/>
<circle cx="555.6" cy="201.7" r="1.2" fill="#111"/>
<circle cx="539.7" cy="216.6" r="1.2" fill="#111"/>
<circle cx="602.7" cy="150.5" r="1.2" fill="#111"/>
<circle cx="559.7" cy="198" r="1.2" fill="#111"/>
<circle cx="622" cy="154.5" r="1.2" fill="#111"/>
<circle cx="570.7" cy="194.4" r="1.2" fill="#111"/>
<circle cx="641.3" cy="102.3" r="1.2" fill="#111"/>
<circle cx="611.9" cy="133.7" r="1.2" fill="#111"/>
<circle cx="593.4" cy="195.4" r="1.2" fill="#111"/>
<circle cx="535.3" cy="218.4" r="1.2" fill="#111"/>
<circle cx="633.5" cy="115.9" r="1.2" fill="#111"/>
<circle cx="576.3" cy="174.3" r="1.2" fill="#111"/>
<circle cx="633.1" cy="117.9" r="1.2" fill="#111"/>
<circle cx="559.5" cy="198.4" r="1.2" fill="#111"/>
<circle cx="567.9" cy="190.3" r="1.2" fill="#111"/>
<circle cx="563.9" cy="196.2" r="1.2" fill="#111"/>
<circle cx="584.2" cy="198.7" r="1.2" fill="#111"/>
<circle cx="594.5" cy="168" r="1.2" fill="#111"/>
<circle cx="552.2" cy="202.3" r="1.2" fill="#111"/>
<circle cx="565.6" cy="180.8" r="1.2" fill="#111"/>
<circle cx="589.4" cy="167.5" r="1.2" fill="#111"/>
<circle cx="600.1" cy="145" r="1.2" fill="#111"/>
<circle cx="561" cy="184.8" r="1.2" fill="#111"/>
<circle cx="599.2" cy="171.3" r="1.2" fill="#111"/>
<circle cx="559.8" cy="201.3" r="1.2" fill="#111"/>
<circle cx="569.6" cy="181.4" r="1.2" fill="#111"/>
<circle cx="547.2" cy="209.2" r="1.2" fill="#111"/>
<circle cx="551.4" cy="200.2" r="1.2" fill="#111"/>
<circle cx="612.9" cy="133.7" r="1.2" fill="#111"/>
<circle cx="586.3" cy="171.6" r="1.2" fill="#111"/>
<circle cx="606.5" cy="139.3" r="1.2" fill="#111"/>
<circle cx="564.2" cy="180.1" r="1.2" fill="#111"/>
<circle cx="602.8" cy="142" r="1.2" fill="#111"/>
<circle cx="558.2" cy="204.8" r="1.2" fill="#111"/>
<circle cx="567.3" cy="187.3" r="1.2" fill="#111"/>
<circle cx="589" cy="169.1" r="1.2" fill="#111"/>
<circle cx="575.3" cy="168.1" r="1.2" fill="#111"/>
<circle cx="545.4" cy="209" r="1.2" fill="#111"/>
<circle cx="553" cy="203.7" r="1.2" fill="#111"/>
<circle cx="600.6" cy="152.7" r="1.2" fill="#111"/>
<circle cx="554.4" cy="197" r="1.2" fill="#111"/>
<circle cx="584" cy="172.6" r="1.2" fill="#111"/>
<circle cx="580.7" cy="172.3" r="1.2" fill="#111"/>
<circle cx="575.3" cy="178.4" r="1.2" fill="#111"/>
<circle cx="599.9" cy="147" r="1.2" fill="#111"/>
<circle cx="577.3" cy="169.7" r="1.2" fill="#111"/>
<circle cx="582.1" cy="169.6" r="1.2" fill="#111"/>
<circle cx="569.2" cy="187.3" r="1.2" fill="#111"/>
<circle cx="602.5" cy="147.3" r="1.2" fill="#111"/>
<circle cx="538.1" cy="218.1" r="1.2" fill="#111"/>
<circle cx="621.2" cy="120.2" r="1.2" fill="#111"/>
<circle cx="550.8" cy="201.4" r="1.2" fill="#111"/>
<circle cx="608.2" cy="143" r="1.2" fill="#111"/>
<circle cx="552" cy="211.9" r="1.2" fill="#111"/>
<circle cx="596.9" cy="135.8" r="1.2" fill="#111"/>
<circle cx="595" cy="146" r="1.2" fill="#111"/>
<circle cx="609.5" cy="131.2" r="1.2" fill="#111"/>
<circle cx="560.1" cy="192.9" r="1.2" fill="#111"/>
<circle cx="546.5" cy="204.7" r="1.2" fill="#111"/>
<circle cx="582.6" cy="149.9" r="1.2" fill="#111"/>
<circle cx="588.5" cy="182.4" r="1.2" fill="#111"/>
<circle cx="561.9" cy="187.7" r="1.2" fill="#111"/>
<circle cx="554.7" cy="196.2" r="1.2" fill="#111"/>
<circle cx="610.3" cy="141.7" r="1.2" fill="#111"/>
<circle cx="576.7" cy="174.4" r="1.2" fill="#111"/>
<circle cx="596.2" cy="165.8" r="1.2" fill="#111"/>
<circle cx="548.2" cy="202.9" r="1.2" fill="#111"/>
<circle cx="577.8" cy="184.6" r="1.2" fill="#111"/>
<circle cx="581.8" cy="158.3" r="1.2" fill="#111"/>
<circle cx="592.8" cy="153.7" r="1.2" fill="#111"/>
<circle cx="579.5" cy="179.9" r="1.2" fill="#111"/>
<circle cx="612.7" cy="162.4" r="1.2" fill="#111"/>
<circle cx="604.9" cy="147.3" r="1.2" fill="#111"/>
<circle cx="631.7" cy="115" r="1.2" fill="#111"/>
<circle cx="610.7" cy="152.6" r="1.2" fill="#111"/>
<circle cx="549.5" cy="197.3" r="1.2" fill="#111"/>
<circle cx="573.9" cy="177.6" r="1.2" fill="#111"/>
<circle cx="557.4" cy="205.6" r="1.2" fill="#111"/>
<circle cx="624.7" cy="144.5" r="1.2" fill="#111"/>
<circle cx="600.3" cy="153.8" r="1.2" fill="#111"/>
<circle cx="559.1" cy="195.2" r="1.2" fill="#111"/>
<circle cx="547.8" cy="203.2" r="1.2" fill="#111"/>
<circle cx="592" cy="152.4" r="1.2" fill="#111"/>
<circle cx="610.8" cy="141.9" r="1.2" fill="#111"/>
<circle cx="612.1" cy="136" r="1.2" fill="#111"/>
<circle cx="561" cy="185" r="1.2" fill="#111"/>
<circle cx="600.1" cy="147.3" r="1.2" fill="#111"/>
<circle cx="585.1" cy="170" r="1.2" fill="#111"/>
<circle cx="586.5" cy="161.8" r="1.2" fill="#111"/>
<circle cx="591.9" cy="165.5" r="1.2" fill="#111"/>
<circle cx="556.4" cy="194.8" r="1.2" fill="#111"/>
<circle cx="609.1" cy="143.3" r="1.2" fill="#111"/>
<circle cx="573.4" cy="186.9" r="1.2" fill="#111"/>
<circle cx="534.1" cy="218" r="1.2" fill="#111"/>
<circle cx="556.1" cy="196.8" r="1.2" fill="#111"/>
<circle cx="576.5" cy="171.7" r="1.2" fill="#111"/>
<circle cx="613" cy="153.8" r="1.2" fill="#111"/>
<circle cx="542.6" cy="207.1" r="1.2" fill="#111"/>
<circle cx="581.2" cy="174.6" r="1.2" fill="#111"/>
<circle cx="589.4" cy="164.5" r="1.2" fill="#111"/>
<circle cx="548.7" cy="204.5" r="1.2" fill="#111"/>
<circle cx="615.2" cy="138" r="1.2" fill="#111"/>
<circle cx="566.8" cy="181.7" r="1.2" fill="#111"/>
<circle cx="553.3" cy="203.2" r="1.2" fill="#111"/>
<circle cx="630.4" cy="136.6" r="1.2" fill="#111"/>
<circle cx="573.5" cy="181.4" r="1.2" fill="#111"/>
<circle cx="560" cy="195.3" r="1.2" fill="#111"/>
<circle cx="571.8" cy="187.8" r="1.2" fill="#111"/>
<circle cx="554.4" cy="203.2" r="1.2" fill="#111"/>
<circle cx="603.8" cy="147.8" r="1.2" fill="#111"/>
<circle cx="602.4" cy="139.8" r="1.2" fill="#111"/>
<circle cx="565.5" cy="192" r="1.2" fill="#111"/>
<circle cx="572" cy="180.3" r="1.2" fill="#111"/>
<circle cx="560.3" cy="192.1" r="1.2" fill="#111"/>
<circle cx="573.1" cy="177.3" r="1.2" fill="#111"/>
<circle cx="615" cy="136.7" r="1.2" fill="#111"/>
<circle cx="575.1" cy="171.4" r="1.2" fill="#111"/>
<circle cx="573.6" cy="175.4" r="1.2" fill="#111"/>
<circle cx="577.7" cy="180" r="1.2" fill="#111"/>
<circle cx="588.6" cy="145.4" r="1.2" fill="#111"/>
<circle cx="541.8" cy="216.1" r="1.2" fill="#111"/>
<circle cx="601.1" cy="164.5" r="1.2" fill="#111"/>
<circle cx="638.5" cy="101.2" r="1.2" fill="#111"/>
<circle cx="582.8" cy="169.3" r="1.2" fill="#111"/>
<circle cx="549.6" cy="204.9" r="1.2" fill="#111"/>
<circle cx="578.9" cy="173.2" r="1.2" fill="#111"/>
<circle cx="562.7" cy="187.2" r="1.2" fill="#111"/>
<circle cx="555.6" cy="199.9" r="1.2" fill="#111"/>
<circle cx="558" cy="198.6" r="1.2" fill="#111"/>
<circle cx="588.4" cy="173.4" r="1.2" fill="#111"/>
<circle cx="582" cy="177.8" r="1.2" fill="#111"/>
<circle cx="566.5" cy="191.6" r="1.2" fill="#111"/>
<circle cx="634.3" cy="104.5" r="1.2" fill="#111"/>
<circle cx="639.2" cy="110.4" r="1.2" fill="#111"/>
<circle cx="572.6" cy="177.5" r="1.2" fill="#111"/>
<circle cx="633.1" cy="127.4" r="1.2" fill="#111"/>
<circle cx="594.7" cy="149.8" r="1.2" fill="#111"/>
<circle cx="582" cy="188.8" r="1.2" fill="#111"/>
<circle cx="609.4" cy="177.5" r="1.2" fill="#111"/>
<circle cx="568" cy="181.5" r="1.2" fill="#111"/>
<circle cx="590.5" cy="167.7" r="1.2" fill="#111"/>
<circle cx="601.5" cy="161.6" r="1.2" fill="#111"/>
<circle cx="551.5" cy="199.9" r="1.2" fill="#111"/>
<circle cx="560.7" cy="196.5" r="1.2" fill="#111"/>
<circle cx="594.5" cy="166.7" r="1.2" fill="#111"/>
<circle cx="595.9" cy="157.8" r="1.2" fill="#111"/>
<circle cx="611.5" cy="153.6" r="1.2" fill="#111"/>
<circle cx="609.2" cy="145.7" r="1.2" fill="#111"/>
<circle cx="617.1" cy="114.3" r="1.2" fill="#111"/>
<circle cx="534.4" cy="220.3" r="1.2" fill="#111"/>
<circle cx="632" cy="110.2" r="1.2" fill="#111"/>
<circle cx="634.7" cy="132.2" r="1.2" fill="#111"/>
<circle cx="584.2" cy="168.7" r="1.2" fill="#111"/>
<circle cx="557.4" cy="197.5" r="1.2" fill="#111"/>
<circle cx="613.5" cy="141.8" r="1.2" fill="#111"/>
<circle cx="556.5" cy="193.5" r="1.2" fill="#111"/>
<circle cx="586.9" cy="149.9" r="1.2" fill="#111"/>
<circle cx="621.6" cy="133.3" r="1.2" fill="#111"/>
<circle cx="568.3" cy="177.6" r="1.2" fill="#111"/>
<circle cx="600.1" cy="150.2" r="1.2" fill="#111"/>
<circle cx="588.3" cy="159.5" r="1.2" fill="#111"/>
<circle cx="602.6" cy="155.3" r="1.2" fill="#111"/>
<circle cx="632.5" cy="129.8" r="1.2" fill="#111"/>
<circle cx="560.2" cy="194.5" r="1.2" fill="#111"/>
<circle cx="574.4" cy="197.4" r="1.2" fill="#111"/>
<circle cx="590.2" cy="163.4" r="1.2" fill="#111"/>
<circle cx="606" cy="157.9" r="1.2" fill="#111"/>
<circle cx="585.7" cy="167.8" r="1.2" fill="#111"/>
<circle cx="591.4" cy="160.7" r="1.2" fill="#111"/>
<circle cx="595.2" cy="142.6" r="1.2" fill="#111"/>
<circle cx="558.7" cy="186.4" r="1.2" fill="#111"/>
<circle cx="568.7" cy="181.9" r="1.2" fill="#111"/>
<circle cx="600" cy="175.8" r="1.2" fill="#111"/>
<circle cx="569.1" cy="180.9" r="1.2" fill="#111"/>
<circle cx="576.3" cy="171.9" r="1.2" fill="#111"/>
<circle cx="568.6" cy="186.2" r="1.2" fill="#111"/>
<circle cx="613.1" cy="149.4" r="1.2" fill="#111"/>
<circle cx="540.4" cy="218.7" r="1.2" fill="#111"/>
<circle cx="594" cy="159.9" r="1.2" fill="#111"/>
<circle cx="569.4" cy="172.7" r="1.2" fill="#111"/>
<circle cx="615.8" cy="140" r="1.2" fill="#111"/>
<circle cx="562.7" cy="188.8" r="1.2" fill="#111"/>
<circle cx="577.8" cy="173.3" r="1.2" fill="#111"/>
<circle cx="564.3" cy="186.6" r="1.2" fill="#111"/>
<circle cx="571.8" cy="177" r="1.2" fill="#111"/>
<circle cx="626.7" cy="150.7" r="1.2" fill="#111"/>
<circle cx="578.4" cy="176.2" r="1.2" fill="#111"/>
<circle cx="577.8" cy="173.1" r="1.2" fill="#111"/>
<circle cx="606.1" cy="148.3" r="1.2" fill="#111"/>
<circle cx="589.6" cy="154.1" r="1.2" fill="#111"/>
<circle cx="572.7" cy="183.3" r="1.2" fill="#111"/>
<circle cx="632.6" cy="109.3" r="1.2" fill="#111"/>
<circle cx="597" cy="140.9" r="1.2" fill="#111"/>
<circle cx="555.6" cy="199.1" r="1.2" fill="#111"/>
<circle cx="610.6" cy="142.6" r="1.2" fill="#111"/>
<circle cx="553.2" cy="201.6" r="1.2" fill="#111"/>
<circle cx="555" cy="195.1" r="1.2" fill="#111"/>
<circle cx="630.9" cy="148.9" r="1.2" fill="#111"/>
<circle cx="539.2" cy="217.4" r="1.2" fill="#111"/>
<circle cx="546.8" cy="207.8" r="1.2" fill="#111"/>
<circle cx="572.1" cy="175.9" r="1.2" fill="#111"/>
<circle cx="584.7" cy="164.2" r="1.2" fill="#111"/>
<circle cx="601.6" cy="159.4" r="1.2" fill="#111"/>
<circle cx="591.8" cy="188.7" r="1.2" fill="#111"/>
<circle cx="568.3" cy="196.2" r="1.2" fill="#111"/>
<circle cx="600.1" cy="159" r="1.2" fill="#111"/>
<circle cx="569.5" cy="180.8" r="1.2" fill="#111"/>
<circle cx="551.3" cy="196.8" r="1.2" fill="#111"/>
<circle cx="618.5" cy="135.5" r="1.2" fill="#111"/>
<circle cx="609.2" cy="159.5" r="1.2" fill="#111"/>
<circle cx="609.7" cy="149.2" r="1.2" fill="#111"/>
<circle cx="560.9" cy="192.1" r="1.2" fill="#111"/>
<circle cx="617.3" cy="125.6" r="1.2" fill="#111"/>
<circle cx="565.3" cy="193.8" r="1.2" fill="#111"/>
<circle cx="565.4" cy="186.6" r="1.2" fill="#111"/>
<circle cx="568.6" cy="191.9" r="1.2" fill="#111"/>
<circle cx="558.7" cy="194.4" r="1.2" fill="#111"/>
<circle cx="547.3" cy="211.3" r="1.2" fill="#111"/>
<circle cx="552.4" cy="203.1" r="1.2" fill="#111"/>
<circle cx="570.5" cy="192.3" r="1.2" fill="#111"/>
<circle cx="566.3" cy="192.8" r="1.2" fill="#111"/>
<circle cx="547.3" cy="212.2" r="1.2" fill="#111"/>
<circle cx="573.7" cy="192.5" r="1.2" fill="#111"/>
<circle cx="593.2" cy="149.8" r="1.2" fill="#111"/>
<circle cx="583" cy="161.6" r="1.2" fill="#111"/>
<circle cx="572.5" cy="202.3" r="1.2" fill="#111"/>
<circle cx="574.6" cy="181.2" r="1.2" fill="#111"/>
<circle cx="564.8" cy="180.5" r="1.2" fill="#111"/>
<circle cx="578.6" cy="176.7" r="1.2" fill="#111"/>
<circle cx="556" cy="195.5" r="1.2" fill="#111"/>
<circle cx="563.6" cy="183.7" r="1.2" fill="#111"/>
<circle cx="621.6" cy="129" r="1.2" fill="#111"/>
<circle cx="605.4" cy="133.4" r="1.2" fill="#111"/>
<circle cx="587.1" cy="167.3" r="1.2" fill="#111"/>
<circle cx="562.9" cy="191.3" r="1.2" fill="#111"/>
<circle cx="557" cy="195.8" r="1.2" fill="#111"/>
<circle cx="557.9" cy="201.1" r="1.2" fill="#111"/>
<circle cx="544.8" cy="212.4" r="1.2" fill="#111"/>
<circle cx="551.6" cy="198.6" r="1.2" fill="#111"/>
<circle cx="562.6" cy="199.9" r="1.2" fill="#111"/>
<circle cx="556.3" cy="191.8" r="1.2" fill="#111"/>
<circle cx="629.5" cy="120.2" r="1.2" fill="#111"/>
<circle cx="569.6" cy="179.1" r="1.2" fill="#111"/>
<circle cx="562.4" cy="187.8" r="1.2" fill="#111"/>
<circle cx="554.9" cy="190.7" r="1.2" fill="#111"/>
<circle cx="618.3" cy="135.5" r="1.2" fill="#111"/>
<circle cx="564.4" cy="189.5" r="1.2" fill="#111"/>
<circle cx="616.4" cy="124.3" r="1.2" fill="#111"/>
<circle cx="562.4" cy="194.5" r="1.2" fill="#111"/>
<circle cx="584" cy="160.7" r="1.2" fill="#111"/>
<circle cx="613.1" cy="132.6" r="1.2" fill="#111"/>
<circle cx="568.9" cy="187.4" r="1.2" fill="#111"/>
<circle cx="615.7" cy="151.1" r="1.2" fill="#111"/>
<circle cx="605.9" cy="167.2" r="1.2" fill="#111"/>
<circle cx="593.9" cy="191.1" r="1.2" fill="#111"/>
<circle cx="602.6" cy="164.6" r="1.2" fill="#111"/>
<circle cx="571.7" cy="189.1" r="1.2" fill="#111"/>
<circle cx="568.6" cy="179.5" r="1.2" fill="#111"/>
<circle cx="611" cy="137.2" r="1.2" fill="#111"/>
<circle cx="544.5" cy="208.3" r="1.2" fill="#111"/>
<circle cx="570.4" cy="182.5" r="1.2" fill="#111"/>
<circle cx="599.9" cy="157.2" r="1.2" fill="#111"/>
<circle cx="572.7" cy="186.5" r="1.2" fill="#111"/>
<circle cx="544.3" cy="211.8" r="1.2" fill="#111"/>
<circle cx="564.6" cy="185.5" r="1.2" fill="#111"/>
<circle cx="567.3" cy="179.8" r="1.2" fill="#111"/>
<circle cx="556.3" cy="191.7" r="1.2" fill="#111"/>
<circle cx="592.9" cy="160.7" r="1.2" fill="#111"/>
<circle cx="600.8" cy="173.3" r="1.2" fill="#111"/>
<circle cx="578.3" cy="171.6" r="1.2" fill="#111"/>
<circle cx="603.4" cy="151.3" r="1.2" fill="#111"/>
<circle cx="561.6" cy="205.9" r="1.2" fill="#111"/>
<circle cx="616.7" cy="121.4" r="1.2" fill="#111"/>
<circle cx="583.5" cy="168.2" r="1.2" fill="#111"/>
<circle cx="568.9" cy="184.9" r="1.2" fill="#111"/>
<circle cx="554.8" cy="197.8" r="1.2" fill="#111"/>
<circle cx="575.4" cy="177.2" r="1.2" fill="#111"/>
<circle cx="572.5" cy="179.4" r="1.2" fill="#111"/>
<circle cx="588.3" cy="164.1" r="1.2" fill="#111"/>
<circle cx="604.2" cy="148.7" r="1.2" fill="#111"/>
<circle cx="555" cy="195.8" r="1.2" fill="#111"/>
<circle cx="636.7" cy="111.8" r="1.2" fill="#111"/>
<circle cx="580.7" cy="183.1" r="1.2" fill="#111"/>
<circle cx="580.2" cy="172.1" r="1.2" fill="#111"/>
<circle cx="600.9" cy="157" r="1.2" fill="#111"/>
<circle cx="567.5" cy="189.3" r="1.2" fill="#111"/>
<circle cx="612.6" cy="136.3" r="1.2" fill="#111"/>
<circle cx="571" cy="181.5" r="1.2" fill="#111"/>
<circle cx="580.8" cy="170.6" r="1.2" fill="#111"/>
<circle cx="572.4" cy="182.1" r="1.2" fill="#111"/>
<circle cx="594.1" cy="160.6" r="1.2" fill="#111"/>
<circle cx="592.4" cy="154.4" r="1.2" fill="#111"/>
<circle cx="573.3" cy="171.1" r="1.2" fill="#111"/>
<circle cx="585.4" cy="165.1" r="1.2" fill="#111"/>
<circle cx="596.5" cy="157.5" r="1.2" fill="#111"/>
<circle cx="564" cy="195.7" r="1.2" fill="#111"/>
<circle cx="568.6" cy="191.6" r="1.2" fill="#111"/>
<circle cx="569.6" cy="183.4" r="1.2" fill="#111"/>
<circle cx="548.2" cy="206.2" r="1.2" fill="#111"/>
<circle cx="544.7" cy="209.2" r="1.2" fill="#111"/>
<circle cx="561.9" cy="197.3" r="1.2" fill="#111"/>
<circle cx="580.5" cy="173.7" r="1.2" fill="#111"/>
<circle cx="578.7" cy="188.2" r="1.2" fill="#111"/>
<circle cx="568.9" cy="191.6" r="1.2" fill="#111"/>
<circle cx="562.4" cy="195.2" r="1.2" fill="#111"/>
<circle cx="575.9" cy="173.6" r="1.2" fill="#111"/>
<circle cx="550.6" cy="205.4" r="1.2" fill="#111"/>
<circle cx="599.3" cy="162.7" r="1.2" fill="#111"/>
<circle cx="630.4" cy="119.6" r="1.2" fill="#111"/>
<circle cx="592.9" cy="161.4" r="1.2" fill="#111"/>
<circle cx="585.4" cy="161" r="1.2" fill="#111"/>
<circle cx="560" cy="191.9" r="1.2" fill="#111"/>
<circle cx="555.8" cy="196.8" r="1.2" fill="#111"/>
<circle cx="569.1" cy="185.6" r="1.2" fill="#111"/>
<circle cx="625.2" cy="120.6" r="1.2" fill="#111"/>
<circle cx="544.8" cy="214.3" r="1.2" fill="#111"/>
<circle cx="557.2" cy="203.8" r="1.2" fill="#111"/>
<circle cx="641.7" cy="158.4" r="1.2" fill="#111"/>
<circle cx="583" cy="174.2" r="1.2" fill="#111"/>
<circle cx="597.4" cy="155.8" r="1.2" fill="#111"/>
<circle cx="565.9" cy="184.3" r="1.2" fill="#111"/>
<circle cx="605" cy="138.8" r="1.2" fill="#111"/>
<circle cx="609.5" cy="173.7" r="1.2" fill="#111"/>
<circle cx="613.1" cy="151.6" r="1.2" fill="#111"/>
<circle cx="593.7" cy="149.5" r="1.2" fill="#111"/>
<circle cx="560.9" cy="201.6" r="1.2" fill="#111"/>
<circle cx="530.7" cy="223.3" r="1.2" fill="#111"/>
<circle cx="531.5" cy="222.8" r="1.2" fill="#111"/>
<circle cx="532.7" cy="222.5" r="1.2" fill="#111"/>
<circle cx="661.6" cy="89.8" r="1.2" fill="#111"/>
<circle cx="661.6" cy="106.4" r="1.2" fill="#111"/>
<circle cx="671.7" cy="108" r="1.2" fill="#111"/>
<circle cx="649.8" cy="106.4" r="1.2" fill="#111"/>
<circle cx="648.1" cy="119.6" r="1.2" fill="#111"/>
<circle cx="634.6" cy="99.8" r="1.2" fill="#111"/>
<circle cx="627.9" cy="99.8" r="1.2" fill="#111"/>
<circle cx="641.3" cy="114.6" r="1.2" fill="#111"/>
<circle cx="639.7" cy="131.1" r="1.2" fill="#111"/>
<circle cx="634.6" cy="134.4" r="1.2" fill="#111"/>
<circle cx="636.3" cy="149.2" r="1.2" fill="#111"/>
<circle cx="636.3" cy="165.8" r="1.2" fill="#111"/>
<circle cx="622.8" cy="182.2" r="1.2" fill="#111"/>
<circle cx="617.8" cy="165.8" r="1.2" fill="#111"/>
<circle cx="614.4" cy="175.7" r="1.2" fill="#111"/>
<circle cx="602.6" cy="178.9" r="1.2" fill="#111"/>
<circle cx="592.5" cy="185.6" r="1.2" fill="#111"/>
<circle cx="585.8" cy="178.9" r="1.2" fill="#111"/>
<circle cx="577.4" cy="190.5" r="1.2" fill="#111"/>
<circle cx="575.7" cy="202.1" r="1.2" fill="#111"/>
<circle cx="562.2" cy="210.3" r="1.2" fill="#111"/>
<circle cx="557.1" cy="215.2" r="1.2" fill="#111"/>
<circle cx="552.1" cy="202.1" r="1.2" fill="#111"/>
<circle cx="629.6" cy="165.8" r="1.2" fill="#111"/>
<circle cx="632.9" cy="159.2" r="1.2" fill="#111"/>
<line x1="522.5" y1="84.4" x2="522.5" y2="230" stroke="#262626" stroke-width="1.1"/>
<line x1="522" y1="229.5" x2="678.8" y2="229.5" stroke="#262626" stroke-width="1.1"/>
<line x1="519.8" y1="223.5" x2="522.5" y2="223.5" stroke="#262626" stroke-width="1"/>
<text x="517.6" y="226.9" font-size="9.6" fill="#4d4d4d" text-anchor="end">0</text>
<line x1="530.2" y1="229.5" x2="530.2" y2="232.2" stroke="#262626" stroke-width="1"/>
<text x="530.2" y="243" font-size="9.6" fill="#4d4d4d" text-anchor="middle">0</text>
<line x1="519.8" y1="190.5" x2="522.5" y2="190.5" stroke="#262626" stroke-width="1"/>
<text x="517.6" y="193.9" font-size="9.6" fill="#4d4d4d" text-anchor="end">20</text>
<line x1="563.9" y1="229.5" x2="563.9" y2="232.2" stroke="#262626" stroke-width="1"/>
<text x="563.9" y="243" font-size="9.6" fill="#4d4d4d" text-anchor="middle">20</text>
<line x1="519.8" y1="157.5" x2="522.5" y2="157.5" stroke="#262626" stroke-width="1"/>
<text x="517.6" y="160.9" font-size="9.6" fill="#4d4d4d" text-anchor="end">40</text>
<line x1="597.6" y1="229.5" x2="597.6" y2="232.2" stroke="#262626" stroke-width="1"/>
<text x="597.6" y="243" font-size="9.6" fill="#4d4d4d" text-anchor="middle">40</text>
<line x1="519.8" y1="124.5" x2="522.5" y2="124.5" stroke="#262626" stroke-width="1"/>
<text x="517.6" y="127.9" font-size="9.6" fill="#4d4d4d" text-anchor="end">60</text>
<line x1="631.2" y1="229.5" x2="631.2" y2="232.2" stroke="#262626" stroke-width="1"/>
<text x="631.2" y="243" font-size="9.6" fill="#4d4d4d" text-anchor="middle">60</text>
<line x1="519.8" y1="91.5" x2="522.5" y2="91.5" stroke="#262626" stroke-width="1"/>
<text x="517.6" y="94.9" font-size="9.6" fill="#4d4d4d" text-anchor="end">80</text>
<line x1="664.9" y1="229.5" x2="664.9" y2="232.2" stroke="#262626" stroke-width="1"/>
<text x="664.9" y="243" font-size="9.6" fill="#4d4d4d" text-anchor="middle">80</text>
<text x="561.4" y="118" font-size="10.4" fill="#000"><tspan font-style="italic">r</tspan> = 0.94</text>
<text x="483.4" y="162.3" font-size="9.6" fill="#000" text-anchor="middle" transform="rotate(-90 483.4 162.3)">percent of variance in protein fitness</text>
<text x="494.8" y="162.3" font-size="9.6" fill="#000" text-anchor="middle" transform="rotate(-90 494.8 162.3)">explained by protein stability (rank-based)</text>
<text x="603.9" y="260.5" font-size="9.7" fill="#000" text-anchor="middle">percent of variance in protein fitness</text>
<text x="604.4" y="272.2" font-size="9.7" fill="#000" text-anchor="middle">explained by protein stability (linear)</text>
<text x="448.4" y="304.4" font-size="10.5" fill="#000" font-weight="bold">d</text>
<circle cx="530" cy="450.3" r="1.2" fill="#111"/>
<circle cx="545.1" cy="431.8" r="1.2" fill="#111"/>
<circle cx="547.9" cy="429.7" r="1.2" fill="#111"/>
<circle cx="550.8" cy="412.2" r="1.2" fill="#111"/>
<circle cx="549.6" cy="424" r="1.2" fill="#111"/>
<circle cx="551.6" cy="424.4" r="1.2" fill="#111"/>
<circle cx="553.2" cy="428.1" r="1.2" fill="#111"/>
<circle cx="554" cy="421.9" r="1.2" fill="#111"/>
<circle cx="554.8" cy="425.2" r="1.2" fill="#111"/>
<circle cx="555.6" cy="435.4" r="1.2" fill="#111"/>
<circle cx="556.9" cy="417.6" r="1.2" fill="#111"/>
<circle cx="557.6" cy="415.4" r="1.2" fill="#111"/>
<circle cx="559.2" cy="423.2" r="1.2" fill="#111"/>
<circle cx="559.7" cy="426.8" r="1.2" fill="#111"/>
<circle cx="560.8" cy="410.3" r="1.2" fill="#111"/>
<circle cx="562.4" cy="426.1" r="1.2" fill="#111"/>
<circle cx="562.1" cy="394.1" r="1.2" fill="#111"/>
<circle cx="564" cy="399.7" r="1.2" fill="#111"/>
<circle cx="565" cy="409.5" r="1.2" fill="#111"/>
<circle cx="566.2" cy="352.6" r="1.2" fill="#111"/>
<circle cx="566.6" cy="416.4" r="1.2" fill="#111"/>
<circle cx="567" cy="404.1" r="1.2" fill="#111"/>
<circle cx="567" cy="426.8" r="1.2" fill="#111"/>
<circle cx="567.9" cy="396.5" r="1.2" fill="#111"/>
<circle cx="568.9" cy="401.8" r="1.2" fill="#111"/>
<circle cx="570.2" cy="395.4" r="1.2" fill="#111"/>
<circle cx="569.9" cy="420.3" r="1.2" fill="#111"/>
<circle cx="570.2" cy="425.6" r="1.2" fill="#111"/>
<circle cx="571" cy="387.9" r="1.2" fill="#111"/>
<circle cx="574.3" cy="410.6" r="1.2" fill="#111"/>
<circle cx="575.4" cy="400.2" r="1.2" fill="#111"/>
<circle cx="576.4" cy="389.2" r="1.2" fill="#111"/>
<circle cx="578" cy="409.5" r="1.2" fill="#111"/>
<circle cx="578.8" cy="348.7" r="1.2" fill="#111"/>
<circle cx="579.6" cy="410.6" r="1.2" fill="#111"/>
<circle cx="580.2" cy="378.2" r="1.2" fill="#111"/>
<circle cx="580.2" cy="399.7" r="1.2" fill="#111"/>
<circle cx="581.2" cy="395.4" r="1.2" fill="#111"/>
<circle cx="582.8" cy="393.3" r="1.2" fill="#111"/>
<circle cx="584.8" cy="402.2" r="1.2" fill="#111"/>
<circle cx="585.3" cy="400.2" r="1.2" fill="#111"/>
<circle cx="586.1" cy="377.9" r="1.2" fill="#111"/>
<circle cx="588" cy="392.1" r="1.2" fill="#111"/>
<circle cx="588.8" cy="400.9" r="1.2" fill="#111"/>
<circle cx="590" cy="405.4" r="1.2" fill="#111"/>
<circle cx="590.9" cy="373.8" r="1.2" fill="#111"/>
<circle cx="591.3" cy="416.7" r="1.2" fill="#111"/>
<circle cx="594.2" cy="386.8" r="1.2" fill="#111"/>
<circle cx="600.7" cy="331.7" r="1.2" fill="#111"/>
<circle cx="596.9" cy="354.4" r="1.2" fill="#111"/>
<circle cx="598.6" cy="353.9" r="1.2" fill="#111"/>
<circle cx="596.6" cy="387.6" r="1.2" fill="#111"/>
<circle cx="598.2" cy="410.6" r="1.2" fill="#111"/>
<circle cx="598.2" cy="417.1" r="1.2" fill="#111"/>
<circle cx="606.3" cy="381.9" r="1.2" fill="#111"/>
<circle cx="607.1" cy="388.9" r="1.2" fill="#111"/>
<circle cx="608" cy="371.4" r="1.2" fill="#111"/>
<circle cx="612" cy="361.7" r="1.2" fill="#111"/>
<circle cx="613.6" cy="380" r="1.2" fill="#111"/>
<circle cx="614.1" cy="347.1" r="1.2" fill="#111"/>
<circle cx="615.2" cy="375" r="1.2" fill="#111"/>
<circle cx="618.2" cy="379.5" r="1.2" fill="#111"/>
<circle cx="619.6" cy="375" r="1.2" fill="#111"/>
<circle cx="620.9" cy="339.5" r="1.2" fill="#111"/>
<circle cx="622.9" cy="331.7" r="1.2" fill="#111"/>
<circle cx="623.3" cy="386.5" r="1.2" fill="#111"/>
<circle cx="624.6" cy="339" r="1.2" fill="#111"/>
<circle cx="625.8" cy="348.4" r="1.2" fill="#111"/>
<circle cx="626.3" cy="372.2" r="1.2" fill="#111"/>
<circle cx="627.4" cy="340.3" r="1.2" fill="#111"/>
<circle cx="632.6" cy="387.6" r="1.2" fill="#111"/>
<circle cx="633.9" cy="363.6" r="1.2" fill="#111"/>
<circle cx="634.7" cy="349" r="1.2" fill="#111"/>
<circle cx="640" cy="332.5" r="1.2" fill="#111"/>
<circle cx="642.8" cy="399.3" r="1.2" fill="#111"/>
<circle cx="650.9" cy="352" r="1.2" fill="#111"/>
<circle cx="655.7" cy="341.9" r="1.2" fill="#111"/>
<circle cx="657.8" cy="316.7" r="1.2" fill="#111"/>
<circle cx="663.8" cy="338.5" r="1.2" fill="#111"/>
<circle cx="667.1" cy="348.4" r="1.2" fill="#111"/>
<line x1="523.4" y1="310.2" x2="523.4" y2="457.2" stroke="#262626" stroke-width="1.1"/>
<line x1="522.9" y1="456.7" x2="673.8" y2="456.7" stroke="#262626" stroke-width="1.1"/>
<line x1="520.7" y1="455" x2="523.4" y2="455" stroke="#262626" stroke-width="1"/>
<text x="518.3" y="458.4" font-size="9.6" fill="#4d4d4d" text-anchor="end">0</text>
<line x1="520.7" y1="429.1" x2="523.4" y2="429.1" stroke="#262626" stroke-width="1"/>
<text x="518.3" y="432.5" font-size="9.6" fill="#4d4d4d" text-anchor="end">10</text>
<line x1="520.7" y1="403.2" x2="523.4" y2="403.2" stroke="#262626" stroke-width="1"/>
<text x="518.3" y="406.6" font-size="9.6" fill="#4d4d4d" text-anchor="end">20</text>
<line x1="520.7" y1="377.3" x2="523.4" y2="377.3" stroke="#262626" stroke-width="1"/>
<text x="518.3" y="380.7" font-size="9.6" fill="#4d4d4d" text-anchor="end">30</text>
<line x1="520.7" y1="351.4" x2="523.4" y2="351.4" stroke="#262626" stroke-width="1"/>
<text x="518.3" y="354.8" font-size="9.6" fill="#4d4d4d" text-anchor="end">40</text>
<line x1="520.7" y1="325.5" x2="523.4" y2="325.5" stroke="#262626" stroke-width="1"/>
<text x="518.3" y="328.9" font-size="9.6" fill="#4d4d4d" text-anchor="end">50</text>
<line x1="529.6" y1="456.7" x2="529.6" y2="459.4" stroke="#262626" stroke-width="1"/>
<text x="529.6" y="470.4" font-size="9.6" fill="#4d4d4d" text-anchor="middle">0</text>
<line x1="570.5" y1="456.7" x2="570.5" y2="459.4" stroke="#262626" stroke-width="1"/>
<text x="570.5" y="470.4" font-size="9.6" fill="#4d4d4d" text-anchor="middle">20</text>
<line x1="611.4" y1="456.7" x2="611.4" y2="459.4" stroke="#262626" stroke-width="1"/>
<text x="611.4" y="470.4" font-size="9.6" fill="#4d4d4d" text-anchor="middle">40</text>
<line x1="652.3" y1="456.7" x2="652.3" y2="459.4" stroke="#262626" stroke-width="1"/>
<text x="652.3" y="470.4" font-size="9.6" fill="#4d4d4d" text-anchor="middle">60</text>
<text x="539" y="329.2" font-size="10.4" fill="#000"><tspan font-style="italic">r</tspan> = 0.81</text>
<text x="484" y="392.3" font-size="9.6" fill="#000" text-anchor="middle" transform="rotate(-90 484 392.3)">percent of variance in protein fitness</text>
<text x="495.3" y="392.3" font-size="9.6" fill="#000" text-anchor="middle" transform="rotate(-90 495.3 392.3)">explained by ThermoMPNN predictions</text>
<text x="594.7" y="485.5" font-size="9.8" fill="#000" text-anchor="middle">percent of variance in protein fitness</text>
<text x="594.4" y="497.2" font-size="9.8" fill="#000" text-anchor="middle">explained by aPCA scores</text>
<text x="16" y="619.2" font-size="10.5" fill="#000" font-weight="bold">e</text>
<path d="M255.8,623.1 L256.1,623 L256.5,622.9 L256.8,622.8 L257.1,622.7 L257.4,622.6 L257.8,622.6 L258.1,622.5 L258.4,622.4 L258.8,622.4 L259.1,622.3 L259.4,622.3 L259.7,622.2 L260.1,622.2 L260.4,622.2 L260.7,622.1 L261,622.1 L261.4,622.1 L261.7,622.1 L262,622.1 L262.4,622.1 L262.7,622.1 L263,622.2 L263.3,622.2 L263.7,622.2 L264,622.3 L264.3,622.3 L264.7,622.4 L265,622.4 L265.3,622.5 L265.6,622.5 L266,622.6 L266.3,622.7 L266.6,622.7 L266.9,622.8 L267.3,622.9 L267.6,623 L267.9,623 L268.3,623.1 L268.6,623.2 L268.9,623.2 L269.2,623.3 L269.6,623.4 L269.9,623.4 L270.2,623.5 L270.6,623.6 L270.9,623.6 L271.2,623.7 L271.5,623.7 L271.9,623.8 L272.2,623.8 L272.5,623.8 L272.8,623.9 L273.2,623.9 L273.5,623.9 L273.8,623.9 L274.2,623.9 L274.5,623.9 L274.8,623.9 L275.1,624 L275.5,624 L275.8,624 L276.1,623.9 L276.5,623.9 L276.8,623.9 L277.1,623.9 L277.4,623.9 L277.8,623.9 L278.1,623.9 L278.4,623.9 L278.7,623.9 L279.1,623.9 L279.4,623.9 L279.7,623.9 L280.1,623.9 L280.4,623.9 L280.7,623.9 L281,623.9 L281.4,623.9 L281.7,624 L281.7,626.6 L281.4,626.7 L281,626.7 L280.7,626.7 L280.4,626.7 L280.1,626.7 L279.7,626.7 L279.4,626.7 L279.1,626.7 L278.7,626.7 L278.4,626.7 L278.1,626.7 L277.8,626.7 L277.4,626.7 L277.1,626.7 L276.8,626.7 L276.5,626.7 L276.1,626.7 L275.8,626.6 L275.5,626.6 L275.1,626.6 L274.8,626.7 L274.5,626.7 L274.2,626.7 L273.8,626.7 L273.5,626.7 L273.2,626.7 L272.8,626.7 L272.5,626.8 L272.2,626.8 L271.9,626.8 L271.5,626.9 L271.2,626.9 L270.9,627 L270.6,627 L270.2,627.1 L269.9,627.2 L269.6,627.2 L269.2,627.3 L268.9,627.4 L268.6,627.4 L268.3,627.5 L267.9,627.6 L267.6,627.6 L267.3,627.7 L266.9,627.8 L266.6,627.9 L266.3,627.9 L266,628 L265.6,628.1 L265.3,628.1 L265,628.2 L264.7,628.2 L264.3,628.3 L264,628.3 L263.7,628.4 L263.3,628.4 L263,628.4 L262.7,628.5 L262.4,628.5 L262,628.5 L261.7,628.5 L261.4,628.5 L261,628.5 L260.7,628.5 L260.4,628.4 L260.1,628.4 L259.7,628.4 L259.4,628.3 L259.1,628.3 L258.8,628.2 L258.4,628.2 L258.1,628.1 L257.8,628 L257.4,628 L257.1,627.9 L256.8,627.8 L256.5,627.7 L256.1,627.6 L255.8,627.5Z" fill="#f2cf8d" stroke="#c99a3c" stroke-width="0.75" stroke-linejoin="round"/>
<line x1="255.8" y1="625.3" x2="261.8" y2="625.3" stroke="#3a2a22" stroke-width="0.7"/>
<line x1="273.7" y1="625.3" x2="281.7" y2="625.3" stroke="#3a2a22" stroke-width="0.7"/>
<circle cx="255.8" cy="626.6" r="0.8" fill="#e0a93e" fill-opacity="0.9"/>
<circle cx="261.8" cy="625.8" r="0.8" fill="#e0a93e" fill-opacity="0.9"/>
<circle cx="265.8" cy="624.4" r="0.8" fill="#e0a93e" fill-opacity="0.9"/>
<circle cx="273.7" cy="623.4" r="0.8" fill="#e0a93e" fill-opacity="0.9"/>
<circle cx="281.7" cy="627.2" r="0.8" fill="#e0a93e" fill-opacity="0.9"/>
<circle cx="257.4" cy="627.8" r="0.8" fill="#e0a93e" fill-opacity="0.9"/>
<circle cx="259.3" cy="625.1" r="0.8" fill="#e0a93e" fill-opacity="0.9"/>
<circle cx="263" cy="626.8" r="0.8" fill="#e0a93e" fill-opacity="0.9"/>
<circle cx="266.1" cy="625.4" r="0.8" fill="#e0a93e" fill-opacity="0.9"/>
<circle cx="281.3" cy="625.7" r="0.8" fill="#e0a93e" fill-opacity="0.9"/>
<rect x="261.8" y="623.8" width="11.9" height="3.1" fill="#e8d8b5" stroke="#2a2a2a" stroke-width="0.7"/>
<line x1="265.8" y1="623.8" x2="265.8" y2="626.8" stroke="#1a1a1a" stroke-width="0.9"/>
<line x1="232" y1="625.3" x2="234.7" y2="625.3" stroke="#262626" stroke-width="0.9"/>
<text x="230.3" y="628.3" font-size="8.1" fill="#4d4d4d" text-anchor="end">Zinc finger nuclear hormone receptor−type PF00105</text>
<text x="290.6" y="627.7" font-size="7.2" fill="#000">n=10 domains</text>
<path d="M254.4,633.6 L255.1,633.5 L255.7,633.4 L256.4,633.3 L257.1,633.2 L257.7,633.1 L258.4,633 L259.1,632.9 L259.7,632.8 L260.4,632.7 L261.1,632.7 L261.8,632.6 L262.4,632.6 L263.1,632.6 L263.8,632.5 L264.4,632.5 L265.1,632.5 L265.8,632.6 L266.4,632.6 L267.1,632.6 L267.8,632.7 L268.4,632.7 L269.1,632.8 L269.8,632.8 L270.4,632.9 L271.1,632.9 L271.8,633 L272.4,633 L273.1,633.1 L273.8,633.2 L274.5,633.3 L275.1,633.3 L275.8,633.5 L276.5,633.6 L277.1,633.7 L277.8,633.8 L278.5,634 L279.1,634.1 L279.8,634.2 L280.5,634.3 L281.1,634.4 L281.8,634.5 L282.5,634.6 L283.1,634.7 L283.8,634.7 L284.5,634.7 L285.1,634.7 L285.8,634.7 L286.5,634.7 L287.1,634.7 L287.8,634.7 L288.5,634.7 L289.2,634.6 L289.8,634.6 L290.5,634.6 L291.2,634.5 L291.8,634.5 L292.5,634.5 L293.2,634.5 L293.8,634.5 L294.5,634.5 L295.2,634.5 L295.8,634.5 L296.5,634.5 L297.2,634.5 L297.8,634.5 L298.5,634.5 L299.2,634.6 L299.8,634.6 L300.5,634.6 L301.2,634.6 L301.9,634.6 L302.5,634.6 L303.2,634.6 L303.9,634.6 L304.5,634.6 L305.2,634.7 L305.9,634.7 L306.5,634.7 L307.2,634.7 L307.2,635.5 L306.5,635.5 L305.9,635.5 L305.2,635.5 L304.5,635.5 L303.9,635.5 L303.2,635.5 L302.5,635.5 L301.9,635.5 L301.2,635.5 L300.5,635.5 L299.8,635.6 L299.2,635.6 L298.5,635.6 L297.8,635.6 L297.2,635.6 L296.5,635.7 L295.8,635.7 L295.2,635.7 L294.5,635.7 L293.8,635.7 L293.2,635.7 L292.5,635.7 L291.8,635.6 L291.2,635.6 L290.5,635.6 L289.8,635.5 L289.2,635.5 L288.5,635.5 L287.8,635.4 L287.1,635.4 L286.5,635.4 L285.8,635.4 L285.1,635.4 L284.5,635.4 L283.8,635.4 L283.1,635.5 L282.5,635.5 L281.8,635.6 L281.1,635.7 L280.5,635.8 L279.8,635.9 L279.1,636 L278.5,636.2 L277.8,636.3 L277.1,636.4 L276.5,636.6 L275.8,636.7 L275.1,636.8 L274.5,636.9 L273.8,637 L273.1,637 L272.4,637.1 L271.8,637.2 L271.1,637.2 L270.4,637.3 L269.8,637.3 L269.1,637.4 L268.4,637.4 L267.8,637.5 L267.1,637.5 L266.4,637.5 L265.8,637.6 L265.1,637.6 L264.4,637.6 L263.8,637.6 L263.1,637.6 L262.4,637.6 L261.8,637.5 L261.1,637.5 L260.4,637.4 L259.7,637.3 L259.1,637.3 L258.4,637.2 L257.7,637.1 L257.1,637 L256.4,636.9 L255.7,636.8 L255.1,636.6 L254.4,636.5Z" fill="#ee7880" stroke="#bf1f2b" stroke-width="0.75" stroke-linejoin="round"/>
<line x1="254.4" y1="635.1" x2="261.8" y2="635.1" stroke="#3a2a22" stroke-width="0.7"/>
<line x1="274.2" y1="635.1" x2="291.4" y2="635.1" stroke="#3a2a22" stroke-width="0.7"/>
<circle cx="254.4" cy="634.3" r="0.8" fill="#d9262f" fill-opacity="0.9"/>
<circle cx="261.8" cy="632.8" r="0.8" fill="#d9262f" fill-opacity="0.9"/>
<circle cx="266.3" cy="633.9" r="0.8" fill="#d9262f" fill-opacity="0.9"/>
<circle cx="274.2" cy="638.3" r="0.8" fill="#d9262f" fill-opacity="0.9"/>
<circle cx="307.2" cy="638" r="0.8" fill="#d9262f" fill-opacity="0.9"/>
<circle cx="255.1" cy="636.8" r="0.8" fill="#d9262f" fill-opacity="0.9"/>
<circle cx="260.5" cy="632" r="0.8" fill="#d9262f" fill-opacity="0.9"/>
<circle cx="256.9" cy="631.6" r="0.8" fill="#d9262f" fill-opacity="0.9"/>
<circle cx="264.5" cy="631.4" r="0.8" fill="#d9262f" fill-opacity="0.9"/>
<circle cx="263.1" cy="635.7" r="0.8" fill="#d9262f" fill-opacity="0.9"/>
<circle cx="266" cy="633.5" r="0.8" fill="#d9262f" fill-opacity="0.9"/>
<circle cx="273.2" cy="635.3" r="0.8" fill="#d9262f" fill-opacity="0.9"/>
<circle cx="269.2" cy="638.8" r="0.8" fill="#d9262f" fill-opacity="0.9"/>
<circle cx="274" cy="636.3" r="0.8" fill="#d9262f" fill-opacity="0.9"/>
<circle cx="276.8" cy="637" r="0.8" fill="#d9262f" fill-opacity="0.9"/>
<circle cx="297" cy="632.6" r="0.8" fill="#d9262f" fill-opacity="0.9"/>
<circle cx="291.4" cy="638.5" r="0.8" fill="#d9262f" fill-opacity="0.9"/>
<rect x="261.8" y="633.5" width="12.4" height="3.1" fill="#e3c6bf" stroke="#2a2a2a" stroke-width="0.7"/>
<line x1="266.3" y1="633.5" x2="266.3" y2="636.6" stroke="#1a1a1a" stroke-width="0.9"/>
<line x1="232" y1="635.1" x2="234.7" y2="635.1" stroke="#262626" stroke-width="0.9"/>
<text x="230.3" y="638.1" font-size="8.1" fill="#4d4d4d" text-anchor="end">High mobility group box domain PF00505</text>
<text x="315.9" y="637.5" font-size="7.2" fill="#000">n=17</text>
<path d="M241.4,644.1 L243.1,644 L244.9,643.9 L246.6,643.8 L248.4,643.8 L250.1,643.8 L251.9,643.7 L253.6,643.7 L255.4,643.7 L257.1,643.7 L258.8,643.7 L260.6,643.7 L262.3,643.7 L264.1,643.7 L265.8,643.7 L267.6,643.7 L269.3,643.7 L271.1,643.7 L272.8,643.8 L274.5,643.8 L276.3,643.8 L278,643.9 L279.8,643.9 L281.5,643.9 L283.3,644 L285,644.1 L286.8,644.1 L288.5,644.2 L290.2,644.3 L292,644.3 L293.7,644.4 L295.5,644.4 L297.2,644.5 L299,644.5 L300.7,644.5 L302.5,644.5 L304.2,644.5 L305.9,644.5 L307.7,644.5 L309.4,644.5 L311.2,644.5 L312.9,644.5 L314.7,644.5 L316.4,644.5 L318.1,644.5 L319.9,644.5 L321.6,644.5 L323.4,644.5 L325.1,644.5 L326.9,644.5 L328.6,644.5 L330.4,644.5 L332.1,644.5 L333.8,644.5 L335.6,644.5 L337.3,644.5 L339.1,644.5 L340.8,644.5 L342.6,644.5 L344.3,644.5 L346.1,644.5 L347.8,644.5 L349.5,644.5 L351.3,644.5 L353,644.5 L354.8,644.5 L356.5,644.5 L358.3,644.5 L360,644.5 L361.8,644.5 L363.5,644.5 L365.2,644.5 L367,644.5 L368.7,644.5 L370.5,644.5 L372.2,644.5 L374,644.5 L375.7,644.5 L377.5,644.5 L379.2,644.5 L379.2,645.2 L377.5,645.2 L375.7,645.2 L374,645.2 L372.2,645.2 L370.5,645.2 L368.7,645.2 L367,645.2 L365.2,645.2 L363.5,645.2 L361.8,645.2 L360,645.2 L358.3,645.2 L356.5,645.2 L354.8,645.2 L353,645.2 L351.3,645.2 L349.5,645.2 L347.8,645.2 L346.1,645.2 L344.3,645.2 L342.6,645.2 L340.8,645.2 L339.1,645.2 L337.3,645.2 L335.6,645.2 L333.8,645.2 L332.1,645.2 L330.4,645.2 L328.6,645.2 L326.9,645.2 L325.1,645.2 L323.4,645.2 L321.6,645.2 L319.9,645.2 L318.1,645.2 L316.4,645.2 L314.7,645.2 L312.9,645.2 L311.2,645.2 L309.4,645.2 L307.7,645.2 L305.9,645.2 L304.2,645.2 L302.5,645.2 L300.7,645.2 L299,645.2 L297.2,645.2 L295.5,645.2 L293.7,645.3 L292,645.3 L290.2,645.4 L288.5,645.5 L286.8,645.6 L285,645.6 L283.3,645.7 L281.5,645.7 L279.8,645.8 L278,645.8 L276.3,645.9 L274.5,645.9 L272.8,645.9 L271.1,645.9 L269.3,645.9 L267.6,646 L265.8,646 L264.1,646 L262.3,646 L260.6,646 L258.8,646 L257.1,646 L255.4,646 L253.6,646 L251.9,646 L250.1,645.9 L248.4,645.9 L246.6,645.8 L244.9,645.8 L243.1,645.7 L241.4,645.6Z" fill="#f2cf8d" stroke="#c99a3c" stroke-width="0.75" stroke-linejoin="round"/>
<line x1="241.4" y1="644.8" x2="250.9" y2="644.8" stroke="#3a2a22" stroke-width="0.7"/>
<line x1="284.9" y1="644.8" x2="321.5" y2="644.8" stroke="#3a2a22" stroke-width="0.7"/>
<circle cx="241.4" cy="646.8" r="0.8" fill="#e0a93e" fill-opacity="0.9"/>
<circle cx="250.9" cy="646.4" r="0.8" fill="#e0a93e" fill-opacity="0.9"/>
<circle cx="268.7" cy="648.6" r="0.8" fill="#e0a93e" fill-opacity="0.9"/>
<circle cx="284.9" cy="645.3" r="0.8" fill="#e0a93e" fill-opacity="0.9"/>
<circle cx="379.2" cy="642.5" r="0.8" fill="#e0a93e" fill-opacity="0.9"/>
<circle cx="250.5" cy="642.9" r="0.8" fill="#e0a93e" fill-opacity="0.9"/>
<circle cx="247.1" cy="646.4" r="0.8" fill="#e0a93e" fill-opacity="0.9"/>
<circle cx="244.1" cy="646.4" r="0.8" fill="#e0a93e" fill-opacity="0.9"/>
<circle cx="249.7" cy="647.5" r="0.8" fill="#e0a93e" fill-opacity="0.9"/>
<circle cx="245.9" cy="648.6" r="0.8" fill="#e0a93e" fill-opacity="0.9"/>
<circle cx="248.3" cy="641.9" r="0.8" fill="#e0a93e" fill-opacity="0.9"/>
<circle cx="243.1" cy="648.4" r="0.8" fill="#e0a93e" fill-opacity="0.9"/>
<circle cx="247.3" cy="643.4" r="0.8" fill="#e0a93e" fill-opacity="0.9"/>
<circle cx="268.6" cy="642.1" r="0.8" fill="#e0a93e" fill-opacity="0.9"/>
<circle cx="255.2" cy="644.5" r="0.8" fill="#e0a93e" fill-opacity="0.9"/>
<circle cx="252.8" cy="643.4" r="0.8" fill="#e0a93e" fill-opacity="0.9"/>
<circle cx="257.1" cy="643.1" r="0.8" fill="#e0a93e" fill-opacity="0.9"/>
<circle cx="264.8" cy="645.9" r="0.8" fill="#e0a93e" fill-opacity="0.9"/>
<circle cx="260.5" cy="648" r="0.8" fill="#e0a93e" fill-opacity="0.9"/>
<circle cx="267.4" cy="646.3" r="0.8" fill="#e0a93e" fill-opacity="0.9"/>
<circle cx="268.6" cy="644.5" r="0.8" fill="#e0a93e" fill-opacity="0.9"/>
<circle cx="283.6" cy="646" r="0.8" fill="#e0a93e" fill-opacity="0.9"/>
<circle cx="271.3" cy="643.8" r="0.8" fill="#e0a93e" fill-opacity="0.9"/>
<circle cx="278.3" cy="642.8" r="0.8" fill="#e0a93e" fill-opacity="0.9"/>
<circle cx="280.5" cy="645.5" r="0.8" fill="#e0a93e" fill-opacity="0.9"/>
<circle cx="283.6" cy="646.1" r="0.8" fill="#e0a93e" fill-opacity="0.9"/>
<circle cx="271.1" cy="646.7" r="0.8" fill="#e0a93e" fill-opacity="0.9"/>
<circle cx="278.6" cy="641.4" r="0.8" fill="#e0a93e" fill-opacity="0.9"/>
<circle cx="269.6" cy="644.1" r="0.8" fill="#e0a93e" fill-opacity="0.9"/>
<circle cx="341.8" cy="648.2" r="0.8" fill="#e0a93e" fill-opacity="0.9"/>
<circle cx="321.5" cy="643" r="0.8" fill="#e0a93e" fill-opacity="0.9"/>
<circle cx="287.7" cy="641.3" r="0.8" fill="#e0a93e" fill-opacity="0.9"/>
<circle cx="287.2" cy="647.8" r="0.8" fill="#e0a93e" fill-opacity="0.9"/>
<circle cx="316.4" cy="646.3" r="0.8" fill="#e0a93e" fill-opacity="0.9"/>
<circle cx="313.3" cy="646" r="0.8" fill="#e0a93e" fill-opacity="0.9"/>
<circle cx="317.8" cy="646.1" r="0.8" fill="#e0a93e" fill-opacity="0.9"/>
<rect x="250.9" y="643.3" width="34" height="3.1" fill="#e8d8b5" stroke="#2a2a2a" stroke-width="0.7"/>
<line x1="268.7" y1="643.3" x2="268.7" y2="646.4" stroke="#1a1a1a" stroke-width="0.9"/>
<line x1="232" y1="644.8" x2="234.7" y2="644.8" stroke="#262626" stroke-width="0.9"/>
<text x="230.3" y="647.8" font-size="8.1" fill="#4d4d4d" text-anchor="end">Zinc finger C2H2−type PF00096</text>
<text x="391.4" y="647.2" font-size="7.2" fill="#000">n=36</text>
<path d="M243.9,654.3 L245.3,654.2 L246.7,654.2 L248.1,654.2 L249.6,654.2 L251,654.2 L252.4,654.1 L253.8,654.1 L255.2,654.1 L256.6,654.1 L258,654 L259.5,653.9 L260.9,653.7 L262.3,653.5 L263.7,653.4 L265.1,653.2 L266.5,653 L267.9,652.8 L269.4,652.7 L270.8,652.6 L272.2,652.6 L273.6,652.5 L275,652.5 L276.4,652.5 L277.8,652.5 L279.2,652.6 L280.7,652.6 L282.1,652.7 L283.5,652.8 L284.9,652.9 L286.3,653.1 L287.7,653.2 L289.1,653.4 L290.6,653.5 L292,653.7 L293.4,653.9 L294.8,654 L296.2,654.1 L297.6,654.2 L299,654.2 L300.5,654.3 L301.9,654.3 L303.3,654.3 L304.7,654.3 L306.1,654.3 L307.5,654.3 L308.9,654.3 L310.4,654.3 L311.8,654.3 L313.2,654.3 L314.6,654.3 L316,654.3 L317.4,654.3 L318.8,654.3 L320.3,654.3 L321.7,654.3 L323.1,654.3 L324.5,654.3 L325.9,654.3 L327.3,654.3 L328.7,654.3 L330.1,654.3 L331.6,654.3 L333,654.3 L334.4,654.3 L335.8,654.3 L337.2,654.3 L338.6,654.3 L340,654.3 L341.5,654.3 L342.9,654.3 L344.3,654.3 L345.7,654.3 L347.1,654.3 L348.5,654.3 L349.9,654.3 L351.4,654.3 L352.8,654.3 L354.2,654.3 L355.6,654.3 L355.6,655 L354.2,655 L352.8,655 L351.4,655 L349.9,655 L348.5,655 L347.1,655 L345.7,655 L344.3,655 L342.9,655 L341.5,655 L340,655 L338.6,655 L337.2,655 L335.8,655 L334.4,655 L333,655 L331.6,655 L330.1,655 L328.7,655 L327.3,655 L325.9,655 L324.5,655 L323.1,655 L321.7,655 L320.3,655 L318.8,655 L317.4,655 L316,655 L314.6,655 L313.2,655 L311.8,655 L310.4,655 L308.9,655 L307.5,655 L306.1,655 L304.7,655 L303.3,655 L301.9,655 L300.5,655 L299,655 L297.6,655.1 L296.2,655.1 L294.8,655.2 L293.4,655.4 L292,655.5 L290.6,655.7 L289.1,655.8 L287.7,656 L286.3,656.2 L284.9,656.3 L283.5,656.4 L282.1,656.5 L280.7,656.6 L279.2,656.7 L277.8,656.7 L276.4,656.7 L275,656.7 L273.6,656.7 L272.2,656.7 L270.8,656.6 L269.4,656.5 L267.9,656.4 L266.5,656.2 L265.1,656 L263.7,655.9 L262.3,655.7 L260.9,655.5 L259.5,655.4 L258,655.2 L256.6,655.2 L255.2,655.1 L253.8,655.1 L252.4,655.1 L251,655.1 L249.6,655.1 L248.1,655 L246.7,655 L245.3,655 L243.9,655Z" fill="#ee7880" stroke="#bf1f2b" stroke-width="0.75" stroke-linejoin="round"/>
<line x1="243.9" y1="654.6" x2="267.5" y2="654.6" stroke="#3a2a22" stroke-width="0.7"/>
<line x1="285.4" y1="654.6" x2="300.6" y2="654.6" stroke="#3a2a22" stroke-width="0.7"/>
<circle cx="243.9" cy="652.4" r="0.8" fill="#d9262f" fill-opacity="0.9"/>
<circle cx="267.5" cy="654" r="0.8" fill="#d9262f" fill-opacity="0.9"/>
<circle cx="276.7" cy="656.9" r="0.8" fill="#d9262f" fill-opacity="0.9"/>
<circle cx="285.4" cy="652.9" r="0.8" fill="#d9262f" fill-opacity="0.9"/>
<circle cx="355.6" cy="657" r="0.8" fill="#d9262f" fill-opacity="0.9"/>
<circle cx="264.2" cy="651.6" r="0.8" fill="#d9262f" fill-opacity="0.9"/>
<circle cx="265.6" cy="654.1" r="0.8" fill="#d9262f" fill-opacity="0.9"/>
<circle cx="266.2" cy="657.2" r="0.8" fill="#d9262f" fill-opacity="0.9"/>
<circle cx="249.2" cy="652.3" r="0.8" fill="#d9262f" fill-opacity="0.9"/>
<circle cx="249.3" cy="653.1" r="0.8" fill="#d9262f" fill-opacity="0.9"/>
<circle cx="267" cy="653.4" r="0.8" fill="#d9262f" fill-opacity="0.9"/>
<circle cx="264.6" cy="652.4" r="0.8" fill="#d9262f" fill-opacity="0.9"/>
<circle cx="255.8" cy="657.8" r="0.8" fill="#d9262f" fill-opacity="0.9"/>
<circle cx="274" cy="655" r="0.8" fill="#d9262f" fill-opacity="0.9"/>
<circle cx="271.5" cy="657.2" r="0.8" fill="#d9262f" fill-opacity="0.9"/>
<circle cx="271.9" cy="654.9" r="0.8" fill="#d9262f" fill-opacity="0.9"/>
<circle cx="274.3" cy="652.7" r="0.8" fill="#d9262f" fill-opacity="0.9"/>
<circle cx="271.5" cy="652.8" r="0.8" fill="#d9262f" fill-opacity="0.9"/>
<circle cx="276.3" cy="658" r="0.8" fill="#d9262f" fill-opacity="0.9"/>
<circle cx="270.3" cy="652.4" r="0.8" fill="#d9262f" fill-opacity="0.9"/>
<circle cx="268.5" cy="650.9" r="0.8" fill="#d9262f" fill-opacity="0.9"/>
<circle cx="278.9" cy="655.6" r="0.8" fill="#d9262f" fill-opacity="0.9"/>
<circle cx="277.2" cy="653.4" r="0.8" fill="#d9262f" fill-opacity="0.9"/>
<circle cx="284.7" cy="654.3" r="0.8" fill="#d9262f" fill-opacity="0.9"/>
<circle cx="282.3" cy="651.8" r="0.8" fill="#d9262f" fill-opacity="0.9"/>
<circle cx="278.4" cy="654.5" r="0.8" fill="#d9262f" fill-opacity="0.9"/>
<circle cx="277" cy="652" r="0.8" fill="#d9262f" fill-opacity="0.9"/>
<circle cx="284.1" cy="655.6" r="0.8" fill="#d9262f" fill-opacity="0.9"/>
<circle cx="279.9" cy="650.9" r="0.8" fill="#d9262f" fill-opacity="0.9"/>
<circle cx="290.3" cy="655.3" r="0.8" fill="#d9262f" fill-opacity="0.9"/>
<circle cx="300.6" cy="655.2" r="0.8" fill="#d9262f" fill-opacity="0.9"/>
<circle cx="288.6" cy="655.3" r="0.8" fill="#d9262f" fill-opacity="0.9"/>
<circle cx="286.2" cy="656" r="0.8" fill="#d9262f" fill-opacity="0.9"/>
<circle cx="285.5" cy="653.6" r="0.8" fill="#d9262f" fill-opacity="0.9"/>
<circle cx="285.4" cy="656.2" r="0.8" fill="#d9262f" fill-opacity="0.9"/>
<circle cx="316.4" cy="656.9" r="0.8" fill="#d9262f" fill-opacity="0.9"/>
<circle cx="296.1" cy="657.6" r="0.8" fill="#d9262f" fill-opacity="0.9"/>
<rect x="267.5" y="653.1" width="17.9" height="3.1" fill="#e3c6bf" stroke="#2a2a2a" stroke-width="0.7"/>
<line x1="276.7" y1="653.1" x2="276.7" y2="656.2" stroke="#1a1a1a" stroke-width="0.9"/>
<line x1="232" y1="654.6" x2="234.7" y2="654.6" stroke="#262626" stroke-width="0.9"/>
<text x="230.3" y="657.6" font-size="8.1" fill="#4d4d4d" text-anchor="end">Homeobox domain PF00046</text>
<text x="362.3" y="657" font-size="7.2" fill="#000">n=37</text>
<path d="M253.4,663.5 L254.2,663.5 L255,663.4 L255.7,663.4 L256.5,663.4 L257.3,663.3 L258.1,663.3 L258.8,663.3 L259.6,663.2 L260.4,663.2 L261.2,663.2 L261.9,663.2 L262.7,663.2 L263.5,663.2 L264.3,663.2 L265,663.1 L265.8,663.1 L266.6,663.1 L267.4,663.1 L268.1,663.1 L268.9,663.1 L269.7,663.1 L270.5,663.1 L271.2,663.1 L272,663.1 L272.8,663.1 L273.6,663 L274.4,663 L275.1,663 L275.9,663 L276.7,663 L277.5,663 L278.2,663 L279,663 L279.8,663 L280.6,663 L281.3,663 L282.1,663 L282.9,663 L283.7,663 L284.4,663 L285.2,663 L286,663 L286.8,663 L287.5,663.1 L288.3,663.1 L289.1,663.1 L289.9,663.2 L290.6,663.2 L291.4,663.3 L292.2,663.3 L293,663.4 L293.7,663.4 L294.5,663.4 L295.3,663.5 L296.1,663.5 L296.9,663.6 L297.6,663.6 L298.4,663.7 L299.2,663.7 L300,663.8 L300.7,663.8 L301.5,663.8 L302.3,663.9 L303.1,663.9 L303.8,663.9 L304.6,663.9 L305.4,664 L306.2,664 L306.9,664 L307.7,664 L308.5,664 L309.3,664 L310,664 L310.8,664 L311.6,664 L312.4,664 L313.1,664 L313.9,664 L314.7,664 L314.7,664.7 L313.9,664.7 L313.1,664.7 L312.4,664.7 L311.6,664.7 L310.8,664.7 L310,664.7 L309.3,664.7 L308.5,664.8 L307.7,664.8 L306.9,664.8 L306.2,664.8 L305.4,664.8 L304.6,664.8 L303.8,664.8 L303.1,664.9 L302.3,664.9 L301.5,664.9 L300.7,665 L300,665 L299.2,665 L298.4,665.1 L297.6,665.1 L296.9,665.2 L296.1,665.2 L295.3,665.3 L294.5,665.3 L293.7,665.4 L293,665.4 L292.2,665.5 L291.4,665.5 L290.6,665.5 L289.9,665.6 L289.1,665.6 L288.3,665.7 L287.5,665.7 L286.8,665.7 L286,665.7 L285.2,665.8 L284.4,665.8 L283.7,665.8 L282.9,665.8 L282.1,665.8 L281.3,665.8 L280.6,665.8 L279.8,665.8 L279,665.8 L278.2,665.8 L277.5,665.8 L276.7,665.8 L275.9,665.8 L275.1,665.7 L274.4,665.7 L273.6,665.7 L272.8,665.7 L272,665.7 L271.2,665.7 L270.5,665.7 L269.7,665.7 L268.9,665.7 L268.1,665.6 L267.4,665.6 L266.6,665.6 L265.8,665.6 L265,665.6 L264.3,665.6 L263.5,665.6 L262.7,665.6 L261.9,665.6 L261.2,665.6 L260.4,665.5 L259.6,665.5 L258.8,665.5 L258.1,665.5 L257.3,665.4 L256.5,665.4 L255.7,665.4 L255,665.3 L254.2,665.3 L253.4,665.3Z" fill="#f2cf8d" stroke="#c99a3c" stroke-width="0.75" stroke-linejoin="round"/>
<line x1="253.4" y1="664.4" x2="270.7" y2="664.4" stroke="#3a2a22" stroke-width="0.7"/>
<line x1="287.4" y1="664.4" x2="292.6" y2="664.4" stroke="#3a2a22" stroke-width="0.7"/>
<circle cx="253.4" cy="664.9" r="0.8" fill="#e0a93e" fill-opacity="0.9"/>
<circle cx="270.7" cy="667.4" r="0.8" fill="#e0a93e" fill-opacity="0.9"/>
<circle cx="283.6" cy="663.5" r="0.8" fill="#e0a93e" fill-opacity="0.9"/>
<circle cx="287.4" cy="665.3" r="0.8" fill="#e0a93e" fill-opacity="0.9"/>
<circle cx="314.7" cy="662.2" r="0.8" fill="#e0a93e" fill-opacity="0.9"/>
<circle cx="257.9" cy="666.6" r="0.8" fill="#e0a93e" fill-opacity="0.9"/>
<circle cx="261.4" cy="661.8" r="0.8" fill="#e0a93e" fill-opacity="0.9"/>
<circle cx="273.5" cy="660.6" r="0.8" fill="#e0a93e" fill-opacity="0.9"/>
<circle cx="284.1" cy="663.2" r="0.8" fill="#e0a93e" fill-opacity="0.9"/>
<circle cx="292.6" cy="660.9" r="0.8" fill="#e0a93e" fill-opacity="0.9"/>
<rect x="270.7" y="662.8" width="16.7" height="3.1" fill="#e8d8b5" stroke="#2a2a2a" stroke-width="0.7"/>
<line x1="283.6" y1="662.8" x2="283.6" y2="665.9" stroke="#1a1a1a" stroke-width="0.9"/>
<line x1="232" y1="664.4" x2="234.7" y2="664.4" stroke="#262626" stroke-width="0.9"/>
<text x="230.3" y="667.4" font-size="8.1" fill="#4d4d4d" text-anchor="end">Zinc finger, RanBP2−type PF00641</text>
<text x="323.4" y="666.8" font-size="7.2" fill="#000">n=10</text>
<path d="M275,672.3 L275.5,672.2 L276.1,672.1 L276.6,672 L277.2,671.9 L277.7,671.8 L278.3,671.7 L278.8,671.6 L279.4,671.5 L279.9,671.5 L280.5,671.4 L281,671.4 L281.6,671.4 L282.1,671.3 L282.7,671.3 L283.2,671.3 L283.8,671.4 L284.3,671.4 L284.9,671.4 L285.4,671.5 L286,671.5 L286.5,671.6 L287.1,671.7 L287.6,671.8 L288.2,671.9 L288.7,672 L289.3,672.1 L289.8,672.2 L290.4,672.2 L290.9,672.3 L291.5,672.4 L292,672.5 L292.6,672.6 L293.1,672.7 L293.7,672.7 L294.2,672.8 L294.8,672.9 L295.3,672.9 L295.9,673 L296.4,673 L297,673.1 L297.5,673.1 L298.1,673.1 L298.6,673.2 L299.2,673.2 L299.7,673.3 L300.3,673.3 L300.8,673.3 L301.4,673.4 L301.9,673.4 L302.5,673.4 L303,673.5 L303.6,673.5 L304.1,673.6 L304.7,673.6 L305.2,673.6 L305.8,673.7 L306.3,673.7 L306.9,673.7 L307.4,673.8 L308,673.8 L308.5,673.8 L309.1,673.8 L309.6,673.8 L310.2,673.8 L310.7,673.8 L311.3,673.8 L311.8,673.8 L312.4,673.8 L312.9,673.7 L313.5,673.7 L314,673.7 L314.6,673.7 L315.1,673.6 L315.7,673.6 L316.2,673.6 L316.8,673.6 L317.3,673.6 L317.9,673.6 L318.4,673.6 L318.4,674.7 L317.9,674.7 L317.3,674.7 L316.8,674.7 L316.2,674.7 L315.7,674.7 L315.1,674.7 L314.6,674.6 L314,674.6 L313.5,674.6 L312.9,674.6 L312.4,674.5 L311.8,674.5 L311.3,674.5 L310.7,674.5 L310.2,674.5 L309.6,674.5 L309.1,674.5 L308.5,674.5 L308,674.5 L307.4,674.5 L306.9,674.6 L306.3,674.6 L305.8,674.6 L305.2,674.7 L304.7,674.7 L304.1,674.7 L303.6,674.8 L303,674.8 L302.5,674.9 L301.9,674.9 L301.4,674.9 L300.8,675 L300.3,675 L299.7,675 L299.2,675.1 L298.6,675.1 L298.1,675.2 L297.5,675.2 L297,675.2 L296.4,675.3 L295.9,675.3 L295.3,675.4 L294.8,675.4 L294.2,675.5 L293.7,675.6 L293.1,675.6 L292.6,675.7 L292,675.8 L291.5,675.9 L290.9,676 L290.4,676.1 L289.8,676.1 L289.3,676.2 L288.7,676.3 L288.2,676.4 L287.6,676.5 L287.1,676.6 L286.5,676.7 L286,676.8 L285.4,676.8 L284.9,676.9 L284.3,676.9 L283.8,676.9 L283.2,677 L282.7,677 L282.1,677 L281.6,676.9 L281,676.9 L280.5,676.9 L279.9,676.8 L279.4,676.8 L278.8,676.7 L278.3,676.6 L277.7,676.5 L277.2,676.4 L276.6,676.3 L276.1,676.2 L275.5,676.1 L275,676Z" fill="#c7d0ef" stroke="#93a5da" stroke-width="0.75" stroke-linejoin="round"/>
<line x1="275" y1="674.1" x2="279.9" y2="674.1" stroke="#3a2a22" stroke-width="0.7"/>
<line x1="292.8" y1="674.1" x2="300.9" y2="674.1" stroke="#3a2a22" stroke-width="0.7"/>
<circle cx="275" cy="675.8" r="0.8" fill="#9aabe0" fill-opacity="0.9"/>
<circle cx="279.9" cy="675.6" r="0.8" fill="#9aabe0" fill-opacity="0.9"/>
<circle cx="284.9" cy="673.7" r="0.8" fill="#9aabe0" fill-opacity="0.9"/>
<circle cx="292.8" cy="674.5" r="0.8" fill="#9aabe0" fill-opacity="0.9"/>
<circle cx="318.4" cy="670.9" r="0.8" fill="#9aabe0" fill-opacity="0.9"/>
<circle cx="277.6" cy="675" r="0.8" fill="#9aabe0" fill-opacity="0.9"/>
<circle cx="284.9" cy="677.4" r="0.8" fill="#9aabe0" fill-opacity="0.9"/>
<circle cx="285.7" cy="674.3" r="0.8" fill="#9aabe0" fill-opacity="0.9"/>
<circle cx="300.9" cy="671.1" r="0.8" fill="#9aabe0" fill-opacity="0.9"/>
<rect x="279.9" y="672.6" width="12.9" height="3.1" fill="#d0d6ee" stroke="#2a2a2a" stroke-width="0.7"/>
<line x1="284.9" y1="672.6" x2="284.9" y2="675.7" stroke="#1a1a1a" stroke-width="0.9"/>
<line x1="232" y1="674.1" x2="234.7" y2="674.1" stroke="#262626" stroke-width="0.9"/>
<text x="230.3" y="677.1" font-size="8.1" fill="#4d4d4d" text-anchor="end">K Homology domain, type 1 PF00013</text>
<text x="323.8" y="676.5" font-size="7.2" fill="#000">n=9</text>
<path d="M261.3,682.8 L262,682.8 L262.7,682.7 L263.5,682.7 L264.2,682.7 L264.9,682.6 L265.6,682.6 L266.4,682.6 L267.1,682.5 L267.8,682.5 L268.5,682.5 L269.3,682.5 L270,682.5 L270.7,682.4 L271.4,682.4 L272.1,682.4 L272.9,682.4 L273.6,682.4 L274.3,682.4 L275,682.4 L275.8,682.5 L276.5,682.5 L277.2,682.5 L277.9,682.5 L278.6,682.5 L279.4,682.5 L280.1,682.5 L280.8,682.5 L281.5,682.5 L282.3,682.5 L283,682.5 L283.7,682.5 L284.4,682.6 L285.2,682.6 L285.9,682.6 L286.6,682.6 L287.3,682.6 L288,682.6 L288.8,682.6 L289.5,682.6 L290.2,682.6 L290.9,682.6 L291.7,682.7 L292.4,682.7 L293.1,682.7 L293.8,682.7 L294.5,682.7 L295.3,682.8 L296,682.8 L296.7,682.8 L297.4,682.9 L298.2,682.9 L298.9,682.9 L299.6,683 L300.3,683 L301.1,683.1 L301.8,683.1 L302.5,683.1 L303.2,683.2 L303.9,683.2 L304.7,683.3 L305.4,683.3 L306.1,683.3 L306.8,683.4 L307.6,683.4 L308.3,683.4 L309,683.4 L309.7,683.5 L310.4,683.5 L311.2,683.5 L311.9,683.5 L312.6,683.5 L313.3,683.5 L314.1,683.6 L314.8,683.6 L315.5,683.6 L316.2,683.6 L317,683.6 L317.7,683.6 L318.4,683.6 L318.4,684.3 L317.7,684.3 L317,684.3 L316.2,684.3 L315.5,684.3 L314.8,684.3 L314.1,684.3 L313.3,684.3 L312.6,684.3 L311.9,684.3 L311.2,684.3 L310.4,684.4 L309.7,684.4 L309,684.4 L308.3,684.4 L307.6,684.4 L306.8,684.5 L306.1,684.5 L305.4,684.5 L304.7,684.6 L303.9,684.6 L303.2,684.7 L302.5,684.7 L301.8,684.7 L301.1,684.8 L300.3,684.8 L299.6,684.9 L298.9,684.9 L298.2,684.9 L297.4,685 L296.7,685 L296,685 L295.3,685.1 L294.5,685.1 L293.8,685.1 L293.1,685.1 L292.4,685.2 L291.7,685.2 L290.9,685.2 L290.2,685.2 L289.5,685.2 L288.8,685.2 L288,685.2 L287.3,685.3 L286.6,685.3 L285.9,685.3 L285.2,685.3 L284.4,685.3 L283.7,685.3 L283,685.3 L282.3,685.3 L281.5,685.3 L280.8,685.3 L280.1,685.3 L279.4,685.3 L278.6,685.4 L277.9,685.4 L277.2,685.4 L276.5,685.4 L275.8,685.4 L275,685.4 L274.3,685.4 L273.6,685.4 L272.9,685.4 L272.1,685.4 L271.4,685.4 L270.7,685.4 L270,685.4 L269.3,685.4 L268.5,685.4 L267.8,685.3 L267.1,685.3 L266.4,685.3 L265.6,685.2 L264.9,685.2 L264.2,685.2 L263.5,685.1 L262.7,685.1 L262,685 L261.3,685Z" fill="#ee7880" stroke="#bf1f2b" stroke-width="0.75" stroke-linejoin="round"/>
<line x1="261.3" y1="683.9" x2="270" y2="683.9" stroke="#3a2a22" stroke-width="0.7"/>
<line x1="294.8" y1="683.9" x2="318.4" y2="683.9" stroke="#3a2a22" stroke-width="0.7"/>
<circle cx="261.3" cy="680.6" r="0.8" fill="#d9262f" fill-opacity="0.9"/>
<circle cx="270" cy="682.4" r="0.8" fill="#d9262f" fill-opacity="0.9"/>
<circle cx="284.9" cy="681.3" r="0.8" fill="#d9262f" fill-opacity="0.9"/>
<circle cx="294.8" cy="686.7" r="0.8" fill="#d9262f" fill-opacity="0.9"/>
<circle cx="318.4" cy="687.5" r="0.8" fill="#d9262f" fill-opacity="0.9"/>
<circle cx="261.6" cy="686.6" r="0.8" fill="#d9262f" fill-opacity="0.9"/>
<circle cx="270" cy="687.6" r="0.8" fill="#d9262f" fill-opacity="0.9"/>
<circle cx="271.8" cy="680.3" r="0.8" fill="#d9262f" fill-opacity="0.9"/>
<circle cx="276.9" cy="680.2" r="0.8" fill="#d9262f" fill-opacity="0.9"/>
<circle cx="294.4" cy="684.4" r="0.8" fill="#d9262f" fill-opacity="0.9"/>
<circle cx="286.3" cy="681.9" r="0.8" fill="#d9262f" fill-opacity="0.9"/>
<circle cx="298.3" cy="687.3" r="0.8" fill="#d9262f" fill-opacity="0.9"/>
<rect x="270" y="682.4" width="24.8" height="3.1" fill="#e3c6bf" stroke="#2a2a2a" stroke-width="0.7"/>
<line x1="284.9" y1="682.4" x2="284.9" y2="685.5" stroke="#1a1a1a" stroke-width="0.9"/>
<line x1="232" y1="683.9" x2="234.7" y2="683.9" stroke="#262626" stroke-width="0.9"/>
<text x="230.3" y="686.9" font-size="8.1" fill="#4d4d4d" text-anchor="end">FF domain PF01846</text>
<text x="324.6" y="686.3" font-size="7.2" fill="#000">n=12</text>
<path d="M267.5,692.3 L268,692.3 L268.5,692.2 L269,692.1 L269.5,692.1 L270,692 L270.5,692 L271,692 L271.5,691.9 L272,691.9 L272.5,691.9 L273,691.9 L273.5,691.8 L274,691.8 L274.5,691.8 L275,691.8 L275.5,691.8 L276,691.8 L276.5,691.8 L277,691.7 L277.6,691.7 L278.1,691.7 L278.6,691.7 L279.1,691.6 L279.6,691.6 L280.1,691.6 L280.6,691.5 L281.1,691.5 L281.6,691.4 L282.1,691.4 L282.6,691.3 L283.1,691.3 L283.6,691.3 L284.1,691.2 L284.6,691.2 L285.1,691.2 L285.6,691.2 L286.1,691.2 L286.6,691.2 L287.1,691.2 L287.6,691.2 L288.1,691.3 L288.6,691.3 L289.1,691.4 L289.6,691.5 L290.1,691.5 L290.6,691.6 L291.1,691.7 L291.6,691.8 L292.1,691.9 L292.6,692 L293.1,692.1 L293.6,692.2 L294.1,692.3 L294.6,692.4 L295.1,692.5 L295.6,692.6 L296.1,692.7 L296.6,692.7 L297.1,692.8 L297.7,692.9 L298.2,692.9 L298.7,693 L299.2,693 L299.7,693.1 L300.2,693.1 L300.7,693.1 L301.2,693.2 L301.7,693.2 L302.2,693.2 L302.7,693.2 L303.2,693.2 L303.7,693.2 L304.2,693.2 L304.7,693.2 L305.2,693.2 L305.7,693.2 L306.2,693.2 L306.7,693.2 L307.2,693.3 L307.2,694.1 L306.7,694.1 L306.2,694.1 L305.7,694.1 L305.2,694.1 L304.7,694.1 L304.2,694.1 L303.7,694.2 L303.2,694.2 L302.7,694.2 L302.2,694.2 L301.7,694.2 L301.2,694.2 L300.7,694.2 L300.2,694.3 L299.7,694.3 L299.2,694.3 L298.7,694.4 L298.2,694.4 L297.7,694.5 L297.1,694.6 L296.6,694.6 L296.1,694.7 L295.6,694.8 L295.1,694.9 L294.6,695 L294.1,695.1 L293.6,695.2 L293.1,695.3 L292.6,695.4 L292.1,695.5 L291.6,695.6 L291.1,695.7 L290.6,695.8 L290.1,695.8 L289.6,695.9 L289.1,696 L288.6,696 L288.1,696.1 L287.6,696.1 L287.1,696.2 L286.6,696.2 L286.1,696.2 L285.6,696.2 L285.1,696.2 L284.6,696.2 L284.1,696.1 L283.6,696.1 L283.1,696.1 L282.6,696 L282.1,696 L281.6,695.9 L281.1,695.9 L280.6,695.9 L280.1,695.8 L279.6,695.8 L279.1,695.7 L278.6,695.7 L278.1,695.7 L277.6,695.7 L277,695.6 L276.5,695.6 L276,695.6 L275.5,695.6 L275,695.6 L274.5,695.6 L274,695.6 L273.5,695.5 L273,695.5 L272.5,695.5 L272,695.5 L271.5,695.5 L271,695.4 L270.5,695.4 L270,695.3 L269.5,695.3 L269,695.2 L268.5,695.2 L268,695.1 L267.5,695.1Z" fill="#ee7880" stroke="#bf1f2b" stroke-width="0.75" stroke-linejoin="round"/>
<line x1="267.5" y1="693.7" x2="273.7" y2="693.7" stroke="#3a2a22" stroke-width="0.7"/>
<line x1="288.6" y1="693.7" x2="307.2" y2="693.7" stroke="#3a2a22" stroke-width="0.7"/>
<circle cx="267.5" cy="694.7" r="0.8" fill="#d9262f" fill-opacity="0.9"/>
<circle cx="273.7" cy="695" r="0.8" fill="#d9262f" fill-opacity="0.9"/>
<circle cx="286.6" cy="694.9" r="0.8" fill="#d9262f" fill-opacity="0.9"/>
<circle cx="288.6" cy="696.8" r="0.8" fill="#d9262f" fill-opacity="0.9"/>
<circle cx="307.2" cy="691.7" r="0.8" fill="#d9262f" fill-opacity="0.9"/>
<circle cx="270.7" cy="690.8" r="0.8" fill="#d9262f" fill-opacity="0.9"/>
<circle cx="271.9" cy="694.4" r="0.8" fill="#d9262f" fill-opacity="0.9"/>
<circle cx="280.2" cy="696.2" r="0.8" fill="#d9262f" fill-opacity="0.9"/>
<circle cx="283.2" cy="691.8" r="0.8" fill="#d9262f" fill-opacity="0.9"/>
<circle cx="287.6" cy="690.1" r="0.8" fill="#d9262f" fill-opacity="0.9"/>
<circle cx="286.8" cy="694.4" r="0.8" fill="#d9262f" fill-opacity="0.9"/>
<circle cx="292.8" cy="696.8" r="0.8" fill="#d9262f" fill-opacity="0.9"/>
<rect x="273.7" y="692.1" width="14.9" height="3.1" fill="#e3c6bf" stroke="#2a2a2a" stroke-width="0.7"/>
<line x1="286.6" y1="692.1" x2="286.6" y2="695.2" stroke="#1a1a1a" stroke-width="0.9"/>
<line x1="232" y1="693.7" x2="234.7" y2="693.7" stroke="#262626" stroke-width="0.9"/>
<text x="230.3" y="696.7" font-size="8.1" fill="#4d4d4d" text-anchor="end">POU−specific domain PF00157</text>
<text x="313.9" y="696.1" font-size="7.2" fill="#000">n=12</text>
<path d="M251.9,702.9 L252.8,702.9 L253.6,702.9 L254.5,702.8 L255.3,702.8 L256.2,702.8 L257,702.8 L257.9,702.8 L258.8,702.8 L259.6,702.7 L260.5,702.7 L261.3,702.7 L262.2,702.7 L263,702.7 L263.9,702.7 L264.8,702.7 L265.6,702.7 L266.5,702.6 L267.3,702.6 L268.2,702.6 L269,702.6 L269.9,702.6 L270.8,702.5 L271.6,702.5 L272.5,702.5 L273.3,702.4 L274.2,702.4 L275,702.4 L275.9,702.4 L276.8,702.3 L277.6,702.3 L278.5,702.3 L279.3,702.2 L280.2,702.2 L281,702.2 L281.9,702.2 L282.8,702.2 L283.6,702.2 L284.5,702.2 L285.3,702.2 L286.2,702.2 L287,702.2 L287.9,702.2 L288.7,702.2 L289.6,702.3 L290.5,702.3 L291.3,702.3 L292.2,702.3 L293,702.4 L293.9,702.4 L294.7,702.5 L295.6,702.5 L296.5,702.5 L297.3,702.6 L298.2,702.6 L299,702.6 L299.9,702.7 L300.7,702.7 L301.6,702.7 L302.5,702.7 L303.3,702.8 L304.2,702.8 L305,702.8 L305.9,702.8 L306.7,702.8 L307.6,702.8 L308.5,702.8 L309.3,702.7 L310.2,702.7 L311,702.7 L311.9,702.7 L312.7,702.7 L313.6,702.7 L314.5,702.7 L315.3,702.7 L316.2,702.7 L317,702.7 L317.9,702.7 L318.7,702.7 L319.6,702.8 L319.6,704.2 L318.7,704.2 L317.9,704.2 L317,704.2 L316.2,704.2 L315.3,704.2 L314.5,704.2 L313.6,704.2 L312.7,704.2 L311.9,704.2 L311,704.2 L310.2,704.2 L309.3,704.2 L308.5,704.2 L307.6,704.2 L306.7,704.2 L305.9,704.2 L305,704.2 L304.2,704.2 L303.3,704.2 L302.5,704.2 L301.6,704.2 L300.7,704.2 L299.9,704.2 L299,704.3 L298.2,704.3 L297.3,704.3 L296.5,704.4 L295.6,704.4 L294.7,704.5 L293.9,704.5 L293,704.5 L292.2,704.6 L291.3,704.6 L290.5,704.6 L289.6,704.7 L288.7,704.7 L287.9,704.7 L287,704.7 L286.2,704.7 L285.3,704.8 L284.5,704.8 L283.6,704.8 L282.8,704.7 L281.9,704.7 L281,704.7 L280.2,704.7 L279.3,704.7 L278.5,704.7 L277.6,704.6 L276.8,704.6 L275.9,704.6 L275,704.5 L274.2,704.5 L273.3,704.5 L272.5,704.4 L271.6,704.4 L270.8,704.4 L269.9,704.4 L269,704.3 L268.2,704.3 L267.3,704.3 L266.5,704.3 L265.6,704.3 L264.8,704.2 L263.9,704.2 L263,704.2 L262.2,704.2 L261.3,704.2 L260.5,704.2 L259.6,704.2 L258.8,704.2 L257.9,704.1 L257,704.1 L256.2,704.1 L255.3,704.1 L254.5,704.1 L253.6,704.1 L252.8,704 L251.9,704Z" fill="#f2cf8d" stroke="#c99a3c" stroke-width="0.75" stroke-linejoin="round"/>
<line x1="251.9" y1="703.5" x2="278.7" y2="703.5" stroke="#3a2a22" stroke-width="0.7"/>
<line x1="314.7" y1="703.5" x2="319.6" y2="703.5" stroke="#3a2a22" stroke-width="0.7"/>
<circle cx="251.9" cy="704.9" r="0.8" fill="#e0a93e" fill-opacity="0.9"/>
<circle cx="278.7" cy="703.8" r="0.8" fill="#e0a93e" fill-opacity="0.9"/>
<circle cx="288.6" cy="706.1" r="0.8" fill="#e0a93e" fill-opacity="0.9"/>
<circle cx="314.7" cy="703.5" r="0.8" fill="#e0a93e" fill-opacity="0.9"/>
<circle cx="319.6" cy="701.6" r="0.8" fill="#e0a93e" fill-opacity="0.9"/>
<circle cx="258.1" cy="700.2" r="0.8" fill="#e0a93e" fill-opacity="0.9"/>
<circle cx="266.4" cy="706.4" r="0.8" fill="#e0a93e" fill-opacity="0.9"/>
<circle cx="279.9" cy="705.5" r="0.8" fill="#e0a93e" fill-opacity="0.9"/>
<circle cx="282.2" cy="705.5" r="0.8" fill="#e0a93e" fill-opacity="0.9"/>
<circle cx="294.9" cy="703.1" r="0.8" fill="#e0a93e" fill-opacity="0.9"/>
<circle cx="290.6" cy="705.6" r="0.8" fill="#e0a93e" fill-opacity="0.9"/>
<circle cx="316.1" cy="702.7" r="0.8" fill="#e0a93e" fill-opacity="0.9"/>
<rect x="278.7" y="701.9" width="36" height="3.1" fill="#e8d8b5" stroke="#2a2a2a" stroke-width="0.7"/>
<line x1="288.6" y1="701.9" x2="288.6" y2="705" stroke="#1a1a1a" stroke-width="0.9"/>
<line x1="232" y1="703.5" x2="234.7" y2="703.5" stroke="#262626" stroke-width="0.9"/>
<text x="230.3" y="706.5" font-size="8.1" fill="#4d4d4d" text-anchor="end">Zinc finger, CCCH−type PF00642</text>
<text x="328.3" y="705.9" font-size="7.2" fill="#000">n=12</text>
<path d="M269.2,712.3 L269.6,712.3 L270,712.3 L270.4,712.3 L270.8,712.3 L271.2,712.3 L271.6,712.3 L272,712.3 L272.4,712.3 L272.8,712.3 L273.2,712.2 L273.6,712.2 L274,712.2 L274.4,712.2 L274.8,712.1 L275.2,712.1 L275.6,712.1 L276,712 L276.4,712 L276.8,711.9 L277.3,711.8 L277.7,711.8 L278.1,711.7 L278.5,711.6 L278.9,711.5 L279.3,711.5 L279.7,711.4 L280.1,711.3 L280.5,711.2 L280.9,711.1 L281.3,711.1 L281.7,711 L282.1,710.9 L282.5,710.8 L282.9,710.7 L283.3,710.6 L283.7,710.5 L284.1,710.4 L284.5,710.3 L284.9,710.3 L285.3,710.2 L285.7,710.1 L286.1,710 L286.5,710 L286.9,709.9 L287.3,709.9 L287.7,709.8 L288.1,709.8 L288.5,709.8 L288.9,709.8 L289.3,709.8 L289.7,709.8 L290.1,709.9 L290.5,709.9 L290.9,710 L291.3,710.1 L291.7,710.1 L292.1,710.2 L292.5,710.3 L292.9,710.5 L293.4,710.6 L293.8,710.7 L294.2,710.8 L294.6,711 L295,711.1 L295.4,711.2 L295.8,711.4 L296.2,711.5 L296.6,711.6 L297,711.7 L297.4,711.8 L297.8,711.8 L298.2,711.9 L298.6,712 L299,712 L299.4,712.1 L299.8,712.1 L300.2,712.1 L300.6,712.2 L301,712.2 L301,714.2 L300.6,714.3 L300.2,714.3 L299.8,714.4 L299.4,714.4 L299,714.4 L298.6,714.5 L298.2,714.6 L297.8,714.6 L297.4,714.7 L297,714.8 L296.6,714.9 L296.2,715 L295.8,715.1 L295.4,715.2 L295,715.4 L294.6,715.5 L294.2,715.6 L293.8,715.7 L293.4,715.9 L292.9,716 L292.5,716.1 L292.1,716.2 L291.7,716.3 L291.3,716.4 L290.9,716.5 L290.5,716.5 L290.1,716.6 L289.7,716.6 L289.3,716.6 L288.9,716.7 L288.5,716.7 L288.1,716.6 L287.7,716.6 L287.3,716.6 L286.9,716.5 L286.5,716.5 L286.1,716.4 L285.7,716.4 L285.3,716.3 L284.9,716.2 L284.5,716.1 L284.1,716 L283.7,715.9 L283.3,715.9 L282.9,715.8 L282.5,715.7 L282.1,715.6 L281.7,715.5 L281.3,715.4 L280.9,715.3 L280.5,715.2 L280.1,715.2 L279.7,715.1 L279.3,715 L278.9,714.9 L278.5,714.8 L278.1,714.8 L277.7,714.7 L277.3,714.6 L276.8,714.6 L276.4,714.5 L276,714.5 L275.6,714.4 L275.2,714.4 L274.8,714.3 L274.4,714.3 L274,714.3 L273.6,714.2 L273.2,714.2 L272.8,714.2 L272.4,714.2 L272,714.2 L271.6,714.2 L271.2,714.2 L270.8,714.2 L270.4,714.2 L270,714.2 L269.6,714.1 L269.2,714.1Z" fill="#7d8fcb" stroke="#243585" stroke-width="0.75" stroke-linejoin="round"/>
<line x1="269.2" y1="713.2" x2="282.4" y2="713.2" stroke="#3a2a22" stroke-width="0.7"/>
<line x1="291.6" y1="713.2" x2="301" y2="713.2" stroke="#3a2a22" stroke-width="0.7"/>
<circle cx="269.2" cy="711.2" r="0.8" fill="#2b3f9c" fill-opacity="0.9"/>
<circle cx="282.4" cy="709.9" r="0.8" fill="#2b3f9c" fill-opacity="0.9"/>
<circle cx="286.6" cy="716.9" r="0.8" fill="#2b3f9c" fill-opacity="0.9"/>
<circle cx="291.6" cy="714.1" r="0.8" fill="#2b3f9c" fill-opacity="0.9"/>
<circle cx="301" cy="711.3" r="0.8" fill="#2b3f9c" fill-opacity="0.9"/>
<circle cx="277.7" cy="714.2" r="0.8" fill="#2b3f9c" fill-opacity="0.9"/>
<circle cx="285.9" cy="713.4" r="0.8" fill="#2b3f9c" fill-opacity="0.9"/>
<circle cx="290.4" cy="711.7" r="0.8" fill="#2b3f9c" fill-opacity="0.9"/>
<circle cx="293" cy="717" r="0.8" fill="#2b3f9c" fill-opacity="0.9"/>
<rect x="282.4" y="711.7" width="9.2" height="3.1" fill="#c3c7de" stroke="#2a2a2a" stroke-width="0.7"/>
<line x1="286.6" y1="711.7" x2="286.6" y2="714.8" stroke="#1a1a1a" stroke-width="0.9"/>
<line x1="232" y1="713.2" x2="234.7" y2="713.2" stroke="#262626" stroke-width="0.9"/>
<text x="230.3" y="716.2" font-size="8.1" fill="#4d4d4d" text-anchor="end">Cold−shock protein, DNA−binding PF00313</text>
<text x="307.7" y="715.6" font-size="7.2" fill="#000">n=9</text>
<path d="M268.3,721.9 L268.8,721.9 L269.2,721.9 L269.7,721.9 L270.1,721.8 L270.6,721.8 L271,721.8 L271.5,721.8 L271.9,721.8 L272.4,721.8 L272.8,721.8 L273.3,721.8 L273.7,721.8 L274.2,721.8 L274.6,721.8 L275.1,721.8 L275.5,721.8 L276,721.8 L276.4,721.7 L276.9,721.7 L277.3,721.7 L277.8,721.7 L278.2,721.7 L278.7,721.7 L279.1,721.6 L279.6,721.6 L280,721.6 L280.5,721.6 L281,721.5 L281.4,721.5 L281.9,721.5 L282.3,721.5 L282.8,721.4 L283.2,721.4 L283.7,721.4 L284.1,721.3 L284.6,721.3 L285,721.3 L285.5,721.2 L285.9,721.2 L286.4,721.2 L286.8,721.1 L287.3,721.1 L287.7,721.1 L288.2,721.1 L288.6,721 L289.1,721 L289.5,721 L290,721 L290.4,721 L290.9,721 L291.3,721 L291.8,721 L292.3,721 L292.7,721 L293.2,721 L293.6,721 L294.1,721 L294.5,721 L295,721 L295.4,721 L295.9,721 L296.3,721.1 L296.8,721.1 L297.2,721.1 L297.7,721.2 L298.1,721.2 L298.6,721.2 L299,721.3 L299.5,721.3 L299.9,721.4 L300.4,721.4 L300.8,721.4 L301.3,721.5 L301.7,721.5 L302.2,721.6 L302.6,721.6 L303.1,721.7 L303.5,721.7 L304,721.8 L304,724.2 L303.5,724.3 L303.1,724.3 L302.6,724.4 L302.2,724.4 L301.7,724.5 L301.3,724.5 L300.8,724.6 L300.4,724.6 L299.9,724.6 L299.5,724.7 L299,724.7 L298.6,724.8 L298.1,724.8 L297.7,724.8 L297.2,724.9 L296.8,724.9 L296.3,724.9 L295.9,725 L295.4,725 L295,725 L294.5,725 L294.1,725 L293.6,725 L293.2,725 L292.7,725 L292.3,725 L291.8,725 L291.3,725 L290.9,725 L290.4,725 L290,725 L289.5,725 L289.1,725 L288.6,725 L288.2,724.9 L287.7,724.9 L287.3,724.9 L286.8,724.9 L286.4,724.8 L285.9,724.8 L285.5,724.8 L285,724.7 L284.6,724.7 L284.1,724.7 L283.7,724.6 L283.2,724.6 L282.8,724.6 L282.3,724.5 L281.9,724.5 L281.4,724.5 L281,724.5 L280.5,724.4 L280,724.4 L279.6,724.4 L279.1,724.4 L278.7,724.3 L278.2,724.3 L277.8,724.3 L277.3,724.3 L276.9,724.3 L276.4,724.3 L276,724.2 L275.5,724.2 L275.1,724.2 L274.6,724.2 L274.2,724.2 L273.7,724.2 L273.3,724.2 L272.8,724.2 L272.4,724.2 L271.9,724.2 L271.5,724.2 L271,724.2 L270.6,724.2 L270.1,724.2 L269.7,724.1 L269.2,724.1 L268.8,724.1 L268.3,724.1Z" fill="#ee7880" stroke="#bf1f2b" stroke-width="0.75" stroke-linejoin="round"/>
<line x1="268.3" y1="723" x2="282.4" y2="723" stroke="#3a2a22" stroke-width="0.7"/>
<line x1="297.3" y1="723" x2="304" y2="723" stroke="#3a2a22" stroke-width="0.7"/>
<circle cx="268.3" cy="723.1" r="0.8" fill="#d9262f" fill-opacity="0.9"/>
<circle cx="282.4" cy="726.5" r="0.8" fill="#d9262f" fill-opacity="0.9"/>
<circle cx="290.6" cy="724.3" r="0.8" fill="#d9262f" fill-opacity="0.9"/>
<circle cx="297.3" cy="724.4" r="0.8" fill="#d9262f" fill-opacity="0.9"/>
<circle cx="304" cy="721.1" r="0.8" fill="#d9262f" fill-opacity="0.9"/>
<circle cx="269.9" cy="721.1" r="0.8" fill="#d9262f" fill-opacity="0.9"/>
<circle cx="286.6" cy="722.5" r="0.8" fill="#d9262f" fill-opacity="0.9"/>
<circle cx="295.4" cy="724.4" r="0.8" fill="#d9262f" fill-opacity="0.9"/>
<rect x="282.4" y="721.5" width="14.9" height="3.1" fill="#e3c6bf" stroke="#2a2a2a" stroke-width="0.7"/>
<line x1="290.6" y1="721.5" x2="290.6" y2="724.5" stroke="#1a1a1a" stroke-width="0.9"/>
<line x1="232" y1="723" x2="234.7" y2="723" stroke="#262626" stroke-width="0.9"/>
<text x="230.3" y="726" font-size="8.1" fill="#4d4d4d" text-anchor="end">CUT domain PF02376</text>
<text x="310.2" y="725.4" font-size="7.2" fill="#000">n=8</text>
<path d="M275,731.5 L275.7,731.4 L276.4,731.3 L277.2,731.2 L277.9,731.1 L278.6,731 L279.3,731 L280.1,730.9 L280.8,730.8 L281.5,730.8 L282.2,730.7 L282.9,730.7 L283.7,730.6 L284.4,730.6 L285.1,730.6 L285.8,730.6 L286.5,730.6 L287.3,730.7 L288,730.7 L288.7,730.7 L289.4,730.8 L290.2,730.9 L290.9,731 L291.6,731 L292.3,731.1 L293,731.2 L293.8,731.3 L294.5,731.4 L295.2,731.5 L295.9,731.6 L296.6,731.7 L297.4,731.8 L298.1,731.9 L298.8,731.9 L299.5,732 L300.3,732.1 L301,732.1 L301.7,732.2 L302.4,732.2 L303.1,732.2 L303.9,732.2 L304.6,732.2 L305.3,732.3 L306,732.3 L306.7,732.3 L307.5,732.2 L308.2,732.2 L308.9,732.2 L309.6,732.2 L310.4,732.2 L311.1,732.2 L311.8,732.2 L312.5,732.2 L313.2,732.2 L314,732.2 L314.7,732.2 L315.4,732.2 L316.1,732.2 L316.8,732.2 L317.6,732.2 L318.3,732.2 L319,732.2 L319.7,732.2 L320.5,732.3 L321.2,732.3 L321.9,732.3 L322.6,732.3 L323.3,732.3 L324.1,732.3 L324.8,732.3 L325.5,732.2 L326.2,732.2 L326.9,732.2 L327.7,732.2 L328.4,732.2 L329.1,732.2 L329.8,732.2 L330.6,732.2 L331.3,732.2 L332,732.2 L332,733.3 L331.3,733.3 L330.6,733.3 L329.8,733.3 L329.1,733.3 L328.4,733.3 L327.7,733.3 L326.9,733.3 L326.2,733.3 L325.5,733.3 L324.8,733.3 L324.1,733.3 L323.3,733.3 L322.6,733.3 L321.9,733.3 L321.2,733.3 L320.5,733.3 L319.7,733.3 L319,733.3 L318.3,733.3 L317.6,733.3 L316.8,733.3 L316.1,733.3 L315.4,733.3 L314.7,733.3 L314,733.3 L313.2,733.3 L312.5,733.3 L311.8,733.3 L311.1,733.3 L310.4,733.3 L309.6,733.3 L308.9,733.3 L308.2,733.3 L307.5,733.3 L306.7,733.3 L306,733.3 L305.3,733.3 L304.6,733.3 L303.9,733.3 L303.1,733.3 L302.4,733.4 L301.7,733.4 L301,733.4 L300.3,733.5 L299.5,733.5 L298.8,733.6 L298.1,733.7 L297.4,733.7 L296.6,733.8 L295.9,733.9 L295.2,734 L294.5,734.1 L293.8,734.2 L293,734.3 L292.3,734.4 L291.6,734.5 L290.9,734.6 L290.2,734.7 L289.4,734.7 L288.7,734.8 L288,734.8 L287.3,734.9 L286.5,734.9 L285.8,734.9 L285.1,734.9 L284.4,734.9 L283.7,734.9 L282.9,734.9 L282.2,734.8 L281.5,734.8 L280.8,734.7 L280.1,734.7 L279.3,734.6 L278.6,734.5 L277.9,734.4 L277.2,734.3 L276.4,734.2 L275.7,734.1 L275,734.1Z" fill="#ee7880" stroke="#bf1f2b" stroke-width="0.75" stroke-linejoin="round"/>
<line x1="275" y1="732.8" x2="284.9" y2="732.8" stroke="#3a2a22" stroke-width="0.7"/>
<line x1="312.9" y1="732.8" x2="332" y2="732.8" stroke="#3a2a22" stroke-width="0.7"/>
<circle cx="275" cy="730.1" r="0.8" fill="#d9262f" fill-opacity="0.9"/>
<circle cx="284.9" cy="733.3" r="0.8" fill="#d9262f" fill-opacity="0.9"/>
<circle cx="291.6" cy="733.8" r="0.8" fill="#d9262f" fill-opacity="0.9"/>
<circle cx="312.9" cy="734.3" r="0.8" fill="#d9262f" fill-opacity="0.9"/>
<circle cx="332" cy="730" r="0.8" fill="#d9262f" fill-opacity="0.9"/>
<circle cx="284.5" cy="735" r="0.8" fill="#d9262f" fill-opacity="0.9"/>
<circle cx="286" cy="736.5" r="0.8" fill="#d9262f" fill-opacity="0.9"/>
<rect x="284.9" y="731.2" width="28" height="3.1" fill="#e3c6bf" stroke="#2a2a2a" stroke-width="0.7"/>
<line x1="291.6" y1="731.2" x2="291.6" y2="734.3" stroke="#1a1a1a" stroke-width="0.9"/>
<line x1="232" y1="732.8" x2="234.7" y2="732.8" stroke="#262626" stroke-width="0.9"/>
<text x="230.3" y="735.8" font-size="8.1" fill="#4d4d4d" text-anchor="end">Ubiquitin−associated domain PF00627</text>
<text x="338.2" y="735.2" font-size="7.2" fill="#000">n=7</text>
<path d="M251.9,742 L253.4,742 L254.8,741.9 L256.3,741.9 L257.8,741.9 L259.2,741.9 L260.7,741.8 L262.2,741.8 L263.7,741.8 L265.1,741.7 L266.6,741.7 L268.1,741.7 L269.5,741.6 L271,741.6 L272.5,741.6 L273.9,741.5 L275.4,741.5 L276.9,741.5 L278.4,741.4 L279.8,741.4 L281.3,741.4 L282.8,741.4 L284.2,741.4 L285.7,741.4 L287.2,741.5 L288.6,741.5 L290.1,741.5 L291.6,741.5 L293,741.5 L294.5,741.6 L296,741.6 L297.5,741.6 L298.9,741.6 L300.4,741.7 L301.9,741.7 L303.3,741.7 L304.8,741.8 L306.3,741.8 L307.7,741.8 L309.2,741.9 L310.7,741.9 L312.2,742 L313.6,742 L315.1,742.1 L316.6,742.1 L318,742.2 L319.5,742.2 L321,742.2 L322.4,742.2 L323.9,742.2 L325.4,742.2 L326.9,742.2 L328.3,742.2 L329.8,742.2 L331.3,742.2 L332.7,742.2 L334.2,742.2 L335.7,742.2 L337.1,742.2 L338.6,742.2 L340.1,742.2 L341.5,742.2 L343,742.2 L344.5,742.2 L346,742.2 L347.4,742.2 L348.9,742.2 L350.4,742.2 L351.8,742.2 L353.3,742.2 L354.8,742.2 L356.2,742.2 L357.7,742.2 L359.2,742.2 L360.7,742.2 L362.1,742.2 L363.6,742.2 L365.1,742.2 L366.5,742.2 L368,742.2 L368,742.9 L366.5,742.9 L365.1,742.9 L363.6,742.9 L362.1,742.9 L360.7,742.9 L359.2,742.9 L357.7,742.9 L356.2,742.9 L354.8,742.9 L353.3,742.9 L351.8,742.9 L350.4,742.9 L348.9,742.9 L347.4,742.9 L346,742.9 L344.5,742.9 L343,742.9 L341.5,742.9 L340.1,742.9 L338.6,742.9 L337.1,742.9 L335.7,742.9 L334.2,742.9 L332.7,742.9 L331.3,742.9 L329.8,742.9 L328.3,742.9 L326.9,742.9 L325.4,742.9 L323.9,742.9 L322.4,742.9 L321,742.9 L319.5,742.9 L318,742.9 L316.6,742.9 L315.1,743 L313.6,743 L312.2,743.1 L310.7,743.1 L309.2,743.2 L307.7,743.2 L306.3,743.3 L304.8,743.3 L303.3,743.4 L301.9,743.4 L300.4,743.4 L298.9,743.5 L297.5,743.5 L296,743.5 L294.5,743.5 L293,743.5 L291.6,743.6 L290.1,743.6 L288.6,743.6 L287.2,743.6 L285.7,743.6 L284.2,743.7 L282.8,743.7 L281.3,743.7 L279.8,743.7 L278.4,743.6 L276.9,743.6 L275.4,743.6 L273.9,743.6 L272.5,743.5 L271,743.5 L269.5,743.4 L268.1,743.4 L266.6,743.4 L265.1,743.3 L263.7,743.3 L262.2,743.3 L260.7,743.3 L259.2,743.2 L257.8,743.2 L256.3,743.2 L254.8,743.1 L253.4,743.1 L251.9,743.1Z" fill="#ee7880" stroke="#bf1f2b" stroke-width="0.75" stroke-linejoin="round"/>
<line x1="251.9" y1="742.5" x2="277.4" y2="742.5" stroke="#3a2a22" stroke-width="0.7"/>
<line x1="304.7" y1="742.5" x2="341.1" y2="742.5" stroke="#3a2a22" stroke-width="0.7"/>
<circle cx="251.9" cy="742.9" r="0.8" fill="#d9262f" fill-opacity="0.9"/>
<circle cx="277.4" cy="741.5" r="0.8" fill="#d9262f" fill-opacity="0.9"/>
<circle cx="293.1" cy="743" r="0.8" fill="#d9262f" fill-opacity="0.9"/>
<circle cx="304.7" cy="738.9" r="0.8" fill="#d9262f" fill-opacity="0.9"/>
<circle cx="368" cy="742.9" r="0.8" fill="#d9262f" fill-opacity="0.9"/>
<circle cx="276.7" cy="740.7" r="0.8" fill="#d9262f" fill-opacity="0.9"/>
<circle cx="258.3" cy="738.8" r="0.8" fill="#d9262f" fill-opacity="0.9"/>
<circle cx="260" cy="743.4" r="0.8" fill="#d9262f" fill-opacity="0.9"/>
<circle cx="277.7" cy="745.9" r="0.8" fill="#d9262f" fill-opacity="0.9"/>
<circle cx="278.6" cy="746.3" r="0.8" fill="#d9262f" fill-opacity="0.9"/>
<circle cx="285.2" cy="739.8" r="0.8" fill="#d9262f" fill-opacity="0.9"/>
<circle cx="302.7" cy="741.3" r="0.8" fill="#d9262f" fill-opacity="0.9"/>
<circle cx="296.1" cy="742.3" r="0.8" fill="#d9262f" fill-opacity="0.9"/>
<circle cx="313.5" cy="741.2" r="0.8" fill="#d9262f" fill-opacity="0.9"/>
<circle cx="341.1" cy="744.9" r="0.8" fill="#d9262f" fill-opacity="0.9"/>
<rect x="277.4" y="741" width="27.3" height="3.1" fill="#e3c6bf" stroke="#2a2a2a" stroke-width="0.7"/>
<line x1="293.1" y1="741" x2="293.1" y2="744.1" stroke="#1a1a1a" stroke-width="0.9"/>
<line x1="232" y1="742.5" x2="234.7" y2="742.5" stroke="#262626" stroke-width="0.9"/>
<text x="230.3" y="745.5" font-size="8.1" fill="#4d4d4d" text-anchor="end">SANT/Myb domain PF00249</text>
<text x="376" y="744.9" font-size="7.2" fill="#000">n=15</text>
<path d="M251.9,751.7 L252.9,751.7 L253.8,751.6 L254.8,751.6 L255.8,751.6 L256.7,751.6 L257.7,751.6 L258.7,751.5 L259.6,751.5 L260.6,751.5 L261.6,751.5 L262.5,751.5 L263.5,751.5 L264.5,751.4 L265.4,751.4 L266.4,751.4 L267.4,751.4 L268.3,751.4 L269.3,751.4 L270.3,751.4 L271.2,751.4 L272.2,751.4 L273.2,751.4 L274.1,751.4 L275.1,751.4 L276.1,751.4 L277,751.4 L278,751.4 L279,751.4 L279.9,751.4 L280.9,751.4 L281.9,751.5 L282.8,751.5 L283.8,751.5 L284.8,751.5 L285.7,751.5 L286.7,751.5 L287.7,751.5 L288.6,751.5 L289.6,751.5 L290.6,751.5 L291.6,751.5 L292.5,751.5 L293.5,751.5 L294.5,751.5 L295.4,751.5 L296.4,751.5 L297.4,751.5 L298.3,751.5 L299.3,751.5 L300.3,751.6 L301.2,751.6 L302.2,751.6 L303.2,751.6 L304.1,751.6 L305.1,751.6 L306.1,751.6 L307,751.6 L308,751.6 L309,751.6 L309.9,751.6 L310.9,751.6 L311.9,751.6 L312.8,751.7 L313.8,751.7 L314.8,751.7 L315.7,751.7 L316.7,751.7 L317.7,751.7 L318.6,751.7 L319.6,751.7 L320.6,751.7 L321.5,751.8 L322.5,751.8 L323.5,751.8 L324.4,751.8 L325.4,751.8 L326.4,751.8 L327.3,751.8 L328.3,751.9 L328.3,752.8 L327.3,752.8 L326.4,752.8 L325.4,752.8 L324.4,752.8 L323.5,752.8 L322.5,752.8 L321.5,752.9 L320.6,752.9 L319.6,752.9 L318.6,752.9 L317.7,752.9 L316.7,752.9 L315.7,752.9 L314.8,752.9 L313.8,753 L312.8,753 L311.9,753 L310.9,753 L309.9,753 L309,753 L308,753 L307,753 L306.1,753 L305.1,753 L304.1,753 L303.2,753.1 L302.2,753.1 L301.2,753.1 L300.3,753.1 L299.3,753.1 L298.3,753.1 L297.4,753.1 L296.4,753.1 L295.4,753.1 L294.5,753.1 L293.5,753.1 L292.5,753.1 L291.6,753.1 L290.6,753.1 L289.6,753.1 L288.6,753.1 L287.7,753.1 L286.7,753.1 L285.7,753.1 L284.8,753.1 L283.8,753.2 L282.8,753.2 L281.9,753.2 L280.9,753.2 L279.9,753.2 L279,753.2 L278,753.2 L277,753.2 L276.1,753.2 L275.1,753.2 L274.1,753.2 L273.2,753.2 L272.2,753.2 L271.2,753.2 L270.3,753.2 L269.3,753.2 L268.3,753.2 L267.4,753.2 L266.4,753.2 L265.4,753.2 L264.5,753.2 L263.5,753.2 L262.5,753.1 L261.6,753.1 L260.6,753.1 L259.6,753.1 L258.7,753.1 L257.7,753.1 L256.7,753 L255.8,753 L254.8,753 L253.8,753 L252.9,752.9 L251.9,752.9Z" fill="#ee7880" stroke="#bf1f2b" stroke-width="0.75" stroke-linejoin="round"/>
<line x1="251.9" y1="752.3" x2="271.2" y2="752.3" stroke="#3a2a22" stroke-width="0.7"/>
<line x1="306" y1="752.3" x2="328.3" y2="752.3" stroke="#3a2a22" stroke-width="0.7"/>
<circle cx="251.9" cy="753.3" r="0.8" fill="#d9262f" fill-opacity="0.9"/>
<circle cx="271.2" cy="752" r="0.8" fill="#d9262f" fill-opacity="0.9"/>
<circle cx="294.8" cy="754.4" r="0.8" fill="#d9262f" fill-opacity="0.9"/>
<circle cx="306" cy="751.6" r="0.8" fill="#d9262f" fill-opacity="0.9"/>
<circle cx="328.3" cy="753.2" r="0.8" fill="#d9262f" fill-opacity="0.9"/>
<circle cx="271" cy="751" r="0.8" fill="#d9262f" fill-opacity="0.9"/>
<rect x="271.2" y="750.8" width="34.8" height="3.1" fill="#e3c6bf" stroke="#2a2a2a" stroke-width="0.7"/>
<line x1="294.8" y1="750.8" x2="294.8" y2="753.9" stroke="#1a1a1a" stroke-width="0.9"/>
<line x1="232" y1="752.3" x2="234.7" y2="752.3" stroke="#262626" stroke-width="0.9"/>
<text x="230.3" y="755.3" font-size="8.1" fill="#4d4d4d" text-anchor="end">DnaJ domain PF00226</text>
<text x="338.2" y="754.7" font-size="7.2" fill="#000">n=6</text>
<path d="M251.9,761.5 L252.9,761.5 L253.9,761.5 L254.9,761.5 L255.8,761.4 L256.8,761.4 L257.8,761.4 L258.8,761.4 L259.8,761.4 L260.8,761.4 L261.7,761.4 L262.7,761.4 L263.7,761.4 L264.7,761.3 L265.7,761.3 L266.7,761.3 L267.6,761.3 L268.6,761.3 L269.6,761.3 L270.6,761.3 L271.6,761.3 L272.6,761.3 L273.5,761.3 L274.5,761.3 L275.5,761.3 L276.5,761.3 L277.5,761.3 L278.5,761.3 L279.4,761.3 L280.4,761.3 L281.4,761.3 L282.4,761.3 L283.4,761.3 L284.4,761.2 L285.3,761.2 L286.3,761.2 L287.3,761.2 L288.3,761.2 L289.3,761.2 L290.3,761.2 L291.2,761.2 L292.2,761.2 L293.2,761.2 L294.2,761.2 L295.2,761.3 L296.2,761.3 L297.1,761.3 L298.1,761.3 L299.1,761.3 L300.1,761.3 L301.1,761.3 L302.1,761.3 L303,761.3 L304,761.3 L305,761.3 L306,761.3 L307,761.3 L308,761.3 L308.9,761.4 L309.9,761.4 L310.9,761.4 L311.9,761.4 L312.9,761.4 L313.9,761.4 L314.8,761.4 L315.8,761.4 L316.8,761.4 L317.8,761.5 L318.8,761.5 L319.8,761.5 L320.7,761.5 L321.7,761.5 L322.7,761.5 L323.7,761.5 L324.7,761.5 L325.7,761.6 L326.6,761.6 L327.6,761.6 L328.6,761.6 L329.6,761.6 L329.6,762.5 L328.6,762.6 L327.6,762.6 L326.6,762.6 L325.7,762.6 L324.7,762.6 L323.7,762.6 L322.7,762.6 L321.7,762.7 L320.7,762.7 L319.8,762.7 L318.8,762.7 L317.8,762.7 L316.8,762.7 L315.8,762.7 L314.8,762.7 L313.9,762.8 L312.9,762.8 L311.9,762.8 L310.9,762.8 L309.9,762.8 L308.9,762.8 L308,762.8 L307,762.8 L306,762.8 L305,762.8 L304,762.9 L303,762.9 L302.1,762.9 L301.1,762.9 L300.1,762.9 L299.1,762.9 L298.1,762.9 L297.1,762.9 L296.2,762.9 L295.2,762.9 L294.2,762.9 L293.2,762.9 L292.2,762.9 L291.2,762.9 L290.3,762.9 L289.3,762.9 L288.3,762.9 L287.3,762.9 L286.3,762.9 L285.3,762.9 L284.4,762.9 L283.4,762.9 L282.4,762.9 L281.4,762.9 L280.4,762.9 L279.4,762.9 L278.5,762.9 L277.5,762.9 L276.5,762.9 L275.5,762.9 L274.5,762.9 L273.5,762.9 L272.6,762.9 L271.6,762.9 L270.6,762.9 L269.6,762.8 L268.6,762.8 L267.6,762.8 L266.7,762.8 L265.7,762.8 L264.7,762.8 L263.7,762.8 L262.7,762.8 L261.7,762.8 L260.8,762.8 L259.8,762.8 L258.8,762.8 L257.8,762.7 L256.8,762.7 L255.8,762.7 L254.9,762.7 L253.9,762.7 L252.9,762.7 L251.9,762.6Z" fill="#ee7880" stroke="#bf1f2b" stroke-width="0.75" stroke-linejoin="round"/>
<line x1="251.9" y1="762.1" x2="283.1" y2="762.1" stroke="#3a2a22" stroke-width="0.7"/>
<line x1="308.5" y1="762.1" x2="329.6" y2="762.1" stroke="#3a2a22" stroke-width="0.7"/>
<circle cx="251.9" cy="765.3" r="0.8" fill="#d9262f" fill-opacity="0.9"/>
<circle cx="283.1" cy="763.7" r="0.8" fill="#d9262f" fill-opacity="0.9"/>
<circle cx="294.8" cy="764" r="0.8" fill="#d9262f" fill-opacity="0.9"/>
<circle cx="308.5" cy="762.6" r="0.8" fill="#d9262f" fill-opacity="0.9"/>
<circle cx="329.6" cy="759.3" r="0.8" fill="#d9262f" fill-opacity="0.9"/>
<circle cx="264.9" cy="760.3" r="0.8" fill="#d9262f" fill-opacity="0.9"/>
<rect x="283.1" y="760.5" width="25.4" height="3.1" fill="#e3c6bf" stroke="#2a2a2a" stroke-width="0.7"/>
<line x1="294.8" y1="760.5" x2="294.8" y2="763.6" stroke="#1a1a1a" stroke-width="0.9"/>
<line x1="232" y1="762.1" x2="234.7" y2="762.1" stroke="#262626" stroke-width="0.9"/>
<text x="230.3" y="765.1" font-size="8.1" fill="#4d4d4d" text-anchor="end">Sterile alpha motif domain PF00536</text>
<text x="337.7" y="764.5" font-size="7.2" fill="#000">n=6</text>
<path d="M278.7,770.4 L279.4,770.3 L280.1,770.3 L280.8,770.3 L281.5,770.3 L282.2,770.3 L282.9,770.2 L283.6,770.2 L284.4,770.2 L285.1,770.2 L285.8,770.3 L286.5,770.3 L287.2,770.3 L287.9,770.3 L288.6,770.3 L289.3,770.3 L290,770.4 L290.7,770.4 L291.4,770.4 L292.1,770.4 L292.8,770.5 L293.5,770.5 L294.2,770.5 L294.9,770.6 L295.7,770.6 L296.4,770.6 L297.1,770.6 L297.8,770.7 L298.5,770.7 L299.2,770.7 L299.9,770.7 L300.6,770.8 L301.3,770.8 L302,770.8 L302.7,770.9 L303.4,770.9 L304.1,770.9 L304.8,770.9 L305.5,771 L306.2,771 L307,771 L307.7,771.1 L308.4,771.1 L309.1,771.1 L309.8,771.2 L310.5,771.2 L311.2,771.2 L311.9,771.2 L312.6,771.3 L313.3,771.3 L314,771.3 L314.7,771.3 L315.4,771.4 L316.1,771.4 L316.8,771.4 L317.5,771.4 L318.3,771.4 L319,771.4 L319.7,771.4 L320.4,771.5 L321.1,771.5 L321.8,771.5 L322.5,771.5 L323.2,771.5 L323.9,771.5 L324.6,771.4 L325.3,771.4 L326,771.4 L326.7,771.4 L327.4,771.4 L328.1,771.4 L328.8,771.4 L329.6,771.4 L330.3,771.4 L331,771.4 L331.7,771.4 L332.4,771.4 L333.1,771.4 L333.8,771.4 L334.5,771.4 L334.5,772.3 L333.8,772.3 L333.1,772.3 L332.4,772.3 L331.7,772.3 L331,772.3 L330.3,772.3 L329.6,772.3 L328.8,772.3 L328.1,772.3 L327.4,772.3 L326.7,772.3 L326,772.3 L325.3,772.3 L324.6,772.3 L323.9,772.2 L323.2,772.2 L322.5,772.2 L321.8,772.2 L321.1,772.2 L320.4,772.2 L319.7,772.3 L319,772.3 L318.3,772.3 L317.5,772.3 L316.8,772.3 L316.1,772.3 L315.4,772.3 L314.7,772.4 L314,772.4 L313.3,772.4 L312.6,772.4 L311.9,772.5 L311.2,772.5 L310.5,772.5 L309.8,772.5 L309.1,772.6 L308.4,772.6 L307.7,772.6 L307,772.7 L306.2,772.7 L305.5,772.7 L304.8,772.8 L304.1,772.8 L303.4,772.8 L302.7,772.8 L302,772.9 L301.3,772.9 L300.6,772.9 L299.9,773 L299.2,773 L298.5,773 L297.8,773 L297.1,773.1 L296.4,773.1 L295.7,773.1 L294.9,773.1 L294.2,773.2 L293.5,773.2 L292.8,773.2 L292.1,773.3 L291.4,773.3 L290.7,773.3 L290,773.3 L289.3,773.4 L288.6,773.4 L287.9,773.4 L287.2,773.4 L286.5,773.4 L285.8,773.4 L285.1,773.5 L284.4,773.5 L283.6,773.5 L282.9,773.5 L282.2,773.4 L281.5,773.4 L280.8,773.4 L280.1,773.4 L279.4,773.4 L278.7,773.3Z" fill="#ee7880" stroke="#bf1f2b" stroke-width="0.75" stroke-linejoin="round"/>
<line x1="278.7" y1="771.8" x2="283.1" y2="771.8" stroke="#3a2a22" stroke-width="0.7"/>
<line x1="306" y1="771.8" x2="334.5" y2="771.8" stroke="#3a2a22" stroke-width="0.7"/>
<circle cx="278.7" cy="774" r="0.8" fill="#d9262f" fill-opacity="0.9"/>
<circle cx="283.1" cy="774.7" r="0.8" fill="#d9262f" fill-opacity="0.9"/>
<circle cx="296" cy="770.5" r="0.8" fill="#d9262f" fill-opacity="0.9"/>
<circle cx="306" cy="773.7" r="0.8" fill="#d9262f" fill-opacity="0.9"/>
<circle cx="334.5" cy="775.6" r="0.8" fill="#d9262f" fill-opacity="0.9"/>
<circle cx="280.7" cy="773.4" r="0.8" fill="#d9262f" fill-opacity="0.9"/>
<rect x="283.1" y="770.3" width="22.9" height="3.1" fill="#e3c6bf" stroke="#2a2a2a" stroke-width="0.7"/>
<line x1="296" y1="770.3" x2="296" y2="773.4" stroke="#1a1a1a" stroke-width="0.9"/>
<line x1="232" y1="771.8" x2="234.7" y2="771.8" stroke="#262626" stroke-width="0.9"/>
<text x="230.3" y="774.8" font-size="8.1" fill="#4d4d4d" text-anchor="end">EF−hand domain PF13499</text>
<text x="342.7" y="774.2" font-size="7.2" fill="#000">n=6</text>
<path d="M273.7,780.8 L274.5,780.8 L275.3,780.8 L276.2,780.8 L277,780.8 L277.8,780.8 L278.6,780.7 L279.5,780.7 L280.3,780.7 L281.1,780.7 L281.9,780.7 L282.8,780.7 L283.6,780.7 L284.4,780.7 L285.2,780.6 L286,780.6 L286.9,780.6 L287.7,780.5 L288.5,780.4 L289.3,780.4 L290.2,780.3 L291,780.3 L291.8,780.2 L292.6,780.1 L293.4,780.1 L294.3,780.1 L295.1,780 L295.9,780 L296.7,780 L297.6,780 L298.4,780 L299.2,780 L300,780 L300.9,780.1 L301.7,780.1 L302.5,780.1 L303.3,780.2 L304.1,780.2 L305,780.3 L305.8,780.3 L306.6,780.4 L307.4,780.4 L308.3,780.4 L309.1,780.5 L309.9,780.5 L310.7,780.5 L311.5,780.6 L312.4,780.6 L313.2,780.6 L314,780.6 L314.8,780.6 L315.7,780.7 L316.5,780.7 L317.3,780.7 L318.1,780.7 L319,780.7 L319.8,780.8 L320.6,780.8 L321.4,780.8 L322.2,780.9 L323.1,780.9 L323.9,780.9 L324.7,781 L325.5,781 L326.4,781 L327.2,781.1 L328,781.1 L328.8,781.1 L329.6,781.2 L330.5,781.2 L331.3,781.2 L332.1,781.2 L332.9,781.2 L333.8,781.2 L334.6,781.3 L335.4,781.3 L336.2,781.3 L337.1,781.3 L337.9,781.3 L338.7,781.3 L338.7,782 L337.9,782 L337.1,782 L336.2,782 L335.4,782 L334.6,782 L333.8,782 L332.9,782 L332.1,782 L331.3,782 L330.5,782.1 L329.6,782.1 L328.8,782.1 L328,782.1 L327.2,782.2 L326.4,782.2 L325.5,782.2 L324.7,782.3 L323.9,782.3 L323.1,782.3 L322.2,782.4 L321.4,782.4 L320.6,782.4 L319.8,782.5 L319,782.5 L318.1,782.5 L317.3,782.5 L316.5,782.6 L315.7,782.6 L314.8,782.6 L314,782.6 L313.2,782.6 L312.4,782.7 L311.5,782.7 L310.7,782.7 L309.9,782.7 L309.1,782.8 L308.3,782.8 L307.4,782.8 L306.6,782.9 L305.8,782.9 L305,783 L304.1,783 L303.3,783.1 L302.5,783.1 L301.7,783.1 L300.9,783.2 L300,783.2 L299.2,783.2 L298.4,783.3 L297.6,783.3 L296.7,783.3 L295.9,783.2 L295.1,783.2 L294.3,783.2 L293.4,783.1 L292.6,783.1 L291.8,783 L291,783 L290.2,782.9 L289.3,782.9 L288.5,782.8 L287.7,782.7 L286.9,782.7 L286,782.6 L285.2,782.6 L284.4,782.6 L283.6,782.5 L282.8,782.5 L281.9,782.5 L281.1,782.5 L280.3,782.5 L279.5,782.5 L278.6,782.5 L277.8,782.5 L277,782.5 L276.2,782.5 L275.3,782.5 L274.5,782.4 L273.7,782.4Z" fill="#ee7880" stroke="#bf1f2b" stroke-width="0.75" stroke-linejoin="round"/>
<line x1="273.7" y1="781.6" x2="294" y2="781.6" stroke="#3a2a22" stroke-width="0.7"/>
<line x1="314.7" y1="781.6" x2="338.7" y2="781.6" stroke="#3a2a22" stroke-width="0.7"/>
<circle cx="273.7" cy="785.4" r="0.8" fill="#d9262f" fill-opacity="0.9"/>
<circle cx="294" cy="778.2" r="0.8" fill="#d9262f" fill-opacity="0.9"/>
<circle cx="297.3" cy="785.1" r="0.8" fill="#d9262f" fill-opacity="0.9"/>
<circle cx="314.7" cy="781.7" r="0.8" fill="#d9262f" fill-opacity="0.9"/>
<circle cx="338.7" cy="778.7" r="0.8" fill="#d9262f" fill-opacity="0.9"/>
<circle cx="293" cy="783.9" r="0.8" fill="#d9262f" fill-opacity="0.9"/>
<circle cx="277.8" cy="780.8" r="0.8" fill="#d9262f" fill-opacity="0.9"/>
<circle cx="275.2" cy="784.6" r="0.8" fill="#d9262f" fill-opacity="0.9"/>
<circle cx="297.1" cy="780.2" r="0.8" fill="#d9262f" fill-opacity="0.9"/>
<circle cx="295.7" cy="783.9" r="0.8" fill="#d9262f" fill-opacity="0.9"/>
<circle cx="307.7" cy="784.7" r="0.8" fill="#d9262f" fill-opacity="0.9"/>
<circle cx="302.5" cy="784.8" r="0.8" fill="#d9262f" fill-opacity="0.9"/>
<circle cx="323.3" cy="779.6" r="0.8" fill="#d9262f" fill-opacity="0.9"/>
<circle cx="318" cy="785.2" r="0.8" fill="#d9262f" fill-opacity="0.9"/>
<rect x="294" y="780.1" width="20.7" height="3.1" fill="#e3c6bf" stroke="#2a2a2a" stroke-width="0.7"/>
<line x1="297.3" y1="780.1" x2="297.3" y2="783.2" stroke="#1a1a1a" stroke-width="0.9"/>
<line x1="232" y1="781.6" x2="234.7" y2="781.6" stroke="#262626" stroke-width="0.9"/>
<text x="230.3" y="784.6" font-size="8.1" fill="#4d4d4d" text-anchor="end">SAP domain PF02037</text>
<text x="346.9" y="784" font-size="7.2" fill="#000">n=14</text>
<path d="M279.4,790.2 L280,790.2 L280.6,790.1 L281.2,790.1 L281.9,790.1 L282.5,790.1 L283.1,790.2 L283.7,790.3 L284.3,790.4 L284.9,790.5 L285.5,790.6 L286.1,790.8 L286.8,790.9 L287.4,791 L288,791 L288.6,791 L289.2,791 L289.8,791 L290.4,791 L291,791 L291.7,791 L292.3,791 L292.9,791 L293.5,791 L294.1,791 L294.7,790.8 L295.3,790.6 L295.9,790.3 L296.6,790 L297.2,789.6 L297.8,789.2 L298.4,788.8 L299,788.4 L299.6,788 L300.2,787.7 L300.8,787.4 L301.5,787.2 L302.1,787.1 L302.7,787 L303.3,787 L303.9,787 L304.5,787.2 L305.1,787.3 L305.7,787.6 L306.4,787.8 L307,788.2 L307.6,788.6 L308.2,789 L308.8,789.3 L309.4,789.7 L310,790.1 L310.6,790.4 L311.3,790.6 L311.9,790.8 L312.5,791 L313.1,791 L313.7,791 L314.3,791 L314.9,791 L315.5,790.9 L316.2,790.8 L316.8,790.7 L317.4,790.6 L318,790.6 L318.6,790.5 L319.2,790.5 L319.8,790.6 L320.4,790.6 L321.1,790.7 L321.7,790.8 L322.3,790.9 L322.9,790.9 L323.5,790.9 L324.1,790.9 L324.7,790.8 L325.3,790.7 L326,790.7 L326.6,790.6 L327.2,790.5 L327.8,790.5 L327.8,792.2 L327.2,792.2 L326.6,792.2 L326,792.1 L325.3,792 L324.7,792 L324.1,791.9 L323.5,791.9 L322.9,791.9 L322.3,791.9 L321.7,792 L321.1,792.1 L320.4,792.1 L319.8,792.2 L319.2,792.2 L318.6,792.2 L318,792.2 L317.4,792.2 L316.8,792.1 L316.2,792 L315.5,791.9 L314.9,791.8 L314.3,791.7 L313.7,791.7 L313.1,791.7 L312.5,791.8 L311.9,792 L311.3,792.2 L310.6,792.4 L310,792.7 L309.4,793.1 L308.8,793.4 L308.2,793.8 L307.6,794.2 L307,794.6 L306.4,794.9 L305.7,795.2 L305.1,795.5 L304.5,795.6 L303.9,795.7 L303.3,795.8 L302.7,795.8 L302.1,795.7 L301.5,795.6 L300.8,795.4 L300.2,795.1 L299.6,794.8 L299,794.4 L298.4,794 L297.8,793.6 L297.2,793.2 L296.6,792.8 L295.9,792.5 L295.3,792.2 L294.7,791.9 L294.1,791.8 L293.5,791.7 L292.9,791.7 L292.3,791.7 L291.7,791.7 L291,791.7 L290.4,791.7 L289.8,791.7 L289.2,791.7 L288.6,791.7 L288,791.7 L287.4,791.8 L286.8,791.9 L286.1,792 L285.5,792.1 L284.9,792.3 L284.3,792.4 L283.7,792.5 L283.1,792.6 L282.5,792.7 L281.9,792.7 L281.2,792.7 L280.6,792.7 L280,792.6 L279.4,792.5Z" fill="#7d8fcb" stroke="#243585" stroke-width="0.75" stroke-linejoin="round"/>
<line x1="298.9" y1="791.4" x2="299.8" y2="791.4" stroke="#3a2a22" stroke-width="0.7"/>
<line x1="308" y1="791.4" x2="318.7" y2="791.4" stroke="#3a2a22" stroke-width="0.7"/>
<circle cx="279.4" cy="794.7" r="0.8" fill="#2b3f9c" fill-opacity="0.9"/>
<circle cx="299.8" cy="789.2" r="0.8" fill="#2b3f9c" fill-opacity="0.9"/>
<circle cx="304" cy="795.1" r="0.8" fill="#2b3f9c" fill-opacity="0.9"/>
<circle cx="308" cy="793.7" r="0.8" fill="#2b3f9c" fill-opacity="0.9"/>
<circle cx="327.8" cy="788.7" r="0.8" fill="#2b3f9c" fill-opacity="0.9"/>
<circle cx="283.5" cy="790" r="0.8" fill="#2b3f9c" fill-opacity="0.9"/>
<circle cx="298.9" cy="788.4" r="0.8" fill="#2b3f9c" fill-opacity="0.9"/>
<circle cx="302.3" cy="789.9" r="0.8" fill="#2b3f9c" fill-opacity="0.9"/>
<circle cx="301.3" cy="794.3" r="0.8" fill="#2b3f9c" fill-opacity="0.9"/>
<circle cx="306.1" cy="793.3" r="0.8" fill="#2b3f9c" fill-opacity="0.9"/>
<circle cx="305.2" cy="792" r="0.8" fill="#2b3f9c" fill-opacity="0.9"/>
<circle cx="318.7" cy="788.1" r="0.8" fill="#2b3f9c" fill-opacity="0.9"/>
<rect x="299.8" y="789.8" width="8.2" height="3.1" fill="#c3c7de" stroke="#2a2a2a" stroke-width="0.7"/>
<line x1="304" y1="789.8" x2="304" y2="792.9" stroke="#1a1a1a" stroke-width="0.9"/>
<line x1="232" y1="791.4" x2="234.7" y2="791.4" stroke="#262626" stroke-width="0.9"/>
<text x="230.3" y="794.4" font-size="8.1" fill="#4d4d4d" text-anchor="end">Beta/gamma crystallin PF00030</text>
<text x="334.5" y="793.8" font-size="7.2" fill="#000">n=12</text>
<path d="M294.3,799.6 L295,799.5 L295.7,799.5 L296.3,799.6 L297,799.6 L297.7,799.7 L298.4,799.8 L299.1,799.9 L299.8,800 L300.4,800.1 L301.1,800.1 L301.8,800.1 L302.5,800.1 L303.2,800 L303.9,799.8 L304.5,799.7 L305.2,799.5 L305.9,799.3 L306.6,799 L307.3,798.8 L307.9,798.6 L308.6,798.4 L309.3,798.2 L310,798.1 L310.7,798 L311.4,798 L312,798 L312.7,798.1 L313.4,798.2 L314.1,798.4 L314.8,798.5 L315.5,798.7 L316.1,798.9 L316.8,799.1 L317.5,799.3 L318.2,799.4 L318.9,799.6 L319.5,799.8 L320.2,799.9 L320.9,800 L321.6,800.2 L322.3,800.3 L323,800.4 L323.6,800.5 L324.3,800.6 L325,800.7 L325.7,800.8 L326.4,800.8 L327,800.8 L327.7,800.8 L328.4,800.8 L329.1,800.8 L329.8,800.8 L330.5,800.8 L331.1,800.8 L331.8,800.8 L332.5,800.8 L333.2,800.8 L333.9,800.8 L334.6,800.8 L335.2,800.8 L335.9,800.8 L336.6,800.8 L337.3,800.8 L338,800.8 L338.6,800.8 L339.3,800.8 L340,800.8 L340.7,800.8 L341.4,800.8 L342.1,800.8 L342.7,800.8 L343.4,800.7 L344.1,800.6 L344.8,800.5 L345.5,800.5 L346.2,800.4 L346.8,800.4 L347.5,800.3 L348.2,800.3 L348.2,802 L347.5,802 L346.8,801.9 L346.2,801.9 L345.5,801.8 L344.8,801.8 L344.1,801.7 L343.4,801.6 L342.7,801.5 L342.1,801.5 L341.4,801.5 L340.7,801.5 L340,801.5 L339.3,801.5 L338.6,801.5 L338,801.5 L337.3,801.5 L336.6,801.5 L335.9,801.5 L335.2,801.5 L334.6,801.5 L333.9,801.5 L333.2,801.5 L332.5,801.5 L331.8,801.5 L331.1,801.5 L330.5,801.5 L329.8,801.5 L329.1,801.5 L328.4,801.5 L327.7,801.5 L327,801.5 L326.4,801.5 L325.7,801.5 L325,801.6 L324.3,801.7 L323.6,801.8 L323,801.9 L322.3,802 L321.6,802.1 L320.9,802.3 L320.2,802.4 L319.5,802.6 L318.9,802.7 L318.2,802.9 L317.5,803.1 L316.8,803.2 L316.1,803.4 L315.5,803.6 L314.8,803.8 L314.1,803.9 L313.4,804.1 L312.7,804.2 L312,804.3 L311.4,804.3 L310.7,804.3 L310,804.2 L309.3,804.1 L308.6,803.9 L307.9,803.7 L307.3,803.5 L306.6,803.3 L305.9,803.1 L305.2,802.8 L304.5,802.6 L303.9,802.5 L303.2,802.3 L302.5,802.3 L301.8,802.2 L301.1,802.2 L300.4,802.3 L299.8,802.3 L299.1,802.4 L298.4,802.5 L297.7,802.6 L297,802.7 L296.3,802.8 L295.7,802.8 L295,802.8 L294.3,802.8Z" fill="#7d8fcb" stroke="#243585" stroke-width="0.75" stroke-linejoin="round"/>
<line x1="294.3" y1="801.2" x2="308" y2="801.2" stroke="#3a2a22" stroke-width="0.7"/>
<line x1="319.6" y1="801.2" x2="319.6" y2="801.2" stroke="#3a2a22" stroke-width="0.7"/>
<circle cx="294.3" cy="804.6" r="0.8" fill="#2b3f9c" fill-opacity="0.9"/>
<circle cx="308" cy="803.2" r="0.8" fill="#2b3f9c" fill-opacity="0.9"/>
<circle cx="311" cy="804.6" r="0.8" fill="#2b3f9c" fill-opacity="0.9"/>
<circle cx="319.6" cy="798.1" r="0.8" fill="#2b3f9c" fill-opacity="0.9"/>
<circle cx="348.2" cy="800.8" r="0.8" fill="#2b3f9c" fill-opacity="0.9"/>
<circle cx="295.9" cy="801.7" r="0.8" fill="#2b3f9c" fill-opacity="0.9"/>
<circle cx="310.8" cy="804.7" r="0.8" fill="#2b3f9c" fill-opacity="0.9"/>
<circle cx="313.4" cy="801.1" r="0.8" fill="#2b3f9c" fill-opacity="0.9"/>
<rect x="308" y="799.6" width="11.6" height="3.1" fill="#c3c7de" stroke="#2a2a2a" stroke-width="0.7"/>
<line x1="311" y1="799.6" x2="311" y2="802.7" stroke="#1a1a1a" stroke-width="0.9"/>
<line x1="232" y1="801.2" x2="234.7" y2="801.2" stroke="#262626" stroke-width="0.9"/>
<text x="230.3" y="804.2" font-size="8.1" fill="#4d4d4d" text-anchor="end">variant SH3 domain PF14604</text>
<text x="355.6" y="803.6" font-size="7.2" fill="#000">n=8</text>
<path d="M274.5,810.5 L275.4,810.5 L276.4,810.4 L277.3,810.4 L278.2,810.4 L279.1,810.4 L280.1,810.4 L281,810.3 L281.9,810.3 L282.8,810.3 L283.8,810.3 L284.7,810.3 L285.6,810.3 L286.5,810.3 L287.5,810.3 L288.4,810.3 L289.3,810.2 L290.3,810.2 L291.2,810.2 L292.1,810.2 L293,810.2 L294,810.1 L294.9,810.1 L295.8,810.1 L296.7,810 L297.7,810 L298.6,810 L299.5,809.9 L300.4,809.9 L301.4,809.9 L302.3,809.9 L303.2,809.8 L304.2,809.8 L305.1,809.8 L306,809.8 L306.9,809.8 L307.9,809.8 L308.8,809.7 L309.7,809.7 L310.6,809.7 L311.6,809.7 L312.5,809.7 L313.4,809.7 L314.3,809.7 L315.3,809.7 L316.2,809.7 L317.1,809.7 L318,809.7 L319,809.7 L319.9,809.7 L320.8,809.7 L321.8,809.7 L322.7,809.7 L323.6,809.7 L324.5,809.8 L325.5,809.8 L326.4,809.8 L327.3,809.8 L328.2,809.8 L329.2,809.8 L330.1,809.8 L331,809.9 L331.9,809.9 L332.9,809.9 L333.8,810 L334.7,810 L335.7,810.1 L336.6,810.1 L337.5,810.1 L338.4,810.2 L339.4,810.2 L340.3,810.2 L341.2,810.3 L342.1,810.3 L343.1,810.4 L344,810.4 L344.9,810.4 L345.8,810.5 L346.8,810.5 L347.7,810.5 L347.7,811.3 L346.8,811.4 L345.8,811.4 L344.9,811.4 L344,811.5 L343.1,811.5 L342.1,811.5 L341.2,811.6 L340.3,811.6 L339.4,811.7 L338.4,811.7 L337.5,811.7 L336.6,811.8 L335.7,811.8 L334.7,811.8 L333.8,811.9 L332.9,811.9 L331.9,812 L331,812 L330.1,812 L329.2,812 L328.2,812.1 L327.3,812.1 L326.4,812.1 L325.5,812.1 L324.5,812.1 L323.6,812.1 L322.7,812.1 L321.8,812.1 L320.8,812.1 L319.9,812.1 L319,812.1 L318,812.1 L317.1,812.1 L316.2,812.1 L315.3,812.1 L314.3,812.1 L313.4,812.1 L312.5,812.1 L311.6,812.1 L310.6,812.1 L309.7,812.1 L308.8,812.1 L307.9,812.1 L306.9,812.1 L306,812.1 L305.1,812.1 L304.2,812 L303.2,812 L302.3,812 L301.4,812 L300.4,811.9 L299.5,811.9 L298.6,811.9 L297.7,811.9 L296.7,811.8 L295.8,811.8 L294.9,811.8 L294,811.7 L293,811.7 L292.1,811.7 L291.2,811.7 L290.3,811.6 L289.3,811.6 L288.4,811.6 L287.5,811.6 L286.5,811.6 L285.6,811.6 L284.7,811.6 L283.8,811.6 L282.8,811.5 L281.9,811.5 L281,811.5 L280.1,811.5 L279.1,811.5 L278.2,811.5 L277.3,811.5 L276.4,811.4 L275.4,811.4 L274.5,811.4Z" fill="#7d8fcb" stroke="#243585" stroke-width="0.75" stroke-linejoin="round"/>
<line x1="274.5" y1="810.9" x2="301.5" y2="810.9" stroke="#3a2a22" stroke-width="0.7"/>
<line x1="329.6" y1="810.9" x2="347.7" y2="810.9" stroke="#3a2a22" stroke-width="0.7"/>
<circle cx="274.5" cy="808.7" r="0.8" fill="#2b3f9c" fill-opacity="0.9"/>
<circle cx="301.5" cy="813.7" r="0.8" fill="#2b3f9c" fill-opacity="0.9"/>
<circle cx="312.9" cy="809.3" r="0.8" fill="#2b3f9c" fill-opacity="0.9"/>
<circle cx="329.6" cy="809.3" r="0.8" fill="#2b3f9c" fill-opacity="0.9"/>
<circle cx="347.7" cy="809.9" r="0.8" fill="#2b3f9c" fill-opacity="0.9"/>
<circle cx="276.5" cy="809.8" r="0.8" fill="#2b3f9c" fill-opacity="0.9"/>
<circle cx="285.6" cy="812.2" r="0.8" fill="#2b3f9c" fill-opacity="0.9"/>
<circle cx="282.3" cy="812.3" r="0.8" fill="#2b3f9c" fill-opacity="0.9"/>
<circle cx="300.5" cy="813" r="0.8" fill="#2b3f9c" fill-opacity="0.9"/>
<circle cx="284.7" cy="809.6" r="0.8" fill="#2b3f9c" fill-opacity="0.9"/>
<circle cx="301.5" cy="812.7" r="0.8" fill="#2b3f9c" fill-opacity="0.9"/>
<circle cx="307.9" cy="814.1" r="0.8" fill="#2b3f9c" fill-opacity="0.9"/>
<circle cx="301.7" cy="814.4" r="0.8" fill="#2b3f9c" fill-opacity="0.9"/>
<circle cx="307.9" cy="808.6" r="0.8" fill="#2b3f9c" fill-opacity="0.9"/>
<circle cx="312.6" cy="807.4" r="0.8" fill="#2b3f9c" fill-opacity="0.9"/>
<circle cx="303" cy="811.9" r="0.8" fill="#2b3f9c" fill-opacity="0.9"/>
<circle cx="327.6" cy="808.3" r="0.8" fill="#2b3f9c" fill-opacity="0.9"/>
<circle cx="316.2" cy="808.3" r="0.8" fill="#2b3f9c" fill-opacity="0.9"/>
<circle cx="324.1" cy="810.1" r="0.8" fill="#2b3f9c" fill-opacity="0.9"/>
<circle cx="323.1" cy="807.5" r="0.8" fill="#2b3f9c" fill-opacity="0.9"/>
<circle cx="318.9" cy="809.6" r="0.8" fill="#2b3f9c" fill-opacity="0.9"/>
<circle cx="330.1" cy="813.3" r="0.8" fill="#2b3f9c" fill-opacity="0.9"/>
<circle cx="330.6" cy="810.8" r="0.8" fill="#2b3f9c" fill-opacity="0.9"/>
<circle cx="331.2" cy="807.8" r="0.8" fill="#2b3f9c" fill-opacity="0.9"/>
<circle cx="346.5" cy="810" r="0.8" fill="#2b3f9c" fill-opacity="0.9"/>
<circle cx="335.8" cy="809.5" r="0.8" fill="#2b3f9c" fill-opacity="0.9"/>
<rect x="301.5" y="809.4" width="28.1" height="3.1" fill="#c3c7de" stroke="#2a2a2a" stroke-width="0.7"/>
<line x1="312.9" y1="809.4" x2="312.9" y2="812.5" stroke="#1a1a1a" stroke-width="0.9"/>
<line x1="232" y1="810.9" x2="234.7" y2="810.9" stroke="#262626" stroke-width="0.9"/>
<text x="230.3" y="813.9" font-size="8.1" fill="#4d4d4d" text-anchor="end">WW domain PF00397</text>
<text x="355.1" y="813.3" font-size="7.2" fill="#000">n=26</text>
<path d="M267,820.3 L268.2,820.3 L269.4,820.3 L270.6,820.3 L271.8,820.3 L272.9,820.3 L274.1,820.2 L275.3,820.2 L276.5,820.2 L277.7,820.1 L278.9,820.1 L280.1,820.1 L281.3,820 L282.5,820 L283.7,820 L284.8,819.9 L286,819.9 L287.2,819.9 L288.4,819.8 L289.6,819.8 L290.8,819.8 L292,819.8 L293.2,819.8 L294.4,819.7 L295.6,819.7 L296.7,819.7 L297.9,819.7 L299.1,819.7 L300.3,819.7 L301.5,819.7 L302.7,819.7 L303.9,819.7 L305.1,819.7 L306.3,819.7 L307.5,819.7 L308.6,819.7 L309.8,819.7 L311,819.7 L312.2,819.8 L313.4,819.8 L314.6,819.8 L315.8,819.8 L317,819.8 L318.2,819.8 L319.4,819.8 L320.5,819.8 L321.7,819.8 L322.9,819.8 L324.1,819.8 L325.3,819.8 L326.5,819.8 L327.7,819.8 L328.9,819.8 L330.1,819.8 L331.3,819.8 L332.4,819.9 L333.6,819.9 L334.8,819.9 L336,819.9 L337.2,820 L338.4,820 L339.6,820 L340.8,820 L342,820.1 L343.2,820.1 L344.3,820.1 L345.5,820.2 L346.7,820.2 L347.9,820.2 L349.1,820.3 L350.3,820.3 L351.5,820.3 L352.7,820.3 L353.9,820.3 L355.1,820.3 L356.2,820.3 L357.4,820.3 L358.6,820.3 L359.8,820.3 L361,820.3 L361,821 L359.8,821 L358.6,821 L357.4,821 L356.2,821 L355.1,821 L353.9,821 L352.7,821.1 L351.5,821.1 L350.3,821.1 L349.1,821.1 L347.9,821.2 L346.7,821.2 L345.5,821.2 L344.3,821.3 L343.2,821.3 L342,821.3 L340.8,821.4 L339.6,821.4 L338.4,821.4 L337.2,821.4 L336,821.5 L334.8,821.5 L333.6,821.5 L332.4,821.5 L331.3,821.6 L330.1,821.6 L328.9,821.6 L327.7,821.6 L326.5,821.6 L325.3,821.6 L324.1,821.6 L322.9,821.6 L321.7,821.6 L320.5,821.6 L319.4,821.6 L318.2,821.6 L317,821.6 L315.8,821.6 L314.6,821.6 L313.4,821.6 L312.2,821.6 L311,821.7 L309.8,821.7 L308.6,821.7 L307.5,821.7 L306.3,821.7 L305.1,821.7 L303.9,821.7 L302.7,821.7 L301.5,821.7 L300.3,821.7 L299.1,821.7 L297.9,821.7 L296.7,821.7 L295.6,821.7 L294.4,821.7 L293.2,821.6 L292,821.6 L290.8,821.6 L289.6,821.6 L288.4,821.6 L287.2,821.5 L286,821.5 L284.8,821.5 L283.7,821.4 L282.5,821.4 L281.3,821.4 L280.1,821.3 L278.9,821.3 L277.7,821.3 L276.5,821.2 L275.3,821.2 L274.1,821.2 L272.9,821.1 L271.8,821.1 L270.6,821.1 L269.4,821 L268.2,821 L267,821Z" fill="#7d8fcb" stroke="#243585" stroke-width="0.75" stroke-linejoin="round"/>
<line x1="267" y1="820.7" x2="294.8" y2="820.7" stroke="#3a2a22" stroke-width="0.7"/>
<line x1="333.3" y1="820.7" x2="361" y2="820.7" stroke="#3a2a22" stroke-width="0.7"/>
<circle cx="267" cy="823.1" r="0.8" fill="#2b3f9c" fill-opacity="0.9"/>
<circle cx="294.8" cy="822.2" r="0.8" fill="#2b3f9c" fill-opacity="0.9"/>
<circle cx="313.9" cy="818.4" r="0.8" fill="#2b3f9c" fill-opacity="0.9"/>
<circle cx="333.3" cy="821.8" r="0.8" fill="#2b3f9c" fill-opacity="0.9"/>
<circle cx="361" cy="819.6" r="0.8" fill="#2b3f9c" fill-opacity="0.9"/>
<circle cx="273.6" cy="818.4" r="0.8" fill="#2b3f9c" fill-opacity="0.9"/>
<circle cx="294.6" cy="821.5" r="0.8" fill="#2b3f9c" fill-opacity="0.9"/>
<circle cx="292.1" cy="823.1" r="0.8" fill="#2b3f9c" fill-opacity="0.9"/>
<circle cx="281.3" cy="820.5" r="0.8" fill="#2b3f9c" fill-opacity="0.9"/>
<circle cx="283.9" cy="822.8" r="0.8" fill="#2b3f9c" fill-opacity="0.9"/>
<circle cx="284.3" cy="819.8" r="0.8" fill="#2b3f9c" fill-opacity="0.9"/>
<circle cx="284.9" cy="824.1" r="0.8" fill="#2b3f9c" fill-opacity="0.9"/>
<circle cx="301.9" cy="823.3" r="0.8" fill="#2b3f9c" fill-opacity="0.9"/>
<circle cx="313.5" cy="818.3" r="0.8" fill="#2b3f9c" fill-opacity="0.9"/>
<circle cx="307.1" cy="824.2" r="0.8" fill="#2b3f9c" fill-opacity="0.9"/>
<circle cx="295.4" cy="822.7" r="0.8" fill="#2b3f9c" fill-opacity="0.9"/>
<circle cx="303.8" cy="818.3" r="0.8" fill="#2b3f9c" fill-opacity="0.9"/>
<circle cx="301.4" cy="817.4" r="0.8" fill="#2b3f9c" fill-opacity="0.9"/>
<circle cx="298.5" cy="822.7" r="0.8" fill="#2b3f9c" fill-opacity="0.9"/>
<circle cx="324.8" cy="823.5" r="0.8" fill="#2b3f9c" fill-opacity="0.9"/>
<circle cx="320.9" cy="819.2" r="0.8" fill="#2b3f9c" fill-opacity="0.9"/>
<circle cx="323.9" cy="819.2" r="0.8" fill="#2b3f9c" fill-opacity="0.9"/>
<circle cx="315.5" cy="824" r="0.8" fill="#2b3f9c" fill-opacity="0.9"/>
<circle cx="316.2" cy="822.5" r="0.8" fill="#2b3f9c" fill-opacity="0.9"/>
<circle cx="330.9" cy="816.9" r="0.8" fill="#2b3f9c" fill-opacity="0.9"/>
<circle cx="334.3" cy="817.5" r="0.8" fill="#2b3f9c" fill-opacity="0.9"/>
<circle cx="334.7" cy="820.4" r="0.8" fill="#2b3f9c" fill-opacity="0.9"/>
<circle cx="339.5" cy="823.3" r="0.8" fill="#2b3f9c" fill-opacity="0.9"/>
<circle cx="335.4" cy="820.5" r="0.8" fill="#2b3f9c" fill-opacity="0.9"/>
<circle cx="356.2" cy="821.2" r="0.8" fill="#2b3f9c" fill-opacity="0.9"/>
<circle cx="345.2" cy="821.8" r="0.8" fill="#2b3f9c" fill-opacity="0.9"/>
<rect x="294.8" y="819.1" width="38.5" height="3.1" fill="#c3c7de" stroke="#2a2a2a" stroke-width="0.7"/>
<line x1="313.9" y1="819.1" x2="313.9" y2="822.2" stroke="#1a1a1a" stroke-width="0.9"/>
<line x1="232" y1="820.7" x2="234.7" y2="820.7" stroke="#262626" stroke-width="0.9"/>
<text x="230.3" y="823.7" font-size="8.1" fill="#4d4d4d" text-anchor="end">PDZ domain PF00595</text>
<text x="367.5" y="823.1" font-size="7.2" fill="#000">n=31</text>
<path d="M284.9,829.6 L285.6,829.6 L286.4,829.5 L287.1,829.5 L287.8,829.5 L288.6,829.5 L289.3,829.4 L290,829.4 L290.8,829.4 L291.5,829.4 L292.2,829.4 L292.9,829.3 L293.7,829.3 L294.4,829.3 L295.1,829.3 L295.9,829.3 L296.6,829.3 L297.3,829.3 L298.1,829.3 L298.8,829.3 L299.5,829.3 L300.3,829.3 L301,829.3 L301.7,829.3 L302.5,829.3 L303.2,829.3 L303.9,829.3 L304.7,829.3 L305.4,829.3 L306.1,829.3 L306.8,829.3 L307.6,829.3 L308.3,829.3 L309,829.3 L309.8,829.3 L310.5,829.3 L311.2,829.3 L312,829.3 L312.7,829.3 L313.4,829.3 L314.2,829.3 L314.9,829.3 L315.6,829.3 L316.4,829.3 L317.1,829.3 L317.8,829.3 L318.6,829.4 L319.3,829.4 L320,829.4 L320.8,829.4 L321.5,829.4 L322.2,829.4 L322.9,829.4 L323.7,829.4 L324.4,829.4 L325.1,829.4 L325.9,829.5 L326.6,829.5 L327.3,829.5 L328.1,829.5 L328.8,829.5 L329.5,829.6 L330.3,829.6 L331,829.6 L331.7,829.6 L332.5,829.7 L333.2,829.7 L333.9,829.7 L334.7,829.7 L335.4,829.7 L336.1,829.8 L336.8,829.8 L337.6,829.8 L338.3,829.8 L339,829.9 L339.8,829.9 L340.5,829.9 L341.2,829.9 L342,829.9 L342.7,830 L342.7,831 L342,831 L341.2,831 L340.5,831 L339.8,831.1 L339,831.1 L338.3,831.1 L337.6,831.1 L336.8,831.1 L336.1,831.2 L335.4,831.2 L334.7,831.2 L333.9,831.2 L333.2,831.3 L332.5,831.3 L331.7,831.3 L331,831.3 L330.3,831.4 L329.5,831.4 L328.8,831.4 L328.1,831.4 L327.3,831.4 L326.6,831.5 L325.9,831.5 L325.1,831.5 L324.4,831.5 L323.7,831.5 L322.9,831.5 L322.2,831.5 L321.5,831.6 L320.8,831.6 L320,831.6 L319.3,831.6 L318.6,831.6 L317.8,831.6 L317.1,831.6 L316.4,831.6 L315.6,831.6 L314.9,831.6 L314.2,831.6 L313.4,831.6 L312.7,831.6 L312,831.6 L311.2,831.6 L310.5,831.6 L309.8,831.6 L309,831.6 L308.3,831.6 L307.6,831.6 L306.8,831.6 L306.1,831.6 L305.4,831.6 L304.7,831.6 L303.9,831.6 L303.2,831.6 L302.5,831.6 L301.7,831.7 L301,831.7 L300.3,831.7 L299.5,831.7 L298.8,831.7 L298.1,831.7 L297.3,831.7 L296.6,831.7 L295.9,831.6 L295.1,831.6 L294.4,831.6 L293.7,831.6 L292.9,831.6 L292.2,831.6 L291.5,831.6 L290.8,831.6 L290,831.5 L289.3,831.5 L288.6,831.5 L287.8,831.5 L287.1,831.4 L286.4,831.4 L285.6,831.4 L284.9,831.3Z" fill="#f2cf8d" stroke="#c99a3c" stroke-width="0.75" stroke-linejoin="round"/>
<line x1="284.9" y1="830.5" x2="297.3" y2="830.5" stroke="#3a2a22" stroke-width="0.7"/>
<line x1="324.6" y1="830.5" x2="342.7" y2="830.5" stroke="#3a2a22" stroke-width="0.7"/>
<circle cx="284.9" cy="831.7" r="0.8" fill="#e0a93e" fill-opacity="0.9"/>
<circle cx="297.3" cy="833.6" r="0.8" fill="#e0a93e" fill-opacity="0.9"/>
<circle cx="315.9" cy="830.3" r="0.8" fill="#e0a93e" fill-opacity="0.9"/>
<circle cx="324.6" cy="832.2" r="0.8" fill="#e0a93e" fill-opacity="0.9"/>
<circle cx="342.7" cy="830.9" r="0.8" fill="#e0a93e" fill-opacity="0.9"/>
<circle cx="291.6" cy="833.5" r="0.8" fill="#e0a93e" fill-opacity="0.9"/>
<circle cx="302.8" cy="831.9" r="0.8" fill="#e0a93e" fill-opacity="0.9"/>
<circle cx="323.1" cy="828.1" r="0.8" fill="#e0a93e" fill-opacity="0.9"/>
<rect x="297.3" y="828.9" width="27.3" height="3.1" fill="#e8d8b5" stroke="#2a2a2a" stroke-width="0.7"/>
<line x1="315.9" y1="828.9" x2="315.9" y2="832" stroke="#1a1a1a" stroke-width="0.9"/>
<line x1="232" y1="830.5" x2="234.7" y2="830.5" stroke="#262626" stroke-width="0.9"/>
<text x="230.3" y="833.5" font-size="8.1" fill="#4d4d4d" text-anchor="end">Zinc finger, LIM−type PF00412</text>
<text x="348.7" y="832.9" font-size="7.2" fill="#000">n=8</text>
<path d="M270,839.9 L271.2,839.9 L272.4,839.9 L273.6,839.9 L274.8,839.9 L276,839.9 L277.3,839.9 L278.5,839.8 L279.7,839.8 L280.9,839.8 L282.1,839.8 L283.3,839.8 L284.5,839.9 L285.7,839.9 L286.9,839.9 L288.1,839.9 L289.3,839.9 L290.6,839.9 L291.8,839.9 L293,839.8 L294.2,839.8 L295.4,839.7 L296.6,839.6 L297.8,839.6 L299,839.5 L300.2,839.4 L301.4,839.3 L302.6,839.2 L303.8,839 L305.1,838.9 L306.3,838.8 L307.5,838.8 L308.7,838.7 L309.9,838.6 L311.1,838.5 L312.3,838.5 L313.5,838.5 L314.7,838.4 L315.9,838.4 L317.1,838.5 L318.4,838.5 L319.6,838.5 L320.8,838.6 L322,838.7 L323.2,838.8 L324.4,838.8 L325.6,838.9 L326.8,839 L328,839.2 L329.2,839.3 L330.4,839.4 L331.7,839.5 L332.9,839.6 L334.1,839.7 L335.3,839.8 L336.5,839.9 L337.7,839.9 L338.9,839.9 L340.1,839.9 L341.3,839.9 L342.5,839.9 L343.7,839.9 L344.9,839.9 L346.2,839.9 L347.4,839.9 L348.6,839.9 L349.8,839.9 L351,839.8 L352.2,839.8 L353.4,839.8 L354.6,839.7 L355.8,839.7 L357,839.7 L358.2,839.8 L359.5,839.8 L360.7,839.8 L361.9,839.9 L363.1,839.9 L364.3,839.9 L365.5,839.9 L365.5,840.6 L364.3,840.6 L363.1,840.6 L361.9,840.6 L360.7,840.7 L359.5,840.7 L358.2,840.7 L357,840.7 L355.8,840.8 L354.6,840.7 L353.4,840.7 L352.2,840.7 L351,840.7 L349.8,840.6 L348.6,840.6 L347.4,840.6 L346.2,840.6 L344.9,840.6 L343.7,840.6 L342.5,840.6 L341.3,840.6 L340.1,840.6 L338.9,840.6 L337.7,840.6 L336.5,840.6 L335.3,840.7 L334.1,840.8 L332.9,840.9 L331.7,841 L330.4,841.1 L329.2,841.2 L328,841.3 L326.8,841.4 L325.6,841.5 L324.4,841.6 L323.2,841.7 L322,841.8 L320.8,841.9 L319.6,841.9 L318.4,842 L317.1,842 L315.9,842 L314.7,842 L313.5,842 L312.3,842 L311.1,841.9 L309.9,841.9 L308.7,841.8 L307.5,841.7 L306.3,841.6 L305.1,841.5 L303.8,841.4 L302.6,841.3 L301.4,841.2 L300.2,841.1 L299,841 L297.8,840.9 L296.6,840.8 L295.4,840.8 L294.2,840.7 L293,840.7 L291.8,840.6 L290.6,840.6 L289.3,840.6 L288.1,840.6 L286.9,840.6 L285.7,840.6 L284.5,840.6 L283.3,840.6 L282.1,840.6 L280.9,840.6 L279.7,840.6 L278.5,840.6 L277.3,840.6 L276,840.6 L274.8,840.6 L273.6,840.6 L272.4,840.6 L271.2,840.6 L270,840.6Z" fill="#7d8fcb" stroke="#243585" stroke-width="0.75" stroke-linejoin="round"/>
<line x1="280" y1="840.2" x2="306" y2="840.2" stroke="#3a2a22" stroke-width="0.7"/>
<line x1="327.1" y1="840.2" x2="356.5" y2="840.2" stroke="#3a2a22" stroke-width="0.7"/>
<circle cx="270" cy="838.8" r="0.8" fill="#2b3f9c" fill-opacity="0.9"/>
<circle cx="306" cy="840.1" r="0.8" fill="#2b3f9c" fill-opacity="0.9"/>
<circle cx="315.9" cy="838.5" r="0.8" fill="#2b3f9c" fill-opacity="0.9"/>
<circle cx="327.1" cy="838.4" r="0.8" fill="#2b3f9c" fill-opacity="0.9"/>
<circle cx="365.5" cy="840.8" r="0.8" fill="#2b3f9c" fill-opacity="0.9"/>
<circle cx="280" cy="837.9" r="0.8" fill="#2b3f9c" fill-opacity="0.9"/>
<circle cx="304.1" cy="838.1" r="0.8" fill="#2b3f9c" fill-opacity="0.9"/>
<circle cx="299.1" cy="840.1" r="0.8" fill="#2b3f9c" fill-opacity="0.9"/>
<circle cx="303.5" cy="841.4" r="0.8" fill="#2b3f9c" fill-opacity="0.9"/>
<circle cx="280.2" cy="842.4" r="0.8" fill="#2b3f9c" fill-opacity="0.9"/>
<circle cx="294.7" cy="841.5" r="0.8" fill="#2b3f9c" fill-opacity="0.9"/>
<circle cx="282.8" cy="843.8" r="0.8" fill="#2b3f9c" fill-opacity="0.9"/>
<circle cx="305.6" cy="842.6" r="0.8" fill="#2b3f9c" fill-opacity="0.9"/>
<circle cx="315" cy="841.5" r="0.8" fill="#2b3f9c" fill-opacity="0.9"/>
<circle cx="315.2" cy="840" r="0.8" fill="#2b3f9c" fill-opacity="0.9"/>
<circle cx="306.3" cy="836.6" r="0.8" fill="#2b3f9c" fill-opacity="0.9"/>
<circle cx="312.3" cy="840.2" r="0.8" fill="#2b3f9c" fill-opacity="0.9"/>
<circle cx="312.3" cy="839.8" r="0.8" fill="#2b3f9c" fill-opacity="0.9"/>
<circle cx="307.4" cy="843.1" r="0.8" fill="#2b3f9c" fill-opacity="0.9"/>
<circle cx="314.4" cy="840.8" r="0.8" fill="#2b3f9c" fill-opacity="0.9"/>
<circle cx="311" cy="838.7" r="0.8" fill="#2b3f9c" fill-opacity="0.9"/>
<circle cx="318.7" cy="842.9" r="0.8" fill="#2b3f9c" fill-opacity="0.9"/>
<circle cx="322.4" cy="837.3" r="0.8" fill="#2b3f9c" fill-opacity="0.9"/>
<circle cx="317" cy="838.7" r="0.8" fill="#2b3f9c" fill-opacity="0.9"/>
<circle cx="316.8" cy="836.5" r="0.8" fill="#2b3f9c" fill-opacity="0.9"/>
<circle cx="322.8" cy="836.5" r="0.8" fill="#2b3f9c" fill-opacity="0.9"/>
<circle cx="322.4" cy="843.6" r="0.8" fill="#2b3f9c" fill-opacity="0.9"/>
<circle cx="319.8" cy="838.9" r="0.8" fill="#2b3f9c" fill-opacity="0.9"/>
<circle cx="326" cy="842.5" r="0.8" fill="#2b3f9c" fill-opacity="0.9"/>
<circle cx="331.8" cy="839.4" r="0.8" fill="#2b3f9c" fill-opacity="0.9"/>
<circle cx="355.3" cy="842.6" r="0.8" fill="#2b3f9c" fill-opacity="0.9"/>
<circle cx="331.6" cy="840.5" r="0.8" fill="#2b3f9c" fill-opacity="0.9"/>
<circle cx="355" cy="836.8" r="0.8" fill="#2b3f9c" fill-opacity="0.9"/>
<circle cx="327.2" cy="837" r="0.8" fill="#2b3f9c" fill-opacity="0.9"/>
<circle cx="352.8" cy="837.3" r="0.8" fill="#2b3f9c" fill-opacity="0.9"/>
<circle cx="356.5" cy="839.4" r="0.8" fill="#2b3f9c" fill-opacity="0.9"/>
<rect x="306" y="838.7" width="21.1" height="3.1" fill="#c3c7de" stroke="#2a2a2a" stroke-width="0.7"/>
<line x1="315.9" y1="838.7" x2="315.9" y2="841.8" stroke="#1a1a1a" stroke-width="0.9"/>
<line x1="232" y1="840.2" x2="234.7" y2="840.2" stroke="#262626" stroke-width="0.9"/>
<text x="230.3" y="843.2" font-size="8.1" fill="#4d4d4d" text-anchor="end">SH3 domain PF00018</text>
<text x="371.7" y="842.6" font-size="7.2" fill="#000">n=36</text>
<path d="M284.9,849.3 L285.8,849.3 L286.6,849.3 L287.5,849.2 L288.4,849.2 L289.2,849.2 L290.1,849.2 L290.9,849.1 L291.8,849.1 L292.7,849.1 L293.5,849.1 L294.4,849.1 L295.3,849.1 L296.1,849.1 L297,849 L297.8,849 L298.7,849 L299.6,849 L300.4,849 L301.3,849 L302.2,849 L303,849 L303.9,849 L304.8,849 L305.6,849 L306.5,849 L307.3,849 L308.2,849 L309.1,849 L309.9,849 L310.8,849 L311.7,849 L312.5,849 L313.4,849 L314.3,849 L315.1,849 L316,849.1 L316.8,849.1 L317.7,849.1 L318.6,849.1 L319.4,849.1 L320.3,849.1 L321.2,849.1 L322,849.1 L322.9,849.1 L323.7,849.1 L324.6,849.1 L325.5,849.1 L326.3,849.1 L327.2,849.1 L328.1,849.1 L328.9,849.1 L329.8,849.1 L330.7,849.1 L331.5,849.1 L332.4,849.1 L333.2,849.1 L334.1,849.1 L335,849.1 L335.8,849.2 L336.7,849.2 L337.6,849.2 L338.4,849.2 L339.3,849.2 L340.2,849.2 L341,849.2 L341.9,849.3 L342.7,849.3 L343.6,849.3 L344.5,849.3 L345.3,849.3 L346.2,849.4 L347.1,849.4 L347.9,849.4 L348.8,849.4 L349.6,849.4 L350.5,849.5 L351.4,849.5 L352.2,849.5 L353.1,849.5 L353.1,850.5 L352.2,850.5 L351.4,850.5 L350.5,850.6 L349.6,850.6 L348.8,850.6 L347.9,850.6 L347.1,850.6 L346.2,850.7 L345.3,850.7 L344.5,850.7 L343.6,850.7 L342.7,850.7 L341.9,850.8 L341,850.8 L340.2,850.8 L339.3,850.8 L338.4,850.8 L337.6,850.8 L336.7,850.9 L335.8,850.9 L335,850.9 L334.1,850.9 L333.2,850.9 L332.4,850.9 L331.5,850.9 L330.7,850.9 L329.8,850.9 L328.9,850.9 L328.1,850.9 L327.2,850.9 L326.3,851 L325.5,851 L324.6,851 L323.7,851 L322.9,851 L322,851 L321.2,851 L320.3,851 L319.4,851 L318.6,851 L317.7,851 L316.8,851 L316,851 L315.1,851 L314.3,851 L313.4,851 L312.5,851 L311.7,851 L310.8,851 L309.9,851 L309.1,851 L308.2,851 L307.3,851 L306.5,851 L305.6,851 L304.8,851 L303.9,851 L303,851 L302.2,851 L301.3,851 L300.4,851 L299.6,851 L298.7,851 L297.8,851 L297,851 L296.1,851 L295.3,851 L294.4,850.9 L293.5,850.9 L292.7,850.9 L291.8,850.9 L290.9,850.9 L290.1,850.9 L289.2,850.8 L288.4,850.8 L287.5,850.8 L286.6,850.8 L285.8,850.7 L284.9,850.7Z" fill="#f2cf8d" stroke="#c99a3c" stroke-width="0.75" stroke-linejoin="round"/>
<line x1="284.9" y1="850" x2="301" y2="850" stroke="#3a2a22" stroke-width="0.7"/>
<line x1="335.3" y1="850" x2="353.1" y2="850" stroke="#3a2a22" stroke-width="0.7"/>
<circle cx="284.9" cy="848.3" r="0.8" fill="#e0a93e" fill-opacity="0.9"/>
<circle cx="301" cy="852.6" r="0.8" fill="#e0a93e" fill-opacity="0.9"/>
<circle cx="318.4" cy="853.6" r="0.8" fill="#e0a93e" fill-opacity="0.9"/>
<circle cx="335.3" cy="851.9" r="0.8" fill="#e0a93e" fill-opacity="0.9"/>
<circle cx="353.1" cy="847.1" r="0.8" fill="#e0a93e" fill-opacity="0.9"/>
<circle cx="292.6" cy="851.6" r="0.8" fill="#e0a93e" fill-opacity="0.9"/>
<circle cx="301.9" cy="850.8" r="0.8" fill="#e0a93e" fill-opacity="0.9"/>
<circle cx="322.1" cy="853.5" r="0.8" fill="#e0a93e" fill-opacity="0.9"/>
<circle cx="336.3" cy="847" r="0.8" fill="#e0a93e" fill-opacity="0.9"/>
<rect x="301" y="848.5" width="34.3" height="3.1" fill="#e8d8b5" stroke="#2a2a2a" stroke-width="0.7"/>
<line x1="318.4" y1="848.5" x2="318.4" y2="851.6" stroke="#1a1a1a" stroke-width="0.9"/>
<line x1="232" y1="850" x2="234.7" y2="850" stroke="#262626" stroke-width="0.9"/>
<text x="230.3" y="853" font-size="8.1" fill="#4d4d4d" text-anchor="end">B−box−type zinc finger PF00643</text>
<text x="364.3" y="852.4" font-size="7.2" fill="#000">n=9</text>
<path d="M300.5,858.8 L301.2,858.8 L302,858.8 L302.7,858.8 L303.4,858.7 L304.1,858.7 L304.9,858.7 L305.6,858.7 L306.3,858.7 L307.1,858.6 L307.8,858.6 L308.5,858.6 L309.2,858.6 L310,858.6 L310.7,858.6 L311.4,858.6 L312.2,858.6 L312.9,858.6 L313.6,858.6 L314.4,858.6 L315.1,858.6 L315.8,858.6 L316.5,858.6 L317.3,858.7 L318,858.7 L318.7,858.7 L319.5,858.7 L320.2,858.7 L320.9,858.7 L321.6,858.7 L322.4,858.8 L323.1,858.8 L323.8,858.8 L324.6,858.8 L325.3,858.8 L326,858.8 L326.7,858.8 L327.5,858.9 L328.2,858.9 L328.9,858.9 L329.7,858.9 L330.4,858.9 L331.1,858.9 L331.9,858.9 L332.6,858.9 L333.3,858.9 L334,858.9 L334.8,858.9 L335.5,858.9 L336.2,858.9 L337,858.9 L337.7,858.9 L338.4,858.9 L339.1,858.9 L339.9,858.9 L340.6,858.9 L341.3,858.9 L342.1,858.9 L342.8,858.9 L343.5,858.9 L344.2,858.9 L345,858.9 L345.7,858.9 L346.4,858.9 L347.2,858.9 L347.9,859 L348.6,859 L349.4,859 L350.1,859 L350.8,859 L351.5,859 L352.3,859 L353,859 L353.7,859 L354.5,859.1 L355.2,859.1 L355.9,859.1 L356.6,859.1 L357.4,859.1 L358.1,859.2 L358.1,860.4 L357.4,860.4 L356.6,860.4 L355.9,860.5 L355.2,860.5 L354.5,860.5 L353.7,860.5 L353,860.5 L352.3,860.5 L351.5,860.6 L350.8,860.6 L350.1,860.6 L349.4,860.6 L348.6,860.6 L347.9,860.6 L347.2,860.6 L346.4,860.6 L345.7,860.6 L345,860.6 L344.2,860.6 L343.5,860.6 L342.8,860.6 L342.1,860.6 L341.3,860.6 L340.6,860.6 L339.9,860.6 L339.1,860.6 L338.4,860.6 L337.7,860.6 L337,860.6 L336.2,860.6 L335.5,860.6 L334.8,860.6 L334,860.6 L333.3,860.6 L332.6,860.6 L331.9,860.6 L331.1,860.7 L330.4,860.7 L329.7,860.7 L328.9,860.7 L328.2,860.7 L327.5,860.7 L326.7,860.7 L326,860.7 L325.3,860.7 L324.6,860.8 L323.8,860.8 L323.1,860.8 L322.4,860.8 L321.6,860.8 L320.9,860.8 L320.2,860.9 L319.5,860.9 L318.7,860.9 L318,860.9 L317.3,860.9 L316.5,860.9 L315.8,860.9 L315.1,860.9 L314.4,860.9 L313.6,860.9 L312.9,861 L312.2,861 L311.4,861 L310.7,861 L310,860.9 L309.2,860.9 L308.5,860.9 L307.8,860.9 L307.1,860.9 L306.3,860.9 L305.6,860.9 L304.9,860.9 L304.1,860.8 L303.4,860.8 L302.7,860.8 L302,860.8 L301.2,860.8 L300.5,860.7Z" fill="#f2cf8d" stroke="#c99a3c" stroke-width="0.75" stroke-linejoin="round"/>
<line x1="300.5" y1="859.8" x2="309.7" y2="859.8" stroke="#3a2a22" stroke-width="0.7"/>
<line x1="345.2" y1="859.8" x2="358.1" y2="859.8" stroke="#3a2a22" stroke-width="0.7"/>
<circle cx="300.5" cy="857.8" r="0.8" fill="#e0a93e" fill-opacity="0.9"/>
<circle cx="309.7" cy="860.6" r="0.8" fill="#e0a93e" fill-opacity="0.9"/>
<circle cx="322.1" cy="860.2" r="0.8" fill="#e0a93e" fill-opacity="0.9"/>
<circle cx="345.2" cy="858.3" r="0.8" fill="#e0a93e" fill-opacity="0.9"/>
<circle cx="358.1" cy="860.3" r="0.8" fill="#e0a93e" fill-opacity="0.9"/>
<circle cx="303.6" cy="862.3" r="0.8" fill="#e0a93e" fill-opacity="0.9"/>
<circle cx="319.4" cy="856.2" r="0.8" fill="#e0a93e" fill-opacity="0.9"/>
<circle cx="344.5" cy="862.1" r="0.8" fill="#e0a93e" fill-opacity="0.9"/>
<rect x="309.7" y="858.2" width="35.5" height="3.1" fill="#e8d8b5" stroke="#2a2a2a" stroke-width="0.7"/>
<line x1="322.1" y1="858.2" x2="322.1" y2="861.3" stroke="#1a1a1a" stroke-width="0.9"/>
<line x1="232" y1="859.8" x2="234.7" y2="859.8" stroke="#262626" stroke-width="0.9"/>
<text x="230.3" y="862.8" font-size="8.1" fill="#4d4d4d" text-anchor="end">Zinc finger, MYM−type PF06467</text>
<text x="364.3" y="862.2" font-size="7.2" fill="#000">n=8</text>
<path d="M306,868.2 L306.4,868.2 L306.8,868.3 L307.1,868.3 L307.5,868.3 L307.9,868.3 L308.3,868.4 L308.6,868.4 L309,868.5 L309.4,868.5 L309.8,868.5 L310.1,868.6 L310.5,868.6 L310.9,868.7 L311.3,868.7 L311.7,868.7 L312,868.7 L312.4,868.8 L312.8,868.8 L313.2,868.7 L313.5,868.7 L313.9,868.7 L314.3,868.6 L314.7,868.6 L315.1,868.5 L315.4,868.4 L315.8,868.3 L316.2,868.2 L316.6,868.1 L316.9,868 L317.3,867.9 L317.7,867.8 L318.1,867.7 L318.4,867.6 L318.8,867.5 L319.2,867.3 L319.6,867.2 L320,867.1 L320.3,867.1 L320.7,867 L321.1,866.9 L321.5,866.8 L321.8,866.8 L322.2,866.7 L322.6,866.7 L323,866.7 L323.4,866.7 L323.7,866.7 L324.1,866.7 L324.5,866.7 L324.9,866.7 L325.2,866.7 L325.6,866.8 L326,866.8 L326.4,866.8 L326.7,866.9 L327.1,866.9 L327.5,866.9 L327.9,867 L328.3,867 L328.6,867 L329,867 L329.4,867.1 L329.8,867.1 L330.1,867.1 L330.5,867.2 L330.9,867.2 L331.3,867.2 L331.7,867.2 L332,867.3 L332.4,867.3 L332.8,867.3 L333.2,867.4 L333.5,867.4 L333.9,867.4 L334.3,867.5 L334.7,867.5 L335,867.6 L335.4,867.7 L335.8,867.7 L335.8,871.4 L335.4,871.4 L335,871.5 L334.7,871.6 L334.3,871.6 L333.9,871.7 L333.5,871.7 L333.2,871.7 L332.8,871.8 L332.4,871.8 L332,871.8 L331.7,871.9 L331.3,871.9 L330.9,871.9 L330.5,871.9 L330.1,872 L329.8,872 L329.4,872 L329,872.1 L328.6,872.1 L328.3,872.1 L327.9,872.1 L327.5,872.2 L327.1,872.2 L326.7,872.2 L326.4,872.3 L326,872.3 L325.6,872.3 L325.2,872.4 L324.9,872.4 L324.5,872.4 L324.1,872.4 L323.7,872.4 L323.4,872.4 L323,872.4 L322.6,872.4 L322.2,872.4 L321.8,872.3 L321.5,872.3 L321.1,872.2 L320.7,872.1 L320.3,872 L320,872 L319.6,871.9 L319.2,871.8 L318.8,871.6 L318.4,871.5 L318.1,871.4 L317.7,871.3 L317.3,871.2 L316.9,871.1 L316.6,871 L316.2,870.9 L315.8,870.8 L315.4,870.7 L315.1,870.6 L314.7,870.5 L314.3,870.5 L313.9,870.4 L313.5,870.4 L313.2,870.4 L312.8,870.3 L312.4,870.3 L312,870.4 L311.7,870.4 L311.3,870.4 L310.9,870.4 L310.5,870.5 L310.1,870.5 L309.8,870.6 L309.4,870.6 L309,870.6 L308.6,870.7 L308.3,870.7 L307.9,870.8 L307.5,870.8 L307.1,870.8 L306.8,870.8 L306.4,870.9 L306,870.9Z" fill="#ee7880" stroke="#bf1f2b" stroke-width="0.75" stroke-linejoin="round"/>
<line x1="320.4" y1="869.5" x2="320.4" y2="869.5" stroke="#3a2a22" stroke-width="0.7"/>
<line x1="329.6" y1="869.5" x2="335.8" y2="869.5" stroke="#3a2a22" stroke-width="0.7"/>
<circle cx="306" cy="869.3" r="0.8" fill="#d9262f" fill-opacity="0.9"/>
<circle cx="320.4" cy="868.6" r="0.8" fill="#d9262f" fill-opacity="0.9"/>
<circle cx="323.4" cy="870.7" r="0.8" fill="#d9262f" fill-opacity="0.9"/>
<circle cx="329.6" cy="870.6" r="0.8" fill="#d9262f" fill-opacity="0.9"/>
<circle cx="335.8" cy="867.2" r="0.8" fill="#d9262f" fill-opacity="0.9"/>
<rect x="320.4" y="868" width="9.2" height="3.1" fill="#e3c6bf" stroke="#2a2a2a" stroke-width="0.7"/>
<line x1="323.4" y1="868" x2="323.4" y2="871.1" stroke="#1a1a1a" stroke-width="0.9"/>
<line x1="232" y1="869.5" x2="234.7" y2="869.5" stroke="#262626" stroke-width="0.9"/>
<text x="230.3" y="872.5" font-size="8.1" fill="#4d4d4d" text-anchor="end">Sterile alpha motif domain PF07647</text>
<text x="343.2" y="871.9" font-size="7.2" fill="#000">n=5</text>
<path d="M302.3,878.5 L303.3,878.5 L304.3,878.5 L305.3,878.4 L306.3,878.4 L307.3,878.4 L308.3,878.4 L309.3,878.4 L310.3,878.4 L311.3,878.4 L312.4,878.4 L313.4,878.4 L314.4,878.4 L315.4,878.4 L316.4,878.4 L317.4,878.4 L318.4,878.4 L319.4,878.4 L320.4,878.4 L321.4,878.4 L322.4,878.4 L323.4,878.4 L324.4,878.4 L325.4,878.4 L326.4,878.5 L327.4,878.5 L328.4,878.5 L329.4,878.5 L330.4,878.5 L331.4,878.5 L332.5,878.5 L333.5,878.5 L334.5,878.5 L335.5,878.6 L336.5,878.6 L337.5,878.6 L338.5,878.6 L339.5,878.6 L340.5,878.6 L341.5,878.6 L342.5,878.6 L343.5,878.6 L344.5,878.6 L345.5,878.7 L346.5,878.7 L347.5,878.7 L348.5,878.7 L349.5,878.7 L350.5,878.7 L351.5,878.7 L352.6,878.7 L353.6,878.7 L354.6,878.8 L355.6,878.8 L356.6,878.8 L357.6,878.8 L358.6,878.8 L359.6,878.8 L360.6,878.8 L361.6,878.8 L362.6,878.8 L363.6,878.8 L364.6,878.9 L365.6,878.9 L366.6,878.9 L367.6,878.9 L368.6,878.9 L369.6,878.9 L370.6,878.9 L371.6,878.9 L372.7,878.9 L373.7,878.9 L374.7,878.9 L375.7,878.9 L376.7,878.9 L377.7,878.9 L378.7,878.9 L379.7,878.9 L380.7,879 L381.7,879 L381.7,879.7 L380.7,879.7 L379.7,879.7 L378.7,879.7 L377.7,879.7 L376.7,879.7 L375.7,879.7 L374.7,879.7 L373.7,879.7 L372.7,879.7 L371.6,879.7 L370.6,879.7 L369.6,879.7 L368.6,879.8 L367.6,879.8 L366.6,879.8 L365.6,879.8 L364.6,879.8 L363.6,879.8 L362.6,879.8 L361.6,879.8 L360.6,879.8 L359.6,879.8 L358.6,879.8 L357.6,879.9 L356.6,879.9 L355.6,879.9 L354.6,879.9 L353.6,879.9 L352.6,879.9 L351.5,879.9 L350.5,879.9 L349.5,879.9 L348.5,880 L347.5,880 L346.5,880 L345.5,880 L344.5,880 L343.5,880 L342.5,880 L341.5,880 L340.5,880 L339.5,880 L338.5,880.1 L337.5,880.1 L336.5,880.1 L335.5,880.1 L334.5,880.1 L333.5,880.1 L332.5,880.1 L331.4,880.1 L330.4,880.1 L329.4,880.1 L328.4,880.2 L327.4,880.2 L326.4,880.2 L325.4,880.2 L324.4,880.2 L323.4,880.2 L322.4,880.2 L321.4,880.2 L320.4,880.2 L319.4,880.3 L318.4,880.3 L317.4,880.3 L316.4,880.3 L315.4,880.3 L314.4,880.3 L313.4,880.3 L312.4,880.3 L311.3,880.3 L310.3,880.3 L309.3,880.3 L308.3,880.2 L307.3,880.2 L306.3,880.2 L305.3,880.2 L304.3,880.2 L303.3,880.2 L302.3,880.1Z" fill="#ee7880" stroke="#bf1f2b" stroke-width="0.75" stroke-linejoin="round"/>
<line x1="302.3" y1="879.3" x2="313.4" y2="879.3" stroke="#3a2a22" stroke-width="0.7"/>
<line x1="351.1" y1="879.3" x2="381.7" y2="879.3" stroke="#3a2a22" stroke-width="0.7"/>
<circle cx="302.3" cy="875.9" r="0.8" fill="#d9262f" fill-opacity="0.9"/>
<circle cx="313.4" cy="879.5" r="0.8" fill="#d9262f" fill-opacity="0.9"/>
<circle cx="337.7" cy="882.1" r="0.8" fill="#d9262f" fill-opacity="0.9"/>
<circle cx="351.1" cy="882.6" r="0.8" fill="#d9262f" fill-opacity="0.9"/>
<circle cx="381.7" cy="878.9" r="0.8" fill="#d9262f" fill-opacity="0.9"/>
<circle cx="313.4" cy="880.7" r="0.8" fill="#d9262f" fill-opacity="0.9"/>
<rect x="313.4" y="877.8" width="37.7" height="3.1" fill="#e3c6bf" stroke="#2a2a2a" stroke-width="0.7"/>
<line x1="337.7" y1="877.8" x2="337.7" y2="880.9" stroke="#1a1a1a" stroke-width="0.9"/>
<line x1="232" y1="879.3" x2="234.7" y2="879.3" stroke="#262626" stroke-width="0.9"/>
<text x="230.3" y="882.3" font-size="8.1" fill="#4d4d4d" text-anchor="end">Pointed domain PF02198</text>
<text x="385.9" y="881.7" font-size="7.2" fill="#000">n=6</text>
<path d="M309.7,888.7 L310.7,888.7 L311.8,888.7 L312.8,888.7 L313.8,888.7 L314.8,888.7 L315.9,888.7 L316.9,888.7 L317.9,888.7 L319,888.7 L320,888.7 L321,888.7 L322,888.7 L323.1,888.6 L324.1,888.5 L325.1,888.4 L326.1,888.3 L327.2,888.2 L328.2,888.1 L329.2,888 L330.3,887.8 L331.3,887.7 L332.3,887.6 L333.3,887.5 L334.4,887.4 L335.4,887.4 L336.4,887.3 L337.5,887.3 L338.5,887.3 L339.5,887.3 L340.5,887.3 L341.6,887.3 L342.6,887.3 L343.6,887.3 L344.6,887.3 L345.7,887.4 L346.7,887.4 L347.7,887.4 L348.8,887.5 L349.8,887.6 L350.8,887.6 L351.8,887.7 L352.9,887.8 L353.9,887.9 L354.9,888 L356,888.1 L357,888.2 L358,888.3 L359,888.3 L360.1,888.4 L361.1,888.5 L362.1,888.5 L363.1,888.5 L364.2,888.6 L365.2,888.6 L366.2,888.6 L367.3,888.6 L368.3,888.6 L369.3,888.7 L370.3,888.7 L371.4,888.7 L372.4,888.7 L373.4,888.7 L374.5,888.7 L375.5,888.7 L376.5,888.7 L377.5,888.7 L378.6,888.7 L379.6,888.7 L380.6,888.7 L381.6,888.7 L382.7,888.7 L383.7,888.7 L384.7,888.7 L385.8,888.7 L386.8,888.7 L387.8,888.7 L388.8,888.7 L389.9,888.7 L390.9,888.7 L390.9,889.5 L389.9,889.5 L388.8,889.4 L387.8,889.4 L386.8,889.4 L385.8,889.4 L384.7,889.4 L383.7,889.4 L382.7,889.4 L381.6,889.4 L380.6,889.4 L379.6,889.4 L378.6,889.4 L377.5,889.4 L376.5,889.4 L375.5,889.4 L374.5,889.4 L373.4,889.4 L372.4,889.5 L371.4,889.5 L370.3,889.5 L369.3,889.5 L368.3,889.5 L367.3,889.6 L366.2,889.6 L365.2,889.6 L364.2,889.6 L363.1,889.6 L362.1,889.7 L361.1,889.7 L360.1,889.8 L359,889.8 L358,889.9 L357,890 L356,890.1 L354.9,890.2 L353.9,890.3 L352.9,890.4 L351.8,890.5 L350.8,890.5 L349.8,890.6 L348.8,890.7 L347.7,890.7 L346.7,890.8 L345.7,890.8 L344.6,890.9 L343.6,890.9 L342.6,890.9 L341.6,890.9 L340.5,890.9 L339.5,890.9 L338.5,890.9 L337.5,890.9 L336.4,890.8 L335.4,890.8 L334.4,890.7 L333.3,890.7 L332.3,890.6 L331.3,890.5 L330.3,890.3 L329.2,890.2 L328.2,890.1 L327.2,890 L326.1,889.9 L325.1,889.7 L324.1,889.6 L323.1,889.6 L322,889.5 L321,889.5 L320,889.4 L319,889.4 L317.9,889.4 L316.9,889.4 L315.9,889.4 L314.8,889.4 L313.8,889.4 L312.8,889.4 L311.8,889.5 L310.7,889.5 L309.7,889.5Z" fill="#f2cf8d" stroke="#c99a3c" stroke-width="0.75" stroke-linejoin="round"/>
<line x1="309.7" y1="889.1" x2="334.5" y2="889.1" stroke="#3a2a22" stroke-width="0.7"/>
<line x1="354.4" y1="889.1" x2="369.1" y2="889.1" stroke="#3a2a22" stroke-width="0.7"/>
<circle cx="309.7" cy="890.1" r="0.8" fill="#e0a93e" fill-opacity="0.9"/>
<circle cx="334.5" cy="887" r="0.8" fill="#e0a93e" fill-opacity="0.9"/>
<circle cx="346.9" cy="889.7" r="0.8" fill="#e0a93e" fill-opacity="0.9"/>
<circle cx="354.4" cy="886.4" r="0.8" fill="#e0a93e" fill-opacity="0.9"/>
<circle cx="390.9" cy="891.2" r="0.8" fill="#e0a93e" fill-opacity="0.9"/>
<circle cx="334.3" cy="886" r="0.8" fill="#e0a93e" fill-opacity="0.9"/>
<circle cx="332.8" cy="891.7" r="0.8" fill="#e0a93e" fill-opacity="0.9"/>
<circle cx="338.2" cy="890.4" r="0.8" fill="#e0a93e" fill-opacity="0.9"/>
<circle cx="345.8" cy="889.1" r="0.8" fill="#e0a93e" fill-opacity="0.9"/>
<circle cx="349.3" cy="892.4" r="0.8" fill="#e0a93e" fill-opacity="0.9"/>
<circle cx="369.1" cy="891.8" r="0.8" fill="#e0a93e" fill-opacity="0.9"/>
<rect x="334.5" y="887.5" width="19.9" height="3.1" fill="#e8d8b5" stroke="#2a2a2a" stroke-width="0.7"/>
<line x1="346.9" y1="887.5" x2="346.9" y2="890.6" stroke="#1a1a1a" stroke-width="0.9"/>
<line x1="232" y1="889.1" x2="234.7" y2="889.1" stroke="#262626" stroke-width="0.9"/>
<text x="230.3" y="892.1" font-size="8.1" fill="#4d4d4d" text-anchor="end">Zinc finger, PHD−finger PF00628</text>
<text x="396.8" y="891.5" font-size="7.2" fill="#000">n=11</text>
<line x1="234.7" y1="619.2" x2="234.7" y2="895.2" stroke="#262626" stroke-width="1.1"/>
<line x1="234.2" y1="894.7" x2="395.9" y2="894.7" stroke="#262626" stroke-width="1.1"/>
<line x1="242.4" y1="894.7" x2="242.4" y2="897.3" stroke="#262626" stroke-width="1"/>
<text x="242.4" y="908.4" font-size="9.3" fill="#4d4d4d" text-anchor="middle">0</text>
<line x1="277.8" y1="894.7" x2="277.8" y2="897.3" stroke="#262626" stroke-width="1"/>
<text x="277.8" y="908.4" font-size="9.3" fill="#4d4d4d" text-anchor="middle">20</text>
<line x1="313.2" y1="894.7" x2="313.2" y2="897.3" stroke="#262626" stroke-width="1"/>
<text x="313.2" y="908.4" font-size="9.3" fill="#4d4d4d" text-anchor="middle">40</text>
<line x1="348.6" y1="894.7" x2="348.6" y2="897.3" stroke="#262626" stroke-width="1"/>
<text x="348.6" y="908.4" font-size="9.3" fill="#4d4d4d" text-anchor="middle">60</text>
<line x1="384" y1="894.7" x2="384" y2="897.3" stroke="#262626" stroke-width="1"/>
<text x="384" y="908.4" font-size="9.3" fill="#4d4d4d" text-anchor="middle">80</text>
<text x="317" y="924" font-size="9.6" fill="#000" text-anchor="middle">percent of variance in fitness</text>
<text x="317" y="938.2" font-size="9.6" fill="#000" text-anchor="middle">explained by protein stability</text>
<text x="53.2" y="759" font-size="10" fill="#000" text-anchor="middle" transform="rotate(-90 53.2 759)">protein family</text>
<text x="115" y="924.2" font-size="8.3" fill="#000">scop_class</text>
<rect x="92.2" y="929.8" width="12.3" height="12.3" fill="#c7d0ef" stroke="#93a5da" stroke-width="0.7"/>
<circle cx="98.4" cy="935.9" r="0.6" fill="#9aabe0"/>
<text x="109.7" y="938.4" font-size="6.9" fill="#000">a/b a+b</text>
<rect x="92.2" y="943.2" width="12.3" height="12.3" fill="#ee7880" stroke="#bf1f2b" stroke-width="0.7"/>
<circle cx="98.4" cy="949.4" r="0.6" fill="#d9262f"/>
<text x="109.7" y="951.8" font-size="6.9" fill="#000">all alpha</text>
<rect x="146.3" y="931.2" width="12.3" height="12.3" fill="#7d8fcb" stroke="#243585" stroke-width="0.7"/>
<circle cx="152.5" cy="937.4" r="0.6" fill="#2b3f9c"/>
<text x="163.8" y="939.8" font-size="6.9" fill="#000">all beta</text>
<rect x="146.3" y="944.4" width="12.3" height="12.3" fill="#f2cf8d" stroke="#c99a3c" stroke-width="0.7"/>
<circle cx="152.5" cy="950.5" r="0.6" fill="#e0a93e"/>
<text x="163.8" y="953" font-size="6.9" fill="#000">small proteins</text>
<text x="413" y="621.5" font-size="10.5" fill="#000" font-weight="bold">f</text>
<text x="467.3" y="624.5" font-size="10.1" fill="#000">structural classes</text>
<path d="M489.6,742.2 L489.8,741.3 L490.1,740.4 L490.3,739.5 L490.5,738.6 L490.7,737.7 L491,736.8 L491.2,736 L491.5,735.1 L491.8,734.2 L492.2,733.3 L492.6,732.4 L493,731.5 L493.4,730.6 L493.8,729.7 L494.3,728.8 L494.7,727.9 L495.2,727 L495.6,726.1 L495.9,725.3 L496.2,724.4 L496.5,723.5 L496.7,722.6 L496.9,721.7 L497,720.8 L497,719.9 L497,719 L496.9,718.1 L496.9,717.2 L496.8,716.3 L496.7,715.4 L496.6,714.6 L496.5,713.7 L496.5,712.8 L496.4,711.9 L496.4,711 L496.4,710.1 L496.4,709.2 L496.4,708.3 L496.4,707.4 L496.4,706.5 L496.4,705.6 L496.3,704.7 L496.2,703.9 L496,703 L495.8,702.1 L495.6,701.2 L495.3,700.3 L495,699.4 L494.6,698.5 L494.2,697.6 L493.8,696.7 L493.3,695.8 L492.9,694.9 L492.4,694 L491.9,693.2 L491.5,692.3 L491.1,691.4 L490.6,690.5 L490.3,689.6 L489.9,688.7 L489.6,687.8 L489.3,686.9 L489,686 L488.8,685.1 L488.6,684.2 L488.5,683.3 L488.4,682.5 L488.3,681.6 L488.2,680.7 L488.2,679.8 L488.2,678.9 L488.2,678 L488.2,677.1 L488.2,676.2 L488.2,675.3 L488.2,674.4 L488.2,673.5 L488.2,672.6 L488.2,671.8 L488.2,670.9 L488.1,670 L488.1,669.1 L488.1,668.2 L488,667.3 L488,666.4 L487.9,665.5 L487.8,664.6 L487.7,663.7 L487.7,662.8 L485.3,662.8 L485.3,663.7 L485.2,664.6 L485.1,665.5 L485,666.4 L485,667.3 L484.9,668.2 L484.9,669.1 L484.9,670 L484.8,670.9 L484.8,671.8 L484.8,672.6 L484.8,673.5 L484.8,674.4 L484.8,675.3 L484.8,676.2 L484.8,677.1 L484.8,678 L484.8,678.9 L484.8,679.8 L484.8,680.7 L484.7,681.6 L484.6,682.5 L484.5,683.3 L484.4,684.2 L484.2,685.1 L484,686 L483.7,686.9 L483.4,687.8 L483.1,688.7 L482.7,689.6 L482.4,690.5 L481.9,691.4 L481.5,692.3 L481.1,693.2 L480.6,694 L480.1,694.9 L479.7,695.8 L479.2,696.7 L478.8,697.6 L478.4,698.5 L478,699.4 L477.7,700.3 L477.4,701.2 L477.2,702.1 L477,703 L476.8,703.9 L476.7,704.7 L476.6,705.6 L476.6,706.5 L476.6,707.4 L476.6,708.3 L476.6,709.2 L476.6,710.1 L476.6,711 L476.6,711.9 L476.5,712.8 L476.5,713.7 L476.4,714.6 L476.3,715.4 L476.2,716.3 L476.1,717.2 L476.1,718.1 L476,719 L476,719.9 L476,720.8 L476.1,721.7 L476.3,722.6 L476.5,723.5 L476.8,724.4 L477.1,725.3 L477.4,726.1 L477.8,727 L478.3,727.9 L478.7,728.8 L479.2,729.7 L479.6,730.6 L480,731.5 L480.4,732.4 L480.8,733.3 L481.2,734.2 L481.5,735.1 L481.8,736 L482,736.8 L482.3,737.7 L482.5,738.6 L482.7,739.5 L482.9,740.4 L483.2,741.3 L483.4,742.2Z" fill="#cdd4f0" fill-opacity="0.85" stroke="#a3b2e2" stroke-width="0.6" stroke-linejoin="round"/>
<path d="M516.5,741.6 L516.8,740.5 L517.1,739.5 L517.4,738.4 L517.6,737.4 L517.9,736.3 L518.2,735.2 L518.5,734.2 L518.9,733.1 L519.4,732.1 L520,731 L520.7,729.9 L521.4,728.9 L522.2,727.8 L523,726.7 L523.7,725.7 L524.4,724.6 L525,723.6 L525.5,722.5 L525.8,721.4 L526,720.4 L526.1,719.3 L526.2,718.3 L526.2,717.2 L526.2,716.1 L526.1,715.1 L525.9,714 L525.8,713 L525.5,711.9 L525.3,710.8 L525,709.8 L524.8,708.7 L524.5,707.7 L524.2,706.6 L524,705.5 L523.7,704.5 L523.3,703.4 L523,702.4 L522.5,701.3 L522.1,700.2 L521.6,699.2 L521,698.1 L520.5,697.1 L520,696 L519.5,694.9 L519,693.9 L518.6,692.8 L518.3,691.7 L518,690.7 L517.8,689.6 L517.6,688.6 L517.4,687.5 L517.3,686.4 L517.1,685.4 L516.9,684.3 L516.7,683.3 L516.5,682.2 L516.3,681.1 L516.1,680.1 L515.9,679 L515.7,678 L515.6,676.9 L515.5,675.8 L515.4,674.8 L515.3,673.7 L515.3,672.7 L515.3,671.6 L515.3,670.5 L515.3,669.5 L515.4,668.4 L515.4,667.4 L515.4,666.3 L515.5,665.2 L515.4,664.2 L515.4,663.1 L515.4,662.1 L515.3,661 L515.2,659.9 L515,658.9 L514.9,657.8 L514.8,656.7 L514.7,655.7 L514.6,654.6 L514.5,653.6 L514.4,652.5 L514.4,651.4 L514.4,650.4 L514.4,649.3 L514.4,648.3 L514.4,647.2 L513.8,647.2 L513.8,648.3 L513.8,649.3 L513.8,650.4 L513.8,651.4 L513.8,652.5 L513.7,653.6 L513.6,654.6 L513.5,655.7 L513.4,656.7 L513.3,657.8 L513.2,658.9 L513,659.9 L512.9,661 L512.8,662.1 L512.8,663.1 L512.8,664.2 L512.7,665.2 L512.8,666.3 L512.8,667.4 L512.8,668.4 L512.9,669.5 L512.9,670.5 L512.9,671.6 L512.9,672.7 L512.9,673.7 L512.8,674.8 L512.7,675.8 L512.6,676.9 L512.5,678 L512.3,679 L512.1,680.1 L511.9,681.1 L511.7,682.2 L511.5,683.3 L511.3,684.3 L511.1,685.4 L510.9,686.4 L510.8,687.5 L510.6,688.6 L510.4,689.6 L510.2,690.7 L509.9,691.7 L509.6,692.8 L509.2,693.9 L508.7,694.9 L508.2,696 L507.7,697.1 L507.2,698.1 L506.6,699.2 L506.1,700.2 L505.7,701.3 L505.2,702.4 L504.9,703.4 L504.5,704.5 L504.2,705.5 L504,706.6 L503.7,707.7 L503.4,708.7 L503.2,709.8 L502.9,710.8 L502.7,711.9 L502.4,713 L502.3,714 L502.1,715.1 L502,716.1 L502,717.2 L502,718.3 L502.1,719.3 L502.2,720.4 L502.4,721.4 L502.7,722.5 L503.2,723.6 L503.8,724.6 L504.5,725.7 L505.2,726.7 L506,727.8 L506.8,728.9 L507.5,729.9 L508.2,731 L508.8,732.1 L509.3,733.1 L509.7,734.2 L510,735.2 L510.3,736.3 L510.6,737.4 L510.8,738.4 L511.1,739.5 L511.4,740.5 L511.7,741.6Z" fill="#f08a90" fill-opacity="0.85" stroke="#d8303b" stroke-width="0.6" stroke-linejoin="round"/>
<path d="M545.1,725.4 L545.3,724.6 L545.6,723.9 L545.9,723.1 L546.2,722.3 L546.6,721.6 L546.9,720.8 L547.2,720.1 L547.5,719.3 L547.9,718.6 L548.2,717.8 L548.5,717 L548.8,716.3 L549.1,715.5 L549.5,714.8 L549.8,714 L550.2,713.3 L550.6,712.5 L551,711.7 L551.4,711 L551.8,710.2 L552.3,709.5 L552.8,708.7 L553.3,708 L553.8,707.2 L554.3,706.4 L554.7,705.7 L555.2,704.9 L555.5,704.2 L555.9,703.4 L556.2,702.7 L556.5,701.9 L556.7,701.2 L556.9,700.4 L557,699.6 L557.1,698.9 L557.2,698.1 L557.2,697.4 L557.2,696.6 L557.1,695.9 L557,695.1 L556.8,694.3 L556.6,693.6 L556.4,692.8 L556.1,692.1 L555.8,691.3 L555.5,690.6 L555.1,689.8 L554.8,689 L554.4,688.3 L554,687.5 L553.6,686.8 L553.2,686 L552.8,685.3 L552.3,684.5 L551.9,683.8 L551.4,683 L551,682.2 L550.6,681.5 L550.2,680.7 L549.8,680 L549.4,679.2 L549.1,678.5 L548.9,677.7 L548.7,676.9 L548.5,676.2 L548.4,675.4 L548.3,674.7 L548.3,673.9 L548.3,673.2 L548.3,672.4 L548.3,671.6 L548.2,670.9 L548.2,670.1 L548.1,669.4 L548.1,668.6 L548,667.9 L547.8,667.1 L547.7,666.3 L547.5,665.6 L547.3,664.8 L547.1,664.1 L546.9,663.3 L546.7,662.6 L546.5,661.8 L546.2,661.1 L546,660.3 L545.8,659.5 L545.6,658.8 L545.3,658 L541.7,658 L541.4,658.8 L541.2,659.5 L541,660.3 L540.8,661.1 L540.5,661.8 L540.3,662.6 L540.1,663.3 L539.9,664.1 L539.7,664.8 L539.5,665.6 L539.3,666.3 L539.2,667.1 L539,667.9 L538.9,668.6 L538.9,669.4 L538.8,670.1 L538.8,670.9 L538.7,671.6 L538.7,672.4 L538.7,673.2 L538.7,673.9 L538.7,674.7 L538.6,675.4 L538.5,676.2 L538.3,676.9 L538.1,677.7 L537.9,678.5 L537.6,679.2 L537.2,680 L536.8,680.7 L536.4,681.5 L536,682.2 L535.6,683 L535.1,683.8 L534.7,684.5 L534.2,685.3 L533.8,686 L533.4,686.8 L533,687.5 L532.6,688.3 L532.2,689 L531.9,689.8 L531.5,690.6 L531.2,691.3 L530.9,692.1 L530.6,692.8 L530.4,693.6 L530.2,694.3 L530,695.1 L529.9,695.9 L529.8,696.6 L529.8,697.4 L529.8,698.1 L529.9,698.9 L530,699.6 L530.1,700.4 L530.3,701.2 L530.5,701.9 L530.8,702.7 L531.1,703.4 L531.5,704.2 L531.8,704.9 L532.3,705.7 L532.7,706.4 L533.2,707.2 L533.7,708 L534.2,708.7 L534.7,709.5 L535.2,710.2 L535.6,711 L536,711.7 L536.4,712.5 L536.8,713.3 L537.2,714 L537.5,714.8 L537.9,715.5 L538.2,716.3 L538.5,717 L538.8,717.8 L539.1,718.6 L539.5,719.3 L539.8,720.1 L540.1,720.8 L540.4,721.6 L540.8,722.3 L541.1,723.1 L541.4,723.9 L541.7,724.6 L541.9,725.4Z" fill="#8496cf" fill-opacity="0.85" stroke="#2c3f96" stroke-width="0.6" stroke-linejoin="round"/>
<path d="M577.9,742.2 L578.4,741.1 L579,739.9 L579.5,738.8 L580.1,737.7 L580.6,736.5 L581.2,735.4 L581.7,734.3 L582.3,733.1 L582.8,732 L583.3,730.9 L583.7,729.7 L584.1,728.6 L584.5,727.4 L584.8,726.3 L585.1,725.2 L585.3,724 L585.4,722.9 L585.5,721.8 L585.5,720.6 L585.4,719.5 L585.3,718.4 L585.2,717.2 L584.9,716.1 L584.7,715 L584.4,713.8 L584.1,712.7 L583.8,711.6 L583.5,710.4 L583.2,709.3 L582.8,708.2 L582.5,707 L582.2,705.9 L582,704.7 L581.7,703.6 L581.4,702.5 L581.2,701.3 L581,700.2 L580.8,699.1 L580.6,697.9 L580.4,696.8 L580.2,695.7 L580.1,694.5 L579.9,693.4 L579.8,692.3 L579.6,691.1 L579.4,690 L579.3,688.9 L579.1,687.7 L579,686.6 L578.8,685.5 L578.6,684.3 L578.5,683.2 L578.3,682 L578.2,680.9 L578.1,679.8 L578,678.6 L577.8,677.5 L577.7,676.4 L577.6,675.2 L577.5,674.1 L577.4,673 L577.3,671.8 L577.2,670.7 L577.1,669.6 L577,668.4 L576.9,667.3 L576.8,666.2 L576.7,665 L576.6,663.9 L576.5,662.8 L576.4,661.6 L576.3,660.5 L576.3,659.3 L576.2,658.2 L576.2,657.1 L576.2,655.9 L576.1,654.8 L576.1,653.7 L576.1,652.5 L576.1,651.4 L576,650.3 L576,649.1 L575.9,648 L575.8,646.9 L575.7,645.7 L575.6,644.6 L575.5,643.5 L575.4,642.3 L575.3,641.2 L572.1,641.2 L572,642.3 L571.9,643.5 L571.8,644.6 L571.7,645.7 L571.6,646.9 L571.5,648 L571.4,649.1 L571.4,650.3 L571.3,651.4 L571.3,652.5 L571.3,653.7 L571.3,654.8 L571.2,655.9 L571.2,657.1 L571.2,658.2 L571.1,659.3 L571.1,660.5 L571,661.6 L570.9,662.8 L570.8,663.9 L570.7,665 L570.6,666.2 L570.5,667.3 L570.4,668.4 L570.3,669.6 L570.2,670.7 L570.1,671.8 L570,673 L569.9,674.1 L569.8,675.2 L569.7,676.4 L569.6,677.5 L569.4,678.6 L569.3,679.8 L569.2,680.9 L569.1,682 L568.9,683.2 L568.8,684.3 L568.6,685.5 L568.4,686.6 L568.3,687.7 L568.1,688.9 L568,690 L567.8,691.1 L567.6,692.3 L567.5,693.4 L567.3,694.5 L567.2,695.7 L567,696.8 L566.8,697.9 L566.6,699.1 L566.4,700.2 L566.2,701.3 L566,702.5 L565.7,703.6 L565.4,704.7 L565.2,705.9 L564.9,707 L564.6,708.2 L564.2,709.3 L563.9,710.4 L563.6,711.6 L563.3,712.7 L563,713.8 L562.7,715 L562.5,716.1 L562.2,717.2 L562.1,718.4 L562,719.5 L561.9,720.6 L561.9,721.8 L562,722.9 L562.1,724 L562.3,725.2 L562.6,726.3 L562.9,727.4 L563.3,728.6 L563.7,729.7 L564.1,730.9 L564.6,732 L565.1,733.1 L565.7,734.3 L566.2,735.4 L566.8,736.5 L567.3,737.7 L567.9,738.8 L568.4,739.9 L569,741.1 L569.5,742.2Z" fill="#f4d597" fill-opacity="0.85" stroke="#dcaa4e" stroke-width="0.6" stroke-linejoin="round"/>
<line x1="486.5" y1="742.2" x2="486.5" y2="723.6" stroke="#111" stroke-width="0.9"/>
<line x1="486.5" y1="700.7" x2="486.5" y2="669.1" stroke="#111" stroke-width="0.9"/>
<rect x="484.2" y="700.7" width="4.6" height="22.8" fill="#ffffff" stroke="#111" stroke-width="0.8"/>
<line x1="484.2" y1="711.2" x2="488.8" y2="711.2" stroke="#111" stroke-width="0.9"/>
<line x1="514.1" y1="741.6" x2="514.1" y2="723" stroke="#111" stroke-width="0.9"/>
<line x1="514.1" y1="701.3" x2="514.1" y2="669.4" stroke="#111" stroke-width="0.9"/>
<rect x="511.8" y="701.3" width="4.6" height="21.6" fill="#ffffff" stroke="#111" stroke-width="0.8"/>
<line x1="511.8" y1="712.5" x2="516.4" y2="712.5" stroke="#111" stroke-width="0.9"/>
<line x1="543.5" y1="725.4" x2="543.5" y2="704.6" stroke="#111" stroke-width="0.9"/>
<line x1="543.5" y1="684.8" x2="543.5" y2="658" stroke="#111" stroke-width="0.9"/>
<rect x="541.2" y="684.8" width="4.6" height="19.7" fill="#ffffff" stroke="#111" stroke-width="0.8"/>
<line x1="541.2" y1="695.3" x2="545.8" y2="695.3" stroke="#111" stroke-width="0.9"/>
<line x1="573.7" y1="742.2" x2="573.7" y2="724.2" stroke="#111" stroke-width="0.9"/>
<line x1="573.7" y1="689.9" x2="573.7" y2="641.2" stroke="#111" stroke-width="0.9"/>
<rect x="571.4" y="689.9" width="4.6" height="34.3" fill="#ffffff" stroke="#111" stroke-width="0.8"/>
<line x1="571.4" y1="710.9" x2="576" y2="710.9" stroke="#111" stroke-width="0.9"/>
<circle cx="474.6" cy="742.2" r="1.1" fill="#a2b1e3" fill-opacity="0.9"/>
<circle cx="475.6" cy="723.6" r="1.1" fill="#a2b1e3" fill-opacity="0.9"/>
<circle cx="496.3" cy="711.2" r="1.1" fill="#a2b1e3" fill-opacity="0.9"/>
<circle cx="478.4" cy="700.7" r="1.1" fill="#a2b1e3" fill-opacity="0.9"/>
<circle cx="492.9" cy="662.8" r="1.1" fill="#a2b1e3" fill-opacity="0.9"/>
<circle cx="486.5" cy="726" r="1.1" fill="#a2b1e3" fill-opacity="0.9"/>
<circle cx="493.9" cy="726" r="1.1" fill="#a2b1e3" fill-opacity="0.9"/>
<circle cx="479.1" cy="740.2" r="1.1" fill="#a2b1e3" fill-opacity="0.9"/>
<circle cx="486.7" cy="729.3" r="1.1" fill="#a2b1e3" fill-opacity="0.9"/>
<circle cx="482.6" cy="739.8" r="1.1" fill="#a2b1e3" fill-opacity="0.9"/>
<circle cx="480.1" cy="724.1" r="1.1" fill="#a2b1e3" fill-opacity="0.9"/>
<circle cx="479.2" cy="726" r="1.1" fill="#a2b1e3" fill-opacity="0.9"/>
<circle cx="476.2" cy="725" r="1.1" fill="#a2b1e3" fill-opacity="0.9"/>
<circle cx="497.2" cy="730.7" r="1.1" fill="#a2b1e3" fill-opacity="0.9"/>
<circle cx="477.8" cy="734.6" r="1.1" fill="#a2b1e3" fill-opacity="0.9"/>
<circle cx="484.1" cy="740.7" r="1.1" fill="#a2b1e3" fill-opacity="0.9"/>
<circle cx="487.2" cy="719.3" r="1.1" fill="#a2b1e3" fill-opacity="0.9"/>
<circle cx="491" cy="717.7" r="1.1" fill="#a2b1e3" fill-opacity="0.9"/>
<circle cx="478.5" cy="719.6" r="1.1" fill="#a2b1e3" fill-opacity="0.9"/>
<circle cx="493.9" cy="722.4" r="1.1" fill="#a2b1e3" fill-opacity="0.9"/>
<circle cx="490.1" cy="722.5" r="1.1" fill="#a2b1e3" fill-opacity="0.9"/>
<circle cx="489.2" cy="714.7" r="1.1" fill="#a2b1e3" fill-opacity="0.9"/>
<circle cx="478.8" cy="719.2" r="1.1" fill="#a2b1e3" fill-opacity="0.9"/>
<circle cx="496.3" cy="722.5" r="1.1" fill="#a2b1e3" fill-opacity="0.9"/>
<circle cx="490.9" cy="717.4" r="1.1" fill="#a2b1e3" fill-opacity="0.9"/>
<circle cx="477.2" cy="718.7" r="1.1" fill="#a2b1e3" fill-opacity="0.9"/>
<circle cx="487.6" cy="713.8" r="1.1" fill="#a2b1e3" fill-opacity="0.9"/>
<circle cx="476.3" cy="702.8" r="1.1" fill="#a2b1e3" fill-opacity="0.9"/>
<circle cx="490.9" cy="704.4" r="1.1" fill="#a2b1e3" fill-opacity="0.9"/>
<circle cx="496.5" cy="705.8" r="1.1" fill="#a2b1e3" fill-opacity="0.9"/>
<circle cx="483.2" cy="708.6" r="1.1" fill="#a2b1e3" fill-opacity="0.9"/>
<circle cx="477.7" cy="703.5" r="1.1" fill="#a2b1e3" fill-opacity="0.9"/>
<circle cx="479.3" cy="710.9" r="1.1" fill="#a2b1e3" fill-opacity="0.9"/>
<circle cx="476.9" cy="703.9" r="1.1" fill="#a2b1e3" fill-opacity="0.9"/>
<circle cx="491.1" cy="710.9" r="1.1" fill="#a2b1e3" fill-opacity="0.9"/>
<circle cx="486.7" cy="701.7" r="1.1" fill="#a2b1e3" fill-opacity="0.9"/>
<circle cx="474.8" cy="704.2" r="1.1" fill="#a2b1e3" fill-opacity="0.9"/>
<circle cx="475.6" cy="706.4" r="1.1" fill="#a2b1e3" fill-opacity="0.9"/>
<circle cx="474.8" cy="692.6" r="1.1" fill="#a2b1e3" fill-opacity="0.9"/>
<circle cx="489" cy="698.2" r="1.1" fill="#a2b1e3" fill-opacity="0.9"/>
<circle cx="481.3" cy="700.5" r="1.1" fill="#a2b1e3" fill-opacity="0.9"/>
<circle cx="497.8" cy="694.3" r="1.1" fill="#a2b1e3" fill-opacity="0.9"/>
<circle cx="497.8" cy="680" r="1.1" fill="#a2b1e3" fill-opacity="0.9"/>
<circle cx="493.4" cy="692.9" r="1.1" fill="#a2b1e3" fill-opacity="0.9"/>
<circle cx="489.3" cy="669.1" r="1.1" fill="#a2b1e3" fill-opacity="0.9"/>
<circle cx="488.4" cy="674.4" r="1.1" fill="#a2b1e3" fill-opacity="0.9"/>
<circle cx="483.8" cy="691.6" r="1.1" fill="#a2b1e3" fill-opacity="0.9"/>
<circle cx="494.9" cy="700.6" r="1.1" fill="#a2b1e3" fill-opacity="0.9"/>
<circle cx="519.5" cy="741.6" r="1.1" fill="#e0202c" fill-opacity="0.9"/>
<circle cx="524.6" cy="723" r="1.1" fill="#e0202c" fill-opacity="0.9"/>
<circle cx="510.5" cy="712.5" r="1.1" fill="#e0202c" fill-opacity="0.9"/>
<circle cx="522.6" cy="701.3" r="1.1" fill="#e0202c" fill-opacity="0.9"/>
<circle cx="516.2" cy="647.2" r="1.1" fill="#e0202c" fill-opacity="0.9"/>
<circle cx="506.2" cy="738.6" r="1.1" fill="#e0202c" fill-opacity="0.9"/>
<circle cx="521.3" cy="739.8" r="1.1" fill="#e0202c" fill-opacity="0.9"/>
<circle cx="503" cy="734.1" r="1.1" fill="#e0202c" fill-opacity="0.9"/>
<circle cx="509.5" cy="741.5" r="1.1" fill="#e0202c" fill-opacity="0.9"/>
<circle cx="505.2" cy="738.6" r="1.1" fill="#e0202c" fill-opacity="0.9"/>
<circle cx="519.9" cy="724.3" r="1.1" fill="#e0202c" fill-opacity="0.9"/>
<circle cx="521.3" cy="723" r="1.1" fill="#e0202c" fill-opacity="0.9"/>
<circle cx="505.4" cy="724.4" r="1.1" fill="#e0202c" fill-opacity="0.9"/>
<circle cx="513" cy="738.8" r="1.1" fill="#e0202c" fill-opacity="0.9"/>
<circle cx="504.9" cy="724.9" r="1.1" fill="#e0202c" fill-opacity="0.9"/>
<circle cx="525.8" cy="735.3" r="1.1" fill="#e0202c" fill-opacity="0.9"/>
<circle cx="515.7" cy="727.9" r="1.1" fill="#e0202c" fill-opacity="0.9"/>
<circle cx="511.7" cy="729.4" r="1.1" fill="#e0202c" fill-opacity="0.9"/>
<circle cx="513.3" cy="727.5" r="1.1" fill="#e0202c" fill-opacity="0.9"/>
<circle cx="526" cy="724.4" r="1.1" fill="#e0202c" fill-opacity="0.9"/>
<circle cx="504.3" cy="733.3" r="1.1" fill="#e0202c" fill-opacity="0.9"/>
<circle cx="516.4" cy="724.3" r="1.1" fill="#e0202c" fill-opacity="0.9"/>
<circle cx="518.1" cy="726.6" r="1.1" fill="#e0202c" fill-opacity="0.9"/>
<circle cx="518.8" cy="725.9" r="1.1" fill="#e0202c" fill-opacity="0.9"/>
<circle cx="513.8" cy="723.1" r="1.1" fill="#e0202c" fill-opacity="0.9"/>
<circle cx="508.2" cy="723" r="1.1" fill="#e0202c" fill-opacity="0.9"/>
<circle cx="510.3" cy="726.7" r="1.1" fill="#e0202c" fill-opacity="0.9"/>
<circle cx="512" cy="731" r="1.1" fill="#e0202c" fill-opacity="0.9"/>
<circle cx="507.8" cy="723" r="1.1" fill="#e0202c" fill-opacity="0.9"/>
<circle cx="515" cy="735.3" r="1.1" fill="#e0202c" fill-opacity="0.9"/>
<circle cx="514.2" cy="730" r="1.1" fill="#e0202c" fill-opacity="0.9"/>
<circle cx="521.5" cy="725.9" r="1.1" fill="#e0202c" fill-opacity="0.9"/>
<circle cx="516.6" cy="731.9" r="1.1" fill="#e0202c" fill-opacity="0.9"/>
<circle cx="515.3" cy="724.8" r="1.1" fill="#e0202c" fill-opacity="0.9"/>
<circle cx="520.3" cy="726.4" r="1.1" fill="#e0202c" fill-opacity="0.9"/>
<circle cx="517.3" cy="727.4" r="1.1" fill="#e0202c" fill-opacity="0.9"/>
<circle cx="503.5" cy="732.3" r="1.1" fill="#e0202c" fill-opacity="0.9"/>
<circle cx="517" cy="726" r="1.1" fill="#e0202c" fill-opacity="0.9"/>
<circle cx="503.9" cy="723.2" r="1.1" fill="#e0202c" fill-opacity="0.9"/>
<circle cx="516.8" cy="739.9" r="1.1" fill="#e0202c" fill-opacity="0.9"/>
<circle cx="513.3" cy="724.4" r="1.1" fill="#e0202c" fill-opacity="0.9"/>
<circle cx="521.6" cy="723.1" r="1.1" fill="#e0202c" fill-opacity="0.9"/>
<circle cx="523" cy="723" r="1.1" fill="#e0202c" fill-opacity="0.9"/>
<circle cx="525.8" cy="738" r="1.1" fill="#e0202c" fill-opacity="0.9"/>
<circle cx="515.8" cy="740.6" r="1.1" fill="#e0202c" fill-opacity="0.9"/>
<circle cx="523.4" cy="739.6" r="1.1" fill="#e0202c" fill-opacity="0.9"/>
<circle cx="509.4" cy="725.3" r="1.1" fill="#e0202c" fill-opacity="0.9"/>
<circle cx="522.7" cy="723.4" r="1.1" fill="#e0202c" fill-opacity="0.9"/>
<circle cx="508" cy="723.4" r="1.1" fill="#e0202c" fill-opacity="0.9"/>
<circle cx="512.7" cy="725.7" r="1.1" fill="#e0202c" fill-opacity="0.9"/>
<circle cx="514.9" cy="729.3" r="1.1" fill="#e0202c" fill-opacity="0.9"/>
<circle cx="507.1" cy="735.6" r="1.1" fill="#e0202c" fill-opacity="0.9"/>
<circle cx="503.6" cy="730.7" r="1.1" fill="#e0202c" fill-opacity="0.9"/>
<circle cx="518.3" cy="716.3" r="1.1" fill="#e0202c" fill-opacity="0.9"/>
<circle cx="503.4" cy="715.9" r="1.1" fill="#e0202c" fill-opacity="0.9"/>
<circle cx="520.4" cy="716.1" r="1.1" fill="#e0202c" fill-opacity="0.9"/>
<circle cx="510.7" cy="715" r="1.1" fill="#e0202c" fill-opacity="0.9"/>
<circle cx="506" cy="713.7" r="1.1" fill="#e0202c" fill-opacity="0.9"/>
<circle cx="506.7" cy="715.4" r="1.1" fill="#e0202c" fill-opacity="0.9"/>
<circle cx="506.7" cy="717.9" r="1.1" fill="#e0202c" fill-opacity="0.9"/>
<circle cx="519.4" cy="717.8" r="1.1" fill="#e0202c" fill-opacity="0.9"/>
<circle cx="520.4" cy="720.9" r="1.1" fill="#e0202c" fill-opacity="0.9"/>
<circle cx="511.4" cy="721.1" r="1.1" fill="#e0202c" fill-opacity="0.9"/>
<circle cx="510.6" cy="715.8" r="1.1" fill="#e0202c" fill-opacity="0.9"/>
<circle cx="522.2" cy="715.9" r="1.1" fill="#e0202c" fill-opacity="0.9"/>
<circle cx="525.6" cy="715.2" r="1.1" fill="#e0202c" fill-opacity="0.9"/>
<circle cx="519" cy="714.7" r="1.1" fill="#e0202c" fill-opacity="0.9"/>
<circle cx="504.2" cy="721.6" r="1.1" fill="#e0202c" fill-opacity="0.9"/>
<circle cx="516.8" cy="714.8" r="1.1" fill="#e0202c" fill-opacity="0.9"/>
<circle cx="514.9" cy="721.2" r="1.1" fill="#e0202c" fill-opacity="0.9"/>
<circle cx="525" cy="717.4" r="1.1" fill="#e0202c" fill-opacity="0.9"/>
<circle cx="509" cy="713.3" r="1.1" fill="#e0202c" fill-opacity="0.9"/>
<circle cx="518.5" cy="715.4" r="1.1" fill="#e0202c" fill-opacity="0.9"/>
<circle cx="511.7" cy="713" r="1.1" fill="#e0202c" fill-opacity="0.9"/>
<circle cx="515.9" cy="722.4" r="1.1" fill="#e0202c" fill-opacity="0.9"/>
<circle cx="510.3" cy="720.6" r="1.1" fill="#e0202c" fill-opacity="0.9"/>
<circle cx="515.4" cy="715.9" r="1.1" fill="#e0202c" fill-opacity="0.9"/>
<circle cx="506.6" cy="721.4" r="1.1" fill="#e0202c" fill-opacity="0.9"/>
<circle cx="511.5" cy="722" r="1.1" fill="#e0202c" fill-opacity="0.9"/>
<circle cx="523.5" cy="715.4" r="1.1" fill="#e0202c" fill-opacity="0.9"/>
<circle cx="524.8" cy="716.1" r="1.1" fill="#e0202c" fill-opacity="0.9"/>
<circle cx="510.2" cy="722.5" r="1.1" fill="#e0202c" fill-opacity="0.9"/>
<circle cx="512.8" cy="715.7" r="1.1" fill="#e0202c" fill-opacity="0.9"/>
<circle cx="523.4" cy="721" r="1.1" fill="#e0202c" fill-opacity="0.9"/>
<circle cx="513.9" cy="720.2" r="1.1" fill="#e0202c" fill-opacity="0.9"/>
<circle cx="503.9" cy="721.2" r="1.1" fill="#e0202c" fill-opacity="0.9"/>
<circle cx="518.1" cy="718" r="1.1" fill="#e0202c" fill-opacity="0.9"/>
<circle cx="518.5" cy="722.2" r="1.1" fill="#e0202c" fill-opacity="0.9"/>
<circle cx="505.6" cy="722.4" r="1.1" fill="#e0202c" fill-opacity="0.9"/>
<circle cx="505.6" cy="722.1" r="1.1" fill="#e0202c" fill-opacity="0.9"/>
<circle cx="510.5" cy="715.2" r="1.1" fill="#e0202c" fill-opacity="0.9"/>
<circle cx="521.3" cy="716.5" r="1.1" fill="#e0202c" fill-opacity="0.9"/>
<circle cx="508.3" cy="713.6" r="1.1" fill="#e0202c" fill-opacity="0.9"/>
<circle cx="504.3" cy="717.2" r="1.1" fill="#e0202c" fill-opacity="0.9"/>
<circle cx="510.4" cy="712.6" r="1.1" fill="#e0202c" fill-opacity="0.9"/>
<circle cx="507.2" cy="714.9" r="1.1" fill="#e0202c" fill-opacity="0.9"/>
<circle cx="503.9" cy="713.4" r="1.1" fill="#e0202c" fill-opacity="0.9"/>
<circle cx="522.5" cy="719.1" r="1.1" fill="#e0202c" fill-opacity="0.9"/>
<circle cx="508.8" cy="720" r="1.1" fill="#e0202c" fill-opacity="0.9"/>
<circle cx="516.3" cy="719.6" r="1.1" fill="#e0202c" fill-opacity="0.9"/>
<circle cx="508.7" cy="717.1" r="1.1" fill="#e0202c" fill-opacity="0.9"/>
<circle cx="512.4" cy="709.5" r="1.1" fill="#e0202c" fill-opacity="0.9"/>
<circle cx="502.6" cy="702.7" r="1.1" fill="#e0202c" fill-opacity="0.9"/>
<circle cx="525.5" cy="705.3" r="1.1" fill="#e0202c" fill-opacity="0.9"/>
<circle cx="524.1" cy="708.7" r="1.1" fill="#e0202c" fill-opacity="0.9"/>
<circle cx="508" cy="707.8" r="1.1" fill="#e0202c" fill-opacity="0.9"/>
<circle cx="523.3" cy="711.3" r="1.1" fill="#e0202c" fill-opacity="0.9"/>
<circle cx="509.9" cy="712" r="1.1" fill="#e0202c" fill-opacity="0.9"/>
<circle cx="515.3" cy="702.9" r="1.1" fill="#e0202c" fill-opacity="0.9"/>
<circle cx="521.5" cy="710.7" r="1.1" fill="#e0202c" fill-opacity="0.9"/>
<circle cx="516.6" cy="711.5" r="1.1" fill="#e0202c" fill-opacity="0.9"/>
<circle cx="503" cy="705.5" r="1.1" fill="#e0202c" fill-opacity="0.9"/>
<circle cx="521.7" cy="710.9" r="1.1" fill="#e0202c" fill-opacity="0.9"/>
<circle cx="519" cy="703.5" r="1.1" fill="#e0202c" fill-opacity="0.9"/>
<circle cx="522.2" cy="705.6" r="1.1" fill="#e0202c" fill-opacity="0.9"/>
<circle cx="519.8" cy="711.9" r="1.1" fill="#e0202c" fill-opacity="0.9"/>
<circle cx="514.5" cy="706.6" r="1.1" fill="#e0202c" fill-opacity="0.9"/>
<circle cx="521.3" cy="702.6" r="1.1" fill="#e0202c" fill-opacity="0.9"/>
<circle cx="503.1" cy="702.6" r="1.1" fill="#e0202c" fill-opacity="0.9"/>
<circle cx="516.2" cy="711" r="1.1" fill="#e0202c" fill-opacity="0.9"/>
<circle cx="508.6" cy="710.3" r="1.1" fill="#e0202c" fill-opacity="0.9"/>
<circle cx="512.8" cy="711.9" r="1.1" fill="#e0202c" fill-opacity="0.9"/>
<circle cx="506.8" cy="701.4" r="1.1" fill="#e0202c" fill-opacity="0.9"/>
<circle cx="515.1" cy="702.1" r="1.1" fill="#e0202c" fill-opacity="0.9"/>
<circle cx="513.3" cy="707" r="1.1" fill="#e0202c" fill-opacity="0.9"/>
<circle cx="523" cy="704.2" r="1.1" fill="#e0202c" fill-opacity="0.9"/>
<circle cx="507.8" cy="703.4" r="1.1" fill="#e0202c" fill-opacity="0.9"/>
<circle cx="503" cy="707.2" r="1.1" fill="#e0202c" fill-opacity="0.9"/>
<circle cx="524.3" cy="707.7" r="1.1" fill="#e0202c" fill-opacity="0.9"/>
<circle cx="505.2" cy="711.3" r="1.1" fill="#e0202c" fill-opacity="0.9"/>
<circle cx="511.1" cy="711.7" r="1.1" fill="#e0202c" fill-opacity="0.9"/>
<circle cx="523.6" cy="702" r="1.1" fill="#e0202c" fill-opacity="0.9"/>
<circle cx="522.5" cy="701.9" r="1.1" fill="#e0202c" fill-opacity="0.9"/>
<circle cx="516" cy="702.3" r="1.1" fill="#e0202c" fill-opacity="0.9"/>
<circle cx="505.2" cy="709.3" r="1.1" fill="#e0202c" fill-opacity="0.9"/>
<circle cx="520" cy="711.2" r="1.1" fill="#e0202c" fill-opacity="0.9"/>
<circle cx="507.7" cy="706.5" r="1.1" fill="#e0202c" fill-opacity="0.9"/>
<circle cx="509.5" cy="712.1" r="1.1" fill="#e0202c" fill-opacity="0.9"/>
<circle cx="511.7" cy="702.7" r="1.1" fill="#e0202c" fill-opacity="0.9"/>
<circle cx="512.6" cy="707.5" r="1.1" fill="#e0202c" fill-opacity="0.9"/>
<circle cx="517.5" cy="702.9" r="1.1" fill="#e0202c" fill-opacity="0.9"/>
<circle cx="524.3" cy="709.9" r="1.1" fill="#e0202c" fill-opacity="0.9"/>
<circle cx="524.8" cy="708.6" r="1.1" fill="#e0202c" fill-opacity="0.9"/>
<circle cx="517.4" cy="706.5" r="1.1" fill="#e0202c" fill-opacity="0.9"/>
<circle cx="513.2" cy="705.6" r="1.1" fill="#e0202c" fill-opacity="0.9"/>
<circle cx="505" cy="708.2" r="1.1" fill="#e0202c" fill-opacity="0.9"/>
<circle cx="504.2" cy="703.7" r="1.1" fill="#e0202c" fill-opacity="0.9"/>
<circle cx="520.6" cy="707.1" r="1.1" fill="#e0202c" fill-opacity="0.9"/>
<circle cx="523" cy="698.1" r="1.1" fill="#e0202c" fill-opacity="0.9"/>
<circle cx="508.8" cy="697.1" r="1.1" fill="#e0202c" fill-opacity="0.9"/>
<circle cx="522.1" cy="700.1" r="1.1" fill="#e0202c" fill-opacity="0.9"/>
<circle cx="522.6" cy="685.7" r="1.1" fill="#e0202c" fill-opacity="0.9"/>
<circle cx="516.3" cy="700.2" r="1.1" fill="#e0202c" fill-opacity="0.9"/>
<circle cx="519.8" cy="696.3" r="1.1" fill="#e0202c" fill-opacity="0.9"/>
<circle cx="510.2" cy="690.3" r="1.1" fill="#e0202c" fill-opacity="0.9"/>
<circle cx="505.4" cy="688" r="1.1" fill="#e0202c" fill-opacity="0.9"/>
<circle cx="520.5" cy="698.9" r="1.1" fill="#e0202c" fill-opacity="0.9"/>
<circle cx="526.1" cy="684.7" r="1.1" fill="#e0202c" fill-opacity="0.9"/>
<circle cx="506.8" cy="699.1" r="1.1" fill="#e0202c" fill-opacity="0.9"/>
<circle cx="511.2" cy="663.3" r="1.1" fill="#e0202c" fill-opacity="0.9"/>
<circle cx="518.3" cy="698.1" r="1.1" fill="#e0202c" fill-opacity="0.9"/>
<circle cx="508.4" cy="682.5" r="1.1" fill="#e0202c" fill-opacity="0.9"/>
<circle cx="506.2" cy="669.4" r="1.1" fill="#e0202c" fill-opacity="0.9"/>
<circle cx="521.5" cy="670" r="1.1" fill="#e0202c" fill-opacity="0.9"/>
<circle cx="511.3" cy="677.1" r="1.1" fill="#e0202c" fill-opacity="0.9"/>
<circle cx="515.4" cy="692.7" r="1.1" fill="#e0202c" fill-opacity="0.9"/>
<circle cx="525.8" cy="687.1" r="1.1" fill="#e0202c" fill-opacity="0.9"/>
<circle cx="522.1" cy="697.2" r="1.1" fill="#e0202c" fill-opacity="0.9"/>
<circle cx="517.9" cy="701" r="1.1" fill="#e0202c" fill-opacity="0.9"/>
<circle cx="502.3" cy="691.4" r="1.1" fill="#e0202c" fill-opacity="0.9"/>
<circle cx="506.7" cy="681.8" r="1.1" fill="#e0202c" fill-opacity="0.9"/>
<circle cx="504.3" cy="683.6" r="1.1" fill="#e0202c" fill-opacity="0.9"/>
<circle cx="519.7" cy="683.1" r="1.1" fill="#e0202c" fill-opacity="0.9"/>
<circle cx="521.9" cy="695.5" r="1.1" fill="#e0202c" fill-opacity="0.9"/>
<circle cx="512.6" cy="665" r="1.1" fill="#e0202c" fill-opacity="0.9"/>
<circle cx="512.6" cy="693.9" r="1.1" fill="#e0202c" fill-opacity="0.9"/>
<circle cx="525" cy="657.9" r="1.1" fill="#e0202c" fill-opacity="0.9"/>
<circle cx="523.1" cy="663.6" r="1.1" fill="#e0202c" fill-opacity="0.9"/>
<circle cx="513.6" cy="683.1" r="1.1" fill="#e0202c" fill-opacity="0.9"/>
<circle cx="508.8" cy="661.7" r="1.1" fill="#e0202c" fill-opacity="0.9"/>
<circle cx="502.5" cy="688" r="1.1" fill="#e0202c" fill-opacity="0.9"/>
<circle cx="505.7" cy="688.5" r="1.1" fill="#e0202c" fill-opacity="0.9"/>
<circle cx="522" cy="671.5" r="1.1" fill="#e0202c" fill-opacity="0.9"/>
<circle cx="511.5" cy="676.6" r="1.1" fill="#e0202c" fill-opacity="0.9"/>
<circle cx="507.2" cy="701.2" r="1.1" fill="#e0202c" fill-opacity="0.9"/>
<circle cx="507" cy="693.5" r="1.1" fill="#e0202c" fill-opacity="0.9"/>
<circle cx="510.5" cy="695.4" r="1.1" fill="#e0202c" fill-opacity="0.9"/>
<circle cx="518.8" cy="701.2" r="1.1" fill="#e0202c" fill-opacity="0.9"/>
<circle cx="506.5" cy="696.9" r="1.1" fill="#e0202c" fill-opacity="0.9"/>
<circle cx="512.1" cy="700.6" r="1.1" fill="#e0202c" fill-opacity="0.9"/>
<circle cx="512.7" cy="682.6" r="1.1" fill="#e0202c" fill-opacity="0.9"/>
<circle cx="502.6" cy="662.6" r="1.1" fill="#e0202c" fill-opacity="0.9"/>
<circle cx="502.3" cy="696.7" r="1.1" fill="#e0202c" fill-opacity="0.9"/>
<circle cx="519.8" cy="691.7" r="1.1" fill="#e0202c" fill-opacity="0.9"/>
<circle cx="517" cy="691.5" r="1.1" fill="#e0202c" fill-opacity="0.9"/>
<circle cx="536.3" cy="725.4" r="1.1" fill="#2a3f9e" fill-opacity="0.9"/>
<circle cx="553.3" cy="704.6" r="1.1" fill="#2a3f9e" fill-opacity="0.9"/>
<circle cx="550.6" cy="695.3" r="1.1" fill="#2a3f9e" fill-opacity="0.9"/>
<circle cx="545.7" cy="684.8" r="1.1" fill="#2a3f9e" fill-opacity="0.9"/>
<circle cx="534.9" cy="658" r="1.1" fill="#2a3f9e" fill-opacity="0.9"/>
<circle cx="546" cy="706.2" r="1.1" fill="#2a3f9e" fill-opacity="0.9"/>
<circle cx="534.4" cy="707.4" r="1.1" fill="#2a3f9e" fill-opacity="0.9"/>
<circle cx="540.3" cy="715.4" r="1.1" fill="#2a3f9e" fill-opacity="0.9"/>
<circle cx="547.8" cy="721.9" r="1.1" fill="#2a3f9e" fill-opacity="0.9"/>
<circle cx="544.5" cy="714.7" r="1.1" fill="#2a3f9e" fill-opacity="0.9"/>
<circle cx="549.6" cy="705.3" r="1.1" fill="#2a3f9e" fill-opacity="0.9"/>
<circle cx="535.1" cy="709.5" r="1.1" fill="#2a3f9e" fill-opacity="0.9"/>
<circle cx="550.4" cy="713.4" r="1.1" fill="#2a3f9e" fill-opacity="0.9"/>
<circle cx="532.3" cy="719.8" r="1.1" fill="#2a3f9e" fill-opacity="0.9"/>
<circle cx="541" cy="709.9" r="1.1" fill="#2a3f9e" fill-opacity="0.9"/>
<circle cx="534.8" cy="720.1" r="1.1" fill="#2a3f9e" fill-opacity="0.9"/>
<circle cx="553.4" cy="706.6" r="1.1" fill="#2a3f9e" fill-opacity="0.9"/>
<circle cx="547.5" cy="705.7" r="1.1" fill="#2a3f9e" fill-opacity="0.9"/>
<circle cx="538.4" cy="705.9" r="1.1" fill="#2a3f9e" fill-opacity="0.9"/>
<circle cx="550.2" cy="705.2" r="1.1" fill="#2a3f9e" fill-opacity="0.9"/>
<circle cx="539.8" cy="720.4" r="1.1" fill="#2a3f9e" fill-opacity="0.9"/>
<circle cx="536.3" cy="706.1" r="1.1" fill="#2a3f9e" fill-opacity="0.9"/>
<circle cx="537.6" cy="717.7" r="1.1" fill="#2a3f9e" fill-opacity="0.9"/>
<circle cx="550.4" cy="704.9" r="1.1" fill="#2a3f9e" fill-opacity="0.9"/>
<circle cx="544.4" cy="708" r="1.1" fill="#2a3f9e" fill-opacity="0.9"/>
<circle cx="540.5" cy="707.8" r="1.1" fill="#2a3f9e" fill-opacity="0.9"/>
<circle cx="539.8" cy="715.1" r="1.1" fill="#2a3f9e" fill-opacity="0.9"/>
<circle cx="548.7" cy="714.6" r="1.1" fill="#2a3f9e" fill-opacity="0.9"/>
<circle cx="535" cy="717" r="1.1" fill="#2a3f9e" fill-opacity="0.9"/>
<circle cx="541.9" cy="707.1" r="1.1" fill="#2a3f9e" fill-opacity="0.9"/>
<circle cx="555.5" cy="713.3" r="1.1" fill="#2a3f9e" fill-opacity="0.9"/>
<circle cx="549" cy="716.2" r="1.1" fill="#2a3f9e" fill-opacity="0.9"/>
<circle cx="533.9" cy="706.4" r="1.1" fill="#2a3f9e" fill-opacity="0.9"/>
<circle cx="554" cy="710.9" r="1.1" fill="#2a3f9e" fill-opacity="0.9"/>
<circle cx="549.7" cy="710.5" r="1.1" fill="#2a3f9e" fill-opacity="0.9"/>
<circle cx="540.7" cy="713.2" r="1.1" fill="#2a3f9e" fill-opacity="0.9"/>
<circle cx="546.2" cy="698.8" r="1.1" fill="#2a3f9e" fill-opacity="0.9"/>
<circle cx="539.6" cy="697.4" r="1.1" fill="#2a3f9e" fill-opacity="0.9"/>
<circle cx="550.1" cy="703.9" r="1.1" fill="#2a3f9e" fill-opacity="0.9"/>
<circle cx="535.2" cy="696.9" r="1.1" fill="#2a3f9e" fill-opacity="0.9"/>
<circle cx="543.4" cy="695.7" r="1.1" fill="#2a3f9e" fill-opacity="0.9"/>
<circle cx="542.6" cy="695.9" r="1.1" fill="#2a3f9e" fill-opacity="0.9"/>
<circle cx="543.9" cy="695.9" r="1.1" fill="#2a3f9e" fill-opacity="0.9"/>
<circle cx="548.8" cy="699.2" r="1.1" fill="#2a3f9e" fill-opacity="0.9"/>
<circle cx="536.4" cy="697.5" r="1.1" fill="#2a3f9e" fill-opacity="0.9"/>
<circle cx="533" cy="702.8" r="1.1" fill="#2a3f9e" fill-opacity="0.9"/>
<circle cx="544.3" cy="700.3" r="1.1" fill="#2a3f9e" fill-opacity="0.9"/>
<circle cx="537.6" cy="703.8" r="1.1" fill="#2a3f9e" fill-opacity="0.9"/>
<circle cx="541.3" cy="697.8" r="1.1" fill="#2a3f9e" fill-opacity="0.9"/>
<circle cx="536.5" cy="695.4" r="1.1" fill="#2a3f9e" fill-opacity="0.9"/>
<circle cx="549.2" cy="697" r="1.1" fill="#2a3f9e" fill-opacity="0.9"/>
<circle cx="550.9" cy="704.1" r="1.1" fill="#2a3f9e" fill-opacity="0.9"/>
<circle cx="532.1" cy="699.7" r="1.1" fill="#2a3f9e" fill-opacity="0.9"/>
<circle cx="546.9" cy="702.3" r="1.1" fill="#2a3f9e" fill-opacity="0.9"/>
<circle cx="551.2" cy="702.1" r="1.1" fill="#2a3f9e" fill-opacity="0.9"/>
<circle cx="531.7" cy="700.9" r="1.1" fill="#2a3f9e" fill-opacity="0.9"/>
<circle cx="532.2" cy="702.4" r="1.1" fill="#2a3f9e" fill-opacity="0.9"/>
<circle cx="553.3" cy="696" r="1.1" fill="#2a3f9e" fill-opacity="0.9"/>
<circle cx="547.9" cy="701.8" r="1.1" fill="#2a3f9e" fill-opacity="0.9"/>
<circle cx="548.9" cy="698.3" r="1.1" fill="#2a3f9e" fill-opacity="0.9"/>
<circle cx="554.9" cy="700.8" r="1.1" fill="#2a3f9e" fill-opacity="0.9"/>
<circle cx="549.7" cy="702.5" r="1.1" fill="#2a3f9e" fill-opacity="0.9"/>
<circle cx="551.8" cy="704.2" r="1.1" fill="#2a3f9e" fill-opacity="0.9"/>
<circle cx="538.7" cy="697.1" r="1.1" fill="#2a3f9e" fill-opacity="0.9"/>
<circle cx="549.4" cy="700.7" r="1.1" fill="#2a3f9e" fill-opacity="0.9"/>
<circle cx="552.6" cy="701.4" r="1.1" fill="#2a3f9e" fill-opacity="0.9"/>
<circle cx="534.3" cy="696.5" r="1.1" fill="#2a3f9e" fill-opacity="0.9"/>
<circle cx="547.1" cy="693.1" r="1.1" fill="#2a3f9e" fill-opacity="0.9"/>
<circle cx="543.7" cy="687.6" r="1.1" fill="#2a3f9e" fill-opacity="0.9"/>
<circle cx="533" cy="688.7" r="1.1" fill="#2a3f9e" fill-opacity="0.9"/>
<circle cx="533.2" cy="695.1" r="1.1" fill="#2a3f9e" fill-opacity="0.9"/>
<circle cx="534.7" cy="694.5" r="1.1" fill="#2a3f9e" fill-opacity="0.9"/>
<circle cx="537.9" cy="688.4" r="1.1" fill="#2a3f9e" fill-opacity="0.9"/>
<circle cx="532.6" cy="687" r="1.1" fill="#2a3f9e" fill-opacity="0.9"/>
<circle cx="548.5" cy="685.1" r="1.1" fill="#2a3f9e" fill-opacity="0.9"/>
<circle cx="543.8" cy="686.3" r="1.1" fill="#2a3f9e" fill-opacity="0.9"/>
<circle cx="532.1" cy="692.7" r="1.1" fill="#2a3f9e" fill-opacity="0.9"/>
<circle cx="550.4" cy="690.4" r="1.1" fill="#2a3f9e" fill-opacity="0.9"/>
<circle cx="545.6" cy="686" r="1.1" fill="#2a3f9e" fill-opacity="0.9"/>
<circle cx="534.4" cy="688.3" r="1.1" fill="#2a3f9e" fill-opacity="0.9"/>
<circle cx="547.4" cy="694.7" r="1.1" fill="#2a3f9e" fill-opacity="0.9"/>
<circle cx="554" cy="692.8" r="1.1" fill="#2a3f9e" fill-opacity="0.9"/>
<circle cx="537.2" cy="688.3" r="1.1" fill="#2a3f9e" fill-opacity="0.9"/>
<circle cx="533.7" cy="695.2" r="1.1" fill="#2a3f9e" fill-opacity="0.9"/>
<circle cx="549.4" cy="688.5" r="1.1" fill="#2a3f9e" fill-opacity="0.9"/>
<circle cx="531.8" cy="695.1" r="1.1" fill="#2a3f9e" fill-opacity="0.9"/>
<circle cx="541.8" cy="686.2" r="1.1" fill="#2a3f9e" fill-opacity="0.9"/>
<circle cx="547.6" cy="691.3" r="1.1" fill="#2a3f9e" fill-opacity="0.9"/>
<circle cx="548.2" cy="691.5" r="1.1" fill="#2a3f9e" fill-opacity="0.9"/>
<circle cx="542.4" cy="689.9" r="1.1" fill="#2a3f9e" fill-opacity="0.9"/>
<circle cx="543.2" cy="694.9" r="1.1" fill="#2a3f9e" fill-opacity="0.9"/>
<circle cx="552.1" cy="694" r="1.1" fill="#2a3f9e" fill-opacity="0.9"/>
<circle cx="545.5" cy="691.4" r="1.1" fill="#2a3f9e" fill-opacity="0.9"/>
<circle cx="550.4" cy="690.6" r="1.1" fill="#2a3f9e" fill-opacity="0.9"/>
<circle cx="532.1" cy="686.9" r="1.1" fill="#2a3f9e" fill-opacity="0.9"/>
<circle cx="542.9" cy="693.6" r="1.1" fill="#2a3f9e" fill-opacity="0.9"/>
<circle cx="543.5" cy="689.7" r="1.1" fill="#2a3f9e" fill-opacity="0.9"/>
<circle cx="550.4" cy="685.4" r="1.1" fill="#2a3f9e" fill-opacity="0.9"/>
<circle cx="550.8" cy="670.5" r="1.1" fill="#2a3f9e" fill-opacity="0.9"/>
<circle cx="544.7" cy="683.7" r="1.1" fill="#2a3f9e" fill-opacity="0.9"/>
<circle cx="531.9" cy="671.4" r="1.1" fill="#2a3f9e" fill-opacity="0.9"/>
<circle cx="539.6" cy="677.1" r="1.1" fill="#2a3f9e" fill-opacity="0.9"/>
<circle cx="531.9" cy="679.2" r="1.1" fill="#2a3f9e" fill-opacity="0.9"/>
<circle cx="535.6" cy="658.1" r="1.1" fill="#2a3f9e" fill-opacity="0.9"/>
<circle cx="550.9" cy="670.3" r="1.1" fill="#2a3f9e" fill-opacity="0.9"/>
<circle cx="549.3" cy="672.1" r="1.1" fill="#2a3f9e" fill-opacity="0.9"/>
<circle cx="553.2" cy="683.6" r="1.1" fill="#2a3f9e" fill-opacity="0.9"/>
<circle cx="547.9" cy="681.5" r="1.1" fill="#2a3f9e" fill-opacity="0.9"/>
<circle cx="542.9" cy="667.5" r="1.1" fill="#2a3f9e" fill-opacity="0.9"/>
<circle cx="551.7" cy="677.7" r="1.1" fill="#2a3f9e" fill-opacity="0.9"/>
<circle cx="544.2" cy="664.2" r="1.1" fill="#2a3f9e" fill-opacity="0.9"/>
<circle cx="543.2" cy="668.4" r="1.1" fill="#2a3f9e" fill-opacity="0.9"/>
<circle cx="543.1" cy="677" r="1.1" fill="#2a3f9e" fill-opacity="0.9"/>
<circle cx="545.6" cy="664.4" r="1.1" fill="#2a3f9e" fill-opacity="0.9"/>
<circle cx="541.4" cy="673.3" r="1.1" fill="#2a3f9e" fill-opacity="0.9"/>
<circle cx="536.4" cy="684" r="1.1" fill="#2a3f9e" fill-opacity="0.9"/>
<circle cx="532.5" cy="668.2" r="1.1" fill="#2a3f9e" fill-opacity="0.9"/>
<circle cx="542.6" cy="682.5" r="1.1" fill="#2a3f9e" fill-opacity="0.9"/>
<circle cx="541.9" cy="663.5" r="1.1" fill="#2a3f9e" fill-opacity="0.9"/>
<circle cx="541.1" cy="681.2" r="1.1" fill="#2a3f9e" fill-opacity="0.9"/>
<circle cx="544.6" cy="676.6" r="1.1" fill="#2a3f9e" fill-opacity="0.9"/>
<circle cx="538.3" cy="662.9" r="1.1" fill="#2a3f9e" fill-opacity="0.9"/>
<circle cx="532.5" cy="683.7" r="1.1" fill="#2a3f9e" fill-opacity="0.9"/>
<circle cx="539.5" cy="670.1" r="1.1" fill="#2a3f9e" fill-opacity="0.9"/>
<circle cx="550.5" cy="660.3" r="1.1" fill="#2a3f9e" fill-opacity="0.9"/>
<circle cx="549.4" cy="671.4" r="1.1" fill="#2a3f9e" fill-opacity="0.9"/>
<circle cx="555.3" cy="668.2" r="1.1" fill="#2a3f9e" fill-opacity="0.9"/>
<circle cx="554.4" cy="680.3" r="1.1" fill="#2a3f9e" fill-opacity="0.9"/>
<circle cx="564.8" cy="742.2" r="1.1" fill="#e2a93c" fill-opacity="0.9"/>
<circle cx="578.2" cy="724.2" r="1.1" fill="#e2a93c" fill-opacity="0.9"/>
<circle cx="575.7" cy="710.9" r="1.1" fill="#e2a93c" fill-opacity="0.9"/>
<circle cx="583.3" cy="689.9" r="1.1" fill="#e2a93c" fill-opacity="0.9"/>
<circle cx="584.2" cy="641.2" r="1.1" fill="#e2a93c" fill-opacity="0.9"/>
<circle cx="567.6" cy="729.4" r="1.1" fill="#e2a93c" fill-opacity="0.9"/>
<circle cx="562" cy="736.2" r="1.1" fill="#e2a93c" fill-opacity="0.9"/>
<circle cx="581.7" cy="730.1" r="1.1" fill="#e2a93c" fill-opacity="0.9"/>
<circle cx="572.9" cy="728.5" r="1.1" fill="#e2a93c" fill-opacity="0.9"/>
<circle cx="569.2" cy="730.7" r="1.1" fill="#e2a93c" fill-opacity="0.9"/>
<circle cx="570.1" cy="739.4" r="1.1" fill="#e2a93c" fill-opacity="0.9"/>
<circle cx="566.2" cy="733.7" r="1.1" fill="#e2a93c" fill-opacity="0.9"/>
<circle cx="584.6" cy="735.3" r="1.1" fill="#e2a93c" fill-opacity="0.9"/>
<circle cx="576" cy="733.8" r="1.1" fill="#e2a93c" fill-opacity="0.9"/>
<circle cx="573.5" cy="725.2" r="1.1" fill="#e2a93c" fill-opacity="0.9"/>
<circle cx="574.4" cy="729.5" r="1.1" fill="#e2a93c" fill-opacity="0.9"/>
<circle cx="578.7" cy="726.8" r="1.1" fill="#e2a93c" fill-opacity="0.9"/>
<circle cx="566.3" cy="726.9" r="1.1" fill="#e2a93c" fill-opacity="0.9"/>
<circle cx="574.1" cy="724.3" r="1.1" fill="#e2a93c" fill-opacity="0.9"/>
<circle cx="583.4" cy="727.8" r="1.1" fill="#e2a93c" fill-opacity="0.9"/>
<circle cx="573.9" cy="738" r="1.1" fill="#e2a93c" fill-opacity="0.9"/>
<circle cx="580.2" cy="726.7" r="1.1" fill="#e2a93c" fill-opacity="0.9"/>
<circle cx="567.6" cy="724.6" r="1.1" fill="#e2a93c" fill-opacity="0.9"/>
<circle cx="582.3" cy="724.3" r="1.1" fill="#e2a93c" fill-opacity="0.9"/>
<circle cx="577.9" cy="737.7" r="1.1" fill="#e2a93c" fill-opacity="0.9"/>
<circle cx="583.6" cy="736.2" r="1.1" fill="#e2a93c" fill-opacity="0.9"/>
<circle cx="567.1" cy="741" r="1.1" fill="#e2a93c" fill-opacity="0.9"/>
<circle cx="582.8" cy="732.2" r="1.1" fill="#e2a93c" fill-opacity="0.9"/>
<circle cx="570.2" cy="734.4" r="1.1" fill="#e2a93c" fill-opacity="0.9"/>
<circle cx="577.5" cy="733.2" r="1.1" fill="#e2a93c" fill-opacity="0.9"/>
<circle cx="577.6" cy="738.6" r="1.1" fill="#e2a93c" fill-opacity="0.9"/>
<circle cx="561.9" cy="729.3" r="1.1" fill="#e2a93c" fill-opacity="0.9"/>
<circle cx="563.4" cy="735.7" r="1.1" fill="#e2a93c" fill-opacity="0.9"/>
<circle cx="579.6" cy="727.4" r="1.1" fill="#e2a93c" fill-opacity="0.9"/>
<circle cx="573.5" cy="724.2" r="1.1" fill="#e2a93c" fill-opacity="0.9"/>
<circle cx="564.9" cy="733.4" r="1.1" fill="#e2a93c" fill-opacity="0.9"/>
<circle cx="566.5" cy="729.6" r="1.1" fill="#e2a93c" fill-opacity="0.9"/>
<circle cx="564.1" cy="734.2" r="1.1" fill="#e2a93c" fill-opacity="0.9"/>
<circle cx="568" cy="740.8" r="1.1" fill="#e2a93c" fill-opacity="0.9"/>
<circle cx="585.1" cy="741" r="1.1" fill="#e2a93c" fill-opacity="0.9"/>
<circle cx="568.1" cy="724.7" r="1.1" fill="#e2a93c" fill-opacity="0.9"/>
<circle cx="575.8" cy="720.5" r="1.1" fill="#e2a93c" fill-opacity="0.9"/>
<circle cx="567" cy="720.3" r="1.1" fill="#e2a93c" fill-opacity="0.9"/>
<circle cx="575.6" cy="719.4" r="1.1" fill="#e2a93c" fill-opacity="0.9"/>
<circle cx="577.5" cy="715.1" r="1.1" fill="#e2a93c" fill-opacity="0.9"/>
<circle cx="579.8" cy="720.5" r="1.1" fill="#e2a93c" fill-opacity="0.9"/>
<circle cx="582.6" cy="721.8" r="1.1" fill="#e2a93c" fill-opacity="0.9"/>
<circle cx="576.2" cy="722.4" r="1.1" fill="#e2a93c" fill-opacity="0.9"/>
<circle cx="577.5" cy="722.5" r="1.1" fill="#e2a93c" fill-opacity="0.9"/>
<circle cx="579.8" cy="721" r="1.1" fill="#e2a93c" fill-opacity="0.9"/>
<circle cx="580.4" cy="711.7" r="1.1" fill="#e2a93c" fill-opacity="0.9"/>
<circle cx="576.1" cy="721.9" r="1.1" fill="#e2a93c" fill-opacity="0.9"/>
<circle cx="580.3" cy="717.2" r="1.1" fill="#e2a93c" fill-opacity="0.9"/>
<circle cx="568.4" cy="723.7" r="1.1" fill="#e2a93c" fill-opacity="0.9"/>
<circle cx="567.5" cy="715.2" r="1.1" fill="#e2a93c" fill-opacity="0.9"/>
<circle cx="562.2" cy="719.2" r="1.1" fill="#e2a93c" fill-opacity="0.9"/>
<circle cx="583.4" cy="716.1" r="1.1" fill="#e2a93c" fill-opacity="0.9"/>
<circle cx="573.2" cy="717.9" r="1.1" fill="#e2a93c" fill-opacity="0.9"/>
<circle cx="574" cy="722.6" r="1.1" fill="#e2a93c" fill-opacity="0.9"/>
<circle cx="564.9" cy="720.9" r="1.1" fill="#e2a93c" fill-opacity="0.9"/>
<circle cx="568.3" cy="721.4" r="1.1" fill="#e2a93c" fill-opacity="0.9"/>
<circle cx="582" cy="721.6" r="1.1" fill="#e2a93c" fill-opacity="0.9"/>
<circle cx="573.8" cy="712.1" r="1.1" fill="#e2a93c" fill-opacity="0.9"/>
<circle cx="567.8" cy="711.2" r="1.1" fill="#e2a93c" fill-opacity="0.9"/>
<circle cx="582.6" cy="715.6" r="1.1" fill="#e2a93c" fill-opacity="0.9"/>
<circle cx="584.8" cy="715.6" r="1.1" fill="#e2a93c" fill-opacity="0.9"/>
<circle cx="564.2" cy="717.7" r="1.1" fill="#e2a93c" fill-opacity="0.9"/>
<circle cx="576" cy="722.4" r="1.1" fill="#e2a93c" fill-opacity="0.9"/>
<circle cx="566.8" cy="718.3" r="1.1" fill="#e2a93c" fill-opacity="0.9"/>
<circle cx="567.4" cy="719.7" r="1.1" fill="#e2a93c" fill-opacity="0.9"/>
<circle cx="572" cy="723.8" r="1.1" fill="#e2a93c" fill-opacity="0.9"/>
<circle cx="568" cy="711.1" r="1.1" fill="#e2a93c" fill-opacity="0.9"/>
<circle cx="562.2" cy="719.8" r="1.1" fill="#e2a93c" fill-opacity="0.9"/>
<circle cx="570.3" cy="712.9" r="1.1" fill="#e2a93c" fill-opacity="0.9"/>
<circle cx="583.1" cy="718.2" r="1.1" fill="#e2a93c" fill-opacity="0.9"/>
<circle cx="578.2" cy="722.4" r="1.1" fill="#e2a93c" fill-opacity="0.9"/>
<circle cx="581.7" cy="717.7" r="1.1" fill="#e2a93c" fill-opacity="0.9"/>
<circle cx="575.2" cy="710.9" r="1.1" fill="#e2a93c" fill-opacity="0.9"/>
<circle cx="576.3" cy="703.8" r="1.1" fill="#e2a93c" fill-opacity="0.9"/>
<circle cx="576.3" cy="692.7" r="1.1" fill="#e2a93c" fill-opacity="0.9"/>
<circle cx="570.8" cy="705.7" r="1.1" fill="#e2a93c" fill-opacity="0.9"/>
<circle cx="566.3" cy="705.7" r="1.1" fill="#e2a93c" fill-opacity="0.9"/>
<circle cx="582.9" cy="700.1" r="1.1" fill="#e2a93c" fill-opacity="0.9"/>
<circle cx="573.5" cy="700.9" r="1.1" fill="#e2a93c" fill-opacity="0.9"/>
<circle cx="576" cy="709.5" r="1.1" fill="#e2a93c" fill-opacity="0.9"/>
<circle cx="563.9" cy="690.1" r="1.1" fill="#e2a93c" fill-opacity="0.9"/>
<circle cx="579.4" cy="692.4" r="1.1" fill="#e2a93c" fill-opacity="0.9"/>
<circle cx="583" cy="710.5" r="1.1" fill="#e2a93c" fill-opacity="0.9"/>
<circle cx="584.3" cy="696.3" r="1.1" fill="#e2a93c" fill-opacity="0.9"/>
<circle cx="580.7" cy="692.5" r="1.1" fill="#e2a93c" fill-opacity="0.9"/>
<circle cx="583.8" cy="694" r="1.1" fill="#e2a93c" fill-opacity="0.9"/>
<circle cx="580.7" cy="691" r="1.1" fill="#e2a93c" fill-opacity="0.9"/>
<circle cx="569.9" cy="707.2" r="1.1" fill="#e2a93c" fill-opacity="0.9"/>
<circle cx="575.8" cy="692.8" r="1.1" fill="#e2a93c" fill-opacity="0.9"/>
<circle cx="571.2" cy="710.6" r="1.1" fill="#e2a93c" fill-opacity="0.9"/>
<circle cx="574.9" cy="697.8" r="1.1" fill="#e2a93c" fill-opacity="0.9"/>
<circle cx="571.5" cy="694.2" r="1.1" fill="#e2a93c" fill-opacity="0.9"/>
<circle cx="567.7" cy="706.4" r="1.1" fill="#e2a93c" fill-opacity="0.9"/>
<circle cx="583.1" cy="705.7" r="1.1" fill="#e2a93c" fill-opacity="0.9"/>
<circle cx="574.2" cy="702.2" r="1.1" fill="#e2a93c" fill-opacity="0.9"/>
<circle cx="565.6" cy="703.2" r="1.1" fill="#e2a93c" fill-opacity="0.9"/>
<circle cx="572.1" cy="704.3" r="1.1" fill="#e2a93c" fill-opacity="0.9"/>
<circle cx="579.1" cy="707.7" r="1.1" fill="#e2a93c" fill-opacity="0.9"/>
<circle cx="578.7" cy="709.6" r="1.1" fill="#e2a93c" fill-opacity="0.9"/>
<circle cx="574.9" cy="702" r="1.1" fill="#e2a93c" fill-opacity="0.9"/>
<circle cx="574.5" cy="708.2" r="1.1" fill="#e2a93c" fill-opacity="0.9"/>
<circle cx="581.5" cy="699.3" r="1.1" fill="#e2a93c" fill-opacity="0.9"/>
<circle cx="579.5" cy="697.2" r="1.1" fill="#e2a93c" fill-opacity="0.9"/>
<circle cx="565" cy="698.8" r="1.1" fill="#e2a93c" fill-opacity="0.9"/>
<circle cx="568.2" cy="706.2" r="1.1" fill="#e2a93c" fill-opacity="0.9"/>
<circle cx="576.1" cy="690" r="1.1" fill="#e2a93c" fill-opacity="0.9"/>
<circle cx="564.4" cy="695.3" r="1.1" fill="#e2a93c" fill-opacity="0.9"/>
<circle cx="581.9" cy="710.4" r="1.1" fill="#e2a93c" fill-opacity="0.9"/>
<circle cx="567.3" cy="654.2" r="1.1" fill="#e2a93c" fill-opacity="0.9"/>
<circle cx="576.3" cy="641.5" r="1.1" fill="#e2a93c" fill-opacity="0.9"/>
<circle cx="585.2" cy="685.3" r="1.1" fill="#e2a93c" fill-opacity="0.9"/>
<circle cx="576" cy="672.3" r="1.1" fill="#e2a93c" fill-opacity="0.9"/>
<circle cx="582.1" cy="651.6" r="1.1" fill="#e2a93c" fill-opacity="0.9"/>
<circle cx="572.9" cy="685" r="1.1" fill="#e2a93c" fill-opacity="0.9"/>
<circle cx="566.3" cy="661.4" r="1.1" fill="#e2a93c" fill-opacity="0.9"/>
<circle cx="577" cy="652.8" r="1.1" fill="#e2a93c" fill-opacity="0.9"/>
<circle cx="561.8" cy="685.7" r="1.1" fill="#e2a93c" fill-opacity="0.9"/>
<circle cx="570.3" cy="681.2" r="1.1" fill="#e2a93c" fill-opacity="0.9"/>
<circle cx="581.2" cy="667" r="1.1" fill="#e2a93c" fill-opacity="0.9"/>
<circle cx="565.6" cy="653.3" r="1.1" fill="#e2a93c" fill-opacity="0.9"/>
<circle cx="581.4" cy="689.9" r="1.1" fill="#e2a93c" fill-opacity="0.9"/>
<circle cx="581.3" cy="667.7" r="1.1" fill="#e2a93c" fill-opacity="0.9"/>
<circle cx="580.6" cy="672.2" r="1.1" fill="#e2a93c" fill-opacity="0.9"/>
<circle cx="584.9" cy="666.2" r="1.1" fill="#e2a93c" fill-opacity="0.9"/>
<circle cx="579" cy="683.9" r="1.1" fill="#e2a93c" fill-opacity="0.9"/>
<circle cx="585.1" cy="672.6" r="1.1" fill="#e2a93c" fill-opacity="0.9"/>
<circle cx="567.7" cy="647.1" r="1.1" fill="#e2a93c" fill-opacity="0.9"/>
<circle cx="566" cy="646.6" r="1.1" fill="#e2a93c" fill-opacity="0.9"/>
<circle cx="574" cy="675.5" r="1.1" fill="#e2a93c" fill-opacity="0.9"/>
<circle cx="564.1" cy="672.8" r="1.1" fill="#e2a93c" fill-opacity="0.9"/>
<circle cx="580.5" cy="677.1" r="1.1" fill="#e2a93c" fill-opacity="0.9"/>
<circle cx="561.9" cy="687.7" r="1.1" fill="#e2a93c" fill-opacity="0.9"/>
<circle cx="582.9" cy="661.3" r="1.1" fill="#e2a93c" fill-opacity="0.9"/>
<circle cx="562.8" cy="641.6" r="1.1" fill="#e2a93c" fill-opacity="0.9"/>
<circle cx="583.3" cy="672.2" r="1.1" fill="#e2a93c" fill-opacity="0.9"/>
<circle cx="567.6" cy="663.2" r="1.1" fill="#e2a93c" fill-opacity="0.9"/>
<circle cx="570" cy="653.3" r="1.1" fill="#e2a93c" fill-opacity="0.9"/>
<circle cx="570.8" cy="647.2" r="1.1" fill="#e2a93c" fill-opacity="0.9"/>
<circle cx="564.6" cy="678" r="1.1" fill="#e2a93c" fill-opacity="0.9"/>
<circle cx="580.3" cy="682.5" r="1.1" fill="#e2a93c" fill-opacity="0.9"/>
<circle cx="585.3" cy="677.4" r="1.1" fill="#e2a93c" fill-opacity="0.9"/>
<circle cx="581.7" cy="686.4" r="1.1" fill="#e2a93c" fill-opacity="0.9"/>
<circle cx="569.4" cy="672.7" r="1.1" fill="#e2a93c" fill-opacity="0.9"/>
<line x1="468.1" y1="636.3" x2="468.1" y2="747.1" stroke="#262626" stroke-width="1.1"/>
<line x1="467.6" y1="746.6" x2="590.8" y2="746.6" stroke="#262626" stroke-width="1.1"/>
<line x1="465.7" y1="742.2" x2="468.1" y2="742.2" stroke="#262626" stroke-width="1"/>
<text x="464.1" y="745.3" font-size="8.7" fill="#4d4d4d" text-anchor="end">0</text>
<line x1="465.7" y1="718.2" x2="468.1" y2="718.2" stroke="#262626" stroke-width="1"/>
<text x="464.1" y="721.3" font-size="8.7" fill="#4d4d4d" text-anchor="end">20</text>
<line x1="465.7" y1="694.1" x2="468.1" y2="694.1" stroke="#262626" stroke-width="1"/>
<text x="464.1" y="697.2" font-size="8.7" fill="#4d4d4d" text-anchor="end">40</text>
<line x1="465.7" y1="670.1" x2="468.1" y2="670.1" stroke="#262626" stroke-width="1"/>
<text x="464.1" y="673.2" font-size="8.7" fill="#4d4d4d" text-anchor="end">60</text>
<line x1="465.7" y1="646" x2="468.1" y2="646" stroke="#262626" stroke-width="1"/>
<text x="464.1" y="649.1" font-size="8.7" fill="#4d4d4d" text-anchor="end">80</text>
<text x="435.2" y="691.5" font-size="8.5" fill="#000" text-anchor="middle" transform="rotate(-90 435.2 691.5)">percent of variance in fitness</text>
<text x="444.8" y="691.5" font-size="8.5" fill="#000" text-anchor="middle" transform="rotate(-90 444.8 691.5)">explained by protein stability</text>
<text x="486.5" y="636.3" font-size="7.2" fill="#000" text-anchor="middle">n=48</text>
<text x="514.1" y="636.3" font-size="7.2" fill="#000" text-anchor="middle">n=195</text>
<text x="543.5" y="636.3" font-size="7.2" fill="#000" text-anchor="middle">n=128</text>
<text x="573.7" y="636.3" font-size="7.2" fill="#000" text-anchor="middle">n=148</text>
<text x="616.8" y="667.4" font-size="8.1" fill="#000">scop_class</text>
<rect x="617.4" y="672.8" width="12.3" height="12.3" fill="#c7d0ef" stroke="#93a5da" stroke-width="0.7"/>
<circle cx="623.5" cy="678.9" r="0.6" fill="#9aabe0"/>
<text x="633.8" y="681.2" font-size="6.8" fill="#000">a/b a+b</text>
<rect x="617.4" y="685.5" width="12.3" height="12.3" fill="#ee7880" stroke="#bf1f2b" stroke-width="0.7"/>
<circle cx="623.5" cy="691.7" r="0.6" fill="#d9262f"/>
<text x="633.8" y="693.9" font-size="6.8" fill="#000">all alpha</text>
<rect x="617.4" y="698.3" width="12.3" height="12.3" fill="#7d8fcb" stroke="#243585" stroke-width="0.7"/>
<circle cx="623.5" cy="704.4" r="0.6" fill="#2b3f9c"/>
<text x="633.8" y="706.7" font-size="6.8" fill="#000">all beta</text>
<rect x="617.4" y="711" width="12.3" height="12.3" fill="#f2cf8d" stroke="#c99a3c" stroke-width="0.7"/>
<circle cx="623.5" cy="717.2" r="0.6" fill="#e0a93e"/>
<text x="633.8" y="719.4" font-size="6.8" fill="#000">small proteins</text>
<text x="412.6" y="769" font-size="10.5" fill="#000" font-weight="bold">g</text>
<text x="472" y="770" font-size="10.2" fill="#000">biochemical functions</text>
<path d="M487.4,886.5 L487.5,885.5 L487.7,884.6 L487.9,883.6 L488.1,882.6 L488.4,881.7 L488.7,880.7 L489.1,879.7 L489.5,878.8 L490,877.8 L490.5,876.8 L491.1,875.9 L491.8,874.9 L492.4,873.9 L493,873 L493.6,872 L494.1,871 L494.5,870.1 L494.8,869.1 L494.9,868.1 L495,867.2 L495,866.2 L494.9,865.3 L494.8,864.3 L494.7,863.3 L494.5,862.4 L494.3,861.4 L494.1,860.4 L493.8,859.5 L493.6,858.5 L493.3,857.5 L493,856.6 L492.7,855.6 L492.3,854.6 L491.9,853.7 L491.5,852.7 L491.1,851.7 L490.7,850.8 L490.3,849.8 L489.9,848.8 L489.6,847.9 L489.3,846.9 L488.9,845.9 L488.7,845 L488.4,844 L488.1,843.1 L487.9,842.1 L487.7,841.1 L487.5,840.2 L487.3,839.2 L487.2,838.2 L487.1,837.3 L487.1,836.3 L487.1,835.3 L487,834.4 L487,833.4 L487,832.4 L487,831.5 L487.1,830.5 L487.1,829.5 L487.1,828.6 L487.2,827.6 L487.2,826.6 L487.2,825.7 L487.3,824.7 L487.3,823.7 L487.2,822.8 L487.2,821.8 L487.1,820.9 L487.1,819.9 L487,818.9 L486.9,818 L486.8,817 L486.8,816 L486.8,815.1 L486.8,814.1 L486.8,813.1 L486.8,812.2 L486.8,811.2 L486.8,810.2 L486.8,809.3 L486.8,808.3 L486.8,807.3 L486.8,806.4 L486.8,805.4 L486.9,804.4 L486.9,803.5 L486.9,802.5 L486.9,801.5 L486.9,800.6 L486.1,800.6 L486.1,801.5 L486.1,802.5 L486.1,803.5 L486.1,804.4 L486.2,805.4 L486.2,806.4 L486.2,807.3 L486.2,808.3 L486.2,809.3 L486.2,810.2 L486.2,811.2 L486.2,812.2 L486.2,813.1 L486.2,814.1 L486.2,815.1 L486.2,816 L486.2,817 L486.1,818 L486,818.9 L485.9,819.9 L485.9,820.9 L485.8,821.8 L485.8,822.8 L485.7,823.7 L485.7,824.7 L485.8,825.7 L485.8,826.6 L485.8,827.6 L485.9,828.6 L485.9,829.5 L485.9,830.5 L486,831.5 L486,832.4 L486,833.4 L486,834.4 L485.9,835.3 L485.9,836.3 L485.9,837.3 L485.8,838.2 L485.7,839.2 L485.5,840.2 L485.3,841.1 L485.1,842.1 L484.9,843.1 L484.6,844 L484.3,845 L484.1,845.9 L483.7,846.9 L483.4,847.9 L483.1,848.8 L482.7,849.8 L482.3,850.8 L481.9,851.7 L481.5,852.7 L481.1,853.7 L480.7,854.6 L480.3,855.6 L480,856.6 L479.7,857.5 L479.4,858.5 L479.2,859.5 L478.9,860.4 L478.7,861.4 L478.5,862.4 L478.3,863.3 L478.2,864.3 L478.1,865.3 L478,866.2 L478,867.2 L478.1,868.1 L478.2,869.1 L478.5,870.1 L478.9,871 L479.4,872 L480,873 L480.6,873.9 L481.2,874.9 L481.9,875.9 L482.5,876.8 L483,877.8 L483.5,878.8 L483.9,879.7 L484.3,880.7 L484.6,881.7 L484.9,882.6 L485.1,883.6 L485.3,884.6 L485.5,885.5 L485.6,886.5Z" fill="#e6e6e6" stroke="#3c3c3c" stroke-width="0.5" stroke-linejoin="round"/>
<path d="M517.8,887.7 L518.1,886.6 L518.4,885.6 L518.6,884.5 L518.9,883.4 L519.1,882.4 L519.3,881.3 L519.5,880.2 L519.6,879.2 L519.7,878.1 L519.8,877 L519.9,876 L519.9,874.9 L519.9,873.8 L519.9,872.8 L519.9,871.7 L519.8,870.6 L519.8,869.6 L519.7,868.5 L519.6,867.4 L519.6,866.4 L519.5,865.3 L519.5,864.2 L519.4,863.2 L519.4,862.1 L519.3,861 L519.3,860 L519.3,858.9 L519.2,857.8 L519.2,856.7 L519.2,855.7 L519.2,854.6 L519.2,853.5 L519.2,852.5 L519.2,851.4 L519.2,850.3 L519.2,849.3 L519.2,848.2 L519.2,847.1 L519.2,846.1 L519.2,845 L519.1,843.9 L519.1,842.9 L519,841.8 L518.9,840.7 L518.8,839.7 L518.7,838.6 L518.6,837.5 L518.4,836.5 L518.3,835.4 L518.2,834.3 L518,833.3 L517.9,832.2 L517.7,831.1 L517.6,830.1 L517.4,829 L517.3,827.9 L517.1,826.9 L517,825.8 L516.8,824.7 L516.7,823.7 L516.5,822.6 L516.4,821.5 L516.2,820.5 L516.1,819.4 L516,818.3 L515.8,817.3 L515.7,816.2 L515.6,815.1 L515.5,814.1 L515.5,813 L515.4,811.9 L515.4,810.9 L515.4,809.8 L515.4,808.7 L515.4,807.7 L515.4,806.6 L515.4,805.5 L515.4,804.5 L515.4,803.4 L515.4,802.3 L515.4,801.3 L515.4,800.2 L515.4,799.1 L515.4,798.1 L515.4,797 L515.4,795.9 L515.4,794.8 L515.4,793.8 L515.4,792.7 L514.8,792.7 L514.8,793.8 L514.8,794.8 L514.8,795.9 L514.8,797 L514.8,798.1 L514.8,799.1 L514.8,800.2 L514.8,801.3 L514.8,802.3 L514.8,803.4 L514.8,804.5 L514.8,805.5 L514.8,806.6 L514.8,807.7 L514.8,808.7 L514.8,809.8 L514.8,810.9 L514.8,811.9 L514.7,813 L514.7,814.1 L514.6,815.1 L514.5,816.2 L514.4,817.3 L514.2,818.3 L514.1,819.4 L514,820.5 L513.8,821.5 L513.7,822.6 L513.5,823.7 L513.4,824.7 L513.2,825.8 L513.1,826.9 L512.9,827.9 L512.8,829 L512.6,830.1 L512.5,831.1 L512.3,832.2 L512.2,833.3 L512,834.3 L511.9,835.4 L511.8,836.5 L511.6,837.5 L511.5,838.6 L511.4,839.7 L511.3,840.7 L511.2,841.8 L511.1,842.9 L511.1,843.9 L511,845 L511,846.1 L511,847.1 L511,848.2 L511,849.3 L511,850.3 L511,851.4 L511,852.5 L511,853.5 L511,854.6 L511,855.7 L511,856.7 L511,857.8 L510.9,858.9 L510.9,860 L510.9,861 L510.8,862.1 L510.8,863.2 L510.7,864.2 L510.7,865.3 L510.6,866.4 L510.6,867.4 L510.5,868.5 L510.4,869.6 L510.4,870.6 L510.3,871.7 L510.3,872.8 L510.3,873.8 L510.3,874.9 L510.3,876 L510.4,877 L510.5,878.1 L510.6,879.2 L510.7,880.2 L510.9,881.3 L511.1,882.4 L511.3,883.4 L511.6,884.5 L511.8,885.6 L512.1,886.6 L512.4,887.7Z" fill="#e6e6e6" stroke="#3c3c3c" stroke-width="0.5" stroke-linejoin="round"/>
<path d="M544,880.9 L544.2,879.9 L544.3,878.8 L544.5,877.7 L544.7,876.7 L545,875.6 L545.2,874.5 L545.3,873.5 L545.5,872.4 L545.7,871.3 L545.8,870.3 L545.9,869.2 L546,868.1 L546,867.1 L546.1,866 L546.1,864.9 L546.1,863.9 L546.2,862.8 L546.3,861.7 L546.4,860.7 L546.6,859.6 L546.8,858.5 L547.1,857.5 L547.4,856.4 L547.8,855.3 L548.2,854.3 L548.6,853.2 L549,852.1 L549.5,851.1 L549.9,850 L550.2,848.9 L550.5,847.9 L550.7,846.8 L550.8,845.7 L550.9,844.7 L550.9,843.6 L550.9,842.6 L550.8,841.5 L550.7,840.4 L550.7,839.4 L550.6,838.3 L550.6,837.2 L550.6,836.2 L550.6,835.1 L550.6,834 L550.6,833 L550.6,831.9 L550.5,830.8 L550.3,829.8 L550.1,828.7 L549.8,827.6 L549.5,826.6 L549.1,825.5 L548.8,824.4 L548.4,823.4 L548,822.3 L547.7,821.2 L547.3,820.2 L547,819.1 L546.7,818 L546.4,817 L546.1,815.9 L545.8,814.8 L545.5,813.8 L545.2,812.7 L544.9,811.6 L544.7,810.6 L544.5,809.5 L544.4,808.4 L544.3,807.4 L544.2,806.3 L544.2,805.2 L544.3,804.2 L544.3,803.1 L544.4,802 L544.5,801 L544.5,799.9 L544.6,798.9 L544.6,797.8 L544.7,796.7 L544.7,795.7 L544.6,794.6 L544.6,793.5 L544.5,792.5 L544.4,791.4 L544.3,790.3 L544.2,789.3 L544.1,788.2 L544,787.1 L543.9,786.1 L542.1,786.1 L542,787.1 L541.9,788.2 L541.8,789.3 L541.7,790.3 L541.6,791.4 L541.5,792.5 L541.4,793.5 L541.4,794.6 L541.3,795.7 L541.3,796.7 L541.4,797.8 L541.4,798.9 L541.5,799.9 L541.5,801 L541.6,802 L541.7,803.1 L541.7,804.2 L541.8,805.2 L541.8,806.3 L541.7,807.4 L541.6,808.4 L541.5,809.5 L541.3,810.6 L541.1,811.6 L540.8,812.7 L540.5,813.8 L540.2,814.8 L539.9,815.9 L539.6,817 L539.3,818 L539,819.1 L538.7,820.2 L538.3,821.2 L538,822.3 L537.6,823.4 L537.2,824.4 L536.9,825.5 L536.5,826.6 L536.2,827.6 L535.9,828.7 L535.7,829.8 L535.5,830.8 L535.4,831.9 L535.4,833 L535.4,834 L535.4,835.1 L535.4,836.2 L535.4,837.2 L535.4,838.3 L535.3,839.4 L535.3,840.4 L535.2,841.5 L535.1,842.6 L535.1,843.6 L535.1,844.7 L535.2,845.7 L535.3,846.8 L535.5,847.9 L535.8,848.9 L536.1,850 L536.5,851.1 L537,852.1 L537.4,853.2 L537.8,854.3 L538.2,855.3 L538.6,856.4 L538.9,857.5 L539.2,858.5 L539.4,859.6 L539.6,860.7 L539.7,861.7 L539.8,862.8 L539.9,863.9 L539.9,864.9 L539.9,866 L540,867.1 L540,868.1 L540.1,869.2 L540.2,870.3 L540.3,871.3 L540.5,872.4 L540.7,873.5 L540.8,874.5 L541,875.6 L541.3,876.7 L541.5,877.7 L541.7,878.8 L541.8,879.9 L542,880.9Z" fill="#e6e6e6" stroke="#3c3c3c" stroke-width="0.5" stroke-linejoin="round"/>
<path d="M583.9,863.7 L584.4,863.4 L584.9,863.1 L585.3,862.8 L585.6,862.5 L585.8,862.2 L586,861.8 L586.1,861.5 L586.2,861.2 L586.2,860.9 L586.1,860.6 L586,860.3 L585.9,860 L585.7,859.6 L585.5,859.3 L585.3,859 L585,858.7 L584.7,858.4 L584.4,858.1 L584.1,857.7 L583.9,857.4 L583.6,857.1 L583.3,856.8 L583,856.5 L582.7,856.2 L582.4,855.9 L582.1,855.5 L581.9,855.2 L581.6,854.9 L581.3,854.6 L581,854.3 L580.7,854 L580.4,853.6 L580,853.3 L579.7,853 L579.3,852.7 L579,852.4 L578.6,852.1 L578.2,851.8 L577.9,851.4 L577.5,851.1 L577.1,850.8 L576.7,850.5 L576.4,850.2 L576,849.9 L575.7,849.5 L575.3,849.2 L575,848.9 L574.7,848.6 L574.4,848.3 L574.2,848 L574,847.7 L573.7,847.3 L573.5,847 L573.4,846.7 L573.2,846.4 L573.1,846.1 L573,845.8 L572.9,845.4 L572.8,845.1 L572.8,844.8 L572.7,844.5 L572.7,844.2 L572.7,843.9 L572.7,843.6 L572.7,843.2 L572.8,842.9 L572.8,842.6 L572.9,842.3 L572.9,842 L573,841.7 L573.1,841.3 L573.2,841 L573.3,840.7 L573.4,840.4 L573.6,840.1 L573.7,839.8 L573.9,839.5 L574,839.1 L574.2,838.8 L574.3,838.5 L574.5,838.2 L574.6,837.9 L574.7,837.6 L574.9,837.2 L574.9,836.9 L575,836.6 L575.1,836.3 L575.1,836 L575.1,835.7 L569.7,835.7 L569.7,836 L569.7,836.3 L569.8,836.6 L569.9,836.9 L569.9,837.2 L570.1,837.6 L570.2,837.9 L570.3,838.2 L570.5,838.5 L570.6,838.8 L570.8,839.1 L570.9,839.5 L571.1,839.8 L571.2,840.1 L571.4,840.4 L571.5,840.7 L571.6,841 L571.7,841.3 L571.8,841.7 L571.9,842 L571.9,842.3 L572,842.6 L572,842.9 L572.1,843.2 L572.1,843.6 L572.1,843.9 L572.1,844.2 L572.1,844.5 L572,844.8 L572,845.1 L571.9,845.4 L571.8,845.8 L571.7,846.1 L571.6,846.4 L571.4,846.7 L571.3,847 L571.1,847.3 L570.8,847.7 L570.6,848 L570.4,848.3 L570.1,848.6 L569.8,848.9 L569.5,849.2 L569.1,849.5 L568.8,849.9 L568.4,850.2 L568.1,850.5 L567.7,850.8 L567.3,851.1 L566.9,851.4 L566.6,851.8 L566.2,852.1 L565.8,852.4 L565.5,852.7 L565.1,853 L564.8,853.3 L564.4,853.6 L564.1,854 L563.8,854.3 L563.5,854.6 L563.2,854.9 L562.9,855.2 L562.7,855.5 L562.4,855.9 L562.1,856.2 L561.8,856.5 L561.5,856.8 L561.2,857.1 L560.9,857.4 L560.7,857.7 L560.4,858.1 L560.1,858.4 L559.8,858.7 L559.5,859 L559.3,859.3 L559.1,859.6 L558.9,860 L558.8,860.3 L558.7,860.6 L558.6,860.9 L558.6,861.2 L558.7,861.5 L558.8,861.8 L559,862.2 L559.2,862.5 L559.5,862.8 L559.9,863.1 L560.4,863.4 L560.9,863.7Z" fill="#e6e6e6" stroke="#3c3c3c" stroke-width="0.5" stroke-linejoin="round"/>
<circle cx="482.8" cy="886.5" r="1.1" fill="#c9c9c9" fill-opacity="0.9"/>
<circle cx="478.6" cy="870.4" r="1.1" fill="#c9c9c9" fill-opacity="0.9"/>
<circle cx="485.1" cy="862.7" r="1.1" fill="#c9c9c9" fill-opacity="0.9"/>
<circle cx="483.5" cy="854.3" r="1.1" fill="#c9c9c9" fill-opacity="0.9"/>
<circle cx="490.4" cy="800.6" r="1.1" fill="#c9c9c9" fill-opacity="0.9"/>
<circle cx="485.1" cy="876.9" r="1.1" fill="#c9c9c9" fill-opacity="0.9"/>
<circle cx="476.2" cy="870.5" r="1.1" fill="#c9c9c9" fill-opacity="0.9"/>
<circle cx="493.6" cy="874.9" r="1.1" fill="#c9c9c9" fill-opacity="0.9"/>
<circle cx="487.3" cy="880.4" r="1.1" fill="#c9c9c9" fill-opacity="0.9"/>
<circle cx="494.2" cy="870.4" r="1.1" fill="#c9c9c9" fill-opacity="0.9"/>
<circle cx="489.6" cy="872.5" r="1.1" fill="#c9c9c9" fill-opacity="0.9"/>
<circle cx="496.5" cy="874" r="1.1" fill="#c9c9c9" fill-opacity="0.9"/>
<circle cx="486.2" cy="870.7" r="1.1" fill="#c9c9c9" fill-opacity="0.9"/>
<circle cx="488.9" cy="882.5" r="1.1" fill="#c9c9c9" fill-opacity="0.9"/>
<circle cx="493.1" cy="876.4" r="1.1" fill="#c9c9c9" fill-opacity="0.9"/>
<circle cx="488.1" cy="870.4" r="1.1" fill="#c9c9c9" fill-opacity="0.9"/>
<circle cx="486.4" cy="871.8" r="1.1" fill="#c9c9c9" fill-opacity="0.9"/>
<circle cx="495.5" cy="872.6" r="1.1" fill="#c9c9c9" fill-opacity="0.9"/>
<circle cx="479.8" cy="872.7" r="1.1" fill="#c9c9c9" fill-opacity="0.9"/>
<circle cx="493.5" cy="877.8" r="1.1" fill="#c9c9c9" fill-opacity="0.9"/>
<circle cx="488.6" cy="876.3" r="1.1" fill="#c9c9c9" fill-opacity="0.9"/>
<circle cx="487.5" cy="870.4" r="1.1" fill="#c9c9c9" fill-opacity="0.9"/>
<circle cx="486.7" cy="874.8" r="1.1" fill="#c9c9c9" fill-opacity="0.9"/>
<circle cx="494.9" cy="870.4" r="1.1" fill="#c9c9c9" fill-opacity="0.9"/>
<circle cx="482.4" cy="884.8" r="1.1" fill="#c9c9c9" fill-opacity="0.9"/>
<circle cx="493.7" cy="870.5" r="1.1" fill="#c9c9c9" fill-opacity="0.9"/>
<circle cx="483.4" cy="875.4" r="1.1" fill="#c9c9c9" fill-opacity="0.9"/>
<circle cx="479.5" cy="870.4" r="1.1" fill="#c9c9c9" fill-opacity="0.9"/>
<circle cx="477.3" cy="882" r="1.1" fill="#c9c9c9" fill-opacity="0.9"/>
<circle cx="486.8" cy="877.1" r="1.1" fill="#c9c9c9" fill-opacity="0.9"/>
<circle cx="490.1" cy="870.9" r="1.1" fill="#c9c9c9" fill-opacity="0.9"/>
<circle cx="487.6" cy="868.3" r="1.1" fill="#c9c9c9" fill-opacity="0.9"/>
<circle cx="485.2" cy="866.6" r="1.1" fill="#c9c9c9" fill-opacity="0.9"/>
<circle cx="492.4" cy="863.4" r="1.1" fill="#c9c9c9" fill-opacity="0.9"/>
<circle cx="494.4" cy="862.8" r="1.1" fill="#c9c9c9" fill-opacity="0.9"/>
<circle cx="476.7" cy="869.9" r="1.1" fill="#c9c9c9" fill-opacity="0.9"/>
<circle cx="488" cy="867" r="1.1" fill="#c9c9c9" fill-opacity="0.9"/>
<circle cx="478.1" cy="865.5" r="1.1" fill="#c9c9c9" fill-opacity="0.9"/>
<circle cx="490.8" cy="867.1" r="1.1" fill="#c9c9c9" fill-opacity="0.9"/>
<circle cx="483.7" cy="866.4" r="1.1" fill="#c9c9c9" fill-opacity="0.9"/>
<circle cx="477.6" cy="864.4" r="1.1" fill="#c9c9c9" fill-opacity="0.9"/>
<circle cx="490.3" cy="864.1" r="1.1" fill="#c9c9c9" fill-opacity="0.9"/>
<circle cx="482.6" cy="867.6" r="1.1" fill="#c9c9c9" fill-opacity="0.9"/>
<circle cx="495.1" cy="870.3" r="1.1" fill="#c9c9c9" fill-opacity="0.9"/>
<circle cx="479.1" cy="869.6" r="1.1" fill="#c9c9c9" fill-opacity="0.9"/>
<circle cx="493.2" cy="864.6" r="1.1" fill="#c9c9c9" fill-opacity="0.9"/>
<circle cx="485.4" cy="865.6" r="1.1" fill="#c9c9c9" fill-opacity="0.9"/>
<circle cx="477.3" cy="865.8" r="1.1" fill="#c9c9c9" fill-opacity="0.9"/>
<circle cx="487.3" cy="869.8" r="1.1" fill="#c9c9c9" fill-opacity="0.9"/>
<circle cx="492.6" cy="869.8" r="1.1" fill="#c9c9c9" fill-opacity="0.9"/>
<circle cx="488.8" cy="865.3" r="1.1" fill="#c9c9c9" fill-opacity="0.9"/>
<circle cx="486" cy="869.7" r="1.1" fill="#c9c9c9" fill-opacity="0.9"/>
<circle cx="484.6" cy="864.6" r="1.1" fill="#c9c9c9" fill-opacity="0.9"/>
<circle cx="488.7" cy="865.3" r="1.1" fill="#c9c9c9" fill-opacity="0.9"/>
<circle cx="482.5" cy="869.5" r="1.1" fill="#c9c9c9" fill-opacity="0.9"/>
<circle cx="488.1" cy="868.9" r="1.1" fill="#c9c9c9" fill-opacity="0.9"/>
<circle cx="491.1" cy="865" r="1.1" fill="#c9c9c9" fill-opacity="0.9"/>
<circle cx="496.9" cy="859.3" r="1.1" fill="#c9c9c9" fill-opacity="0.9"/>
<circle cx="490.6" cy="860.5" r="1.1" fill="#c9c9c9" fill-opacity="0.9"/>
<circle cx="481" cy="858.7" r="1.1" fill="#c9c9c9" fill-opacity="0.9"/>
<circle cx="492.5" cy="862.1" r="1.1" fill="#c9c9c9" fill-opacity="0.9"/>
<circle cx="484" cy="857.9" r="1.1" fill="#c9c9c9" fill-opacity="0.9"/>
<circle cx="477.1" cy="861.4" r="1.1" fill="#c9c9c9" fill-opacity="0.9"/>
<circle cx="496" cy="859.7" r="1.1" fill="#c9c9c9" fill-opacity="0.9"/>
<circle cx="477.1" cy="858.5" r="1.1" fill="#c9c9c9" fill-opacity="0.9"/>
<circle cx="493.7" cy="854.6" r="1.1" fill="#c9c9c9" fill-opacity="0.9"/>
<circle cx="496.4" cy="862.1" r="1.1" fill="#c9c9c9" fill-opacity="0.9"/>
<circle cx="492.7" cy="857.4" r="1.1" fill="#c9c9c9" fill-opacity="0.9"/>
<circle cx="478" cy="859.7" r="1.1" fill="#c9c9c9" fill-opacity="0.9"/>
<circle cx="485.3" cy="857.3" r="1.1" fill="#c9c9c9" fill-opacity="0.9"/>
<circle cx="478.9" cy="857.4" r="1.1" fill="#c9c9c9" fill-opacity="0.9"/>
<circle cx="479.1" cy="862.3" r="1.1" fill="#c9c9c9" fill-opacity="0.9"/>
<circle cx="489.2" cy="862.4" r="1.1" fill="#c9c9c9" fill-opacity="0.9"/>
<circle cx="496.3" cy="854.9" r="1.1" fill="#c9c9c9" fill-opacity="0.9"/>
<circle cx="484.8" cy="857.7" r="1.1" fill="#c9c9c9" fill-opacity="0.9"/>
<circle cx="476.8" cy="860.7" r="1.1" fill="#c9c9c9" fill-opacity="0.9"/>
<circle cx="489.5" cy="859.6" r="1.1" fill="#c9c9c9" fill-opacity="0.9"/>
<circle cx="481.7" cy="862.5" r="1.1" fill="#c9c9c9" fill-opacity="0.9"/>
<circle cx="494.1" cy="861.2" r="1.1" fill="#c9c9c9" fill-opacity="0.9"/>
<circle cx="494.1" cy="854.8" r="1.1" fill="#c9c9c9" fill-opacity="0.9"/>
<circle cx="482" cy="860.4" r="1.1" fill="#c9c9c9" fill-opacity="0.9"/>
<circle cx="481.1" cy="855.1" r="1.1" fill="#c9c9c9" fill-opacity="0.9"/>
<circle cx="478.9" cy="854.3" r="1.1" fill="#c9c9c9" fill-opacity="0.9"/>
<circle cx="486" cy="832.1" r="1.1" fill="#c9c9c9" fill-opacity="0.9"/>
<circle cx="489.5" cy="848.6" r="1.1" fill="#c9c9c9" fill-opacity="0.9"/>
<circle cx="484.1" cy="804.1" r="1.1" fill="#c9c9c9" fill-opacity="0.9"/>
<circle cx="483" cy="848.9" r="1.1" fill="#c9c9c9" fill-opacity="0.9"/>
<circle cx="478" cy="853.9" r="1.1" fill="#c9c9c9" fill-opacity="0.9"/>
<circle cx="496.7" cy="852.9" r="1.1" fill="#c9c9c9" fill-opacity="0.9"/>
<circle cx="488.2" cy="854.2" r="1.1" fill="#c9c9c9" fill-opacity="0.9"/>
<circle cx="477.9" cy="825.4" r="1.1" fill="#c9c9c9" fill-opacity="0.9"/>
<circle cx="476.1" cy="844.8" r="1.1" fill="#c9c9c9" fill-opacity="0.9"/>
<circle cx="481.9" cy="847" r="1.1" fill="#c9c9c9" fill-opacity="0.9"/>
<circle cx="489.1" cy="846.1" r="1.1" fill="#c9c9c9" fill-opacity="0.9"/>
<circle cx="478.7" cy="826.2" r="1.1" fill="#c9c9c9" fill-opacity="0.9"/>
<circle cx="493.2" cy="819.9" r="1.1" fill="#c9c9c9" fill-opacity="0.9"/>
<circle cx="478.6" cy="845.4" r="1.1" fill="#c9c9c9" fill-opacity="0.9"/>
<circle cx="479.7" cy="846.5" r="1.1" fill="#c9c9c9" fill-opacity="0.9"/>
<circle cx="492.5" cy="853.5" r="1.1" fill="#c9c9c9" fill-opacity="0.9"/>
<circle cx="495.1" cy="851.5" r="1.1" fill="#c9c9c9" fill-opacity="0.9"/>
<circle cx="492.6" cy="836.5" r="1.1" fill="#c9c9c9" fill-opacity="0.9"/>
<circle cx="491.5" cy="821.7" r="1.1" fill="#c9c9c9" fill-opacity="0.9"/>
<circle cx="487.5" cy="853.4" r="1.1" fill="#c9c9c9" fill-opacity="0.9"/>
<circle cx="480.5" cy="853.8" r="1.1" fill="#c9c9c9" fill-opacity="0.9"/>
<circle cx="490" cy="846.5" r="1.1" fill="#c9c9c9" fill-opacity="0.9"/>
<circle cx="492.3" cy="851.7" r="1.1" fill="#c9c9c9" fill-opacity="0.9"/>
<circle cx="490.3" cy="852.6" r="1.1" fill="#c9c9c9" fill-opacity="0.9"/>
<circle cx="486.2" cy="841.1" r="1.1" fill="#c9c9c9" fill-opacity="0.9"/>
<circle cx="520.9" cy="887.7" r="1.1" fill="#c9c9c9" fill-opacity="0.9"/>
<circle cx="511.8" cy="874.8" r="1.1" fill="#c9c9c9" fill-opacity="0.9"/>
<circle cx="525.4" cy="860.6" r="1.1" fill="#c9c9c9" fill-opacity="0.9"/>
<circle cx="523" cy="843.9" r="1.1" fill="#c9c9c9" fill-opacity="0.9"/>
<circle cx="509.4" cy="825.5" r="1.1" fill="#c9c9c9" fill-opacity="0.9"/>
<circle cx="504.7" cy="876.5" r="1.1" fill="#c9c9c9" fill-opacity="0.9"/>
<circle cx="510.7" cy="879.9" r="1.1" fill="#c9c9c9" fill-opacity="0.9"/>
<circle cx="515.1" cy="878" r="1.1" fill="#c9c9c9" fill-opacity="0.9"/>
<circle cx="505" cy="884.3" r="1.1" fill="#c9c9c9" fill-opacity="0.9"/>
<circle cx="521.8" cy="877" r="1.1" fill="#c9c9c9" fill-opacity="0.9"/>
<circle cx="518" cy="884.5" r="1.1" fill="#c9c9c9" fill-opacity="0.9"/>
<circle cx="517.3" cy="875.2" r="1.1" fill="#c9c9c9" fill-opacity="0.9"/>
<circle cx="513.7" cy="883.2" r="1.1" fill="#c9c9c9" fill-opacity="0.9"/>
<circle cx="511.8" cy="886.6" r="1.1" fill="#c9c9c9" fill-opacity="0.9"/>
<circle cx="523.6" cy="879.7" r="1.1" fill="#c9c9c9" fill-opacity="0.9"/>
<circle cx="508.6" cy="881.2" r="1.1" fill="#c9c9c9" fill-opacity="0.9"/>
<circle cx="505.2" cy="881" r="1.1" fill="#c9c9c9" fill-opacity="0.9"/>
<circle cx="523.4" cy="884.2" r="1.1" fill="#c9c9c9" fill-opacity="0.9"/>
<circle cx="508" cy="870" r="1.1" fill="#c9c9c9" fill-opacity="0.9"/>
<circle cx="520.2" cy="869.3" r="1.1" fill="#c9c9c9" fill-opacity="0.9"/>
<circle cx="505.7" cy="864.8" r="1.1" fill="#c9c9c9" fill-opacity="0.9"/>
<circle cx="511.5" cy="864.8" r="1.1" fill="#c9c9c9" fill-opacity="0.9"/>
<circle cx="511.1" cy="862.7" r="1.1" fill="#c9c9c9" fill-opacity="0.9"/>
<circle cx="519.9" cy="870.9" r="1.1" fill="#c9c9c9" fill-opacity="0.9"/>
<circle cx="516.6" cy="865.4" r="1.1" fill="#c9c9c9" fill-opacity="0.9"/>
<circle cx="522" cy="861.1" r="1.1" fill="#c9c9c9" fill-opacity="0.9"/>
<circle cx="515.7" cy="870.4" r="1.1" fill="#c9c9c9" fill-opacity="0.9"/>
<circle cx="522.2" cy="874.7" r="1.1" fill="#c9c9c9" fill-opacity="0.9"/>
<circle cx="505.4" cy="873.2" r="1.1" fill="#c9c9c9" fill-opacity="0.9"/>
<circle cx="513.4" cy="872.6" r="1.1" fill="#c9c9c9" fill-opacity="0.9"/>
<circle cx="519.1" cy="861.5" r="1.1" fill="#c9c9c9" fill-opacity="0.9"/>
<circle cx="506.3" cy="853.5" r="1.1" fill="#c9c9c9" fill-opacity="0.9"/>
<circle cx="508.7" cy="851.5" r="1.1" fill="#c9c9c9" fill-opacity="0.9"/>
<circle cx="513.9" cy="855.5" r="1.1" fill="#c9c9c9" fill-opacity="0.9"/>
<circle cx="513.8" cy="852" r="1.1" fill="#c9c9c9" fill-opacity="0.9"/>
<circle cx="514.7" cy="844.3" r="1.1" fill="#c9c9c9" fill-opacity="0.9"/>
<circle cx="505.8" cy="844.7" r="1.1" fill="#c9c9c9" fill-opacity="0.9"/>
<circle cx="515.5" cy="848.2" r="1.1" fill="#c9c9c9" fill-opacity="0.9"/>
<circle cx="519.4" cy="854.2" r="1.1" fill="#c9c9c9" fill-opacity="0.9"/>
<circle cx="515" cy="848.6" r="1.1" fill="#c9c9c9" fill-opacity="0.9"/>
<circle cx="513.5" cy="856.4" r="1.1" fill="#c9c9c9" fill-opacity="0.9"/>
<circle cx="512.8" cy="859.7" r="1.1" fill="#c9c9c9" fill-opacity="0.9"/>
<circle cx="525.2" cy="844.5" r="1.1" fill="#c9c9c9" fill-opacity="0.9"/>
<circle cx="523" cy="849" r="1.1" fill="#c9c9c9" fill-opacity="0.9"/>
<circle cx="519.8" cy="832.3" r="1.1" fill="#c9c9c9" fill-opacity="0.9"/>
<circle cx="509.5" cy="839.9" r="1.1" fill="#c9c9c9" fill-opacity="0.9"/>
<circle cx="518.3" cy="837.8" r="1.1" fill="#c9c9c9" fill-opacity="0.9"/>
<circle cx="519.2" cy="838.2" r="1.1" fill="#c9c9c9" fill-opacity="0.9"/>
<circle cx="519" cy="836.5" r="1.1" fill="#c9c9c9" fill-opacity="0.9"/>
<circle cx="520.8" cy="825" r="1.1" fill="#c9c9c9" fill-opacity="0.9"/>
<circle cx="513.6" cy="842.8" r="1.1" fill="#c9c9c9" fill-opacity="0.9"/>
<circle cx="508.7" cy="836.9" r="1.1" fill="#c9c9c9" fill-opacity="0.9"/>
<circle cx="513.2" cy="825.3" r="1.1" fill="#c9c9c9" fill-opacity="0.9"/>
<circle cx="518.1" cy="826.3" r="1.1" fill="#c9c9c9" fill-opacity="0.9"/>
<circle cx="520.9" cy="830.8" r="1.1" fill="#c9c9c9" fill-opacity="0.9"/>
<circle cx="505.2" cy="842.1" r="1.1" fill="#c9c9c9" fill-opacity="0.9"/>
<circle cx="515.1" cy="792.7" r="1.1" fill="#c9c9c9" fill-opacity="0.9"/>
<circle cx="536.6" cy="880.9" r="1.1" fill="#c9c9c9" fill-opacity="0.9"/>
<circle cx="539.2" cy="850.7" r="1.1" fill="#c9c9c9" fill-opacity="0.9"/>
<circle cx="544.6" cy="838.3" r="1.1" fill="#c9c9c9" fill-opacity="0.9"/>
<circle cx="533" cy="827.2" r="1.1" fill="#c9c9c9" fill-opacity="0.9"/>
<circle cx="548.3" cy="786.1" r="1.1" fill="#c9c9c9" fill-opacity="0.9"/>
<circle cx="536.7" cy="870.3" r="1.1" fill="#c9c9c9" fill-opacity="0.9"/>
<circle cx="546.3" cy="867.3" r="1.1" fill="#c9c9c9" fill-opacity="0.9"/>
<circle cx="536.5" cy="859.1" r="1.1" fill="#c9c9c9" fill-opacity="0.9"/>
<circle cx="535" cy="850.7" r="1.1" fill="#c9c9c9" fill-opacity="0.9"/>
<circle cx="544.1" cy="878.7" r="1.1" fill="#c9c9c9" fill-opacity="0.9"/>
<circle cx="535.3" cy="863.5" r="1.1" fill="#c9c9c9" fill-opacity="0.9"/>
<circle cx="543.7" cy="868" r="1.1" fill="#c9c9c9" fill-opacity="0.9"/>
<circle cx="549.2" cy="875.3" r="1.1" fill="#c9c9c9" fill-opacity="0.9"/>
<circle cx="532.5" cy="860.7" r="1.1" fill="#c9c9c9" fill-opacity="0.9"/>
<circle cx="548.5" cy="868.3" r="1.1" fill="#c9c9c9" fill-opacity="0.9"/>
<circle cx="541.8" cy="868.9" r="1.1" fill="#c9c9c9" fill-opacity="0.9"/>
<circle cx="539.2" cy="851.8" r="1.1" fill="#c9c9c9" fill-opacity="0.9"/>
<circle cx="539.8" cy="855.3" r="1.1" fill="#c9c9c9" fill-opacity="0.9"/>
<circle cx="548.2" cy="851.5" r="1.1" fill="#c9c9c9" fill-opacity="0.9"/>
<circle cx="550" cy="861.8" r="1.1" fill="#c9c9c9" fill-opacity="0.9"/>
<circle cx="548.7" cy="852.8" r="1.1" fill="#c9c9c9" fill-opacity="0.9"/>
<circle cx="551.9" cy="853" r="1.1" fill="#c9c9c9" fill-opacity="0.9"/>
<circle cx="537.8" cy="874.3" r="1.1" fill="#c9c9c9" fill-opacity="0.9"/>
<circle cx="549.2" cy="880.7" r="1.1" fill="#c9c9c9" fill-opacity="0.9"/>
<circle cx="535.6" cy="871.1" r="1.1" fill="#c9c9c9" fill-opacity="0.9"/>
<circle cx="533.5" cy="857.1" r="1.1" fill="#c9c9c9" fill-opacity="0.9"/>
<circle cx="541.1" cy="856.4" r="1.1" fill="#c9c9c9" fill-opacity="0.9"/>
<circle cx="536.9" cy="868.2" r="1.1" fill="#c9c9c9" fill-opacity="0.9"/>
<circle cx="536" cy="865.5" r="1.1" fill="#c9c9c9" fill-opacity="0.9"/>
<circle cx="553.4" cy="870.3" r="1.1" fill="#c9c9c9" fill-opacity="0.9"/>
<circle cx="542.3" cy="850.7" r="1.1" fill="#c9c9c9" fill-opacity="0.9"/>
<circle cx="545.4" cy="872.5" r="1.1" fill="#c9c9c9" fill-opacity="0.9"/>
<circle cx="548" cy="864.4" r="1.1" fill="#c9c9c9" fill-opacity="0.9"/>
<circle cx="540.6" cy="864.2" r="1.1" fill="#c9c9c9" fill-opacity="0.9"/>
<circle cx="546.4" cy="875" r="1.1" fill="#c9c9c9" fill-opacity="0.9"/>
<circle cx="536.5" cy="871.5" r="1.1" fill="#c9c9c9" fill-opacity="0.9"/>
<circle cx="535" cy="867.8" r="1.1" fill="#c9c9c9" fill-opacity="0.9"/>
<circle cx="533.7" cy="851.2" r="1.1" fill="#c9c9c9" fill-opacity="0.9"/>
<circle cx="535.2" cy="856.9" r="1.1" fill="#c9c9c9" fill-opacity="0.9"/>
<circle cx="552" cy="856.4" r="1.1" fill="#c9c9c9" fill-opacity="0.9"/>
<circle cx="543.2" cy="857.7" r="1.1" fill="#c9c9c9" fill-opacity="0.9"/>
<circle cx="540.6" cy="852.9" r="1.1" fill="#c9c9c9" fill-opacity="0.9"/>
<circle cx="548.1" cy="868.8" r="1.1" fill="#c9c9c9" fill-opacity="0.9"/>
<circle cx="547.3" cy="857.7" r="1.1" fill="#c9c9c9" fill-opacity="0.9"/>
<circle cx="535.4" cy="852.8" r="1.1" fill="#c9c9c9" fill-opacity="0.9"/>
<circle cx="547.8" cy="857.2" r="1.1" fill="#c9c9c9" fill-opacity="0.9"/>
<circle cx="542.4" cy="851" r="1.1" fill="#c9c9c9" fill-opacity="0.9"/>
<circle cx="549.6" cy="863.3" r="1.1" fill="#c9c9c9" fill-opacity="0.9"/>
<circle cx="552.6" cy="861.7" r="1.1" fill="#c9c9c9" fill-opacity="0.9"/>
<circle cx="542.7" cy="874" r="1.1" fill="#c9c9c9" fill-opacity="0.9"/>
<circle cx="542" cy="852.3" r="1.1" fill="#c9c9c9" fill-opacity="0.9"/>
<circle cx="545.2" cy="844.9" r="1.1" fill="#c9c9c9" fill-opacity="0.9"/>
<circle cx="546.2" cy="845.6" r="1.1" fill="#c9c9c9" fill-opacity="0.9"/>
<circle cx="538.6" cy="848.4" r="1.1" fill="#c9c9c9" fill-opacity="0.9"/>
<circle cx="540.2" cy="848.5" r="1.1" fill="#c9c9c9" fill-opacity="0.9"/>
<circle cx="536.8" cy="846.5" r="1.1" fill="#c9c9c9" fill-opacity="0.9"/>
<circle cx="540.1" cy="845.7" r="1.1" fill="#c9c9c9" fill-opacity="0.9"/>
<circle cx="548.2" cy="843" r="1.1" fill="#c9c9c9" fill-opacity="0.9"/>
<circle cx="549" cy="842.3" r="1.1" fill="#c9c9c9" fill-opacity="0.9"/>
<circle cx="545.1" cy="841.1" r="1.1" fill="#c9c9c9" fill-opacity="0.9"/>
<circle cx="546.3" cy="842.7" r="1.1" fill="#c9c9c9" fill-opacity="0.9"/>
<circle cx="550.9" cy="839.4" r="1.1" fill="#c9c9c9" fill-opacity="0.9"/>
<circle cx="536.3" cy="848.3" r="1.1" fill="#c9c9c9" fill-opacity="0.9"/>
<circle cx="533.1" cy="844.1" r="1.1" fill="#c9c9c9" fill-opacity="0.9"/>
<circle cx="538.1" cy="848.3" r="1.1" fill="#c9c9c9" fill-opacity="0.9"/>
<circle cx="553.1" cy="841.6" r="1.1" fill="#c9c9c9" fill-opacity="0.9"/>
<circle cx="544.9" cy="846" r="1.1" fill="#c9c9c9" fill-opacity="0.9"/>
<circle cx="537" cy="844.5" r="1.1" fill="#c9c9c9" fill-opacity="0.9"/>
<circle cx="551.6" cy="841.4" r="1.1" fill="#c9c9c9" fill-opacity="0.9"/>
<circle cx="533.5" cy="843" r="1.1" fill="#c9c9c9" fill-opacity="0.9"/>
<circle cx="547.4" cy="846.5" r="1.1" fill="#c9c9c9" fill-opacity="0.9"/>
<circle cx="540.4" cy="845.2" r="1.1" fill="#c9c9c9" fill-opacity="0.9"/>
<circle cx="532.7" cy="843.3" r="1.1" fill="#c9c9c9" fill-opacity="0.9"/>
<circle cx="534.4" cy="848.9" r="1.1" fill="#c9c9c9" fill-opacity="0.9"/>
<circle cx="542" cy="839.2" r="1.1" fill="#c9c9c9" fill-opacity="0.9"/>
<circle cx="541.3" cy="845.3" r="1.1" fill="#c9c9c9" fill-opacity="0.9"/>
<circle cx="552.3" cy="849.5" r="1.1" fill="#c9c9c9" fill-opacity="0.9"/>
<circle cx="533" cy="845.8" r="1.1" fill="#c9c9c9" fill-opacity="0.9"/>
<circle cx="541.6" cy="843.3" r="1.1" fill="#c9c9c9" fill-opacity="0.9"/>
<circle cx="538.2" cy="844.3" r="1.1" fill="#c9c9c9" fill-opacity="0.9"/>
<circle cx="549.7" cy="849.7" r="1.1" fill="#c9c9c9" fill-opacity="0.9"/>
<circle cx="552.3" cy="840.5" r="1.1" fill="#c9c9c9" fill-opacity="0.9"/>
<circle cx="552.4" cy="848" r="1.1" fill="#c9c9c9" fill-opacity="0.9"/>
<circle cx="546.5" cy="841.3" r="1.1" fill="#c9c9c9" fill-opacity="0.9"/>
<circle cx="547.7" cy="847.7" r="1.1" fill="#c9c9c9" fill-opacity="0.9"/>
<circle cx="548.5" cy="840.2" r="1.1" fill="#c9c9c9" fill-opacity="0.9"/>
<circle cx="549.4" cy="846.1" r="1.1" fill="#c9c9c9" fill-opacity="0.9"/>
<circle cx="546.8" cy="847.9" r="1.1" fill="#c9c9c9" fill-opacity="0.9"/>
<circle cx="547.9" cy="848.1" r="1.1" fill="#c9c9c9" fill-opacity="0.9"/>
<circle cx="538.7" cy="846.7" r="1.1" fill="#c9c9c9" fill-opacity="0.9"/>
<circle cx="549.8" cy="847.6" r="1.1" fill="#c9c9c9" fill-opacity="0.9"/>
<circle cx="546.6" cy="844.2" r="1.1" fill="#c9c9c9" fill-opacity="0.9"/>
<circle cx="537.7" cy="842.1" r="1.1" fill="#c9c9c9" fill-opacity="0.9"/>
<circle cx="536.2" cy="843.1" r="1.1" fill="#c9c9c9" fill-opacity="0.9"/>
<circle cx="535" cy="846.6" r="1.1" fill="#c9c9c9" fill-opacity="0.9"/>
<circle cx="543.9" cy="850.6" r="1.1" fill="#c9c9c9" fill-opacity="0.9"/>
<circle cx="536.9" cy="844.8" r="1.1" fill="#c9c9c9" fill-opacity="0.9"/>
<circle cx="544.1" cy="834.2" r="1.1" fill="#c9c9c9" fill-opacity="0.9"/>
<circle cx="535.9" cy="833.8" r="1.1" fill="#c9c9c9" fill-opacity="0.9"/>
<circle cx="542.5" cy="830.2" r="1.1" fill="#c9c9c9" fill-opacity="0.9"/>
<circle cx="542.4" cy="834.9" r="1.1" fill="#c9c9c9" fill-opacity="0.9"/>
<circle cx="551.7" cy="837.5" r="1.1" fill="#c9c9c9" fill-opacity="0.9"/>
<circle cx="541.4" cy="830.7" r="1.1" fill="#c9c9c9" fill-opacity="0.9"/>
<circle cx="545" cy="834.9" r="1.1" fill="#c9c9c9" fill-opacity="0.9"/>
<circle cx="541.8" cy="835.9" r="1.1" fill="#c9c9c9" fill-opacity="0.9"/>
<circle cx="548.5" cy="836.9" r="1.1" fill="#c9c9c9" fill-opacity="0.9"/>
<circle cx="534.8" cy="835" r="1.1" fill="#c9c9c9" fill-opacity="0.9"/>
<circle cx="551.3" cy="835.2" r="1.1" fill="#c9c9c9" fill-opacity="0.9"/>
<circle cx="550.9" cy="837.4" r="1.1" fill="#c9c9c9" fill-opacity="0.9"/>
<circle cx="544.6" cy="830.9" r="1.1" fill="#c9c9c9" fill-opacity="0.9"/>
<circle cx="537.4" cy="836.3" r="1.1" fill="#c9c9c9" fill-opacity="0.9"/>
<circle cx="539.2" cy="831.5" r="1.1" fill="#c9c9c9" fill-opacity="0.9"/>
<circle cx="550.8" cy="828.2" r="1.1" fill="#c9c9c9" fill-opacity="0.9"/>
<circle cx="543.9" cy="836.5" r="1.1" fill="#c9c9c9" fill-opacity="0.9"/>
<circle cx="547.4" cy="829.1" r="1.1" fill="#c9c9c9" fill-opacity="0.9"/>
<circle cx="548.7" cy="829.9" r="1.1" fill="#c9c9c9" fill-opacity="0.9"/>
<circle cx="540.6" cy="828.7" r="1.1" fill="#c9c9c9" fill-opacity="0.9"/>
<circle cx="532.8" cy="828.2" r="1.1" fill="#c9c9c9" fill-opacity="0.9"/>
<circle cx="537" cy="836.6" r="1.1" fill="#c9c9c9" fill-opacity="0.9"/>
<circle cx="551" cy="828.6" r="1.1" fill="#c9c9c9" fill-opacity="0.9"/>
<circle cx="552.7" cy="829" r="1.1" fill="#c9c9c9" fill-opacity="0.9"/>
<circle cx="553.4" cy="835.7" r="1.1" fill="#c9c9c9" fill-opacity="0.9"/>
<circle cx="536.4" cy="837.5" r="1.1" fill="#c9c9c9" fill-opacity="0.9"/>
<circle cx="539.5" cy="837.5" r="1.1" fill="#c9c9c9" fill-opacity="0.9"/>
<circle cx="553.4" cy="830.7" r="1.1" fill="#c9c9c9" fill-opacity="0.9"/>
<circle cx="545.7" cy="834.7" r="1.1" fill="#c9c9c9" fill-opacity="0.9"/>
<circle cx="548.6" cy="828.7" r="1.1" fill="#c9c9c9" fill-opacity="0.9"/>
<circle cx="534.4" cy="828.5" r="1.1" fill="#c9c9c9" fill-opacity="0.9"/>
<circle cx="534" cy="831.6" r="1.1" fill="#c9c9c9" fill-opacity="0.9"/>
<circle cx="538" cy="828.9" r="1.1" fill="#c9c9c9" fill-opacity="0.9"/>
<circle cx="535.9" cy="830" r="1.1" fill="#c9c9c9" fill-opacity="0.9"/>
<circle cx="537.4" cy="833.4" r="1.1" fill="#c9c9c9" fill-opacity="0.9"/>
<circle cx="534.8" cy="831.5" r="1.1" fill="#c9c9c9" fill-opacity="0.9"/>
<circle cx="546.2" cy="833.3" r="1.1" fill="#c9c9c9" fill-opacity="0.9"/>
<circle cx="540" cy="828.2" r="1.1" fill="#c9c9c9" fill-opacity="0.9"/>
<circle cx="537.4" cy="831.9" r="1.1" fill="#c9c9c9" fill-opacity="0.9"/>
<circle cx="533.3" cy="828.6" r="1.1" fill="#c9c9c9" fill-opacity="0.9"/>
<circle cx="549.6" cy="829.3" r="1.1" fill="#c9c9c9" fill-opacity="0.9"/>
<circle cx="536.8" cy="830.9" r="1.1" fill="#c9c9c9" fill-opacity="0.9"/>
<circle cx="534.7" cy="833.8" r="1.1" fill="#c9c9c9" fill-opacity="0.9"/>
<circle cx="540.3" cy="838.1" r="1.1" fill="#c9c9c9" fill-opacity="0.9"/>
<circle cx="548.3" cy="831.5" r="1.1" fill="#c9c9c9" fill-opacity="0.9"/>
<circle cx="548.7" cy="833.1" r="1.1" fill="#c9c9c9" fill-opacity="0.9"/>
<circle cx="537.3" cy="789.8" r="1.1" fill="#c9c9c9" fill-opacity="0.9"/>
<circle cx="552.1" cy="808" r="1.1" fill="#c9c9c9" fill-opacity="0.9"/>
<circle cx="548.9" cy="819.1" r="1.1" fill="#c9c9c9" fill-opacity="0.9"/>
<circle cx="545.4" cy="826" r="1.1" fill="#c9c9c9" fill-opacity="0.9"/>
<circle cx="545.5" cy="825.7" r="1.1" fill="#c9c9c9" fill-opacity="0.9"/>
<circle cx="534.4" cy="798.8" r="1.1" fill="#c9c9c9" fill-opacity="0.9"/>
<circle cx="550.7" cy="812.7" r="1.1" fill="#c9c9c9" fill-opacity="0.9"/>
<circle cx="532.8" cy="825.1" r="1.1" fill="#c9c9c9" fill-opacity="0.9"/>
<circle cx="536" cy="818.9" r="1.1" fill="#c9c9c9" fill-opacity="0.9"/>
<circle cx="540" cy="797.5" r="1.1" fill="#c9c9c9" fill-opacity="0.9"/>
<circle cx="549.1" cy="795.6" r="1.1" fill="#c9c9c9" fill-opacity="0.9"/>
<circle cx="551.3" cy="798.8" r="1.1" fill="#c9c9c9" fill-opacity="0.9"/>
<circle cx="548.2" cy="801.7" r="1.1" fill="#c9c9c9" fill-opacity="0.9"/>
<circle cx="550" cy="826.6" r="1.1" fill="#c9c9c9" fill-opacity="0.9"/>
<circle cx="544.5" cy="823.8" r="1.1" fill="#c9c9c9" fill-opacity="0.9"/>
<circle cx="543.7" cy="818.4" r="1.1" fill="#c9c9c9" fill-opacity="0.9"/>
<circle cx="540.7" cy="827.1" r="1.1" fill="#c9c9c9" fill-opacity="0.9"/>
<circle cx="533.4" cy="818.4" r="1.1" fill="#c9c9c9" fill-opacity="0.9"/>
<circle cx="534.8" cy="794.9" r="1.1" fill="#c9c9c9" fill-opacity="0.9"/>
<circle cx="552.3" cy="824.5" r="1.1" fill="#c9c9c9" fill-opacity="0.9"/>
<circle cx="537.5" cy="817.1" r="1.1" fill="#c9c9c9" fill-opacity="0.9"/>
<circle cx="551.4" cy="792.3" r="1.1" fill="#c9c9c9" fill-opacity="0.9"/>
<circle cx="550" cy="814.2" r="1.1" fill="#c9c9c9" fill-opacity="0.9"/>
<circle cx="537.4" cy="818.7" r="1.1" fill="#c9c9c9" fill-opacity="0.9"/>
<circle cx="538" cy="817.7" r="1.1" fill="#c9c9c9" fill-opacity="0.9"/>
<circle cx="535.2" cy="824.5" r="1.1" fill="#c9c9c9" fill-opacity="0.9"/>
<circle cx="534.3" cy="796.8" r="1.1" fill="#c9c9c9" fill-opacity="0.9"/>
<circle cx="534.2" cy="815.8" r="1.1" fill="#c9c9c9" fill-opacity="0.9"/>
<circle cx="538.5" cy="816.2" r="1.1" fill="#c9c9c9" fill-opacity="0.9"/>
<circle cx="545.2" cy="789.1" r="1.1" fill="#c9c9c9" fill-opacity="0.9"/>
<circle cx="549.5" cy="800.1" r="1.1" fill="#c9c9c9" fill-opacity="0.9"/>
<circle cx="541.1" cy="821.6" r="1.1" fill="#c9c9c9" fill-opacity="0.9"/>
<circle cx="543.5" cy="819.5" r="1.1" fill="#c9c9c9" fill-opacity="0.9"/>
<circle cx="549.1" cy="827" r="1.1" fill="#c9c9c9" fill-opacity="0.9"/>
<circle cx="549.8" cy="814.3" r="1.1" fill="#c9c9c9" fill-opacity="0.9"/>
<circle cx="535.6" cy="825.3" r="1.1" fill="#c9c9c9" fill-opacity="0.9"/>
<circle cx="543.9" cy="791.6" r="1.1" fill="#c9c9c9" fill-opacity="0.9"/>
<circle cx="544.6" cy="820.6" r="1.1" fill="#c9c9c9" fill-opacity="0.9"/>
<circle cx="535.5" cy="797.6" r="1.1" fill="#c9c9c9" fill-opacity="0.9"/>
<circle cx="533.6" cy="805.6" r="1.1" fill="#c9c9c9" fill-opacity="0.9"/>
<circle cx="551.3" cy="818.6" r="1.1" fill="#c9c9c9" fill-opacity="0.9"/>
<circle cx="534.9" cy="811.3" r="1.1" fill="#c9c9c9" fill-opacity="0.9"/>
<circle cx="545.2" cy="819.3" r="1.1" fill="#c9c9c9" fill-opacity="0.9"/>
<circle cx="541.7" cy="787.4" r="1.1" fill="#c9c9c9" fill-opacity="0.9"/>
<circle cx="546.6" cy="821.2" r="1.1" fill="#c9c9c9" fill-opacity="0.9"/>
<circle cx="551.7" cy="823.1" r="1.1" fill="#c9c9c9" fill-opacity="0.9"/>
<circle cx="567.1" cy="863.7" r="1.1" fill="#c9c9c9" fill-opacity="0.9"/>
<circle cx="569.3" cy="863.1" r="1.1" fill="#c9c9c9" fill-opacity="0.9"/>
<circle cx="576.1" cy="862.3" r="1.1" fill="#c9c9c9" fill-opacity="0.9"/>
<circle cx="575.7" cy="861.1" r="1.1" fill="#c9c9c9" fill-opacity="0.9"/>
<circle cx="582.6" cy="859.3" r="1.1" fill="#c9c9c9" fill-opacity="0.9"/>
<circle cx="578.3" cy="857.1" r="1.1" fill="#c9c9c9" fill-opacity="0.9"/>
<circle cx="572.1" cy="854.4" r="1.1" fill="#c9c9c9" fill-opacity="0.9"/>
<circle cx="580" cy="852.2" r="1.1" fill="#c9c9c9" fill-opacity="0.9"/>
<circle cx="565.2" cy="835.7" r="1.1" fill="#c9c9c9" fill-opacity="0.9"/>
<line x1="486.5" y1="886.5" x2="486.5" y2="870.4" stroke="#111" stroke-width="0.9"/>
<line x1="486.5" y1="854.3" x2="486.5" y2="832.1" stroke="#111" stroke-width="0.9"/>
<rect x="484.2" y="854.3" width="4.6" height="16.1" fill="#ffffff" stroke="#111" stroke-width="0.8"/>
<line x1="484.2" y1="862.7" x2="488.8" y2="862.7" stroke="#111" stroke-width="0.9"/>
<line x1="515.1" y1="887.7" x2="515.1" y2="874.8" stroke="#111" stroke-width="0.9"/>
<line x1="515.1" y1="843.9" x2="515.1" y2="825" stroke="#111" stroke-width="0.9"/>
<rect x="512.8" y="843.9" width="4.6" height="30.9" fill="#ffffff" stroke="#111" stroke-width="0.8"/>
<line x1="512.8" y1="860.6" x2="517.4" y2="860.6" stroke="#111" stroke-width="0.9"/>
<line x1="543" y1="880.9" x2="543" y2="850.7" stroke="#111" stroke-width="0.9"/>
<line x1="543" y1="827.2" x2="543" y2="792.3" stroke="#111" stroke-width="0.9"/>
<rect x="540.7" y="827.2" width="4.6" height="23.5" fill="#ffffff" stroke="#111" stroke-width="0.8"/>
<line x1="540.7" y1="838.3" x2="545.3" y2="838.3" stroke="#111" stroke-width="0.9"/>
<line x1="572.4" y1="863.7" x2="572.4" y2="861.1" stroke="#111" stroke-width="0.9"/>
<line x1="572.4" y1="852.2" x2="572.4" y2="852.2" stroke="#111" stroke-width="0.9"/>
<rect x="570.1" y="852.2" width="4.6" height="8.8" fill="#ffffff" stroke="#111" stroke-width="0.8"/>
<line x1="570.1" y1="857.1" x2="574.7" y2="857.1" stroke="#111" stroke-width="0.9"/>
<line x1="468.6" y1="781.5" x2="468.6" y2="892.4" stroke="#262626" stroke-width="1.1"/>
<line x1="468.1" y1="891.9" x2="591.3" y2="891.9" stroke="#262626" stroke-width="1.1"/>
<line x1="466.2" y1="887.7" x2="468.6" y2="887.7" stroke="#262626" stroke-width="1"/>
<text x="464.6" y="890.8" font-size="8.7" fill="#4d4d4d" text-anchor="end">0</text>
<line x1="466.2" y1="863.5" x2="468.6" y2="863.5" stroke="#262626" stroke-width="1"/>
<text x="464.6" y="866.6" font-size="8.7" fill="#4d4d4d" text-anchor="end">20</text>
<line x1="466.2" y1="839.3" x2="468.6" y2="839.3" stroke="#262626" stroke-width="1"/>
<text x="464.6" y="842.4" font-size="8.7" fill="#4d4d4d" text-anchor="end">40</text>
<line x1="466.2" y1="815.1" x2="468.6" y2="815.1" stroke="#262626" stroke-width="1"/>
<text x="464.6" y="818.2" font-size="8.7" fill="#4d4d4d" text-anchor="end">60</text>
<line x1="466.2" y1="790.9" x2="468.6" y2="790.9" stroke="#262626" stroke-width="1"/>
<text x="464.6" y="794" font-size="8.7" fill="#4d4d4d" text-anchor="end">80</text>
<text x="435.2" y="836.7" font-size="8.5" fill="#000" text-anchor="middle" transform="rotate(-90 435.2 836.7)">percent of variance in fitness</text>
<text x="444.8" y="836.7" font-size="8.5" fill="#000" text-anchor="middle" transform="rotate(-90 444.8 836.7)">explained by protein stability</text>
<text x="486.5" y="781.5" font-size="7.2" fill="#000" text-anchor="middle">n=108</text>
<text x="515.1" y="781.5" font-size="7.2" fill="#000" text-anchor="middle">n=56</text>
<text x="543" y="781.5" font-size="7.2" fill="#000" text-anchor="middle">n=189</text>
<text x="572.4" y="781.5" font-size="7.2" fill="#000" text-anchor="middle">n=9</text>
<line x1="486.6" y1="891.9" x2="486.6" y2="894.5" stroke="#262626" stroke-width="1"/>
<text x="488.2" y="897.3" font-size="8.7" fill="#4d4d4d" text-anchor="end" transform="rotate(-90 488.2 897.3)">DNA binding</text>
<line x1="515.2" y1="891.9" x2="515.2" y2="894.5" stroke="#262626" stroke-width="1"/>
<text x="516.8" y="897.3" font-size="8.7" fill="#4d4d4d" text-anchor="end" transform="rotate(-90 516.8 897.3)">other/multiple</text>
<line x1="544.2" y1="891.9" x2="544.2" y2="894.5" stroke="#262626" stroke-width="1"/>
<text x="545.8" y="897.3" font-size="8.7" fill="#4d4d4d" text-anchor="end" transform="rotate(-90 545.8 897.3)">protein binding</text>
<line x1="573" y1="891.9" x2="573" y2="894.5" stroke="#262626" stroke-width="1"/>
<text x="574.6" y="897.3" font-size="8.7" fill="#4d4d4d" text-anchor="end" transform="rotate(-90 574.6 897.3)">RNA binding</text>
</svg>
</body></html>
